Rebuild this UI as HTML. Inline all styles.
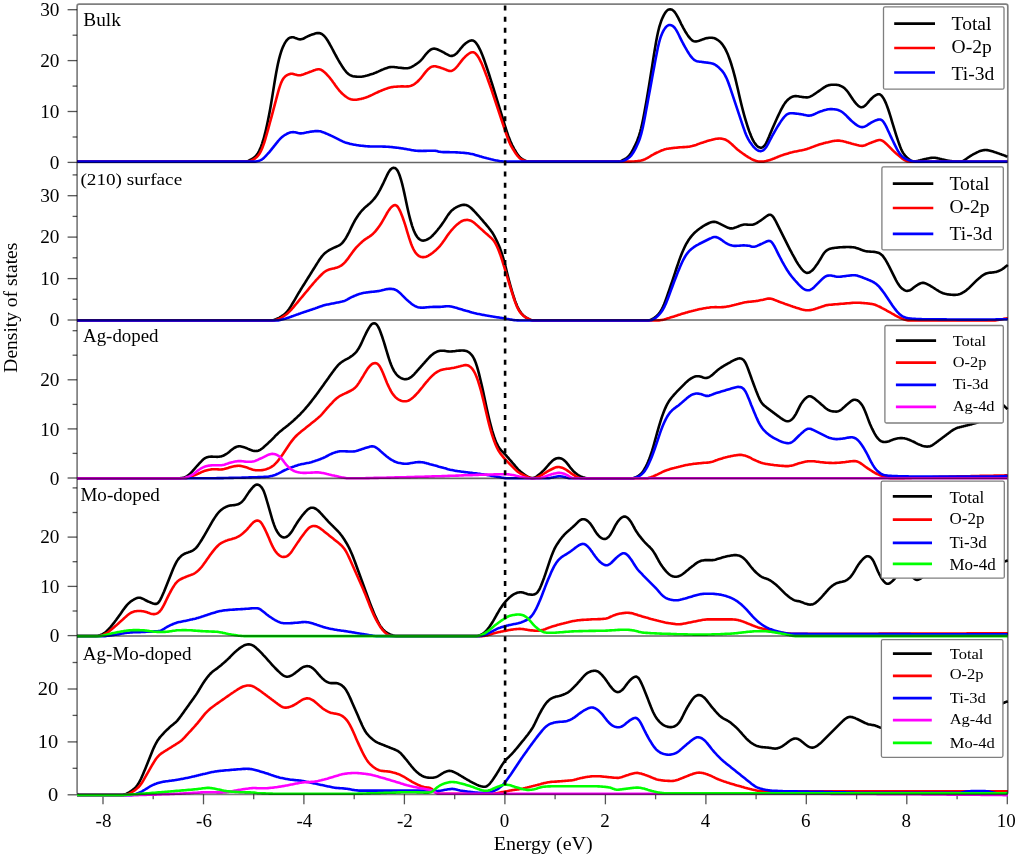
<!DOCTYPE html>
<html><head><meta charset="utf-8"><title>Density of states</title>
<style>html,body{margin:0;padding:0;background:#fff}body{width:1020px;height:859px;overflow:hidden}</style>
</head><body>
<svg width="1020" height="859" viewBox="0 0 1020 859" style="display:block">
<rect width="1020" height="859" fill="#ffffff"/>
<line x1="67.6" y1="162.4" x2="77.1" y2="162.4" stroke="#555555" stroke-width="1.3"/>
<line x1="67.6" y1="111.5" x2="77.1" y2="111.5" stroke="#555555" stroke-width="1.3"/>
<line x1="67.6" y1="60.6" x2="77.1" y2="60.6" stroke="#555555" stroke-width="1.3"/>
<line x1="67.6" y1="9.7" x2="77.1" y2="9.7" stroke="#555555" stroke-width="1.3"/>
<line x1="72.6" y1="137.0" x2="77.1" y2="137.0" stroke="#555555" stroke-width="1.3"/>
<line x1="72.6" y1="86.1" x2="77.1" y2="86.1" stroke="#555555" stroke-width="1.3"/>
<line x1="72.6" y1="35.2" x2="77.1" y2="35.2" stroke="#555555" stroke-width="1.3"/>
<text transform="translate(59.5,168.9) scale(1,0.99)" text-anchor="end" font-size="19.3" font-family="Liberation Serif, Times New Roman, serif" fill="#000">0</text>
<text transform="translate(59.5,118.0) scale(1,0.99)" text-anchor="end" font-size="19.3" font-family="Liberation Serif, Times New Roman, serif" fill="#000">10</text>
<text transform="translate(59.5,67.1) scale(1,0.99)" text-anchor="end" font-size="19.3" font-family="Liberation Serif, Times New Roman, serif" fill="#000">20</text>
<text transform="translate(59.5,16.2) scale(1,0.99)" text-anchor="end" font-size="19.3" font-family="Liberation Serif, Times New Roman, serif" fill="#000">30</text>
<line x1="67.6" y1="320.0" x2="77.1" y2="320.0" stroke="#555555" stroke-width="1.3"/>
<line x1="67.6" y1="278.6" x2="77.1" y2="278.6" stroke="#555555" stroke-width="1.3"/>
<line x1="67.6" y1="237.1" x2="77.1" y2="237.1" stroke="#555555" stroke-width="1.3"/>
<line x1="67.6" y1="195.7" x2="77.1" y2="195.7" stroke="#555555" stroke-width="1.3"/>
<line x1="72.6" y1="299.3" x2="77.1" y2="299.3" stroke="#555555" stroke-width="1.3"/>
<line x1="72.6" y1="257.8" x2="77.1" y2="257.8" stroke="#555555" stroke-width="1.3"/>
<line x1="72.6" y1="216.4" x2="77.1" y2="216.4" stroke="#555555" stroke-width="1.3"/>
<line x1="72.6" y1="174.9" x2="77.1" y2="174.9" stroke="#555555" stroke-width="1.3"/>
<text transform="translate(59.5,326.3) scale(1,0.96)" text-anchor="end" font-size="19.3" font-family="Liberation Serif, Times New Roman, serif" fill="#000">0</text>
<text transform="translate(59.5,284.9) scale(1,0.96)" text-anchor="end" font-size="19.3" font-family="Liberation Serif, Times New Roman, serif" fill="#000">10</text>
<text transform="translate(59.5,243.4) scale(1,0.96)" text-anchor="end" font-size="19.3" font-family="Liberation Serif, Times New Roman, serif" fill="#000">20</text>
<text transform="translate(59.5,202.0) scale(1,0.96)" text-anchor="end" font-size="19.3" font-family="Liberation Serif, Times New Roman, serif" fill="#000">30</text>
<line x1="67.6" y1="478.0" x2="77.1" y2="478.0" stroke="#555555" stroke-width="1.3"/>
<line x1="67.6" y1="428.9" x2="77.1" y2="428.9" stroke="#555555" stroke-width="1.3"/>
<line x1="67.6" y1="379.8" x2="77.1" y2="379.8" stroke="#555555" stroke-width="1.3"/>
<line x1="72.6" y1="453.4" x2="77.1" y2="453.4" stroke="#555555" stroke-width="1.3"/>
<line x1="72.6" y1="404.4" x2="77.1" y2="404.4" stroke="#555555" stroke-width="1.3"/>
<line x1="72.6" y1="355.2" x2="77.1" y2="355.2" stroke="#555555" stroke-width="1.3"/>
<line x1="72.6" y1="330.7" x2="77.1" y2="330.7" stroke="#555555" stroke-width="1.3"/>
<text transform="translate(59.5,484.6) scale(1,1.0)" text-anchor="end" font-size="19.3" font-family="Liberation Serif, Times New Roman, serif" fill="#000">0</text>
<text transform="translate(59.5,435.5) scale(1,1.0)" text-anchor="end" font-size="19.3" font-family="Liberation Serif, Times New Roman, serif" fill="#000">10</text>
<text transform="translate(59.5,386.4) scale(1,1.0)" text-anchor="end" font-size="19.3" font-family="Liberation Serif, Times New Roman, serif" fill="#000">20</text>
<line x1="67.6" y1="635.6" x2="77.1" y2="635.6" stroke="#555555" stroke-width="1.3"/>
<line x1="67.6" y1="586.4" x2="77.1" y2="586.4" stroke="#555555" stroke-width="1.3"/>
<line x1="67.6" y1="537.1" x2="77.1" y2="537.1" stroke="#555555" stroke-width="1.3"/>
<line x1="72.6" y1="611.0" x2="77.1" y2="611.0" stroke="#555555" stroke-width="1.3"/>
<line x1="72.6" y1="561.7" x2="77.1" y2="561.7" stroke="#555555" stroke-width="1.3"/>
<line x1="72.6" y1="512.5" x2="77.1" y2="512.5" stroke="#555555" stroke-width="1.3"/>
<line x1="72.6" y1="487.9" x2="77.1" y2="487.9" stroke="#555555" stroke-width="1.3"/>
<text transform="translate(59.5,641.9) scale(1,0.95)" text-anchor="end" font-size="19.3" font-family="Liberation Serif, Times New Roman, serif" fill="#000">0</text>
<text transform="translate(59.5,592.6) scale(1,0.95)" text-anchor="end" font-size="19.3" font-family="Liberation Serif, Times New Roman, serif" fill="#000">10</text>
<text transform="translate(59.5,543.4) scale(1,0.95)" text-anchor="end" font-size="19.3" font-family="Liberation Serif, Times New Roman, serif" fill="#000">20</text>
<line x1="67.6" y1="794.8" x2="77.1" y2="794.8" stroke="#555555" stroke-width="1.3"/>
<line x1="67.6" y1="741.9" x2="77.1" y2="741.9" stroke="#555555" stroke-width="1.3"/>
<line x1="67.6" y1="689.0" x2="77.1" y2="689.0" stroke="#555555" stroke-width="1.3"/>
<line x1="72.6" y1="768.3" x2="77.1" y2="768.3" stroke="#555555" stroke-width="1.3"/>
<line x1="72.6" y1="715.4" x2="77.1" y2="715.4" stroke="#555555" stroke-width="1.3"/>
<line x1="72.6" y1="662.5" x2="77.1" y2="662.5" stroke="#555555" stroke-width="1.3"/>
<text transform="translate(58.2,801.2) scale(1,0.97)" text-anchor="end" font-size="20.5" font-family="Liberation Serif, Times New Roman, serif" fill="#000">0</text>
<text transform="translate(58.2,748.3) scale(1,0.97)" text-anchor="end" font-size="20.5" font-family="Liberation Serif, Times New Roman, serif" fill="#000">10</text>
<text transform="translate(58.2,695.4) scale(1,0.97)" text-anchor="end" font-size="20.5" font-family="Liberation Serif, Times New Roman, serif" fill="#000">20</text>
<line x1="103.0" y1="794.3" x2="103.0" y2="804.3" stroke="#555555" stroke-width="1.3"/>
<text x="103.5" y="827.3" text-anchor="middle" font-size="19" font-family="Liberation Serif, Times New Roman, serif" fill="#000">-8</text>
<line x1="153.2" y1="794.3" x2="153.2" y2="799.3" stroke="#555555" stroke-width="1.3"/>
<line x1="203.5" y1="794.3" x2="203.5" y2="804.3" stroke="#555555" stroke-width="1.3"/>
<text x="204.0" y="827.3" text-anchor="middle" font-size="19" font-family="Liberation Serif, Times New Roman, serif" fill="#000">-6</text>
<line x1="253.7" y1="794.3" x2="253.7" y2="799.3" stroke="#555555" stroke-width="1.3"/>
<line x1="303.9" y1="794.3" x2="303.9" y2="804.3" stroke="#555555" stroke-width="1.3"/>
<text x="304.4" y="827.3" text-anchor="middle" font-size="19" font-family="Liberation Serif, Times New Roman, serif" fill="#000">-4</text>
<line x1="354.2" y1="794.3" x2="354.2" y2="799.3" stroke="#555555" stroke-width="1.3"/>
<line x1="404.4" y1="794.3" x2="404.4" y2="804.3" stroke="#555555" stroke-width="1.3"/>
<text x="404.9" y="827.3" text-anchor="middle" font-size="19" font-family="Liberation Serif, Times New Roman, serif" fill="#000">-2</text>
<line x1="454.7" y1="794.3" x2="454.7" y2="799.3" stroke="#555555" stroke-width="1.3"/>
<line x1="504.9" y1="794.3" x2="504.9" y2="804.3" stroke="#555555" stroke-width="1.3"/>
<text x="504.4" y="827.3" text-anchor="middle" font-size="19" font-family="Liberation Serif, Times New Roman, serif" fill="#000">0</text>
<line x1="555.1" y1="794.3" x2="555.1" y2="799.3" stroke="#555555" stroke-width="1.3"/>
<line x1="605.4" y1="794.3" x2="605.4" y2="804.3" stroke="#555555" stroke-width="1.3"/>
<text x="604.9" y="827.3" text-anchor="middle" font-size="19" font-family="Liberation Serif, Times New Roman, serif" fill="#000">2</text>
<line x1="655.6" y1="794.3" x2="655.6" y2="799.3" stroke="#555555" stroke-width="1.3"/>
<line x1="705.9" y1="794.3" x2="705.9" y2="804.3" stroke="#555555" stroke-width="1.3"/>
<text x="705.4" y="827.3" text-anchor="middle" font-size="19" font-family="Liberation Serif, Times New Roman, serif" fill="#000">4</text>
<line x1="756.1" y1="794.3" x2="756.1" y2="799.3" stroke="#555555" stroke-width="1.3"/>
<line x1="806.3" y1="794.3" x2="806.3" y2="804.3" stroke="#555555" stroke-width="1.3"/>
<text x="805.8" y="827.3" text-anchor="middle" font-size="19" font-family="Liberation Serif, Times New Roman, serif" fill="#000">6</text>
<line x1="856.6" y1="794.3" x2="856.6" y2="799.3" stroke="#555555" stroke-width="1.3"/>
<line x1="906.8" y1="794.3" x2="906.8" y2="804.3" stroke="#555555" stroke-width="1.3"/>
<text x="906.3" y="827.3" text-anchor="middle" font-size="19" font-family="Liberation Serif, Times New Roman, serif" fill="#000">8</text>
<line x1="957.1" y1="794.3" x2="957.1" y2="799.3" stroke="#555555" stroke-width="1.3"/>
<line x1="1007.3" y1="794.3" x2="1007.3" y2="804.3" stroke="#555555" stroke-width="1.3"/>
<text x="1015.8" y="827.3" text-anchor="end" font-size="19" font-family="Liberation Serif, Times New Roman, serif" fill="#000">10</text>
<text transform="translate(543.2,849.5) scale(1,0.93)" text-anchor="middle" font-size="20" font-family="Liberation Serif, Times New Roman, serif" fill="#000">Energy (eV)</text>
<text transform="translate(17.4,307.7) rotate(-90)" text-anchor="middle" font-size="19.5" font-family="Liberation Serif, Times New Roman, serif" fill="#000">Density of states</text>
<g fill="none" stroke-width="2.6" stroke-linejoin="round" stroke-linecap="butt">
<path d="M77.1,161.6 L78.1,161.6 L79.1,161.6 L80.1,161.6 L81.1,161.6 L82.1,161.6 L83.1,161.6 L84.1,161.6 L85.1,161.6 L86.1,161.6 L87.1,161.6 L88.1,161.6 L89.1,161.6 L90.1,161.6 L91.1,161.6 L92.1,161.6 L93.1,161.6 L94.1,161.6 L95.1,161.6 L96.1,161.6 L97.1,161.6 L98.1,161.6 L99.1,161.6 L100.1,161.6 L101.1,161.6 L102.1,161.6 L103.1,161.6 L104.1,161.6 L105.1,161.6 L106.1,161.6 L107.1,161.6 L108.1,161.6 L109.1,161.6 L110.1,161.6 L111.1,161.6 L112.1,161.6 L113.1,161.6 L114.1,161.6 L115.1,161.6 L116.1,161.6 L117.1,161.6 L118.1,161.6 L119.1,161.6 L120.1,161.6 L121.1,161.6 L122.1,161.6 L123.1,161.6 L124.1,161.6 L125.1,161.6 L126.1,161.6 L127.1,161.6 L128.1,161.6 L129.1,161.6 L130.1,161.6 L131.1,161.6 L132.1,161.6 L133.1,161.6 L134.1,161.6 L135.1,161.6 L136.1,161.6 L137.1,161.6 L138.1,161.6 L139.1,161.6 L140.1,161.6 L141.1,161.6 L142.1,161.6 L143.1,161.6 L144.1,161.6 L145.1,161.6 L146.1,161.6 L147.1,161.6 L148.1,161.6 L149.1,161.6 L150.1,161.6 L151.1,161.6 L152.1,161.6 L153.1,161.6 L154.1,161.6 L155.1,161.6 L156.1,161.6 L157.1,161.6 L158.1,161.6 L159.1,161.6 L160.1,161.6 L161.1,161.6 L162.1,161.6 L163.1,161.6 L164.1,161.6 L165.1,161.6 L166.1,161.6 L167.1,161.6 L168.1,161.6 L169.1,161.6 L170.1,161.6 L171.1,161.6 L172.1,161.6 L173.1,161.6 L174.1,161.6 L175.1,161.6 L176.1,161.6 L177.1,161.6 L178.1,161.6 L179.1,161.6 L180.1,161.6 L181.1,161.6 L182.1,161.6 L183.1,161.6 L184.1,161.6 L185.1,161.6 L186.1,161.6 L187.1,161.6 L188.1,161.6 L189.1,161.6 L190.1,161.6 L191.1,161.6 L192.1,161.6 L193.1,161.6 L194.1,161.6 L195.1,161.6 L196.1,161.6 L197.1,161.6 L198.1,161.6 L199.1,161.6 L200.1,161.6 L201.1,161.6 L202.1,161.6 L203.1,161.6 L204.1,161.6 L205.1,161.6 L206.1,161.6 L207.1,161.6 L208.1,161.6 L209.1,161.6 L210.1,161.6 L211.1,161.6 L212.1,161.6 L213.1,161.6 L214.1,161.6 L215.1,161.6 L216.1,161.6 L217.1,161.6 L218.1,161.6 L219.1,161.6 L220.1,161.6 L221.1,161.6 L222.1,161.6 L223.1,161.6 L224.1,161.6 L225.1,161.6 L226.1,161.6 L227.1,161.6 L228.1,161.6 L229.1,161.6 L230.1,161.6 L231.1,161.6 L232.1,161.6 L233.1,161.6 L234.1,161.6 L235.1,161.6 L236.1,161.6 L237.1,161.6 L238.1,161.6 L239.1,161.6 L240.1,161.6 L241.1,161.6 L242.1,161.6 L243.1,161.6 L244.1,161.6 L245.1,161.6 L246.1,161.5 L247.1,161.2 L248.1,160.9 L249.1,160.5 L250.1,160.0 L251.1,159.5 L252.1,158.9 L253.1,158.2 L254.1,157.5 L255.1,156.6 L256.1,155.6 L257.1,154.4 L258.1,152.9 L259.1,151.0 L260.1,148.9 L261.1,146.4 L262.1,143.6 L263.1,140.5 L264.1,137.0 L265.1,133.2 L266.1,129.0 L267.1,124.5 L268.1,119.8 L269.1,114.7 L270.1,109.4 L271.1,103.7 L272.1,97.6 L273.1,91.4 L274.1,85.1 L275.1,79.0 L276.1,73.2 L277.1,67.9 L278.1,63.1 L279.1,58.8 L280.1,55.1 L281.1,51.8 L282.1,49.0 L283.1,46.6 L284.1,44.5 L285.1,42.6 L286.1,41.1 L287.1,39.8 L288.1,38.8 L289.1,38.1 L290.1,37.6 L291.1,37.4 L292.1,37.3 L293.1,37.3 L294.1,37.5 L295.1,37.9 L296.1,38.2 L297.1,38.6 L298.1,39.0 L299.1,39.3 L300.1,39.4 L301.1,39.3 L302.1,39.1 L303.1,38.7 L304.1,38.3 L305.1,37.7 L306.1,37.2 L307.1,36.7 L308.1,36.1 L309.1,35.7 L310.1,35.3 L311.1,34.9 L312.1,34.5 L313.1,34.2 L314.1,33.9 L315.1,33.6 L316.1,33.3 L317.1,33.1 L318.1,33.1 L319.1,33.1 L320.1,33.3 L321.1,33.7 L322.1,34.2 L323.1,35.0 L324.1,35.9 L325.1,37.0 L326.1,38.3 L327.1,39.7 L328.1,41.3 L329.1,43.0 L330.1,44.8 L331.1,46.6 L332.1,48.5 L333.1,50.4 L334.1,52.3 L335.1,54.2 L336.1,56.0 L337.1,57.8 L338.1,59.6 L339.1,61.3 L340.1,63.0 L341.1,64.6 L342.1,66.2 L343.1,67.7 L344.1,69.2 L345.1,70.5 L346.1,71.8 L347.1,72.8 L348.1,73.7 L349.1,74.5 L350.1,75.1 L351.1,75.6 L352.1,75.9 L353.1,76.2 L354.1,76.4 L355.1,76.5 L356.1,76.6 L357.1,76.7 L358.1,76.7 L359.1,76.7 L360.1,76.7 L361.1,76.7 L362.1,76.6 L363.1,76.4 L364.1,76.2 L365.1,76.0 L366.1,75.7 L367.1,75.5 L368.1,75.2 L369.1,74.9 L370.1,74.6 L371.1,74.3 L372.1,74.0 L373.1,73.7 L374.1,73.3 L375.1,72.9 L376.1,72.5 L377.1,72.0 L378.1,71.6 L379.1,71.1 L380.1,70.7 L381.1,70.2 L382.1,69.8 L383.1,69.4 L384.1,68.9 L385.1,68.6 L386.1,68.2 L387.1,67.9 L388.1,67.6 L389.1,67.3 L390.1,67.1 L391.1,67.0 L392.1,67.0 L393.1,67.0 L394.1,67.0 L395.1,67.2 L396.1,67.3 L397.1,67.4 L398.1,67.6 L399.1,67.7 L400.1,67.8 L401.1,67.9 L402.1,68.0 L403.1,68.1 L404.1,68.2 L405.1,68.2 L406.1,68.3 L407.1,68.2 L408.1,68.1 L409.1,67.9 L410.1,67.6 L411.1,67.2 L412.1,66.7 L413.1,66.1 L414.1,65.5 L415.1,64.8 L416.1,64.2 L417.1,63.5 L418.1,62.8 L419.1,62.0 L420.1,61.1 L421.1,60.1 L422.1,59.0 L423.1,57.8 L424.1,56.5 L425.1,55.2 L426.1,54.0 L427.1,52.8 L428.1,51.8 L429.1,50.9 L430.1,50.1 L431.1,49.4 L432.1,49.0 L433.1,48.7 L434.1,48.6 L435.1,48.7 L436.1,49.0 L437.1,49.3 L438.1,49.7 L439.1,50.2 L440.1,50.6 L441.1,51.1 L442.1,51.6 L443.1,52.2 L444.1,52.7 L445.1,53.3 L446.1,53.9 L447.1,54.4 L448.1,54.9 L449.1,55.4 L450.1,55.7 L451.1,55.9 L452.1,55.9 L453.1,55.6 L454.1,55.2 L455.1,54.6 L456.1,53.8 L457.1,52.8 L458.1,51.7 L459.1,50.5 L460.1,49.2 L461.1,48.0 L462.1,46.8 L463.1,45.7 L464.1,44.7 L465.1,43.8 L466.1,43.0 L467.1,42.3 L468.1,41.7 L469.1,41.2 L470.1,40.7 L471.1,40.5 L472.1,40.4 L473.1,40.6 L474.1,41.1 L475.1,41.9 L476.1,43.0 L477.1,44.4 L478.1,46.0 L479.1,47.8 L480.1,49.8 L481.1,52.0 L482.1,54.4 L483.1,57.0 L484.1,59.7 L485.1,62.6 L486.1,65.5 L487.1,68.5 L488.1,71.5 L489.1,74.5 L490.1,77.6 L491.1,80.8 L492.1,84.0 L493.1,87.2 L494.1,90.5 L495.1,93.7 L496.1,97.0 L497.1,100.2 L498.1,103.5 L499.1,106.7 L500.1,110.0 L501.1,113.2 L502.1,116.5 L503.1,119.7 L504.1,123.0 L505.1,126.2 L506.1,129.4 L507.1,132.5 L508.1,135.4 L509.1,138.1 L510.1,140.6 L511.1,142.9 L512.1,145.0 L513.1,146.9 L514.1,148.8 L515.1,150.5 L516.1,152.2 L517.1,153.7 L518.1,155.1 L519.1,156.3 L520.1,157.4 L521.1,158.2 L522.1,159.0 L523.1,159.6 L524.1,160.2 L525.1,160.6 L526.1,161.0 L527.1,161.3 L528.1,161.4 L529.1,161.5 L530.1,161.6 L531.1,161.6 L532.1,161.6 L533.1,161.6 L534.1,161.6 L535.1,161.6 L536.1,161.6 L537.1,161.6 L538.1,161.6 L539.1,161.6 L540.1,161.6 L541.1,161.6 L542.1,161.6 L543.1,161.6 L544.1,161.6 L545.1,161.6 L546.1,161.6 L547.1,161.6 L548.1,161.6 L549.1,161.6 L550.1,161.6 L551.1,161.6 L552.1,161.6 L553.1,161.6 L554.1,161.6 L555.1,161.6 L556.1,161.6 L557.1,161.6 L558.1,161.6 L559.1,161.6 L560.1,161.6 L561.1,161.6 L562.1,161.6 L563.1,161.6 L564.1,161.6 L565.1,161.6 L566.1,161.6 L567.1,161.6 L568.1,161.6 L569.1,161.6 L570.1,161.6 L571.1,161.6 L572.1,161.6 L573.1,161.6 L574.1,161.6 L575.1,161.6 L576.1,161.6 L577.1,161.6 L578.1,161.6 L579.1,161.6 L580.1,161.6 L581.1,161.6 L582.1,161.6 L583.1,161.6 L584.1,161.6 L585.1,161.6 L586.1,161.6 L587.1,161.6 L588.1,161.6 L589.1,161.6 L590.1,161.6 L591.1,161.6 L592.1,161.6 L593.1,161.6 L594.1,161.6 L595.1,161.6 L596.1,161.6 L597.1,161.6 L598.1,161.6 L599.1,161.6 L600.1,161.6 L601.1,161.6 L602.1,161.6 L603.1,161.6 L604.1,161.6 L605.1,161.6 L606.1,161.6 L607.1,161.6 L608.1,161.6 L609.1,161.6 L610.1,161.6 L611.1,161.6 L612.1,161.6 L613.1,161.6 L614.1,161.6 L615.1,161.6 L616.1,161.6 L617.1,161.6 L618.1,161.5 L619.1,161.4 L620.1,161.2 L621.1,160.9 L622.1,160.5 L623.1,160.0 L624.1,159.5 L625.1,158.9 L626.1,158.3 L627.1,157.6 L628.1,156.7 L629.1,155.6 L630.1,154.4 L631.1,152.9 L632.1,151.2 L633.1,149.4 L634.1,147.4 L635.1,145.4 L636.1,143.2 L637.1,140.9 L638.1,138.3 L639.1,135.4 L640.1,132.1 L641.1,128.3 L642.1,124.0 L643.1,119.3 L644.1,114.1 L645.1,108.6 L646.1,102.9 L647.1,97.1 L648.1,91.1 L649.1,85.1 L650.1,79.0 L651.1,72.7 L652.1,66.4 L653.1,60.0 L654.1,53.7 L655.1,47.6 L656.1,41.8 L657.1,36.5 L658.1,31.8 L659.1,27.7 L660.1,24.3 L661.1,21.3 L662.1,18.8 L663.1,16.6 L664.1,14.6 L665.1,13.0 L666.1,11.6 L667.1,10.5 L668.1,9.8 L669.1,9.4 L670.1,9.2 L671.1,9.4 L672.1,9.8 L673.1,10.5 L674.1,11.4 L675.1,12.6 L676.1,14.1 L677.1,15.8 L678.1,17.7 L679.1,19.7 L680.1,21.7 L681.1,23.8 L682.1,25.7 L683.1,27.6 L684.1,29.4 L685.1,31.2 L686.1,32.8 L687.1,34.4 L688.1,35.9 L689.1,37.2 L690.1,38.4 L691.1,39.4 L692.1,40.3 L693.1,40.9 L694.1,41.2 L695.1,41.4 L696.1,41.5 L697.1,41.3 L698.1,41.1 L699.1,40.8 L700.1,40.4 L701.1,40.0 L702.1,39.6 L703.1,39.2 L704.1,38.9 L705.1,38.6 L706.1,38.3 L707.1,38.1 L708.1,38.0 L709.1,37.8 L710.1,37.7 L711.1,37.7 L712.1,37.7 L713.1,37.9 L714.1,38.1 L715.1,38.5 L716.1,39.0 L717.1,39.6 L718.1,40.3 L719.1,41.0 L720.1,41.9 L721.1,42.9 L722.1,44.1 L723.1,45.5 L724.1,47.0 L725.1,48.7 L726.1,50.7 L727.1,52.8 L728.1,55.1 L729.1,57.7 L730.1,60.5 L731.1,63.5 L732.1,66.8 L733.1,70.2 L734.1,73.9 L735.1,77.7 L736.1,81.8 L737.1,86.0 L738.1,90.3 L739.1,94.7 L740.1,99.0 L741.1,103.2 L742.1,107.2 L743.1,111.1 L744.1,114.8 L745.1,118.3 L746.1,121.7 L747.1,124.9 L748.1,128.0 L749.1,130.9 L750.1,133.6 L751.1,136.1 L752.1,138.3 L753.1,140.3 L754.1,142.1 L755.1,143.6 L756.1,144.9 L757.1,146.0 L758.1,146.8 L759.1,147.3 L760.1,147.6 L761.1,147.7 L762.1,147.4 L763.1,146.9 L764.1,146.0 L765.1,144.8 L766.1,143.1 L767.1,141.1 L768.1,138.9 L769.1,136.6 L770.1,134.1 L771.1,131.7 L772.1,129.3 L773.1,127.0 L774.1,124.7 L775.1,122.4 L776.1,120.2 L777.1,118.0 L778.1,115.9 L779.1,113.8 L780.1,111.7 L781.1,109.7 L782.1,107.8 L783.1,106.0 L784.1,104.4 L785.1,102.9 L786.1,101.6 L787.1,100.5 L788.1,99.5 L789.1,98.7 L790.1,97.9 L791.1,97.3 L792.1,96.8 L793.1,96.5 L794.1,96.2 L795.1,96.1 L796.1,96.1 L797.1,96.2 L798.1,96.3 L799.1,96.5 L800.1,96.7 L801.1,96.8 L802.1,97.0 L803.1,97.1 L804.1,97.2 L805.1,97.3 L806.1,97.4 L807.1,97.4 L808.1,97.2 L809.1,97.0 L810.1,96.6 L811.1,96.1 L812.1,95.6 L813.1,95.0 L814.1,94.3 L815.1,93.7 L816.1,93.0 L817.1,92.3 L818.1,91.6 L819.1,90.9 L820.1,90.2 L821.1,89.5 L822.1,88.8 L823.1,88.1 L824.1,87.4 L825.1,86.8 L826.1,86.2 L827.1,85.8 L828.1,85.4 L829.1,85.1 L830.1,85.0 L831.1,84.8 L832.1,84.8 L833.1,84.7 L834.1,84.7 L835.1,84.7 L836.1,84.8 L837.1,84.9 L838.1,85.1 L839.1,85.3 L840.1,85.7 L841.1,86.1 L842.1,86.6 L843.1,87.2 L844.1,87.9 L845.1,88.8 L846.1,89.8 L847.1,91.0 L848.1,92.3 L849.1,93.7 L850.1,95.2 L851.1,96.7 L852.1,98.2 L853.1,99.7 L854.1,101.1 L855.1,102.4 L856.1,103.6 L857.1,104.7 L858.1,105.7 L859.1,106.4 L860.1,106.9 L861.1,107.2 L862.1,107.1 L863.1,106.9 L864.1,106.3 L865.1,105.6 L866.1,104.6 L867.1,103.5 L868.1,102.3 L869.1,101.1 L870.1,100.0 L871.1,99.0 L872.1,98.0 L873.1,97.1 L874.1,96.3 L875.1,95.6 L876.1,95.0 L877.1,94.6 L878.1,94.3 L879.1,94.2 L880.1,94.5 L881.1,95.2 L882.1,96.3 L883.1,97.7 L884.1,99.4 L885.1,101.4 L886.1,103.6 L887.1,106.2 L888.1,109.0 L889.1,112.0 L890.1,115.1 L891.1,118.4 L892.1,121.8 L893.1,125.1 L894.1,128.4 L895.1,131.6 L896.1,134.8 L897.1,137.9 L898.1,140.9 L899.1,143.8 L900.1,146.5 L901.1,149.0 L902.1,151.1 L903.1,152.9 L904.1,154.4 L905.1,155.6 L906.1,156.7 L907.1,157.6 L908.1,158.5 L909.1,159.3 L910.1,160.0 L911.1,160.6 L912.1,161.1 L913.1,161.3 L914.1,161.4 L915.1,161.4 L916.1,161.2 L917.1,161.0 L918.1,160.8 L919.1,160.5 L920.1,160.3 L921.1,160.0 L922.1,159.8 L923.1,159.5 L924.1,159.3 L925.1,159.1 L926.1,158.9 L927.1,158.6 L928.1,158.4 L929.1,158.2 L930.1,158.0 L931.1,157.9 L932.1,157.8 L933.1,157.7 L934.1,157.7 L935.1,157.8 L936.1,158.0 L937.1,158.1 L938.1,158.4 L939.1,158.6 L940.1,158.9 L941.1,159.1 L942.1,159.4 L943.1,159.6 L944.1,159.8 L945.1,160.0 L946.1,160.2 L947.1,160.4 L948.1,160.6 L949.1,160.7 L950.1,160.9 L951.1,161.1 L952.1,161.3 L953.1,161.4 L954.1,161.6 L955.1,161.6 L956.1,161.6 L957.1,161.6 L958.1,161.6 L959.1,161.6 L960.1,161.6 L961.1,161.6 L962.1,161.4 L963.1,160.9 L964.1,160.3 L965.1,159.7 L966.1,159.0 L967.1,158.3 L968.1,157.5 L969.1,156.9 L970.1,156.2 L971.1,155.6 L972.1,155.0 L973.1,154.4 L974.1,153.9 L975.1,153.4 L976.1,152.8 L977.1,152.3 L978.1,151.9 L979.1,151.4 L980.1,151.0 L981.1,150.7 L982.1,150.4 L983.1,150.2 L984.1,150.1 L985.1,150.0 L986.1,150.0 L987.1,150.1 L988.1,150.3 L989.1,150.5 L990.1,150.7 L991.1,151.0 L992.1,151.3 L993.1,151.6 L994.1,151.9 L995.1,152.3 L996.1,152.6 L997.1,152.9 L998.1,153.3 L999.1,153.6 L1000.1,154.0 L1001.1,154.3 L1002.1,154.7 L1003.1,155.0 L1004.1,155.4 L1005.1,155.8 L1006.1,156.2 L1007.1,156.5 L1007.5,156.6" stroke="#000000"/>
<path d="M77.1,161.6 L78.1,161.6 L79.1,161.6 L80.1,161.6 L81.1,161.6 L82.1,161.6 L83.1,161.6 L84.1,161.6 L85.1,161.6 L86.1,161.6 L87.1,161.6 L88.1,161.6 L89.1,161.6 L90.1,161.6 L91.1,161.6 L92.1,161.6 L93.1,161.6 L94.1,161.6 L95.1,161.6 L96.1,161.6 L97.1,161.6 L98.1,161.6 L99.1,161.6 L100.1,161.6 L101.1,161.6 L102.1,161.6 L103.1,161.6 L104.1,161.6 L105.1,161.6 L106.1,161.6 L107.1,161.6 L108.1,161.6 L109.1,161.6 L110.1,161.6 L111.1,161.6 L112.1,161.6 L113.1,161.6 L114.1,161.6 L115.1,161.6 L116.1,161.6 L117.1,161.6 L118.1,161.6 L119.1,161.6 L120.1,161.6 L121.1,161.6 L122.1,161.6 L123.1,161.6 L124.1,161.6 L125.1,161.6 L126.1,161.6 L127.1,161.6 L128.1,161.6 L129.1,161.6 L130.1,161.6 L131.1,161.6 L132.1,161.6 L133.1,161.6 L134.1,161.6 L135.1,161.6 L136.1,161.6 L137.1,161.6 L138.1,161.6 L139.1,161.6 L140.1,161.6 L141.1,161.6 L142.1,161.6 L143.1,161.6 L144.1,161.6 L145.1,161.6 L146.1,161.6 L147.1,161.6 L148.1,161.6 L149.1,161.6 L150.1,161.6 L151.1,161.6 L152.1,161.6 L153.1,161.6 L154.1,161.6 L155.1,161.6 L156.1,161.6 L157.1,161.6 L158.1,161.6 L159.1,161.6 L160.1,161.6 L161.1,161.6 L162.1,161.6 L163.1,161.6 L164.1,161.6 L165.1,161.6 L166.1,161.6 L167.1,161.6 L168.1,161.6 L169.1,161.6 L170.1,161.6 L171.1,161.6 L172.1,161.6 L173.1,161.6 L174.1,161.6 L175.1,161.6 L176.1,161.6 L177.1,161.6 L178.1,161.6 L179.1,161.6 L180.1,161.6 L181.1,161.6 L182.1,161.6 L183.1,161.6 L184.1,161.6 L185.1,161.6 L186.1,161.6 L187.1,161.6 L188.1,161.6 L189.1,161.6 L190.1,161.6 L191.1,161.6 L192.1,161.6 L193.1,161.6 L194.1,161.6 L195.1,161.6 L196.1,161.6 L197.1,161.6 L198.1,161.6 L199.1,161.6 L200.1,161.6 L201.1,161.6 L202.1,161.6 L203.1,161.6 L204.1,161.6 L205.1,161.6 L206.1,161.6 L207.1,161.6 L208.1,161.6 L209.1,161.6 L210.1,161.6 L211.1,161.6 L212.1,161.6 L213.1,161.6 L214.1,161.6 L215.1,161.6 L216.1,161.6 L217.1,161.6 L218.1,161.6 L219.1,161.6 L220.1,161.6 L221.1,161.6 L222.1,161.6 L223.1,161.6 L224.1,161.6 L225.1,161.6 L226.1,161.6 L227.1,161.6 L228.1,161.6 L229.1,161.6 L230.1,161.6 L231.1,161.6 L232.1,161.6 L233.1,161.6 L234.1,161.6 L235.1,161.6 L236.1,161.6 L237.1,161.6 L238.1,161.6 L239.1,161.6 L240.1,161.6 L241.1,161.6 L242.1,161.6 L243.1,161.6 L244.1,161.6 L245.1,161.6 L246.1,161.6 L247.1,161.6 L248.1,161.5 L249.1,161.3 L250.1,161.0 L251.1,160.7 L252.1,160.2 L253.1,159.7 L254.1,159.1 L255.1,158.4 L256.1,157.6 L257.1,156.7 L258.1,155.6 L259.1,154.2 L260.1,152.6 L261.1,150.7 L262.1,148.5 L263.1,145.9 L264.1,143.1 L265.1,139.9 L266.1,136.5 L267.1,133.0 L268.1,129.4 L269.1,125.7 L270.1,122.0 L271.1,118.3 L272.1,114.6 L273.1,110.9 L274.1,107.1 L275.1,103.3 L276.1,99.6 L277.1,95.8 L278.1,92.2 L279.1,88.7 L280.1,85.6 L281.1,82.9 L282.1,80.7 L283.1,79.0 L284.1,77.6 L285.1,76.6 L286.1,75.8 L287.1,75.1 L288.1,74.6 L289.1,74.2 L290.1,73.9 L291.1,73.8 L292.1,73.8 L293.1,73.9 L294.1,74.2 L295.1,74.5 L296.1,74.7 L297.1,75.0 L298.1,75.2 L299.1,75.3 L300.1,75.2 L301.1,75.1 L302.1,74.8 L303.1,74.5 L304.1,74.1 L305.1,73.7 L306.1,73.3 L307.1,73.0 L308.1,72.6 L309.1,72.2 L310.1,71.8 L311.1,71.5 L312.1,71.1 L313.1,70.7 L314.1,70.3 L315.1,70.0 L316.1,69.6 L317.1,69.4 L318.1,69.2 L319.1,69.2 L320.1,69.4 L321.1,69.8 L322.1,70.4 L323.1,71.1 L324.1,71.9 L325.1,72.8 L326.1,73.7 L327.1,74.8 L328.1,75.9 L329.1,77.0 L330.1,78.2 L331.1,79.5 L332.1,80.8 L333.1,82.2 L334.1,83.5 L335.1,85.0 L336.1,86.4 L337.1,87.7 L338.1,89.0 L339.1,90.3 L340.1,91.4 L341.1,92.5 L342.1,93.5 L343.1,94.4 L344.1,95.3 L345.1,96.1 L346.1,96.8 L347.1,97.5 L348.1,98.1 L349.1,98.6 L350.1,99.0 L351.1,99.4 L352.1,99.6 L353.1,99.8 L354.1,99.8 L355.1,99.8 L356.1,99.7 L357.1,99.6 L358.1,99.4 L359.1,99.3 L360.1,99.1 L361.1,98.9 L362.1,98.6 L363.1,98.4 L364.1,98.1 L365.1,97.8 L366.1,97.4 L367.1,97.1 L368.1,96.7 L369.1,96.2 L370.1,95.8 L371.1,95.3 L372.1,94.9 L373.1,94.4 L374.1,93.9 L375.1,93.4 L376.1,92.9 L377.1,92.5 L378.1,92.0 L379.1,91.5 L380.1,91.1 L381.1,90.7 L382.1,90.3 L383.1,89.9 L384.1,89.5 L385.1,89.1 L386.1,88.8 L387.1,88.4 L388.1,88.1 L389.1,87.8 L390.1,87.5 L391.1,87.3 L392.1,87.1 L393.1,87.0 L394.1,86.8 L395.1,86.7 L396.1,86.7 L397.1,86.6 L398.1,86.5 L399.1,86.5 L400.1,86.5 L401.1,86.4 L402.1,86.4 L403.1,86.4 L404.1,86.5 L405.1,86.5 L406.1,86.5 L407.1,86.4 L408.1,86.4 L409.1,86.2 L410.1,86.0 L411.1,85.7 L412.1,85.3 L413.1,84.8 L414.1,84.3 L415.1,83.6 L416.1,82.8 L417.1,82.0 L418.1,81.0 L419.1,80.0 L420.1,78.9 L421.1,77.8 L422.1,76.5 L423.1,75.2 L424.1,73.9 L425.1,72.6 L426.1,71.4 L427.1,70.3 L428.1,69.2 L429.1,68.4 L430.1,67.6 L431.1,67.0 L432.1,66.6 L433.1,66.4 L434.1,66.3 L435.1,66.3 L436.1,66.4 L437.1,66.7 L438.1,67.0 L439.1,67.3 L440.1,67.6 L441.1,67.9 L442.1,68.3 L443.1,68.6 L444.1,69.0 L445.1,69.4 L446.1,69.8 L447.1,70.2 L448.1,70.6 L449.1,70.9 L450.1,71.0 L451.1,71.0 L452.1,70.7 L453.1,70.2 L454.1,69.5 L455.1,68.6 L456.1,67.6 L457.1,66.5 L458.1,65.3 L459.1,64.0 L460.1,62.7 L461.1,61.4 L462.1,60.1 L463.1,58.9 L464.1,57.8 L465.1,56.8 L466.1,55.9 L467.1,55.0 L468.1,54.2 L469.1,53.5 L470.1,52.9 L471.1,52.4 L472.1,52.2 L473.1,52.2 L474.1,52.5 L475.1,53.1 L476.1,54.1 L477.1,55.3 L478.1,56.8 L479.1,58.4 L480.1,60.3 L481.1,62.3 L482.1,64.5 L483.1,66.9 L484.1,69.4 L485.1,72.0 L486.1,74.7 L487.1,77.4 L488.1,80.2 L489.1,83.0 L490.1,85.8 L491.1,88.7 L492.1,91.7 L493.1,94.7 L494.1,97.7 L495.1,100.7 L496.1,103.7 L497.1,106.7 L498.1,109.7 L499.1,112.7 L500.1,115.7 L501.1,118.7 L502.1,121.7 L503.1,124.7 L504.1,127.7 L505.1,130.6 L506.1,133.6 L507.1,136.4 L508.1,139.1 L509.1,141.6 L510.1,143.8 L511.1,145.8 L512.1,147.6 L513.1,149.3 L514.1,150.9 L515.1,152.5 L516.1,153.9 L517.1,155.3 L518.1,156.5 L519.1,157.6 L520.1,158.5 L521.1,159.2 L522.1,159.8 L523.1,160.2 L524.1,160.6 L525.1,160.9 L526.1,161.2 L527.1,161.4 L528.1,161.5 L529.1,161.6 L530.1,161.6 L531.1,161.6 L532.1,161.6 L533.1,161.6 L534.1,161.6 L535.1,161.6 L536.1,161.6 L537.1,161.6 L538.1,161.6 L539.1,161.6 L540.1,161.6 L541.1,161.6 L542.1,161.6 L543.1,161.6 L544.1,161.6 L545.1,161.6 L546.1,161.6 L547.1,161.6 L548.1,161.6 L549.1,161.6 L550.1,161.6 L551.1,161.6 L552.1,161.6 L553.1,161.6 L554.1,161.6 L555.1,161.6 L556.1,161.6 L557.1,161.6 L558.1,161.6 L559.1,161.6 L560.1,161.6 L561.1,161.6 L562.1,161.6 L563.1,161.6 L564.1,161.6 L565.1,161.6 L566.1,161.6 L567.1,161.6 L568.1,161.6 L569.1,161.6 L570.1,161.6 L571.1,161.6 L572.1,161.6 L573.1,161.6 L574.1,161.6 L575.1,161.6 L576.1,161.6 L577.1,161.6 L578.1,161.6 L579.1,161.6 L580.1,161.6 L581.1,161.6 L582.1,161.6 L583.1,161.6 L584.1,161.6 L585.1,161.6 L586.1,161.6 L587.1,161.6 L588.1,161.6 L589.1,161.6 L590.1,161.6 L591.1,161.6 L592.1,161.6 L593.1,161.6 L594.1,161.6 L595.1,161.6 L596.1,161.6 L597.1,161.6 L598.1,161.6 L599.1,161.6 L600.1,161.6 L601.1,161.6 L602.1,161.6 L603.1,161.6 L604.1,161.6 L605.1,161.6 L606.1,161.6 L607.1,161.6 L608.1,161.6 L609.1,161.6 L610.1,161.6 L611.1,161.6 L612.1,161.6 L613.1,161.6 L614.1,161.6 L615.1,161.6 L616.1,161.6 L617.1,161.6 L618.1,161.6 L619.1,161.6 L620.1,161.6 L621.1,161.6 L622.1,161.6 L623.1,161.6 L624.1,161.6 L625.1,161.6 L626.1,161.6 L627.1,161.6 L628.1,161.6 L629.1,161.6 L630.1,161.6 L631.1,161.6 L632.1,161.5 L633.1,161.5 L634.1,161.5 L635.1,161.4 L636.1,161.3 L637.1,161.2 L638.1,161.0 L639.1,160.9 L640.1,160.7 L641.1,160.5 L642.1,160.2 L643.1,159.9 L644.1,159.6 L645.1,159.2 L646.1,158.7 L647.1,158.2 L648.1,157.6 L649.1,157.0 L650.1,156.4 L651.1,155.7 L652.1,155.1 L653.1,154.6 L654.1,154.0 L655.1,153.5 L656.1,153.0 L657.1,152.5 L658.1,152.1 L659.1,151.6 L660.1,151.2 L661.1,150.7 L662.1,150.3 L663.1,150.0 L664.1,149.6 L665.1,149.3 L666.1,149.1 L667.1,148.8 L668.1,148.7 L669.1,148.5 L670.1,148.4 L671.1,148.2 L672.1,148.1 L673.1,148.0 L674.1,147.9 L675.1,147.8 L676.1,147.7 L677.1,147.6 L678.1,147.5 L679.1,147.4 L680.1,147.3 L681.1,147.2 L682.1,147.2 L683.1,147.1 L684.1,147.1 L685.1,147.0 L686.1,147.0 L687.1,146.9 L688.1,146.8 L689.1,146.7 L690.1,146.5 L691.1,146.3 L692.1,146.1 L693.1,145.8 L694.1,145.5 L695.1,145.2 L696.1,144.9 L697.1,144.5 L698.1,144.1 L699.1,143.8 L700.1,143.4 L701.1,143.0 L702.1,142.7 L703.1,142.4 L704.1,142.1 L705.1,141.7 L706.1,141.4 L707.1,141.1 L708.1,140.8 L709.1,140.5 L710.1,140.2 L711.1,140.0 L712.1,139.7 L713.1,139.4 L714.1,139.2 L715.1,139.0 L716.1,138.8 L717.1,138.7 L718.1,138.6 L719.1,138.5 L720.1,138.5 L721.1,138.6 L722.1,138.7 L723.1,138.9 L724.1,139.2 L725.1,139.5 L726.1,140.0 L727.1,140.6 L728.1,141.2 L729.1,141.9 L730.1,142.7 L731.1,143.6 L732.1,144.5 L733.1,145.5 L734.1,146.4 L735.1,147.4 L736.1,148.3 L737.1,149.2 L738.1,150.0 L739.1,150.8 L740.1,151.6 L741.1,152.3 L742.1,153.0 L743.1,153.7 L744.1,154.4 L745.1,155.1 L746.1,155.8 L747.1,156.4 L748.1,157.1 L749.1,157.7 L750.1,158.2 L751.1,158.8 L752.1,159.3 L753.1,159.8 L754.1,160.2 L755.1,160.6 L756.1,160.9 L757.1,161.2 L758.1,161.5 L759.1,161.6 L760.1,161.6 L761.1,161.6 L762.1,161.6 L763.1,161.6 L764.1,161.6 L765.1,161.3 L766.1,161.1 L767.1,160.8 L768.1,160.5 L769.1,160.2 L770.1,159.9 L771.1,159.6 L772.1,159.2 L773.1,158.8 L774.1,158.5 L775.1,158.0 L776.1,157.6 L777.1,157.2 L778.1,156.8 L779.1,156.4 L780.1,156.0 L781.1,155.6 L782.1,155.3 L783.1,154.9 L784.1,154.6 L785.1,154.3 L786.1,154.0 L787.1,153.7 L788.1,153.4 L789.1,153.1 L790.1,152.8 L791.1,152.5 L792.1,152.3 L793.1,152.0 L794.1,151.8 L795.1,151.6 L796.1,151.4 L797.1,151.2 L798.1,151.0 L799.1,150.8 L800.1,150.6 L801.1,150.4 L802.1,150.2 L803.1,150.0 L804.1,149.8 L805.1,149.5 L806.1,149.2 L807.1,148.9 L808.1,148.6 L809.1,148.3 L810.1,147.9 L811.1,147.5 L812.1,147.1 L813.1,146.8 L814.1,146.4 L815.1,146.0 L816.1,145.6 L817.1,145.3 L818.1,144.9 L819.1,144.6 L820.1,144.3 L821.1,144.0 L822.1,143.7 L823.1,143.4 L824.1,143.1 L825.1,142.9 L826.1,142.6 L827.1,142.4 L828.1,142.2 L829.1,141.9 L830.1,141.7 L831.1,141.5 L832.1,141.3 L833.1,141.1 L834.1,140.9 L835.1,140.8 L836.1,140.7 L837.1,140.6 L838.1,140.6 L839.1,140.6 L840.1,140.7 L841.1,140.9 L842.1,141.1 L843.1,141.3 L844.1,141.6 L845.1,141.8 L846.1,142.1 L847.1,142.4 L848.1,142.6 L849.1,142.9 L850.1,143.1 L851.1,143.4 L852.1,143.7 L853.1,143.9 L854.1,144.2 L855.1,144.4 L856.1,144.7 L857.1,145.0 L858.1,145.2 L859.1,145.5 L860.1,145.7 L861.1,145.8 L862.1,145.9 L863.1,145.8 L864.1,145.5 L865.1,145.2 L866.1,144.8 L867.1,144.3 L868.1,143.9 L869.1,143.4 L870.1,143.1 L871.1,142.7 L872.1,142.3 L873.1,141.9 L874.1,141.6 L875.1,141.2 L876.1,140.8 L877.1,140.5 L878.1,140.2 L879.1,140.0 L880.1,140.0 L881.1,140.2 L882.1,140.6 L883.1,141.2 L884.1,141.9 L885.1,142.8 L886.1,143.7 L887.1,144.7 L888.1,145.7 L889.1,146.7 L890.1,147.7 L891.1,148.7 L892.1,149.7 L893.1,150.6 L894.1,151.6 L895.1,152.5 L896.1,153.4 L897.1,154.2 L898.1,155.1 L899.1,155.9 L900.1,156.8 L901.1,157.6 L902.1,158.4 L903.1,159.1 L904.1,159.8 L905.1,160.4 L906.1,160.8 L907.1,161.2 L908.1,161.4 L909.1,161.5 L910.1,161.6 L911.1,161.6 L912.1,161.6 L913.1,161.6 L914.1,161.6 L915.1,161.6 L916.1,161.6 L917.1,161.6 L918.1,161.6 L919.1,161.6 L920.1,161.6 L921.1,161.6 L922.1,161.6 L923.1,161.6 L924.1,161.6 L925.1,161.6 L926.1,161.6 L927.1,161.6 L928.1,161.6 L929.1,161.6 L930.1,161.6 L931.1,161.6 L932.1,161.6 L933.1,161.6 L934.1,161.6 L935.1,161.6 L936.1,161.6 L937.1,161.6 L938.1,161.6 L939.1,161.6 L940.1,161.6 L941.1,161.6 L942.1,161.6 L943.1,161.6 L944.1,161.6 L945.1,161.6 L946.1,161.6 L947.1,161.6 L948.1,161.6 L949.1,161.6 L950.1,161.6 L951.1,161.6 L952.1,161.6 L953.1,161.6 L954.1,161.6 L955.1,161.6 L956.1,161.6 L957.1,161.6 L958.1,161.6 L959.1,161.6 L960.1,161.6 L961.1,161.6 L962.1,161.6 L963.1,161.6 L964.1,161.6 L965.1,161.6 L966.1,161.6 L967.1,161.6 L968.1,161.6 L969.1,161.6 L970.1,161.6 L971.1,161.6 L972.1,161.6 L973.1,161.6 L974.1,161.6 L975.1,161.6 L976.1,161.6 L977.1,161.6 L978.1,161.6 L979.1,161.6 L980.1,161.6 L981.1,161.6 L982.1,161.6 L983.1,161.6 L984.1,161.6 L985.1,161.6 L986.1,161.6 L987.1,161.6 L988.1,161.6 L989.1,161.6 L990.1,161.6 L991.1,161.6 L992.1,161.6 L993.1,161.6 L994.1,161.6 L995.1,161.6 L996.1,161.6 L997.1,161.6 L998.1,161.6 L999.1,161.6 L1000.1,161.6 L1001.1,161.6 L1002.1,161.6 L1003.1,161.6 L1004.1,161.6 L1005.1,161.6 L1006.1,161.6 L1007.1,161.6 L1007.5,161.6" stroke="#ff0000"/>
<path d="M77.1,161.6 L78.1,161.6 L79.1,161.6 L80.1,161.6 L81.1,161.6 L82.1,161.6 L83.1,161.6 L84.1,161.6 L85.1,161.6 L86.1,161.6 L87.1,161.6 L88.1,161.6 L89.1,161.6 L90.1,161.6 L91.1,161.6 L92.1,161.6 L93.1,161.6 L94.1,161.6 L95.1,161.6 L96.1,161.6 L97.1,161.6 L98.1,161.6 L99.1,161.6 L100.1,161.6 L101.1,161.6 L102.1,161.6 L103.1,161.6 L104.1,161.6 L105.1,161.6 L106.1,161.6 L107.1,161.6 L108.1,161.6 L109.1,161.6 L110.1,161.6 L111.1,161.6 L112.1,161.6 L113.1,161.6 L114.1,161.6 L115.1,161.6 L116.1,161.6 L117.1,161.6 L118.1,161.6 L119.1,161.6 L120.1,161.6 L121.1,161.6 L122.1,161.6 L123.1,161.6 L124.1,161.6 L125.1,161.6 L126.1,161.6 L127.1,161.6 L128.1,161.6 L129.1,161.6 L130.1,161.6 L131.1,161.6 L132.1,161.6 L133.1,161.6 L134.1,161.6 L135.1,161.6 L136.1,161.6 L137.1,161.6 L138.1,161.6 L139.1,161.6 L140.1,161.6 L141.1,161.6 L142.1,161.6 L143.1,161.6 L144.1,161.6 L145.1,161.6 L146.1,161.6 L147.1,161.6 L148.1,161.6 L149.1,161.6 L150.1,161.6 L151.1,161.6 L152.1,161.6 L153.1,161.6 L154.1,161.6 L155.1,161.6 L156.1,161.6 L157.1,161.6 L158.1,161.6 L159.1,161.6 L160.1,161.6 L161.1,161.6 L162.1,161.6 L163.1,161.6 L164.1,161.6 L165.1,161.6 L166.1,161.6 L167.1,161.6 L168.1,161.6 L169.1,161.6 L170.1,161.6 L171.1,161.6 L172.1,161.6 L173.1,161.6 L174.1,161.6 L175.1,161.6 L176.1,161.6 L177.1,161.6 L178.1,161.6 L179.1,161.6 L180.1,161.6 L181.1,161.6 L182.1,161.6 L183.1,161.6 L184.1,161.6 L185.1,161.6 L186.1,161.6 L187.1,161.6 L188.1,161.6 L189.1,161.6 L190.1,161.6 L191.1,161.6 L192.1,161.6 L193.1,161.6 L194.1,161.6 L195.1,161.6 L196.1,161.6 L197.1,161.6 L198.1,161.6 L199.1,161.6 L200.1,161.6 L201.1,161.6 L202.1,161.6 L203.1,161.6 L204.1,161.6 L205.1,161.6 L206.1,161.6 L207.1,161.6 L208.1,161.6 L209.1,161.6 L210.1,161.6 L211.1,161.6 L212.1,161.6 L213.1,161.6 L214.1,161.6 L215.1,161.6 L216.1,161.6 L217.1,161.6 L218.1,161.6 L219.1,161.6 L220.1,161.6 L221.1,161.6 L222.1,161.6 L223.1,161.6 L224.1,161.6 L225.1,161.6 L226.1,161.6 L227.1,161.6 L228.1,161.6 L229.1,161.6 L230.1,161.6 L231.1,161.6 L232.1,161.6 L233.1,161.6 L234.1,161.6 L235.1,161.6 L236.1,161.6 L237.1,161.6 L238.1,161.6 L239.1,161.6 L240.1,161.6 L241.1,161.6 L242.1,161.6 L243.1,161.6 L244.1,161.6 L245.1,161.6 L246.1,161.6 L247.1,161.6 L248.1,161.6 L249.1,161.6 L250.1,161.6 L251.1,161.6 L252.1,161.6 L253.1,161.6 L254.1,161.6 L255.1,161.6 L256.1,161.5 L257.1,161.3 L258.1,161.1 L259.1,160.8 L260.1,160.4 L261.1,159.9 L262.1,159.3 L263.1,158.6 L264.1,157.7 L265.1,156.7 L266.1,155.6 L267.1,154.5 L268.1,153.4 L269.1,152.3 L270.1,151.1 L271.1,149.9 L272.1,148.6 L273.1,147.4 L274.1,146.1 L275.1,144.9 L276.1,143.6 L277.1,142.4 L278.1,141.1 L279.1,140.0 L280.1,138.9 L281.1,137.9 L282.1,137.0 L283.1,136.2 L284.1,135.5 L285.1,134.8 L286.1,134.3 L287.1,133.7 L288.1,133.3 L289.1,132.9 L290.1,132.5 L291.1,132.3 L292.1,132.2 L293.1,132.1 L294.1,132.2 L295.1,132.3 L296.1,132.5 L297.1,132.8 L298.1,133.1 L299.1,133.3 L300.1,133.4 L301.1,133.4 L302.1,133.3 L303.1,133.2 L304.1,133.0 L305.1,132.8 L306.1,132.6 L307.1,132.3 L308.1,132.2 L309.1,132.0 L310.1,131.8 L311.1,131.6 L312.1,131.5 L313.1,131.4 L314.1,131.2 L315.1,131.1 L316.1,131.1 L317.1,131.0 L318.1,131.1 L319.1,131.2 L320.1,131.3 L321.1,131.6 L322.1,131.9 L323.1,132.2 L324.1,132.6 L325.1,133.0 L326.1,133.5 L327.1,133.9 L328.1,134.3 L329.1,134.8 L330.1,135.2 L331.1,135.7 L332.1,136.1 L333.1,136.6 L334.1,137.1 L335.1,137.6 L336.1,138.1 L337.1,138.6 L338.1,139.1 L339.1,139.7 L340.1,140.2 L341.1,140.6 L342.1,141.1 L343.1,141.6 L344.1,142.0 L345.1,142.4 L346.1,142.7 L347.1,143.0 L348.1,143.3 L349.1,143.6 L350.1,143.9 L351.1,144.1 L352.1,144.3 L353.1,144.5 L354.1,144.7 L355.1,144.8 L356.1,145.0 L357.1,145.2 L358.1,145.3 L359.1,145.5 L360.1,145.6 L361.1,145.7 L362.1,145.8 L363.1,145.9 L364.1,146.0 L365.1,146.1 L366.1,146.2 L367.1,146.3 L368.1,146.4 L369.1,146.4 L370.1,146.5 L371.1,146.5 L372.1,146.5 L373.1,146.5 L374.1,146.5 L375.1,146.5 L376.1,146.5 L377.1,146.5 L378.1,146.5 L379.1,146.5 L380.1,146.5 L381.1,146.5 L382.1,146.5 L383.1,146.6 L384.1,146.6 L385.1,146.6 L386.1,146.7 L387.1,146.7 L388.1,146.8 L389.1,146.9 L390.1,147.0 L391.1,147.0 L392.1,147.1 L393.1,147.2 L394.1,147.4 L395.1,147.5 L396.1,147.6 L397.1,147.7 L398.1,147.8 L399.1,148.0 L400.1,148.1 L401.1,148.2 L402.1,148.4 L403.1,148.5 L404.1,148.7 L405.1,148.9 L406.1,149.0 L407.1,149.2 L408.1,149.4 L409.1,149.6 L410.1,149.8 L411.1,150.0 L412.1,150.2 L413.1,150.3 L414.1,150.5 L415.1,150.6 L416.1,150.7 L417.1,150.8 L418.1,150.9 L419.1,150.9 L420.1,150.9 L421.1,150.9 L422.1,151.0 L423.1,150.9 L424.1,150.9 L425.1,150.9 L426.1,150.9 L427.1,150.8 L428.1,150.8 L429.1,150.8 L430.1,150.7 L431.1,150.7 L432.1,150.7 L433.1,150.7 L434.1,150.7 L435.1,150.8 L436.1,150.9 L437.1,151.1 L438.1,151.4 L439.1,151.7 L440.1,151.8 L441.1,152.0 L442.1,152.0 L443.1,152.1 L444.1,152.1 L445.1,152.1 L446.1,152.1 L447.1,152.1 L448.1,152.1 L449.1,152.1 L450.1,152.2 L451.1,152.2 L452.1,152.2 L453.1,152.2 L454.1,152.3 L455.1,152.3 L456.1,152.4 L457.1,152.4 L458.1,152.5 L459.1,152.5 L460.1,152.6 L461.1,152.7 L462.1,152.7 L463.1,152.8 L464.1,152.9 L465.1,153.0 L466.1,153.1 L467.1,153.2 L468.1,153.3 L469.1,153.5 L470.1,153.7 L471.1,153.9 L472.1,154.1 L473.1,154.3 L474.1,154.6 L475.1,154.9 L476.1,155.2 L477.1,155.5 L478.1,155.8 L479.1,156.1 L480.1,156.4 L481.1,156.6 L482.1,156.9 L483.1,157.2 L484.1,157.5 L485.1,157.7 L486.1,158.0 L487.1,158.3 L488.1,158.5 L489.1,158.8 L490.1,159.0 L491.1,159.3 L492.1,159.5 L493.1,159.7 L494.1,160.0 L495.1,160.2 L496.1,160.4 L497.1,160.6 L498.1,160.8 L499.1,161.0 L500.1,161.2 L501.1,161.3 L502.1,161.4 L503.1,161.5 L504.1,161.5 L505.1,161.6 L506.1,161.6 L507.1,161.6 L508.1,161.6 L509.1,161.6 L510.1,161.6 L511.1,161.6 L512.1,161.6 L513.1,161.6 L514.1,161.6 L515.1,161.6 L516.1,161.6 L517.1,161.6 L518.1,161.6 L519.1,161.6 L520.1,161.6 L521.1,161.6 L522.1,161.6 L523.1,161.6 L524.1,161.6 L525.1,161.6 L526.1,161.6 L527.1,161.6 L528.1,161.6 L529.1,161.6 L530.1,161.6 L531.1,161.6 L532.1,161.6 L533.1,161.6 L534.1,161.6 L535.1,161.6 L536.1,161.6 L537.1,161.6 L538.1,161.6 L539.1,161.6 L540.1,161.6 L541.1,161.6 L542.1,161.6 L543.1,161.6 L544.1,161.6 L545.1,161.6 L546.1,161.6 L547.1,161.6 L548.1,161.6 L549.1,161.6 L550.1,161.6 L551.1,161.6 L552.1,161.6 L553.1,161.6 L554.1,161.6 L555.1,161.6 L556.1,161.6 L557.1,161.6 L558.1,161.6 L559.1,161.6 L560.1,161.6 L561.1,161.6 L562.1,161.6 L563.1,161.6 L564.1,161.6 L565.1,161.6 L566.1,161.6 L567.1,161.6 L568.1,161.6 L569.1,161.6 L570.1,161.6 L571.1,161.6 L572.1,161.6 L573.1,161.6 L574.1,161.6 L575.1,161.6 L576.1,161.6 L577.1,161.6 L578.1,161.6 L579.1,161.6 L580.1,161.6 L581.1,161.6 L582.1,161.6 L583.1,161.6 L584.1,161.6 L585.1,161.6 L586.1,161.6 L587.1,161.6 L588.1,161.6 L589.1,161.6 L590.1,161.6 L591.1,161.6 L592.1,161.6 L593.1,161.6 L594.1,161.6 L595.1,161.6 L596.1,161.6 L597.1,161.6 L598.1,161.6 L599.1,161.6 L600.1,161.6 L601.1,161.6 L602.1,161.6 L603.1,161.6 L604.1,161.6 L605.1,161.6 L606.1,161.6 L607.1,161.6 L608.1,161.6 L609.1,161.6 L610.1,161.6 L611.1,161.6 L612.1,161.6 L613.1,161.6 L614.1,161.6 L615.1,161.6 L616.1,161.6 L617.1,161.6 L618.1,161.6 L619.1,161.6 L620.1,161.5 L621.1,161.4 L622.1,161.2 L623.1,160.9 L624.1,160.5 L625.1,160.0 L626.1,159.5 L627.1,158.9 L628.1,158.3 L629.1,157.5 L630.1,156.7 L631.1,155.6 L632.1,154.3 L633.1,152.8 L634.1,151.2 L635.1,149.3 L636.1,147.3 L637.1,145.2 L638.1,143.0 L639.1,140.5 L640.1,137.7 L641.1,134.4 L642.1,130.5 L643.1,126.1 L644.1,121.2 L645.1,116.0 L646.1,110.6 L647.1,105.2 L648.1,99.8 L649.1,94.3 L650.1,88.9 L651.1,83.5 L652.1,78.1 L653.1,72.6 L654.1,67.2 L655.1,61.8 L656.1,56.5 L657.1,51.4 L658.1,46.6 L659.1,42.5 L660.1,38.9 L661.1,35.9 L662.1,33.5 L663.1,31.4 L664.1,29.6 L665.1,28.1 L666.1,26.9 L667.1,26.0 L668.1,25.4 L669.1,25.0 L670.1,25.0 L671.1,25.2 L672.1,25.6 L673.1,26.3 L674.1,27.2 L675.1,28.4 L676.1,29.9 L677.1,31.6 L678.1,33.5 L679.1,35.5 L680.1,37.6 L681.1,39.6 L682.1,41.6 L683.1,43.5 L684.1,45.3 L685.1,47.2 L686.1,48.9 L687.1,50.6 L688.1,52.3 L689.1,53.9 L690.1,55.4 L691.1,56.7 L692.1,57.9 L693.1,58.9 L694.1,59.8 L695.1,60.4 L696.1,60.9 L697.1,61.2 L698.1,61.4 L699.1,61.6 L700.1,61.7 L701.1,61.8 L702.1,62.0 L703.1,62.1 L704.1,62.2 L705.1,62.4 L706.1,62.5 L707.1,62.6 L708.1,62.8 L709.1,62.9 L710.1,63.1 L711.1,63.3 L712.1,63.5 L713.1,63.8 L714.1,64.2 L715.1,64.7 L716.1,65.4 L717.1,66.1 L718.1,66.9 L719.1,67.8 L720.1,68.8 L721.1,69.8 L722.1,70.9 L723.1,72.2 L724.1,73.6 L725.1,75.3 L726.1,77.3 L727.1,79.5 L728.1,82.0 L729.1,84.8 L730.1,87.7 L731.1,90.6 L732.1,93.6 L733.1,96.6 L734.1,99.6 L735.1,102.6 L736.1,105.6 L737.1,108.6 L738.1,111.6 L739.1,114.6 L740.1,117.6 L741.1,120.6 L742.1,123.6 L743.1,126.6 L744.1,129.4 L745.1,132.2 L746.1,134.7 L747.1,136.9 L748.1,138.8 L749.1,140.6 L750.1,142.2 L751.1,143.6 L752.1,145.0 L753.1,146.3 L754.1,147.4 L755.1,148.4 L756.1,149.3 L757.1,150.0 L758.1,150.6 L759.1,150.9 L760.1,151.1 L761.1,151.1 L762.1,150.8 L763.1,150.4 L764.1,149.6 L765.1,148.5 L766.1,147.2 L767.1,145.6 L768.1,143.8 L769.1,141.9 L770.1,140.0 L771.1,138.1 L772.1,136.2 L773.1,134.4 L774.1,132.6 L775.1,130.8 L776.1,129.1 L777.1,127.4 L778.1,125.8 L779.1,124.2 L780.1,122.6 L781.1,121.1 L782.1,119.7 L783.1,118.3 L784.1,117.1 L785.1,116.0 L786.1,115.1 L787.1,114.3 L788.1,113.8 L789.1,113.5 L790.1,113.3 L791.1,113.3 L792.1,113.3 L793.1,113.3 L794.1,113.4 L795.1,113.5 L796.1,113.6 L797.1,113.7 L798.1,113.8 L799.1,114.0 L800.1,114.1 L801.1,114.3 L802.1,114.4 L803.1,114.6 L804.1,114.9 L805.1,115.1 L806.1,115.3 L807.1,115.5 L808.1,115.6 L809.1,115.6 L810.1,115.5 L811.1,115.4 L812.1,115.1 L813.1,114.7 L814.1,114.3 L815.1,113.8 L816.1,113.3 L817.1,112.9 L818.1,112.4 L819.1,112.0 L820.1,111.6 L821.1,111.3 L822.1,111.0 L823.1,110.6 L824.1,110.3 L825.1,110.0 L826.1,109.8 L827.1,109.5 L828.1,109.3 L829.1,109.2 L830.1,109.1 L831.1,109.1 L832.1,109.1 L833.1,109.2 L834.1,109.3 L835.1,109.4 L836.1,109.6 L837.1,109.8 L838.1,110.1 L839.1,110.4 L840.1,110.9 L841.1,111.4 L842.1,112.0 L843.1,112.7 L844.1,113.6 L845.1,114.5 L846.1,115.4 L847.1,116.5 L848.1,117.5 L849.1,118.5 L850.1,119.5 L851.1,120.5 L852.1,121.4 L853.1,122.3 L854.1,123.1 L855.1,123.9 L856.1,124.6 L857.1,125.3 L858.1,125.9 L859.1,126.4 L860.1,126.8 L861.1,127.0 L862.1,127.1 L863.1,127.0 L864.1,126.8 L865.1,126.4 L866.1,125.9 L867.1,125.3 L868.1,124.6 L869.1,123.9 L870.1,123.3 L871.1,122.7 L872.1,122.1 L873.1,121.6 L874.1,121.1 L875.1,120.6 L876.1,120.2 L877.1,119.9 L878.1,119.6 L879.1,119.5 L880.1,119.5 L881.1,119.8 L882.1,120.4 L883.1,121.4 L884.1,122.8 L885.1,124.5 L886.1,126.4 L887.1,128.5 L888.1,130.7 L889.1,132.8 L890.1,135.0 L891.1,137.1 L892.1,139.2 L893.1,141.3 L894.1,143.4 L895.1,145.4 L896.1,147.4 L897.1,149.3 L898.1,151.1 L899.1,152.7 L900.1,154.2 L901.1,155.4 L902.1,156.4 L903.1,157.2 L904.1,157.9 L905.1,158.5 L906.1,159.0 L907.1,159.4 L908.1,159.9 L909.1,160.3 L910.1,160.6 L911.1,160.9 L912.1,161.2 L913.1,161.4 L914.1,161.5 L915.1,161.6 L916.1,161.6 L917.1,161.6 L918.1,161.6 L919.1,161.6 L920.1,161.6 L921.1,161.6 L922.1,161.6 L923.1,161.6 L924.1,161.6 L925.1,161.6 L926.1,161.6 L927.1,161.6 L928.1,161.6 L929.1,161.6 L930.1,161.6 L931.1,161.6 L932.1,161.6 L933.1,161.6 L934.1,161.6 L935.1,161.6 L936.1,161.6 L937.1,161.6 L938.1,161.6 L939.1,161.6 L940.1,161.6 L941.1,161.6 L942.1,161.6 L943.1,161.6 L944.1,161.6 L945.1,161.6 L946.1,161.6 L947.1,161.6 L948.1,161.6 L949.1,161.6 L950.1,161.6 L951.1,161.6 L952.1,161.6 L953.1,161.6 L954.1,161.6 L955.1,161.6 L956.1,161.6 L957.1,161.6 L958.1,161.6 L959.1,161.6 L960.1,161.6 L961.1,161.6 L962.1,161.6 L963.1,161.6 L964.1,161.6 L965.1,161.6 L966.1,161.6 L967.1,161.6 L968.1,161.6 L969.1,161.6 L970.1,161.6 L971.1,161.6 L972.1,161.6 L973.1,161.6 L974.1,161.6 L975.1,161.6 L976.1,161.6 L977.1,161.6 L978.1,161.6 L979.1,161.6 L980.1,161.6 L981.1,161.6 L982.1,161.6 L983.1,161.6 L984.1,161.6 L985.1,161.6 L986.1,161.6 L987.1,161.6 L988.1,161.6 L989.1,161.6 L990.1,161.6 L991.1,161.6 L992.1,161.6 L993.1,161.6 L994.1,161.6 L995.1,161.6 L996.1,161.6 L997.1,161.6 L998.1,161.6 L999.1,161.6 L1000.1,161.6 L1001.1,161.6 L1002.1,161.6 L1003.1,161.6 L1004.1,161.6 L1005.1,161.6 L1006.1,161.6 L1007.1,161.6 L1007.5,161.6" stroke="#0000ff"/>
</g>
<g fill="none" stroke-width="2.6" stroke-linejoin="round" stroke-linecap="butt">
<path d="M77.1,320.5 L78.1,320.5 L79.1,320.5 L80.1,320.5 L81.1,320.5 L82.1,320.5 L83.1,320.5 L84.1,320.5 L85.1,320.5 L86.1,320.5 L87.1,320.5 L88.1,320.5 L89.1,320.5 L90.1,320.5 L91.1,320.5 L92.1,320.5 L93.1,320.5 L94.1,320.5 L95.1,320.5 L96.1,320.5 L97.1,320.5 L98.1,320.5 L99.1,320.5 L100.1,320.5 L101.1,320.5 L102.1,320.5 L103.1,320.5 L104.1,320.5 L105.1,320.5 L106.1,320.5 L107.1,320.5 L108.1,320.5 L109.1,320.5 L110.1,320.5 L111.1,320.5 L112.1,320.5 L113.1,320.5 L114.1,320.5 L115.1,320.5 L116.1,320.5 L117.1,320.5 L118.1,320.5 L119.1,320.5 L120.1,320.5 L121.1,320.5 L122.1,320.5 L123.1,320.5 L124.1,320.5 L125.1,320.5 L126.1,320.5 L127.1,320.5 L128.1,320.5 L129.1,320.5 L130.1,320.5 L131.1,320.5 L132.1,320.5 L133.1,320.5 L134.1,320.5 L135.1,320.5 L136.1,320.5 L137.1,320.5 L138.1,320.5 L139.1,320.5 L140.1,320.5 L141.1,320.5 L142.1,320.5 L143.1,320.5 L144.1,320.5 L145.1,320.5 L146.1,320.5 L147.1,320.5 L148.1,320.5 L149.1,320.5 L150.1,320.5 L151.1,320.5 L152.1,320.5 L153.1,320.5 L154.1,320.5 L155.1,320.5 L156.1,320.5 L157.1,320.5 L158.1,320.5 L159.1,320.5 L160.1,320.5 L161.1,320.5 L162.1,320.5 L163.1,320.5 L164.1,320.5 L165.1,320.5 L166.1,320.5 L167.1,320.5 L168.1,320.5 L169.1,320.5 L170.1,320.5 L171.1,320.5 L172.1,320.5 L173.1,320.5 L174.1,320.5 L175.1,320.5 L176.1,320.5 L177.1,320.5 L178.1,320.5 L179.1,320.5 L180.1,320.5 L181.1,320.5 L182.1,320.5 L183.1,320.5 L184.1,320.5 L185.1,320.5 L186.1,320.5 L187.1,320.5 L188.1,320.5 L189.1,320.5 L190.1,320.5 L191.1,320.5 L192.1,320.5 L193.1,320.5 L194.1,320.5 L195.1,320.5 L196.1,320.5 L197.1,320.5 L198.1,320.5 L199.1,320.5 L200.1,320.5 L201.1,320.5 L202.1,320.5 L203.1,320.5 L204.1,320.5 L205.1,320.5 L206.1,320.5 L207.1,320.5 L208.1,320.5 L209.1,320.5 L210.1,320.5 L211.1,320.5 L212.1,320.5 L213.1,320.5 L214.1,320.5 L215.1,320.5 L216.1,320.5 L217.1,320.5 L218.1,320.5 L219.1,320.5 L220.1,320.5 L221.1,320.5 L222.1,320.5 L223.1,320.5 L224.1,320.5 L225.1,320.5 L226.1,320.5 L227.1,320.5 L228.1,320.5 L229.1,320.5 L230.1,320.5 L231.1,320.5 L232.1,320.5 L233.1,320.5 L234.1,320.5 L235.1,320.5 L236.1,320.5 L237.1,320.5 L238.1,320.5 L239.1,320.5 L240.1,320.5 L241.1,320.5 L242.1,320.5 L243.1,320.5 L244.1,320.5 L245.1,320.5 L246.1,320.5 L247.1,320.5 L248.1,320.5 L249.1,320.5 L250.1,320.5 L251.1,320.5 L252.1,320.5 L253.1,320.5 L254.1,320.5 L255.1,320.5 L256.1,320.5 L257.1,320.5 L258.1,320.5 L259.1,320.5 L260.1,320.5 L261.1,320.5 L262.1,320.5 L263.1,320.5 L264.1,320.5 L265.1,320.5 L266.1,320.5 L267.1,320.5 L268.1,320.5 L269.1,320.5 L270.1,320.5 L271.1,320.5 L272.1,320.4 L273.1,320.2 L274.1,319.9 L275.1,319.6 L276.1,319.2 L277.1,318.7 L278.1,318.3 L279.1,317.8 L280.1,317.2 L281.1,316.6 L282.1,315.9 L283.1,315.2 L284.1,314.5 L285.1,313.6 L286.1,312.7 L287.1,311.6 L288.1,310.4 L289.1,309.0 L290.1,307.5 L291.1,305.9 L292.1,304.2 L293.1,302.5 L294.1,300.8 L295.1,299.1 L296.1,297.3 L297.1,295.6 L298.1,293.9 L299.1,292.3 L300.1,290.7 L301.1,289.0 L302.1,287.4 L303.1,285.8 L304.1,284.2 L305.1,282.6 L306.1,281.0 L307.1,279.4 L308.1,277.8 L309.1,276.2 L310.1,274.6 L311.1,273.0 L312.1,271.4 L313.1,269.8 L314.1,268.2 L315.1,266.6 L316.1,265.0 L317.1,263.4 L318.1,261.9 L319.1,260.3 L320.1,258.8 L321.1,257.4 L322.1,256.1 L323.1,255.0 L324.1,253.9 L325.1,253.0 L326.1,252.2 L327.1,251.5 L328.1,250.8 L329.1,250.2 L330.1,249.6 L331.1,249.1 L332.1,248.6 L333.1,248.1 L334.1,247.6 L335.1,247.2 L336.1,246.8 L337.1,246.3 L338.1,245.9 L339.1,245.4 L340.1,244.8 L341.1,244.0 L342.1,243.1 L343.1,241.9 L344.1,240.6 L345.1,239.2 L346.1,237.6 L347.1,235.8 L348.1,234.0 L349.1,232.1 L350.1,230.0 L351.1,227.9 L352.1,225.9 L353.1,223.9 L354.1,222.0 L355.1,220.2 L356.1,218.5 L357.1,217.0 L358.1,215.5 L359.1,214.1 L360.1,212.8 L361.1,211.5 L362.1,210.4 L363.1,209.3 L364.1,208.3 L365.1,207.4 L366.1,206.5 L367.1,205.7 L368.1,204.8 L369.1,204.0 L370.1,203.1 L371.1,202.1 L372.1,201.1 L373.1,200.0 L374.1,198.9 L375.1,197.6 L376.1,196.3 L377.1,194.8 L378.1,193.2 L379.1,191.4 L380.1,189.6 L381.1,187.7 L382.1,185.7 L383.1,183.7 L384.1,181.5 L385.1,179.4 L386.1,177.2 L387.1,175.1 L388.1,173.1 L389.1,171.4 L390.1,170.0 L391.1,169.0 L392.1,168.3 L393.1,167.9 L394.1,167.9 L395.1,168.1 L396.1,168.8 L397.1,170.0 L398.1,171.7 L399.1,174.0 L400.1,176.8 L401.1,180.0 L402.1,183.7 L403.1,187.7 L404.1,192.1 L405.1,196.7 L406.1,201.5 L407.1,206.2 L408.1,210.8 L409.1,215.0 L410.1,218.9 L411.1,222.5 L412.1,225.8 L413.1,228.7 L414.1,231.2 L415.1,233.4 L416.1,235.3 L417.1,236.8 L418.1,238.0 L419.1,239.0 L420.1,239.7 L421.1,240.2 L422.1,240.5 L423.1,240.6 L424.1,240.5 L425.1,240.2 L426.1,239.9 L427.1,239.5 L428.1,239.0 L429.1,238.4 L430.1,237.7 L431.1,236.9 L432.1,236.0 L433.1,235.0 L434.1,233.9 L435.1,232.8 L436.1,231.7 L437.1,230.5 L438.1,229.2 L439.1,228.0 L440.1,226.7 L441.1,225.4 L442.1,224.0 L443.1,222.6 L444.1,221.1 L445.1,219.5 L446.1,218.0 L447.1,216.4 L448.1,214.9 L449.1,213.6 L450.1,212.3 L451.1,211.2 L452.1,210.2 L453.1,209.4 L454.1,208.6 L455.1,208.0 L456.1,207.4 L457.1,206.9 L458.1,206.4 L459.1,206.0 L460.1,205.6 L461.1,205.3 L462.1,205.0 L463.1,204.9 L464.1,204.8 L465.1,204.9 L466.1,205.1 L467.1,205.4 L468.1,205.9 L469.1,206.5 L470.1,207.2 L471.1,208.0 L472.1,209.0 L473.1,210.0 L474.1,211.0 L475.1,212.1 L476.1,213.2 L477.1,214.3 L478.1,215.4 L479.1,216.5 L480.1,217.7 L481.1,218.8 L482.1,219.9 L483.1,221.1 L484.1,222.3 L485.1,223.4 L486.1,224.6 L487.1,225.8 L488.1,227.0 L489.1,228.3 L490.1,229.5 L491.1,230.9 L492.1,232.3 L493.1,233.9 L494.1,235.6 L495.1,237.5 L496.1,239.5 L497.1,241.6 L498.1,243.8 L499.1,246.1 L500.1,248.6 L501.1,251.4 L502.1,254.3 L503.1,257.6 L504.1,261.1 L505.1,264.9 L506.1,268.9 L507.1,273.0 L508.1,277.0 L509.1,280.8 L510.1,284.6 L511.1,288.1 L512.1,291.6 L513.1,294.9 L514.1,298.0 L515.1,300.9 L516.1,303.6 L517.1,306.0 L518.1,308.2 L519.1,310.0 L520.1,311.6 L521.1,313.0 L522.1,314.2 L523.1,315.2 L524.1,316.1 L525.1,316.9 L526.1,317.6 L527.1,318.2 L528.1,318.7 L529.1,319.2 L530.1,319.7 L531.1,320.0 L532.1,320.2 L533.1,320.4 L534.1,320.5 L535.1,320.5 L536.1,320.5 L537.1,320.5 L538.1,320.5 L539.1,320.5 L540.1,320.5 L541.1,320.5 L542.1,320.5 L543.1,320.5 L544.1,320.5 L545.1,320.5 L546.1,320.5 L547.1,320.5 L548.1,320.5 L549.1,320.5 L550.1,320.5 L551.1,320.5 L552.1,320.5 L553.1,320.5 L554.1,320.5 L555.1,320.5 L556.1,320.5 L557.1,320.5 L558.1,320.5 L559.1,320.5 L560.1,320.5 L561.1,320.5 L562.1,320.5 L563.1,320.5 L564.1,320.5 L565.1,320.5 L566.1,320.5 L567.1,320.5 L568.1,320.5 L569.1,320.5 L570.1,320.5 L571.1,320.5 L572.1,320.5 L573.1,320.5 L574.1,320.5 L575.1,320.5 L576.1,320.5 L577.1,320.5 L578.1,320.5 L579.1,320.5 L580.1,320.5 L581.1,320.5 L582.1,320.5 L583.1,320.5 L584.1,320.5 L585.1,320.5 L586.1,320.5 L587.1,320.5 L588.1,320.5 L589.1,320.5 L590.1,320.5 L591.1,320.5 L592.1,320.5 L593.1,320.5 L594.1,320.5 L595.1,320.5 L596.1,320.5 L597.1,320.5 L598.1,320.5 L599.1,320.5 L600.1,320.5 L601.1,320.5 L602.1,320.5 L603.1,320.5 L604.1,320.5 L605.1,320.5 L606.1,320.5 L607.1,320.5 L608.1,320.5 L609.1,320.5 L610.1,320.5 L611.1,320.5 L612.1,320.5 L613.1,320.5 L614.1,320.5 L615.1,320.5 L616.1,320.5 L617.1,320.5 L618.1,320.5 L619.1,320.5 L620.1,320.5 L621.1,320.5 L622.1,320.5 L623.1,320.5 L624.1,320.5 L625.1,320.5 L626.1,320.5 L627.1,320.5 L628.1,320.5 L629.1,320.5 L630.1,320.5 L631.1,320.5 L632.1,320.5 L633.1,320.5 L634.1,320.5 L635.1,320.5 L636.1,320.5 L637.1,320.5 L638.1,320.5 L639.1,320.5 L640.1,320.5 L641.1,320.5 L642.1,320.5 L643.1,320.5 L644.1,320.5 L645.1,320.5 L646.1,320.5 L647.1,320.5 L648.1,320.4 L649.1,320.2 L650.1,320.0 L651.1,319.6 L652.1,319.2 L653.1,318.6 L654.1,318.0 L655.1,317.2 L656.1,316.4 L657.1,315.6 L658.1,314.5 L659.1,313.4 L660.1,312.0 L661.1,310.5 L662.1,308.6 L663.1,306.5 L664.1,304.2 L665.1,301.6 L666.1,298.9 L667.1,296.1 L668.1,293.3 L669.1,290.4 L670.1,287.5 L671.1,284.5 L672.1,281.6 L673.1,278.6 L674.1,275.6 L675.1,272.6 L676.1,269.5 L677.1,266.5 L678.1,263.6 L679.1,260.7 L680.1,257.9 L681.1,255.2 L682.1,252.7 L683.1,250.4 L684.1,248.2 L685.1,246.1 L686.1,244.2 L687.1,242.5 L688.1,240.8 L689.1,239.3 L690.1,237.9 L691.1,236.6 L692.1,235.4 L693.1,234.3 L694.1,233.2 L695.1,232.3 L696.1,231.4 L697.1,230.6 L698.1,229.8 L699.1,229.0 L700.1,228.3 L701.1,227.6 L702.1,226.9 L703.1,226.2 L704.1,225.6 L705.1,225.0 L706.1,224.5 L707.1,224.0 L708.1,223.5 L709.1,223.0 L710.1,222.6 L711.1,222.3 L712.1,222.0 L713.1,221.9 L714.1,221.8 L715.1,221.9 L716.1,222.1 L717.1,222.5 L718.1,222.9 L719.1,223.4 L720.1,223.8 L721.1,224.3 L722.1,224.8 L723.1,225.3 L724.1,225.8 L725.1,226.3 L726.1,226.8 L727.1,227.3 L728.1,227.8 L729.1,228.1 L730.1,228.4 L731.1,228.4 L732.1,228.4 L733.1,228.2 L734.1,227.9 L735.1,227.6 L736.1,227.3 L737.1,226.9 L738.1,226.5 L739.1,226.0 L740.1,225.6 L741.1,225.2 L742.1,224.9 L743.1,224.7 L744.1,224.5 L745.1,224.5 L746.1,224.5 L747.1,224.6 L748.1,224.7 L749.1,224.7 L750.1,224.8 L751.1,224.8 L752.1,224.7 L753.1,224.6 L754.1,224.3 L755.1,223.8 L756.1,223.4 L757.1,222.8 L758.1,222.2 L759.1,221.5 L760.1,220.9 L761.1,220.2 L762.1,219.5 L763.1,218.8 L764.1,218.0 L765.1,217.2 L766.1,216.5 L767.1,215.8 L768.1,215.2 L769.1,214.8 L770.1,214.7 L771.1,215.0 L772.1,215.7 L773.1,216.8 L774.1,218.3 L775.1,220.0 L776.1,221.9 L777.1,223.9 L778.1,225.9 L779.1,227.9 L780.1,229.9 L781.1,231.9 L782.1,233.9 L783.1,235.9 L784.1,237.9 L785.1,239.9 L786.1,241.9 L787.1,243.9 L788.1,245.9 L789.1,247.8 L790.1,249.8 L791.1,251.7 L792.1,253.6 L793.1,255.4 L794.1,257.2 L795.1,259.0 L796.1,260.8 L797.1,262.5 L798.1,264.1 L799.1,265.6 L800.1,267.0 L801.1,268.3 L802.1,269.5 L803.1,270.6 L804.1,271.5 L805.1,272.2 L806.1,272.7 L807.1,272.9 L808.1,272.8 L809.1,272.5 L810.1,272.0 L811.1,271.3 L812.1,270.5 L813.1,269.5 L814.1,268.3 L815.1,267.0 L816.1,265.6 L817.1,264.2 L818.1,262.7 L819.1,261.1 L820.1,259.5 L821.1,257.8 L822.1,256.1 L823.1,254.4 L824.1,253.0 L825.1,251.9 L826.1,250.9 L827.1,250.2 L828.1,249.6 L829.1,249.1 L830.1,248.8 L831.1,248.5 L832.1,248.3 L833.1,248.1 L834.1,248.0 L835.1,247.8 L836.1,247.7 L837.1,247.6 L838.1,247.5 L839.1,247.4 L840.1,247.3 L841.1,247.2 L842.1,247.2 L843.1,247.1 L844.1,247.1 L845.1,247.1 L846.1,247.0 L847.1,247.0 L848.1,247.0 L849.1,247.0 L850.1,247.1 L851.1,247.1 L852.1,247.2 L853.1,247.3 L854.1,247.4 L855.1,247.6 L856.1,247.9 L857.1,248.2 L858.1,248.5 L859.1,248.9 L860.1,249.3 L861.1,249.7 L862.1,250.1 L863.1,250.4 L864.1,250.7 L865.1,251.0 L866.1,251.2 L867.1,251.4 L868.1,251.5 L869.1,251.5 L870.1,251.6 L871.1,251.7 L872.1,251.7 L873.1,251.8 L874.1,251.9 L875.1,252.0 L876.1,252.2 L877.1,252.5 L878.1,252.8 L879.1,253.1 L880.1,253.7 L881.1,254.4 L882.1,255.2 L883.1,256.4 L884.1,257.7 L885.1,259.2 L886.1,260.9 L887.1,262.7 L888.1,264.5 L889.1,266.4 L890.1,268.4 L891.1,270.3 L892.1,272.3 L893.1,274.3 L894.1,276.4 L895.1,278.4 L896.1,280.3 L897.1,282.1 L898.1,283.8 L899.1,285.3 L900.1,286.6 L901.1,287.7 L902.1,288.6 L903.1,289.3 L904.1,290.0 L905.1,290.4 L906.1,290.7 L907.1,290.9 L908.1,290.8 L909.1,290.6 L910.1,290.2 L911.1,289.6 L912.1,288.9 L913.1,288.1 L914.1,287.3 L915.1,286.5 L916.1,285.8 L917.1,285.2 L918.1,284.5 L919.1,284.0 L920.1,283.5 L921.1,283.1 L922.1,282.9 L923.1,282.8 L924.1,282.9 L925.1,283.2 L926.1,283.6 L927.1,284.1 L928.1,284.6 L929.1,285.1 L930.1,285.7 L931.1,286.3 L932.1,286.9 L933.1,287.5 L934.1,288.2 L935.1,288.8 L936.1,289.5 L937.1,290.1 L938.1,290.7 L939.1,291.3 L940.1,291.8 L941.1,292.3 L942.1,292.8 L943.1,293.2 L944.1,293.5 L945.1,293.8 L946.1,294.0 L947.1,294.2 L948.1,294.4 L949.1,294.5 L950.1,294.6 L951.1,294.8 L952.1,294.8 L953.1,294.9 L954.1,294.9 L955.1,294.9 L956.1,294.8 L957.1,294.7 L958.1,294.5 L959.1,294.2 L960.1,293.9 L961.1,293.5 L962.1,293.0 L963.1,292.4 L964.1,291.8 L965.1,291.2 L966.1,290.4 L967.1,289.6 L968.1,288.8 L969.1,287.9 L970.1,286.9 L971.1,285.9 L972.1,284.9 L973.1,283.9 L974.1,282.9 L975.1,281.9 L976.1,280.9 L977.1,280.0 L978.1,279.1 L979.1,278.2 L980.1,277.4 L981.1,276.6 L982.1,275.8 L983.1,275.1 L984.1,274.5 L985.1,274.0 L986.1,273.5 L987.1,273.2 L988.1,272.9 L989.1,272.7 L990.1,272.6 L991.1,272.6 L992.1,272.5 L993.1,272.4 L994.1,272.3 L995.1,272.1 L996.1,271.9 L997.1,271.6 L998.1,271.2 L999.1,270.8 L1000.1,270.3 L1001.1,269.8 L1002.1,269.3 L1003.1,268.6 L1004.1,267.9 L1005.1,267.1 L1006.1,266.3 L1007.1,265.5 L1007.8,264.9" stroke="#000000"/>
<path d="M77.1,320.5 L78.1,320.5 L79.1,320.5 L80.1,320.5 L81.1,320.5 L82.1,320.5 L83.1,320.5 L84.1,320.5 L85.1,320.5 L86.1,320.5 L87.1,320.5 L88.1,320.5 L89.1,320.5 L90.1,320.5 L91.1,320.5 L92.1,320.5 L93.1,320.5 L94.1,320.5 L95.1,320.5 L96.1,320.5 L97.1,320.5 L98.1,320.5 L99.1,320.5 L100.1,320.5 L101.1,320.5 L102.1,320.5 L103.1,320.5 L104.1,320.5 L105.1,320.5 L106.1,320.5 L107.1,320.5 L108.1,320.5 L109.1,320.5 L110.1,320.5 L111.1,320.5 L112.1,320.5 L113.1,320.5 L114.1,320.5 L115.1,320.5 L116.1,320.5 L117.1,320.5 L118.1,320.5 L119.1,320.5 L120.1,320.5 L121.1,320.5 L122.1,320.5 L123.1,320.5 L124.1,320.5 L125.1,320.5 L126.1,320.5 L127.1,320.5 L128.1,320.5 L129.1,320.5 L130.1,320.5 L131.1,320.5 L132.1,320.5 L133.1,320.5 L134.1,320.5 L135.1,320.5 L136.1,320.5 L137.1,320.5 L138.1,320.5 L139.1,320.5 L140.1,320.5 L141.1,320.5 L142.1,320.5 L143.1,320.5 L144.1,320.5 L145.1,320.5 L146.1,320.5 L147.1,320.5 L148.1,320.5 L149.1,320.5 L150.1,320.5 L151.1,320.5 L152.1,320.5 L153.1,320.5 L154.1,320.5 L155.1,320.5 L156.1,320.5 L157.1,320.5 L158.1,320.5 L159.1,320.5 L160.1,320.5 L161.1,320.5 L162.1,320.5 L163.1,320.5 L164.1,320.5 L165.1,320.5 L166.1,320.5 L167.1,320.5 L168.1,320.5 L169.1,320.5 L170.1,320.5 L171.1,320.5 L172.1,320.5 L173.1,320.5 L174.1,320.5 L175.1,320.5 L176.1,320.5 L177.1,320.5 L178.1,320.5 L179.1,320.5 L180.1,320.5 L181.1,320.5 L182.1,320.5 L183.1,320.5 L184.1,320.5 L185.1,320.5 L186.1,320.5 L187.1,320.5 L188.1,320.5 L189.1,320.5 L190.1,320.5 L191.1,320.5 L192.1,320.5 L193.1,320.5 L194.1,320.5 L195.1,320.5 L196.1,320.5 L197.1,320.5 L198.1,320.5 L199.1,320.5 L200.1,320.5 L201.1,320.5 L202.1,320.5 L203.1,320.5 L204.1,320.5 L205.1,320.5 L206.1,320.5 L207.1,320.5 L208.1,320.5 L209.1,320.5 L210.1,320.5 L211.1,320.5 L212.1,320.5 L213.1,320.5 L214.1,320.5 L215.1,320.5 L216.1,320.5 L217.1,320.5 L218.1,320.5 L219.1,320.5 L220.1,320.5 L221.1,320.5 L222.1,320.5 L223.1,320.5 L224.1,320.5 L225.1,320.5 L226.1,320.5 L227.1,320.5 L228.1,320.5 L229.1,320.5 L230.1,320.5 L231.1,320.5 L232.1,320.5 L233.1,320.5 L234.1,320.5 L235.1,320.5 L236.1,320.5 L237.1,320.5 L238.1,320.5 L239.1,320.5 L240.1,320.5 L241.1,320.5 L242.1,320.5 L243.1,320.5 L244.1,320.5 L245.1,320.5 L246.1,320.5 L247.1,320.5 L248.1,320.5 L249.1,320.5 L250.1,320.5 L251.1,320.5 L252.1,320.5 L253.1,320.5 L254.1,320.5 L255.1,320.5 L256.1,320.5 L257.1,320.5 L258.1,320.5 L259.1,320.5 L260.1,320.5 L261.1,320.5 L262.1,320.5 L263.1,320.5 L264.1,320.5 L265.1,320.5 L266.1,320.5 L267.1,320.5 L268.1,320.5 L269.1,320.5 L270.1,320.5 L271.1,320.5 L272.1,320.5 L273.1,320.5 L274.1,320.4 L275.1,320.2 L276.1,319.9 L277.1,319.5 L278.1,319.2 L279.1,318.8 L280.1,318.3 L281.1,317.8 L282.1,317.2 L283.1,316.6 L284.1,315.9 L285.1,315.2 L286.1,314.5 L287.1,313.7 L288.1,312.8 L289.1,311.9 L290.1,310.9 L291.1,309.9 L292.1,308.7 L293.1,307.6 L294.1,306.4 L295.1,305.2 L296.1,304.0 L297.1,302.8 L298.1,301.6 L299.1,300.4 L300.1,299.2 L301.1,298.0 L302.1,296.8 L303.1,295.6 L304.1,294.4 L305.1,293.2 L306.1,292.0 L307.1,290.8 L308.1,289.6 L309.1,288.4 L310.1,287.2 L311.1,286.0 L312.1,284.8 L313.1,283.6 L314.1,282.5 L315.1,281.4 L316.1,280.2 L317.1,279.2 L318.1,278.1 L319.1,277.0 L320.1,276.0 L321.1,275.0 L322.1,274.0 L323.1,273.1 L324.1,272.3 L325.1,271.5 L326.1,270.9 L327.1,270.4 L328.1,269.9 L329.1,269.6 L330.1,269.3 L331.1,269.0 L332.1,268.8 L333.1,268.6 L334.1,268.4 L335.1,268.1 L336.1,267.8 L337.1,267.5 L338.1,267.1 L339.1,266.7 L340.1,266.2 L341.1,265.6 L342.1,264.9 L343.1,264.1 L344.1,263.1 L345.1,262.1 L346.1,260.9 L347.1,259.7 L348.1,258.4 L349.1,257.0 L350.1,255.6 L351.1,254.2 L352.1,252.8 L353.1,251.4 L354.1,250.1 L355.1,248.9 L356.1,247.7 L357.1,246.6 L358.1,245.6 L359.1,244.6 L360.1,243.6 L361.1,242.7 L362.1,241.8 L363.1,240.9 L364.1,240.1 L365.1,239.4 L366.1,238.7 L367.1,238.1 L368.1,237.4 L369.1,236.8 L370.1,236.1 L371.1,235.4 L372.1,234.6 L373.1,233.7 L374.1,232.7 L375.1,231.6 L376.1,230.4 L377.1,229.2 L378.1,227.8 L379.1,226.4 L380.1,225.0 L381.1,223.5 L382.1,221.8 L383.1,220.1 L384.1,218.4 L385.1,216.6 L386.1,214.8 L387.1,213.0 L388.1,211.4 L389.1,209.9 L390.1,208.5 L391.1,207.4 L392.1,206.5 L393.1,205.7 L394.1,205.3 L395.1,205.1 L396.1,205.4 L397.1,206.1 L398.1,207.4 L399.1,209.1 L400.1,211.1 L401.1,213.4 L402.1,215.9 L403.1,218.7 L404.1,221.6 L405.1,224.7 L406.1,227.9 L407.1,231.3 L408.1,234.6 L409.1,237.9 L410.1,240.9 L411.1,243.7 L412.1,246.2 L413.1,248.5 L414.1,250.4 L415.1,252.0 L416.1,253.4 L417.1,254.5 L418.1,255.4 L419.1,256.1 L420.1,256.6 L421.1,256.9 L422.1,257.1 L423.1,257.1 L424.1,257.1 L425.1,256.9 L426.1,256.7 L427.1,256.3 L428.1,255.8 L429.1,255.2 L430.1,254.6 L431.1,253.9 L432.1,253.2 L433.1,252.4 L434.1,251.6 L435.1,250.7 L436.1,249.9 L437.1,248.9 L438.1,248.0 L439.1,246.9 L440.1,245.8 L441.1,244.5 L442.1,243.2 L443.1,241.8 L444.1,240.4 L445.1,239.0 L446.1,237.5 L447.1,236.0 L448.1,234.6 L449.1,233.3 L450.1,232.0 L451.1,230.7 L452.1,229.6 L453.1,228.5 L454.1,227.4 L455.1,226.4 L456.1,225.4 L457.1,224.5 L458.1,223.7 L459.1,222.9 L460.1,222.2 L461.1,221.5 L462.1,221.0 L463.1,220.6 L464.1,220.3 L465.1,220.1 L466.1,220.0 L467.1,219.9 L468.1,220.0 L469.1,220.2 L470.1,220.5 L471.1,220.8 L472.1,221.4 L473.1,222.0 L474.1,222.8 L475.1,223.6 L476.1,224.5 L477.1,225.4 L478.1,226.3 L479.1,227.2 L480.1,228.1 L481.1,229.0 L482.1,229.9 L483.1,230.8 L484.1,231.7 L485.1,232.6 L486.1,233.5 L487.1,234.3 L488.1,235.2 L489.1,236.1 L490.1,237.0 L491.1,237.9 L492.1,238.9 L493.1,240.0 L494.1,241.3 L495.1,242.8 L496.1,244.6 L497.1,246.7 L498.1,249.0 L499.1,251.5 L500.1,254.2 L501.1,257.1 L502.1,260.1 L503.1,263.3 L504.1,266.5 L505.1,269.8 L506.1,273.1 L507.1,276.5 L508.1,279.8 L509.1,283.1 L510.1,286.4 L511.1,289.6 L512.1,292.8 L513.1,295.9 L514.1,299.0 L515.1,301.9 L516.1,304.5 L517.1,306.9 L518.1,309.0 L519.1,310.7 L520.1,312.2 L521.1,313.4 L522.1,314.5 L523.1,315.4 L524.1,316.2 L525.1,317.0 L526.1,317.6 L527.1,318.2 L528.1,318.7 L529.1,319.2 L530.1,319.6 L531.1,320.0 L532.1,320.2 L533.1,320.4 L534.1,320.5 L535.1,320.5 L536.1,320.5 L537.1,320.5 L538.1,320.5 L539.1,320.5 L540.1,320.5 L541.1,320.5 L542.1,320.5 L543.1,320.5 L544.1,320.5 L545.1,320.5 L546.1,320.5 L547.1,320.5 L548.1,320.5 L549.1,320.5 L550.1,320.5 L551.1,320.5 L552.1,320.5 L553.1,320.5 L554.1,320.5 L555.1,320.5 L556.1,320.5 L557.1,320.5 L558.1,320.5 L559.1,320.5 L560.1,320.5 L561.1,320.5 L562.1,320.5 L563.1,320.5 L564.1,320.5 L565.1,320.5 L566.1,320.5 L567.1,320.5 L568.1,320.5 L569.1,320.5 L570.1,320.5 L571.1,320.5 L572.1,320.5 L573.1,320.5 L574.1,320.5 L575.1,320.5 L576.1,320.5 L577.1,320.5 L578.1,320.5 L579.1,320.5 L580.1,320.5 L581.1,320.5 L582.1,320.5 L583.1,320.5 L584.1,320.5 L585.1,320.5 L586.1,320.5 L587.1,320.5 L588.1,320.5 L589.1,320.5 L590.1,320.5 L591.1,320.5 L592.1,320.5 L593.1,320.5 L594.1,320.5 L595.1,320.5 L596.1,320.5 L597.1,320.5 L598.1,320.5 L599.1,320.5 L600.1,320.5 L601.1,320.5 L602.1,320.5 L603.1,320.5 L604.1,320.5 L605.1,320.5 L606.1,320.5 L607.1,320.5 L608.1,320.5 L609.1,320.5 L610.1,320.5 L611.1,320.5 L612.1,320.5 L613.1,320.5 L614.1,320.5 L615.1,320.5 L616.1,320.5 L617.1,320.5 L618.1,320.5 L619.1,320.5 L620.1,320.5 L621.1,320.5 L622.1,320.5 L623.1,320.5 L624.1,320.5 L625.1,320.5 L626.1,320.5 L627.1,320.5 L628.1,320.5 L629.1,320.5 L630.1,320.5 L631.1,320.5 L632.1,320.5 L633.1,320.5 L634.1,320.5 L635.1,320.5 L636.1,320.5 L637.1,320.5 L638.1,320.5 L639.1,320.5 L640.1,320.5 L641.1,320.5 L642.1,320.5 L643.1,320.5 L644.1,320.5 L645.1,320.5 L646.1,320.5 L647.1,320.5 L648.1,320.5 L649.1,320.5 L650.1,320.5 L651.1,320.5 L652.1,320.5 L653.1,320.5 L654.1,320.5 L655.1,320.5 L656.1,320.5 L657.1,320.5 L658.1,320.4 L659.1,320.4 L660.1,320.3 L661.1,320.1 L662.1,319.9 L663.1,319.7 L664.1,319.5 L665.1,319.2 L666.1,318.9 L667.1,318.6 L668.1,318.3 L669.1,318.0 L670.1,317.6 L671.1,317.3 L672.1,317.0 L673.1,316.7 L674.1,316.4 L675.1,316.1 L676.1,315.7 L677.1,315.4 L678.1,315.1 L679.1,314.8 L680.1,314.5 L681.1,314.1 L682.1,313.8 L683.1,313.5 L684.1,313.2 L685.1,312.9 L686.1,312.6 L687.1,312.4 L688.1,312.1 L689.1,311.8 L690.1,311.5 L691.1,311.3 L692.1,311.0 L693.1,310.8 L694.1,310.5 L695.1,310.3 L696.1,310.0 L697.1,309.8 L698.1,309.5 L699.1,309.3 L700.1,309.1 L701.1,308.9 L702.1,308.7 L703.1,308.5 L704.1,308.3 L705.1,308.2 L706.1,308.0 L707.1,307.8 L708.1,307.7 L709.1,307.6 L710.1,307.4 L711.1,307.3 L712.1,307.3 L713.1,307.2 L714.1,307.2 L715.1,307.1 L716.1,307.1 L717.1,307.2 L718.1,307.2 L719.1,307.2 L720.1,307.2 L721.1,307.2 L722.1,307.1 L723.1,307.1 L724.1,307.0 L725.1,306.9 L726.1,306.7 L727.1,306.5 L728.1,306.4 L729.1,306.2 L730.1,306.0 L731.1,305.8 L732.1,305.5 L733.1,305.3 L734.1,305.1 L735.1,304.8 L736.1,304.6 L737.1,304.3 L738.1,304.1 L739.1,303.8 L740.1,303.5 L741.1,303.2 L742.1,303.0 L743.1,302.7 L744.1,302.5 L745.1,302.3 L746.1,302.2 L747.1,302.0 L748.1,301.9 L749.1,301.8 L750.1,301.7 L751.1,301.6 L752.1,301.5 L753.1,301.4 L754.1,301.3 L755.1,301.2 L756.1,301.0 L757.1,300.9 L758.1,300.7 L759.1,300.5 L760.1,300.3 L761.1,300.1 L762.1,299.9 L763.1,299.7 L764.1,299.4 L765.1,299.2 L766.1,299.0 L767.1,298.8 L768.1,298.6 L769.1,298.5 L770.1,298.6 L771.1,298.7 L772.1,299.0 L773.1,299.3 L774.1,299.7 L775.1,300.1 L776.1,300.5 L777.1,300.9 L778.1,301.3 L779.1,301.7 L780.1,302.1 L781.1,302.4 L782.1,302.8 L783.1,303.1 L784.1,303.5 L785.1,303.9 L786.1,304.2 L787.1,304.6 L788.1,304.9 L789.1,305.3 L790.1,305.6 L791.1,306.0 L792.1,306.3 L793.1,306.7 L794.1,307.0 L795.1,307.3 L796.1,307.7 L797.1,308.0 L798.1,308.3 L799.1,308.6 L800.1,308.9 L801.1,309.2 L802.1,309.5 L803.1,309.7 L804.1,309.9 L805.1,310.1 L806.1,310.2 L807.1,310.3 L808.1,310.3 L809.1,310.3 L810.1,310.1 L811.1,310.0 L812.1,309.7 L813.1,309.5 L814.1,309.2 L815.1,308.9 L816.1,308.6 L817.1,308.3 L818.1,307.9 L819.1,307.6 L820.1,307.3 L821.1,306.9 L822.1,306.6 L823.1,306.2 L824.1,305.9 L825.1,305.6 L826.1,305.3 L827.1,305.1 L828.1,305.0 L829.1,304.8 L830.1,304.7 L831.1,304.7 L832.1,304.6 L833.1,304.5 L834.1,304.4 L835.1,304.3 L836.1,304.2 L837.1,304.2 L838.1,304.1 L839.1,304.0 L840.1,303.9 L841.1,303.8 L842.1,303.7 L843.1,303.7 L844.1,303.6 L845.1,303.5 L846.1,303.4 L847.1,303.3 L848.1,303.2 L849.1,303.2 L850.1,303.1 L851.1,303.0 L852.1,302.9 L853.1,302.8 L854.1,302.8 L855.1,302.7 L856.1,302.7 L857.1,302.7 L858.1,302.7 L859.1,302.7 L860.1,302.8 L861.1,302.9 L862.1,303.0 L863.1,303.0 L864.1,303.1 L865.1,303.2 L866.1,303.3 L867.1,303.4 L868.1,303.5 L869.1,303.6 L870.1,303.7 L871.1,303.9 L872.1,304.0 L873.1,304.2 L874.1,304.5 L875.1,304.8 L876.1,305.2 L877.1,305.6 L878.1,306.1 L879.1,306.5 L880.1,307.0 L881.1,307.5 L882.1,308.1 L883.1,308.6 L884.1,309.1 L885.1,309.7 L886.1,310.2 L887.1,310.8 L888.1,311.3 L889.1,311.9 L890.1,312.4 L891.1,313.0 L892.1,313.6 L893.1,314.1 L894.1,314.7 L895.1,315.3 L896.1,315.8 L897.1,316.3 L898.1,316.9 L899.1,317.4 L900.1,317.8 L901.1,318.3 L902.1,318.7 L903.1,319.1 L904.1,319.4 L905.1,319.8 L906.1,320.0 L907.1,320.3 L908.1,320.5 L909.1,320.5 L910.1,320.5 L911.1,320.5 L912.1,320.5 L913.1,320.5 L914.1,320.5 L915.1,320.5 L916.1,320.5 L917.1,320.5 L918.1,320.5 L919.1,320.5 L920.1,320.5 L921.1,320.5 L922.1,320.5 L923.1,320.5 L924.1,320.5 L925.1,320.5 L926.1,320.5 L927.1,320.5 L928.1,320.5 L929.1,320.5 L930.1,320.5 L931.1,320.5 L932.1,320.5 L933.1,320.5 L934.1,320.5 L935.1,320.5 L936.1,320.5 L937.1,320.5 L938.1,320.5 L939.1,320.5 L940.1,320.5 L941.1,320.5 L942.1,320.5 L943.1,320.5 L944.1,320.5 L945.1,320.5 L946.1,320.5 L947.1,320.5 L948.1,320.5 L949.1,320.5 L950.1,320.5 L951.1,320.5 L952.1,320.5 L953.1,320.5 L954.1,320.5 L955.1,320.5 L956.1,320.5 L957.1,320.5 L958.1,320.5 L959.1,320.5 L960.1,320.5 L961.1,320.5 L962.1,320.5 L963.1,320.5 L964.1,320.5 L965.1,320.5 L966.1,320.5 L967.1,320.5 L968.1,320.5 L969.1,320.5 L970.1,320.5 L971.1,320.5 L972.1,320.5 L973.1,320.5 L974.1,320.5 L975.1,320.5 L976.1,320.5 L977.1,320.5 L978.1,320.5 L979.1,320.5 L980.1,320.5 L981.1,320.5 L982.1,320.5 L983.1,320.5 L984.1,320.5 L985.1,320.5 L986.1,320.5 L987.1,320.5 L988.1,320.5 L989.1,320.5 L990.1,320.5 L991.1,320.5 L992.1,320.5 L993.1,320.5 L994.1,320.5 L995.1,320.4 L996.1,320.2 L997.1,320.1 L998.1,319.9 L999.1,319.8 L1000.1,319.6 L1001.1,319.4 L1002.1,319.3 L1003.1,319.1 L1004.1,318.8 L1005.1,318.6 L1006.1,318.4 L1007.1,318.2 L1007.8,318.1" stroke="#ff0000"/>
<path d="M77.1,320.5 L78.1,320.5 L79.1,320.5 L80.1,320.5 L81.1,320.5 L82.1,320.5 L83.1,320.5 L84.1,320.5 L85.1,320.5 L86.1,320.5 L87.1,320.5 L88.1,320.5 L89.1,320.5 L90.1,320.5 L91.1,320.5 L92.1,320.5 L93.1,320.5 L94.1,320.5 L95.1,320.5 L96.1,320.5 L97.1,320.5 L98.1,320.5 L99.1,320.5 L100.1,320.5 L101.1,320.5 L102.1,320.5 L103.1,320.5 L104.1,320.5 L105.1,320.5 L106.1,320.5 L107.1,320.5 L108.1,320.5 L109.1,320.5 L110.1,320.5 L111.1,320.5 L112.1,320.5 L113.1,320.5 L114.1,320.5 L115.1,320.5 L116.1,320.5 L117.1,320.5 L118.1,320.5 L119.1,320.5 L120.1,320.5 L121.1,320.5 L122.1,320.5 L123.1,320.5 L124.1,320.5 L125.1,320.5 L126.1,320.5 L127.1,320.5 L128.1,320.5 L129.1,320.5 L130.1,320.5 L131.1,320.5 L132.1,320.5 L133.1,320.5 L134.1,320.5 L135.1,320.5 L136.1,320.5 L137.1,320.5 L138.1,320.5 L139.1,320.5 L140.1,320.5 L141.1,320.5 L142.1,320.5 L143.1,320.5 L144.1,320.5 L145.1,320.5 L146.1,320.5 L147.1,320.5 L148.1,320.5 L149.1,320.5 L150.1,320.5 L151.1,320.5 L152.1,320.5 L153.1,320.5 L154.1,320.5 L155.1,320.5 L156.1,320.5 L157.1,320.5 L158.1,320.5 L159.1,320.5 L160.1,320.5 L161.1,320.5 L162.1,320.5 L163.1,320.5 L164.1,320.5 L165.1,320.5 L166.1,320.5 L167.1,320.5 L168.1,320.5 L169.1,320.5 L170.1,320.5 L171.1,320.5 L172.1,320.5 L173.1,320.5 L174.1,320.5 L175.1,320.5 L176.1,320.5 L177.1,320.5 L178.1,320.5 L179.1,320.5 L180.1,320.5 L181.1,320.5 L182.1,320.5 L183.1,320.5 L184.1,320.5 L185.1,320.5 L186.1,320.5 L187.1,320.5 L188.1,320.5 L189.1,320.5 L190.1,320.5 L191.1,320.5 L192.1,320.5 L193.1,320.5 L194.1,320.5 L195.1,320.5 L196.1,320.5 L197.1,320.5 L198.1,320.5 L199.1,320.5 L200.1,320.5 L201.1,320.5 L202.1,320.5 L203.1,320.5 L204.1,320.5 L205.1,320.5 L206.1,320.5 L207.1,320.5 L208.1,320.5 L209.1,320.5 L210.1,320.5 L211.1,320.5 L212.1,320.5 L213.1,320.5 L214.1,320.5 L215.1,320.5 L216.1,320.5 L217.1,320.5 L218.1,320.5 L219.1,320.5 L220.1,320.5 L221.1,320.5 L222.1,320.5 L223.1,320.5 L224.1,320.5 L225.1,320.5 L226.1,320.5 L227.1,320.5 L228.1,320.5 L229.1,320.5 L230.1,320.5 L231.1,320.5 L232.1,320.5 L233.1,320.5 L234.1,320.5 L235.1,320.5 L236.1,320.5 L237.1,320.5 L238.1,320.5 L239.1,320.5 L240.1,320.5 L241.1,320.5 L242.1,320.5 L243.1,320.5 L244.1,320.5 L245.1,320.5 L246.1,320.5 L247.1,320.5 L248.1,320.5 L249.1,320.5 L250.1,320.5 L251.1,320.5 L252.1,320.5 L253.1,320.5 L254.1,320.5 L255.1,320.5 L256.1,320.5 L257.1,320.5 L258.1,320.5 L259.1,320.5 L260.1,320.5 L261.1,320.5 L262.1,320.5 L263.1,320.5 L264.1,320.5 L265.1,320.5 L266.1,320.5 L267.1,320.5 L268.1,320.5 L269.1,320.5 L270.1,320.5 L271.1,320.5 L272.1,320.5 L273.1,320.5 L274.1,320.5 L275.1,320.5 L276.1,320.5 L277.1,320.5 L278.1,320.4 L279.1,320.2 L280.1,320.0 L281.1,319.7 L282.1,319.5 L283.1,319.2 L284.1,318.9 L285.1,318.7 L286.1,318.4 L287.1,318.1 L288.1,317.7 L289.1,317.4 L290.1,317.1 L291.1,316.7 L292.1,316.3 L293.1,316.0 L294.1,315.6 L295.1,315.3 L296.1,314.9 L297.1,314.5 L298.1,314.2 L299.1,313.8 L300.1,313.5 L301.1,313.1 L302.1,312.8 L303.1,312.4 L304.1,312.1 L305.1,311.7 L306.1,311.4 L307.1,311.1 L308.1,310.7 L309.1,310.4 L310.1,310.1 L311.1,309.7 L312.1,309.4 L313.1,309.1 L314.1,308.7 L315.1,308.4 L316.1,308.0 L317.1,307.7 L318.1,307.3 L319.1,306.9 L320.1,306.6 L321.1,306.2 L322.1,305.9 L323.1,305.6 L324.1,305.3 L325.1,305.0 L326.1,304.8 L327.1,304.6 L328.1,304.4 L329.1,304.2 L330.1,304.0 L331.1,303.8 L332.1,303.6 L333.1,303.4 L334.1,303.2 L335.1,303.0 L336.1,302.8 L337.1,302.6 L338.1,302.4 L339.1,302.2 L340.1,302.0 L341.1,301.8 L342.1,301.6 L343.1,301.3 L344.1,301.0 L345.1,300.6 L346.1,300.1 L347.1,299.6 L348.1,299.0 L349.1,298.5 L350.1,297.9 L351.1,297.4 L352.1,296.9 L353.1,296.5 L354.1,296.0 L355.1,295.6 L356.1,295.2 L357.1,294.8 L358.1,294.4 L359.1,294.1 L360.1,293.7 L361.1,293.5 L362.1,293.2 L363.1,293.0 L364.1,292.8 L365.1,292.7 L366.1,292.5 L367.1,292.4 L368.1,292.2 L369.1,292.1 L370.1,292.0 L371.1,291.9 L372.1,291.8 L373.1,291.7 L374.1,291.6 L375.1,291.5 L376.1,291.4 L377.1,291.3 L378.1,291.1 L379.1,291.0 L380.1,290.8 L381.1,290.6 L382.1,290.3 L383.1,290.0 L384.1,289.8 L385.1,289.5 L386.1,289.3 L387.1,289.1 L388.1,289.0 L389.1,288.9 L390.1,288.9 L391.1,288.9 L392.1,289.0 L393.1,289.1 L394.1,289.3 L395.1,289.7 L396.1,290.1 L397.1,290.7 L398.1,291.4 L399.1,292.2 L400.1,293.1 L401.1,294.0 L402.1,295.1 L403.1,296.1 L404.1,297.1 L405.1,298.1 L406.1,299.1 L407.1,300.0 L408.1,300.9 L409.1,301.8 L410.1,302.6 L411.1,303.4 L412.1,304.2 L413.1,304.9 L414.1,305.5 L415.1,306.1 L416.1,306.5 L417.1,306.9 L418.1,307.2 L419.1,307.4 L420.1,307.6 L421.1,307.6 L422.1,307.7 L423.1,307.6 L424.1,307.6 L425.1,307.5 L426.1,307.4 L427.1,307.3 L428.1,307.2 L429.1,307.1 L430.1,307.0 L431.1,307.0 L432.1,307.0 L433.1,306.9 L434.1,306.9 L435.1,306.9 L436.1,306.9 L437.1,306.9 L438.1,306.9 L439.1,306.9 L440.1,306.9 L441.1,306.8 L442.1,306.8 L443.1,306.6 L444.1,306.5 L445.1,306.4 L446.1,306.3 L447.1,306.3 L448.1,306.3 L449.1,306.3 L450.1,306.4 L451.1,306.6 L452.1,306.8 L453.1,307.0 L454.1,307.3 L455.1,307.6 L456.1,307.8 L457.1,308.1 L458.1,308.4 L459.1,308.7 L460.1,309.0 L461.1,309.3 L462.1,309.6 L463.1,309.9 L464.1,310.2 L465.1,310.5 L466.1,310.8 L467.1,311.0 L468.1,311.3 L469.1,311.6 L470.1,311.9 L471.1,312.2 L472.1,312.5 L473.1,312.7 L474.1,313.0 L475.1,313.2 L476.1,313.4 L477.1,313.7 L478.1,313.9 L479.1,314.1 L480.1,314.3 L481.1,314.5 L482.1,314.7 L483.1,314.9 L484.1,315.0 L485.1,315.2 L486.1,315.4 L487.1,315.6 L488.1,315.7 L489.1,315.9 L490.1,316.1 L491.1,316.2 L492.1,316.4 L493.1,316.6 L494.1,316.7 L495.1,316.9 L496.1,317.1 L497.1,317.2 L498.1,317.4 L499.1,317.5 L500.1,317.7 L501.1,317.9 L502.1,318.0 L503.1,318.2 L504.1,318.3 L505.1,318.5 L506.1,318.7 L507.1,318.9 L508.1,319.1 L509.1,319.3 L510.1,319.5 L511.1,319.6 L512.1,319.8 L513.1,320.0 L514.1,320.1 L515.1,320.2 L516.1,320.3 L517.1,320.4 L518.1,320.4 L519.1,320.5 L520.1,320.5 L521.1,320.5 L522.1,320.5 L523.1,320.5 L524.1,320.5 L525.1,320.5 L526.1,320.5 L527.1,320.5 L528.1,320.5 L529.1,320.5 L530.1,320.5 L531.1,320.5 L532.1,320.5 L533.1,320.5 L534.1,320.5 L535.1,320.5 L536.1,320.5 L537.1,320.5 L538.1,320.5 L539.1,320.5 L540.1,320.5 L541.1,320.5 L542.1,320.5 L543.1,320.5 L544.1,320.5 L545.1,320.5 L546.1,320.5 L547.1,320.5 L548.1,320.5 L549.1,320.5 L550.1,320.5 L551.1,320.5 L552.1,320.5 L553.1,320.5 L554.1,320.5 L555.1,320.5 L556.1,320.5 L557.1,320.5 L558.1,320.5 L559.1,320.5 L560.1,320.5 L561.1,320.5 L562.1,320.5 L563.1,320.5 L564.1,320.5 L565.1,320.5 L566.1,320.5 L567.1,320.5 L568.1,320.5 L569.1,320.5 L570.1,320.5 L571.1,320.5 L572.1,320.5 L573.1,320.5 L574.1,320.5 L575.1,320.5 L576.1,320.5 L577.1,320.5 L578.1,320.5 L579.1,320.5 L580.1,320.5 L581.1,320.5 L582.1,320.5 L583.1,320.5 L584.1,320.5 L585.1,320.5 L586.1,320.5 L587.1,320.5 L588.1,320.5 L589.1,320.5 L590.1,320.5 L591.1,320.5 L592.1,320.5 L593.1,320.5 L594.1,320.5 L595.1,320.5 L596.1,320.5 L597.1,320.5 L598.1,320.5 L599.1,320.5 L600.1,320.5 L601.1,320.5 L602.1,320.5 L603.1,320.5 L604.1,320.5 L605.1,320.5 L606.1,320.5 L607.1,320.5 L608.1,320.5 L609.1,320.5 L610.1,320.5 L611.1,320.5 L612.1,320.5 L613.1,320.5 L614.1,320.5 L615.1,320.5 L616.1,320.5 L617.1,320.5 L618.1,320.5 L619.1,320.5 L620.1,320.5 L621.1,320.5 L622.1,320.5 L623.1,320.5 L624.1,320.5 L625.1,320.5 L626.1,320.5 L627.1,320.5 L628.1,320.5 L629.1,320.5 L630.1,320.5 L631.1,320.5 L632.1,320.5 L633.1,320.5 L634.1,320.5 L635.1,320.5 L636.1,320.5 L637.1,320.5 L638.1,320.5 L639.1,320.5 L640.1,320.5 L641.1,320.5 L642.1,320.5 L643.1,320.5 L644.1,320.5 L645.1,320.5 L646.1,320.5 L647.1,320.5 L648.1,320.5 L649.1,320.4 L650.1,320.3 L651.1,320.2 L652.1,319.9 L653.1,319.4 L654.1,318.9 L655.1,318.2 L656.1,317.4 L657.1,316.6 L658.1,315.6 L659.1,314.6 L660.1,313.5 L661.1,312.2 L662.1,310.8 L663.1,309.2 L664.1,307.4 L665.1,305.3 L666.1,303.1 L667.1,300.6 L668.1,298.0 L669.1,295.3 L670.1,292.6 L671.1,289.9 L672.1,287.2 L673.1,284.5 L674.1,281.8 L675.1,279.2 L676.1,276.7 L677.1,274.1 L678.1,271.6 L679.1,269.2 L680.1,266.8 L681.1,264.5 L682.1,262.3 L683.1,260.2 L684.1,258.3 L685.1,256.5 L686.1,255.0 L687.1,253.6 L688.1,252.3 L689.1,251.2 L690.1,250.2 L691.1,249.3 L692.1,248.5 L693.1,247.7 L694.1,246.9 L695.1,246.3 L696.1,245.7 L697.1,245.1 L698.1,244.6 L699.1,244.0 L700.1,243.5 L701.1,243.0 L702.1,242.5 L703.1,242.0 L704.1,241.5 L705.1,241.0 L706.1,240.5 L707.1,240.0 L708.1,239.5 L709.1,239.0 L710.1,238.5 L711.1,238.1 L712.1,237.6 L713.1,237.2 L714.1,237.0 L715.1,237.0 L716.1,237.1 L717.1,237.4 L718.1,237.8 L719.1,238.3 L720.1,238.9 L721.1,239.6 L722.1,240.3 L723.1,241.1 L724.1,241.8 L725.1,242.5 L726.1,243.1 L727.1,243.7 L728.1,244.2 L729.1,244.6 L730.1,245.0 L731.1,245.3 L732.1,245.6 L733.1,245.8 L734.1,245.9 L735.1,245.9 L736.1,245.9 L737.1,245.8 L738.1,245.8 L739.1,245.7 L740.1,245.6 L741.1,245.5 L742.1,245.5 L743.1,245.4 L744.1,245.4 L745.1,245.5 L746.1,245.5 L747.1,245.6 L748.1,245.7 L749.1,245.8 L750.1,246.1 L751.1,246.4 L752.1,246.7 L753.1,246.8 L754.1,246.8 L755.1,246.6 L756.1,246.3 L757.1,245.9 L758.1,245.4 L759.1,245.0 L760.1,244.5 L761.1,244.0 L762.1,243.6 L763.1,243.1 L764.1,242.6 L765.1,242.2 L766.1,241.7 L767.1,241.3 L768.1,241.0 L769.1,240.9 L770.1,241.1 L771.1,241.7 L772.1,242.7 L773.1,244.1 L774.1,245.7 L775.1,247.6 L776.1,249.5 L777.1,251.6 L778.1,253.6 L779.1,255.6 L780.1,257.5 L781.1,259.4 L782.1,261.3 L783.1,263.1 L784.1,264.9 L785.1,266.6 L786.1,268.3 L787.1,270.0 L788.1,271.5 L789.1,273.0 L790.1,274.4 L791.1,275.7 L792.1,277.0 L793.1,278.2 L794.1,279.3 L795.1,280.5 L796.1,281.6 L797.1,282.7 L798.1,283.8 L799.1,284.8 L800.1,285.8 L801.1,286.8 L802.1,287.7 L803.1,288.5 L804.1,289.2 L805.1,289.7 L806.1,290.1 L807.1,290.3 L808.1,290.3 L809.1,290.2 L810.1,289.9 L811.1,289.4 L812.1,288.8 L813.1,288.1 L814.1,287.2 L815.1,286.2 L816.1,285.2 L817.1,284.2 L818.1,283.2 L819.1,282.1 L820.1,281.1 L821.1,280.1 L822.1,279.1 L823.1,278.2 L824.1,277.4 L825.1,276.7 L826.1,276.2 L827.1,275.8 L828.1,275.6 L829.1,275.5 L830.1,275.5 L831.1,275.5 L832.1,275.7 L833.1,275.9 L834.1,276.1 L835.1,276.4 L836.1,276.6 L837.1,276.7 L838.1,276.8 L839.1,276.8 L840.1,276.7 L841.1,276.6 L842.1,276.5 L843.1,276.3 L844.1,276.2 L845.1,276.1 L846.1,276.0 L847.1,275.8 L848.1,275.7 L849.1,275.6 L850.1,275.5 L851.1,275.4 L852.1,275.3 L853.1,275.2 L854.1,275.2 L855.1,275.3 L856.1,275.4 L857.1,275.6 L858.1,275.9 L859.1,276.2 L860.1,276.6 L861.1,276.9 L862.1,277.3 L863.1,277.7 L864.1,278.1 L865.1,278.5 L866.1,278.9 L867.1,279.3 L868.1,279.7 L869.1,280.1 L870.1,280.5 L871.1,281.0 L872.1,281.4 L873.1,282.0 L874.1,282.5 L875.1,283.2 L876.1,283.9 L877.1,284.8 L878.1,285.7 L879.1,286.7 L880.1,287.9 L881.1,289.1 L882.1,290.4 L883.1,291.7 L884.1,293.1 L885.1,294.5 L886.1,296.0 L887.1,297.5 L888.1,299.0 L889.1,300.5 L890.1,302.0 L891.1,303.5 L892.1,305.0 L893.1,306.4 L894.1,307.8 L895.1,309.1 L896.1,310.4 L897.1,311.6 L898.1,312.7 L899.1,313.7 L900.1,314.6 L901.1,315.4 L902.1,316.0 L903.1,316.6 L904.1,317.0 L905.1,317.4 L906.1,317.8 L907.1,318.0 L908.1,318.2 L909.1,318.4 L910.1,318.5 L911.1,318.6 L912.1,318.7 L913.1,318.7 L914.1,318.8 L915.1,318.9 L916.1,319.0 L917.1,319.0 L918.1,319.1 L919.1,319.1 L920.1,319.1 L921.1,319.1 L922.1,319.2 L923.1,319.2 L924.1,319.2 L925.1,319.2 L926.1,319.2 L927.1,319.2 L928.1,319.2 L929.1,319.2 L930.1,319.3 L931.1,319.3 L932.1,319.3 L933.1,319.3 L934.1,319.3 L935.1,319.3 L936.1,319.3 L937.1,319.3 L938.1,319.4 L939.1,319.4 L940.1,319.4 L941.1,319.4 L942.1,319.4 L943.1,319.4 L944.1,319.4 L945.1,319.4 L946.1,319.4 L947.1,319.5 L948.1,319.5 L949.1,319.5 L950.1,319.5 L951.1,319.5 L952.1,319.5 L953.1,319.5 L954.1,319.5 L955.1,319.5 L956.1,319.5 L957.1,319.6 L958.1,319.6 L959.1,319.6 L960.1,319.6 L961.1,319.6 L962.1,319.6 L963.1,319.6 L964.1,319.6 L965.1,319.6 L966.1,319.6 L967.1,319.6 L968.1,319.6 L969.1,319.6 L970.1,319.6 L971.1,319.6 L972.1,319.6 L973.1,319.6 L974.1,319.6 L975.1,319.6 L976.1,319.6 L977.1,319.6 L978.1,319.6 L979.1,319.6 L980.1,319.6 L981.1,319.6 L982.1,319.6 L983.1,319.6 L984.1,319.6 L985.1,319.6 L986.1,319.6 L987.1,319.6 L988.1,319.5 L989.1,319.5 L990.1,319.5 L991.1,319.5 L992.1,319.5 L993.1,319.5 L994.1,319.5 L995.1,319.5 L996.1,319.4 L997.1,319.4 L998.1,319.4 L999.1,319.4 L1000.1,319.4 L1001.1,319.3 L1002.1,319.3 L1003.1,319.3 L1004.1,319.3 L1005.1,319.2 L1006.1,319.2 L1007.1,319.2 L1007.8,319.2" stroke="#0000ff"/>
</g>
<g fill="none" stroke-width="2.6" stroke-linejoin="round" stroke-linecap="butt">
<path d="M77.1,478.3 L78.1,478.3 L79.1,478.3 L80.1,478.3 L81.1,478.3 L82.1,478.3 L83.1,478.3 L84.1,478.3 L85.1,478.3 L86.1,478.3 L87.1,478.3 L88.1,478.3 L89.1,478.3 L90.1,478.3 L91.1,478.3 L92.1,478.3 L93.1,478.3 L94.1,478.3 L95.1,478.3 L96.1,478.3 L97.1,478.3 L98.1,478.3 L99.1,478.3 L100.1,478.3 L101.1,478.3 L102.1,478.3 L103.1,478.3 L104.1,478.3 L105.1,478.3 L106.1,478.3 L107.1,478.3 L108.1,478.3 L109.1,478.3 L110.1,478.3 L111.1,478.3 L112.1,478.3 L113.1,478.3 L114.1,478.3 L115.1,478.3 L116.1,478.3 L117.1,478.3 L118.1,478.3 L119.1,478.3 L120.1,478.3 L121.1,478.3 L122.1,478.3 L123.1,478.3 L124.1,478.3 L125.1,478.3 L126.1,478.3 L127.1,478.3 L128.1,478.3 L129.1,478.3 L130.1,478.3 L131.1,478.3 L132.1,478.3 L133.1,478.3 L134.1,478.3 L135.1,478.3 L136.1,478.3 L137.1,478.3 L138.1,478.3 L139.1,478.3 L140.1,478.3 L141.1,478.3 L142.1,478.3 L143.1,478.3 L144.1,478.3 L145.1,478.3 L146.1,478.3 L147.1,478.3 L148.1,478.3 L149.1,478.3 L150.1,478.3 L151.1,478.3 L152.1,478.3 L153.1,478.3 L154.1,478.3 L155.1,478.3 L156.1,478.3 L157.1,478.3 L158.1,478.3 L159.1,478.3 L160.1,478.3 L161.1,478.3 L162.1,478.3 L163.1,478.3 L164.1,478.3 L165.1,478.3 L166.1,478.3 L167.1,478.3 L168.1,478.3 L169.1,478.3 L170.1,478.3 L171.1,478.3 L172.1,478.3 L173.1,478.3 L174.1,478.3 L175.1,478.3 L176.1,478.3 L177.1,478.3 L178.1,478.3 L179.1,478.3 L180.1,478.3 L181.1,478.1 L182.1,477.9 L183.1,477.7 L184.1,477.5 L185.1,477.1 L186.1,476.7 L187.1,476.1 L188.1,475.4 L189.1,474.6 L190.1,473.7 L191.1,472.7 L192.1,471.6 L193.1,470.4 L194.1,469.3 L195.1,468.2 L196.1,467.0 L197.1,465.9 L198.1,464.8 L199.1,463.7 L200.1,462.6 L201.1,461.6 L202.1,460.5 L203.1,459.6 L204.1,458.8 L205.1,458.1 L206.1,457.6 L207.1,457.2 L208.1,457.0 L209.1,456.8 L210.1,456.7 L211.1,456.6 L212.1,456.6 L213.1,456.7 L214.1,456.7 L215.1,456.8 L216.1,456.8 L217.1,456.9 L218.1,456.8 L219.1,456.8 L220.1,456.6 L221.1,456.4 L222.1,456.1 L223.1,455.7 L224.1,455.3 L225.1,454.7 L226.1,454.1 L227.1,453.5 L228.1,452.8 L229.1,452.0 L230.1,451.1 L231.1,450.3 L232.1,449.5 L233.1,448.7 L234.1,448.0 L235.1,447.5 L236.1,447.0 L237.1,446.6 L238.1,446.4 L239.1,446.3 L240.1,446.3 L241.1,446.5 L242.1,446.7 L243.1,446.9 L244.1,447.2 L245.1,447.6 L246.1,448.0 L247.1,448.4 L248.1,448.9 L249.1,449.3 L250.1,449.7 L251.1,450.1 L252.1,450.4 L253.1,450.7 L254.1,450.9 L255.1,451.0 L256.1,451.0 L257.1,450.9 L258.1,450.7 L259.1,450.3 L260.1,449.8 L261.1,449.2 L262.1,448.5 L263.1,447.7 L264.1,446.8 L265.1,445.9 L266.1,445.0 L267.1,444.1 L268.1,443.2 L269.1,442.2 L270.1,441.3 L271.1,440.3 L272.1,439.3 L273.1,438.3 L274.1,437.3 L275.1,436.2 L276.1,435.2 L277.1,434.3 L278.1,433.3 L279.1,432.4 L280.1,431.5 L281.1,430.7 L282.1,429.9 L283.1,429.1 L284.1,428.3 L285.1,427.6 L286.1,426.8 L287.1,426.0 L288.1,425.2 L289.1,424.3 L290.1,423.5 L291.1,422.6 L292.1,421.7 L293.1,420.9 L294.1,420.0 L295.1,419.0 L296.1,418.1 L297.1,417.2 L298.1,416.2 L299.1,415.3 L300.1,414.3 L301.1,413.2 L302.1,412.2 L303.1,411.1 L304.1,410.0 L305.1,408.9 L306.1,407.7 L307.1,406.5 L308.1,405.3 L309.1,404.1 L310.1,402.8 L311.1,401.6 L312.1,400.3 L313.1,399.0 L314.1,397.7 L315.1,396.4 L316.1,395.1 L317.1,393.7 L318.1,392.4 L319.1,391.0 L320.1,389.6 L321.1,388.2 L322.1,386.8 L323.1,385.4 L324.1,384.0 L325.1,382.6 L326.1,381.2 L327.1,379.8 L328.1,378.4 L329.1,377.0 L330.1,375.6 L331.1,374.2 L332.1,372.8 L333.1,371.5 L334.1,370.1 L335.1,368.8 L336.1,367.5 L337.1,366.3 L338.1,365.2 L339.1,364.2 L340.1,363.3 L341.1,362.5 L342.1,361.8 L343.1,361.1 L344.1,360.5 L345.1,359.9 L346.1,359.4 L347.1,358.9 L348.1,358.3 L349.1,357.8 L350.1,357.1 L351.1,356.4 L352.1,355.7 L353.1,354.9 L354.1,354.1 L355.1,353.1 L356.1,352.1 L357.1,350.8 L358.1,349.3 L359.1,347.7 L360.1,345.8 L361.1,343.8 L362.1,341.7 L363.1,339.5 L364.1,337.3 L365.1,335.2 L366.1,333.2 L367.1,331.2 L368.1,329.3 L369.1,327.6 L370.1,326.1 L371.1,324.8 L372.1,323.9 L373.1,323.4 L374.1,323.2 L375.1,323.4 L376.1,324.0 L377.1,325.1 L378.1,326.6 L379.1,328.6 L380.1,331.0 L381.1,333.7 L382.1,336.5 L383.1,339.6 L384.1,342.7 L385.1,346.0 L386.1,349.4 L387.1,352.7 L388.1,356.0 L389.1,359.1 L390.1,362.0 L391.1,364.7 L392.1,367.1 L393.1,369.2 L394.1,371.1 L395.1,372.6 L396.1,374.0 L397.1,375.1 L398.1,376.1 L399.1,376.9 L400.1,377.5 L401.1,378.1 L402.1,378.5 L403.1,378.9 L404.1,379.1 L405.1,379.2 L406.1,379.1 L407.1,379.0 L408.1,378.7 L409.1,378.3 L410.1,377.7 L411.1,377.1 L412.1,376.2 L413.1,375.3 L414.1,374.3 L415.1,373.2 L416.1,372.1 L417.1,370.9 L418.1,369.8 L419.1,368.7 L420.1,367.6 L421.1,366.4 L422.1,365.3 L423.1,364.2 L424.1,363.1 L425.1,361.9 L426.1,360.8 L427.1,359.7 L428.1,358.6 L429.1,357.5 L430.1,356.5 L431.1,355.5 L432.1,354.7 L433.1,353.9 L434.1,353.2 L435.1,352.6 L436.1,352.1 L437.1,351.6 L438.1,351.3 L439.1,351.0 L440.1,350.8 L441.1,350.7 L442.1,350.7 L443.1,350.7 L444.1,350.8 L445.1,350.9 L446.1,351.1 L447.1,351.2 L448.1,351.4 L449.1,351.5 L450.1,351.5 L451.1,351.5 L452.1,351.4 L453.1,351.3 L454.1,351.2 L455.1,351.1 L456.1,350.9 L457.1,350.8 L458.1,350.7 L459.1,350.6 L460.1,350.6 L461.1,350.5 L462.1,350.5 L463.1,350.5 L464.1,350.6 L465.1,350.7 L466.1,350.9 L467.1,351.3 L468.1,351.8 L469.1,352.5 L470.1,353.3 L471.1,354.3 L472.1,355.5 L473.1,357.0 L474.1,358.9 L475.1,361.1 L476.1,363.8 L477.1,366.9 L478.1,370.4 L479.1,374.2 L480.1,378.3 L481.1,382.5 L482.1,386.9 L483.1,391.4 L484.1,396.0 L485.1,400.7 L486.1,405.4 L487.1,410.0 L488.1,414.5 L489.1,418.8 L490.1,422.9 L491.1,426.7 L492.1,430.3 L493.1,433.6 L494.1,436.7 L495.1,439.5 L496.1,442.0 L497.1,444.2 L498.1,446.1 L499.1,447.7 L500.1,449.1 L501.1,450.3 L502.1,451.3 L503.1,452.3 L504.1,453.3 L505.1,454.4 L506.1,455.4 L507.1,456.6 L508.1,457.7 L509.1,458.9 L510.1,460.0 L511.1,461.2 L512.1,462.4 L513.1,463.5 L514.1,464.7 L515.1,465.9 L516.1,467.0 L517.1,468.2 L518.1,469.3 L519.1,470.3 L520.1,471.2 L521.1,472.1 L522.1,472.8 L523.1,473.6 L524.1,474.3 L525.1,475.0 L526.1,475.7 L527.1,476.3 L528.1,476.9 L529.1,477.3 L530.1,477.7 L531.1,478.0 L532.1,478.1 L533.1,478.0 L534.1,477.8 L535.1,477.3 L536.1,476.8 L537.1,476.1 L538.1,475.3 L539.1,474.5 L540.1,473.7 L541.1,472.8 L542.1,471.8 L543.1,470.9 L544.1,469.9 L545.1,468.8 L546.1,467.7 L547.1,466.5 L548.1,465.4 L549.1,464.2 L550.1,463.1 L551.1,462.1 L552.1,461.1 L553.1,460.3 L554.1,459.5 L555.1,459.0 L556.1,458.5 L557.1,458.2 L558.1,458.1 L559.1,458.0 L560.1,458.2 L561.1,458.5 L562.1,458.9 L563.1,459.5 L564.1,460.3 L565.1,461.2 L566.1,462.2 L567.1,463.4 L568.1,464.6 L569.1,465.9 L570.1,467.3 L571.1,468.5 L572.1,469.7 L573.1,470.8 L574.1,471.8 L575.1,472.7 L576.1,473.5 L577.1,474.3 L578.1,475.0 L579.1,475.6 L580.1,476.2 L581.1,476.6 L582.1,477.0 L583.1,477.4 L584.1,477.6 L585.1,477.9 L586.1,478.1 L587.1,478.2 L588.1,478.3 L589.1,478.3 L590.1,478.3 L591.1,478.3 L592.1,478.3 L593.1,478.3 L594.1,478.3 L595.1,478.3 L596.1,478.3 L597.1,478.3 L598.1,478.3 L599.1,478.3 L600.1,478.3 L601.1,478.3 L602.1,478.3 L603.1,478.3 L604.1,478.3 L605.1,478.3 L606.1,478.3 L607.1,478.3 L608.1,478.3 L609.1,478.3 L610.1,478.3 L611.1,478.3 L612.1,478.3 L613.1,478.3 L614.1,478.3 L615.1,478.3 L616.1,478.3 L617.1,478.3 L618.1,478.3 L619.1,478.3 L620.1,478.3 L621.1,478.3 L622.1,478.3 L623.1,478.3 L624.1,478.3 L625.1,478.3 L626.1,478.3 L627.1,478.3 L628.1,478.3 L629.1,478.3 L630.1,478.3 L631.1,478.3 L632.1,478.3 L633.1,478.2 L634.1,477.9 L635.1,477.6 L636.1,477.2 L637.1,476.7 L638.1,476.0 L639.1,475.4 L640.1,474.6 L641.1,473.6 L642.1,472.5 L643.1,471.2 L644.1,469.7 L645.1,468.0 L646.1,466.1 L647.1,464.1 L648.1,461.8 L649.1,459.3 L650.1,456.6 L651.1,453.8 L652.1,450.7 L653.1,447.3 L654.1,443.8 L655.1,440.2 L656.1,436.5 L657.1,432.8 L658.1,429.3 L659.1,425.8 L660.1,422.6 L661.1,419.4 L662.1,416.4 L663.1,413.6 L664.1,411.0 L665.1,408.6 L666.1,406.4 L667.1,404.4 L668.1,402.6 L669.1,401.0 L670.1,399.6 L671.1,398.3 L672.1,397.0 L673.1,395.9 L674.1,394.7 L675.1,393.6 L676.1,392.5 L677.1,391.4 L678.1,390.4 L679.1,389.3 L680.1,388.3 L681.1,387.3 L682.1,386.3 L683.1,385.3 L684.1,384.3 L685.1,383.3 L686.1,382.4 L687.1,381.5 L688.1,380.6 L689.1,379.8 L690.1,379.1 L691.1,378.4 L692.1,377.8 L693.1,377.3 L694.1,376.9 L695.1,376.5 L696.1,376.3 L697.1,376.2 L698.1,376.2 L699.1,376.3 L700.1,376.5 L701.1,376.8 L702.1,377.1 L703.1,377.5 L704.1,377.8 L705.1,378.0 L706.1,378.0 L707.1,377.9 L708.1,377.5 L709.1,377.1 L710.1,376.5 L711.1,375.8 L712.1,375.1 L713.1,374.2 L714.1,373.3 L715.1,372.4 L716.1,371.5 L717.1,370.6 L718.1,369.8 L719.1,369.0 L720.1,368.3 L721.1,367.6 L722.1,366.9 L723.1,366.3 L724.1,365.7 L725.1,365.1 L726.1,364.5 L727.1,364.0 L728.1,363.4 L729.1,362.8 L730.1,362.3 L731.1,361.7 L732.1,361.2 L733.1,360.7 L734.1,360.2 L735.1,359.7 L736.1,359.3 L737.1,358.9 L738.1,358.6 L739.1,358.4 L740.1,358.4 L741.1,358.6 L742.1,359.0 L743.1,359.7 L744.1,360.7 L745.1,362.2 L746.1,364.1 L747.1,366.4 L748.1,369.0 L749.1,371.8 L750.1,374.5 L751.1,377.3 L752.1,380.1 L753.1,382.8 L754.1,385.5 L755.1,388.1 L756.1,390.8 L757.1,393.3 L758.1,395.8 L759.1,398.0 L760.1,400.1 L761.1,401.9 L762.1,403.3 L763.1,404.5 L764.1,405.5 L765.1,406.3 L766.1,407.1 L767.1,407.9 L768.1,408.6 L769.1,409.4 L770.1,410.1 L771.1,410.9 L772.1,411.6 L773.1,412.4 L774.1,413.1 L775.1,413.9 L776.1,414.6 L777.1,415.4 L778.1,416.1 L779.1,416.8 L780.1,417.6 L781.1,418.3 L782.1,418.9 L783.1,419.6 L784.1,420.2 L785.1,420.7 L786.1,421.0 L787.1,421.2 L788.1,421.2 L789.1,421.0 L790.1,420.6 L791.1,420.0 L792.1,419.1 L793.1,418.1 L794.1,416.8 L795.1,415.3 L796.1,413.6 L797.1,411.6 L798.1,409.6 L799.1,407.6 L800.1,405.7 L801.1,403.9 L802.1,402.4 L803.1,401.0 L804.1,399.8 L805.1,398.7 L806.1,397.9 L807.1,397.1 L808.1,396.6 L809.1,396.3 L810.1,396.3 L811.1,396.5 L812.1,397.0 L813.1,397.6 L814.1,398.3 L815.1,399.1 L816.1,399.9 L817.1,400.7 L818.1,401.6 L819.1,402.4 L820.1,403.3 L821.1,404.2 L822.1,405.0 L823.1,405.9 L824.1,406.8 L825.1,407.7 L826.1,408.5 L827.1,409.2 L828.1,409.8 L829.1,410.3 L830.1,410.7 L831.1,411.0 L832.1,411.2 L833.1,411.4 L834.1,411.5 L835.1,411.5 L836.1,411.6 L837.1,411.5 L838.1,411.3 L839.1,410.9 L840.1,410.4 L841.1,409.7 L842.1,408.9 L843.1,408.0 L844.1,407.1 L845.1,406.2 L846.1,405.3 L847.1,404.4 L848.1,403.6 L849.1,402.7 L850.1,401.9 L851.1,401.1 L852.1,400.5 L853.1,400.0 L854.1,399.7 L855.1,399.7 L856.1,399.9 L857.1,400.2 L858.1,400.8 L859.1,401.6 L860.1,402.6 L861.1,403.8 L862.1,405.2 L863.1,406.9 L864.1,408.9 L865.1,411.2 L866.1,413.7 L867.1,416.4 L868.1,419.1 L869.1,421.7 L870.1,424.2 L871.1,426.5 L872.1,428.7 L873.1,430.7 L874.1,432.6 L875.1,434.4 L876.1,436.0 L877.1,437.4 L878.1,438.7 L879.1,439.7 L880.1,440.6 L881.1,441.2 L882.1,441.6 L883.1,441.9 L884.1,442.0 L885.1,442.0 L886.1,441.9 L887.1,441.8 L888.1,441.5 L889.1,441.2 L890.1,440.8 L891.1,440.4 L892.1,440.0 L893.1,439.6 L894.1,439.3 L895.1,439.0 L896.1,438.7 L897.1,438.5 L898.1,438.3 L899.1,438.2 L900.1,438.1 L901.1,438.1 L902.1,438.1 L903.1,438.2 L904.1,438.3 L905.1,438.6 L906.1,438.8 L907.1,439.1 L908.1,439.4 L909.1,439.8 L910.1,440.2 L911.1,440.6 L912.1,441.1 L913.1,441.5 L914.1,442.0 L915.1,442.5 L916.1,443.1 L917.1,443.6 L918.1,444.1 L919.1,444.5 L920.1,444.9 L921.1,445.3 L922.1,445.7 L923.1,446.0 L924.1,446.2 L925.1,446.4 L926.1,446.5 L927.1,446.6 L928.1,446.5 L929.1,446.4 L930.1,446.2 L931.1,445.8 L932.1,445.3 L933.1,444.7 L934.1,444.0 L935.1,443.3 L936.1,442.6 L937.1,441.8 L938.1,441.1 L939.1,440.3 L940.1,439.6 L941.1,438.8 L942.1,438.1 L943.1,437.3 L944.1,436.6 L945.1,435.8 L946.1,435.1 L947.1,434.3 L948.1,433.6 L949.1,432.8 L950.1,432.1 L951.1,431.3 L952.1,430.6 L953.1,429.9 L954.1,429.3 L955.1,428.8 L956.1,428.3 L957.1,427.9 L958.1,427.6 L959.1,427.4 L960.1,427.1 L961.1,426.9 L962.1,426.6 L963.1,426.4 L964.1,426.1 L965.1,425.9 L966.1,425.6 L967.1,425.4 L968.1,425.1 L969.1,424.9 L970.1,424.6 L971.1,424.4 L972.1,424.1 L973.1,423.8 L974.1,423.6 L975.1,423.3 L976.1,422.9 L977.1,422.6 L978.1,422.2 L979.1,421.7 L980.1,421.2 L981.1,420.5 L982.1,419.8 L983.1,419.1 L984.1,418.3 L985.1,417.4 L986.1,416.5 L987.1,415.6 L988.1,414.7 L989.1,413.7 L990.1,412.7 L991.1,411.7 L992.1,410.6 L993.1,409.6 L994.1,408.7 L995.1,407.8 L996.1,406.9 L997.1,406.2 L998.1,405.5 L999.1,405.0 L1000.1,404.6 L1001.1,404.5 L1002.1,404.6 L1003.1,405.1 L1004.1,405.8 L1005.1,406.8 L1006.1,407.8 L1007.1,408.8 L1007.5,409.2" stroke="#000000"/>
<path d="M77.1,478.3 L78.1,478.3 L79.1,478.3 L80.1,478.3 L81.1,478.3 L82.1,478.3 L83.1,478.3 L84.1,478.3 L85.1,478.3 L86.1,478.3 L87.1,478.3 L88.1,478.3 L89.1,478.3 L90.1,478.3 L91.1,478.3 L92.1,478.3 L93.1,478.3 L94.1,478.3 L95.1,478.3 L96.1,478.3 L97.1,478.3 L98.1,478.3 L99.1,478.3 L100.1,478.3 L101.1,478.3 L102.1,478.3 L103.1,478.3 L104.1,478.3 L105.1,478.3 L106.1,478.3 L107.1,478.3 L108.1,478.3 L109.1,478.3 L110.1,478.3 L111.1,478.3 L112.1,478.3 L113.1,478.3 L114.1,478.3 L115.1,478.3 L116.1,478.3 L117.1,478.3 L118.1,478.3 L119.1,478.3 L120.1,478.3 L121.1,478.3 L122.1,478.3 L123.1,478.3 L124.1,478.3 L125.1,478.3 L126.1,478.3 L127.1,478.3 L128.1,478.3 L129.1,478.3 L130.1,478.3 L131.1,478.3 L132.1,478.3 L133.1,478.3 L134.1,478.3 L135.1,478.3 L136.1,478.3 L137.1,478.3 L138.1,478.3 L139.1,478.3 L140.1,478.3 L141.1,478.3 L142.1,478.3 L143.1,478.3 L144.1,478.3 L145.1,478.3 L146.1,478.3 L147.1,478.3 L148.1,478.3 L149.1,478.3 L150.1,478.3 L151.1,478.3 L152.1,478.3 L153.1,478.3 L154.1,478.3 L155.1,478.3 L156.1,478.3 L157.1,478.3 L158.1,478.3 L159.1,478.3 L160.1,478.3 L161.1,478.3 L162.1,478.3 L163.1,478.3 L164.1,478.3 L165.1,478.3 L166.1,478.3 L167.1,478.3 L168.1,478.3 L169.1,478.3 L170.1,478.3 L171.1,478.3 L172.1,478.3 L173.1,478.3 L174.1,478.3 L175.1,478.3 L176.1,478.3 L177.1,478.3 L178.1,478.3 L179.1,478.3 L180.1,478.3 L181.1,478.3 L182.1,478.3 L183.1,478.3 L184.1,478.3 L185.1,478.3 L186.1,478.2 L187.1,477.9 L188.1,477.6 L189.1,477.3 L190.1,476.9 L191.1,476.6 L192.1,476.2 L193.1,475.8 L194.1,475.4 L195.1,475.0 L196.1,474.6 L197.1,474.2 L198.1,473.7 L199.1,473.3 L200.1,472.8 L201.1,472.3 L202.1,471.9 L203.1,471.5 L204.1,471.1 L205.1,470.8 L206.1,470.5 L207.1,470.2 L208.1,469.9 L209.1,469.7 L210.1,469.6 L211.1,469.4 L212.1,469.3 L213.1,469.2 L214.1,469.2 L215.1,469.2 L216.1,469.3 L217.1,469.3 L218.1,469.4 L219.1,469.5 L220.1,469.5 L221.1,469.5 L222.1,469.4 L223.1,469.3 L224.1,469.1 L225.1,468.8 L226.1,468.5 L227.1,468.2 L228.1,467.9 L229.1,467.6 L230.1,467.3 L231.1,467.0 L232.1,466.7 L233.1,466.5 L234.1,466.3 L235.1,466.1 L236.1,466.0 L237.1,465.9 L238.1,465.8 L239.1,465.8 L240.1,465.9 L241.1,466.0 L242.1,466.2 L243.1,466.4 L244.1,466.7 L245.1,467.0 L246.1,467.3 L247.1,467.6 L248.1,468.0 L249.1,468.4 L250.1,468.7 L251.1,469.1 L252.1,469.4 L253.1,469.7 L254.1,469.9 L255.1,470.1 L256.1,470.2 L257.1,470.3 L258.1,470.3 L259.1,470.3 L260.1,470.3 L261.1,470.2 L262.1,470.1 L263.1,470.0 L264.1,469.8 L265.1,469.6 L266.1,469.3 L267.1,468.9 L268.1,468.5 L269.1,468.1 L270.1,467.6 L271.1,467.1 L272.1,466.4 L273.1,465.7 L274.1,464.9 L275.1,464.0 L276.1,462.9 L277.1,461.8 L278.1,460.6 L279.1,459.3 L280.1,458.0 L281.1,456.6 L282.1,455.2 L283.1,453.8 L284.1,452.3 L285.1,450.8 L286.1,449.3 L287.1,447.7 L288.1,446.2 L289.1,444.7 L290.1,443.3 L291.1,441.9 L292.1,440.6 L293.1,439.4 L294.1,438.2 L295.1,437.0 L296.1,436.0 L297.1,435.0 L298.1,434.1 L299.1,433.2 L300.1,432.4 L301.1,431.6 L302.1,430.8 L303.1,430.0 L304.1,429.2 L305.1,428.4 L306.1,427.6 L307.1,426.8 L308.1,426.0 L309.1,425.2 L310.1,424.4 L311.1,423.6 L312.1,422.8 L313.1,422.0 L314.1,421.2 L315.1,420.4 L316.1,419.6 L317.1,418.8 L318.1,417.9 L319.1,417.0 L320.1,416.1 L321.1,415.1 L322.1,414.0 L323.1,412.8 L324.1,411.7 L325.1,410.5 L326.1,409.3 L327.1,408.2 L328.1,407.1 L329.1,406.0 L330.1,404.9 L331.1,403.8 L332.1,402.8 L333.1,401.7 L334.1,400.7 L335.1,399.7 L336.1,398.8 L337.1,398.0 L338.1,397.2 L339.1,396.5 L340.1,395.8 L341.1,395.3 L342.1,394.8 L343.1,394.3 L344.1,393.9 L345.1,393.4 L346.1,393.0 L347.1,392.5 L348.1,392.0 L349.1,391.5 L350.1,391.0 L351.1,390.5 L352.1,389.9 L353.1,389.3 L354.1,388.5 L355.1,387.7 L356.1,386.7 L357.1,385.5 L358.1,384.1 L359.1,382.6 L360.1,381.0 L361.1,379.4 L362.1,377.7 L363.1,376.1 L364.1,374.4 L365.1,372.7 L366.1,371.1 L367.1,369.5 L368.1,368.1 L369.1,366.8 L370.1,365.7 L371.1,364.8 L372.1,364.0 L373.1,363.5 L374.1,363.2 L375.1,363.1 L376.1,363.2 L377.1,363.6 L378.1,364.4 L379.1,365.5 L380.1,367.0 L381.1,368.9 L382.1,371.0 L383.1,373.3 L384.1,375.8 L385.1,378.3 L386.1,380.8 L387.1,383.2 L388.1,385.4 L389.1,387.5 L390.1,389.5 L391.1,391.3 L392.1,393.0 L393.1,394.4 L394.1,395.7 L395.1,396.8 L396.1,397.8 L397.1,398.6 L398.1,399.3 L399.1,399.8 L400.1,400.3 L401.1,400.7 L402.1,401.0 L403.1,401.2 L404.1,401.3 L405.1,401.3 L406.1,401.2 L407.1,401.0 L408.1,400.7 L409.1,400.3 L410.1,399.7 L411.1,399.0 L412.1,398.2 L413.1,397.4 L414.1,396.5 L415.1,395.5 L416.1,394.5 L417.1,393.4 L418.1,392.3 L419.1,391.1 L420.1,389.9 L421.1,388.7 L422.1,387.5 L423.1,386.2 L424.1,384.9 L425.1,383.7 L426.1,382.4 L427.1,381.3 L428.1,380.1 L429.1,379.0 L430.1,377.9 L431.1,376.9 L432.1,375.9 L433.1,375.0 L434.1,374.1 L435.1,373.3 L436.1,372.6 L437.1,371.9 L438.1,371.3 L439.1,370.8 L440.1,370.3 L441.1,370.0 L442.1,369.7 L443.1,369.4 L444.1,369.2 L445.1,369.1 L446.1,368.9 L447.1,368.8 L448.1,368.7 L449.1,368.6 L450.1,368.5 L451.1,368.3 L452.1,368.1 L453.1,367.9 L454.1,367.7 L455.1,367.4 L456.1,367.2 L457.1,366.9 L458.1,366.7 L459.1,366.4 L460.1,366.2 L461.1,365.9 L462.1,365.7 L463.1,365.5 L464.1,365.2 L465.1,365.1 L466.1,365.1 L467.1,365.2 L468.1,365.5 L469.1,366.0 L470.1,366.7 L471.1,367.5 L472.1,368.6 L473.1,370.0 L474.1,371.6 L475.1,373.5 L476.1,375.7 L477.1,378.3 L478.1,381.1 L479.1,384.3 L480.1,387.6 L481.1,391.2 L482.1,395.1 L483.1,399.1 L484.1,403.3 L485.1,407.7 L486.1,412.0 L487.1,416.3 L488.1,420.5 L489.1,424.4 L490.1,428.1 L491.1,431.6 L492.1,434.9 L493.1,437.9 L494.1,440.8 L495.1,443.4 L496.1,445.7 L497.1,447.9 L498.1,449.8 L499.1,451.6 L500.1,453.1 L501.1,454.5 L502.1,455.7 L503.1,456.9 L504.1,458.1 L505.1,459.2 L506.1,460.3 L507.1,461.3 L508.1,462.3 L509.1,463.3 L510.1,464.3 L511.1,465.3 L512.1,466.3 L513.1,467.3 L514.1,468.3 L515.1,469.3 L516.1,470.3 L517.1,471.2 L518.1,472.0 L519.1,472.7 L520.1,473.3 L521.1,473.8 L522.1,474.3 L523.1,474.8 L524.1,475.3 L525.1,475.8 L526.1,476.3 L527.1,476.7 L528.1,477.1 L529.1,477.5 L530.1,477.8 L531.1,478.0 L532.1,478.2 L533.1,478.3 L534.1,478.2 L535.1,478.0 L536.1,477.8 L537.1,477.4 L538.1,477.0 L539.1,476.5 L540.1,476.0 L541.1,475.4 L542.1,474.8 L543.1,474.2 L544.1,473.5 L545.1,472.9 L546.1,472.3 L547.1,471.7 L548.1,471.1 L549.1,470.5 L550.1,470.0 L551.1,469.5 L552.1,469.0 L553.1,468.5 L554.1,468.0 L555.1,467.6 L556.1,467.3 L557.1,467.1 L558.1,467.0 L559.1,467.0 L560.1,467.2 L561.1,467.4 L562.1,467.7 L563.1,468.1 L564.1,468.6 L565.1,469.2 L566.1,469.7 L567.1,470.4 L568.1,471.1 L569.1,471.8 L570.1,472.5 L571.1,473.3 L572.1,473.9 L573.1,474.6 L574.1,475.2 L575.1,475.8 L576.1,476.4 L577.1,476.9 L578.1,477.4 L579.1,477.8 L580.1,478.0 L581.1,478.2 L582.1,478.3 L583.1,478.3 L584.1,478.3 L585.1,478.3 L586.1,478.3 L587.1,478.3 L588.1,478.3 L589.1,478.3 L590.1,478.3 L591.1,478.3 L592.1,478.3 L593.1,478.3 L594.1,478.3 L595.1,478.3 L596.1,478.3 L597.1,478.3 L598.1,478.3 L599.1,478.3 L600.1,478.3 L601.1,478.3 L602.1,478.3 L603.1,478.3 L604.1,478.3 L605.1,478.3 L606.1,478.3 L607.1,478.3 L608.1,478.3 L609.1,478.3 L610.1,478.3 L611.1,478.3 L612.1,478.3 L613.1,478.3 L614.1,478.3 L615.1,478.3 L616.1,478.3 L617.1,478.3 L618.1,478.3 L619.1,478.3 L620.1,478.3 L621.1,478.3 L622.1,478.3 L623.1,478.3 L624.1,478.3 L625.1,478.3 L626.1,478.3 L627.1,478.3 L628.1,478.3 L629.1,478.3 L630.1,478.3 L631.1,478.3 L632.1,478.3 L633.1,478.3 L634.1,478.3 L635.1,478.3 L636.1,478.3 L637.1,478.3 L638.1,478.3 L639.1,478.3 L640.1,478.3 L641.1,478.3 L642.1,478.3 L643.1,478.3 L644.1,478.3 L645.1,478.3 L646.1,478.3 L647.1,478.2 L648.1,478.1 L649.1,477.8 L650.1,477.6 L651.1,477.2 L652.1,476.8 L653.1,476.4 L654.1,475.9 L655.1,475.5 L656.1,475.0 L657.1,474.6 L658.1,474.1 L659.1,473.6 L660.1,473.1 L661.1,472.7 L662.1,472.2 L663.1,471.7 L664.1,471.2 L665.1,470.8 L666.1,470.4 L667.1,470.1 L668.1,469.7 L669.1,469.4 L670.1,469.1 L671.1,468.8 L672.1,468.5 L673.1,468.2 L674.1,468.0 L675.1,467.7 L676.1,467.5 L677.1,467.2 L678.1,467.0 L679.1,466.7 L680.1,466.5 L681.1,466.2 L682.1,466.0 L683.1,465.8 L684.1,465.5 L685.1,465.3 L686.1,465.1 L687.1,464.9 L688.1,464.7 L689.1,464.5 L690.1,464.4 L691.1,464.2 L692.1,464.1 L693.1,463.9 L694.1,463.8 L695.1,463.7 L696.1,463.6 L697.1,463.5 L698.1,463.4 L699.1,463.3 L700.1,463.2 L701.1,463.1 L702.1,463.0 L703.1,462.9 L704.1,462.8 L705.1,462.8 L706.1,462.7 L707.1,462.6 L708.1,462.6 L709.1,462.4 L710.1,462.3 L711.1,462.0 L712.1,461.8 L713.1,461.5 L714.1,461.1 L715.1,460.7 L716.1,460.3 L717.1,460.0 L718.1,459.6 L719.1,459.3 L720.1,459.0 L721.1,458.7 L722.1,458.4 L723.1,458.1 L724.1,457.8 L725.1,457.6 L726.1,457.3 L727.1,457.1 L728.1,456.8 L729.1,456.6 L730.1,456.4 L731.1,456.1 L732.1,455.9 L733.1,455.7 L734.1,455.5 L735.1,455.4 L736.1,455.2 L737.1,455.1 L738.1,455.0 L739.1,454.9 L740.1,454.9 L741.1,454.9 L742.1,455.0 L743.1,455.2 L744.1,455.4 L745.1,455.6 L746.1,456.0 L747.1,456.3 L748.1,456.8 L749.1,457.2 L750.1,457.7 L751.1,458.2 L752.1,458.8 L753.1,459.3 L754.1,459.8 L755.1,460.2 L756.1,460.7 L757.1,461.1 L758.1,461.5 L759.1,462.0 L760.1,462.3 L761.1,462.7 L762.1,463.0 L763.1,463.3 L764.1,463.5 L765.1,463.7 L766.1,463.9 L767.1,464.1 L768.1,464.3 L769.1,464.4 L770.1,464.5 L771.1,464.7 L772.1,464.8 L773.1,464.9 L774.1,465.1 L775.1,465.2 L776.1,465.3 L777.1,465.4 L778.1,465.5 L779.1,465.6 L780.1,465.7 L781.1,465.8 L782.1,465.9 L783.1,465.9 L784.1,466.0 L785.1,466.1 L786.1,466.1 L787.1,466.1 L788.1,466.1 L789.1,466.0 L790.1,465.8 L791.1,465.7 L792.1,465.4 L793.1,465.2 L794.1,464.9 L795.1,464.6 L796.1,464.2 L797.1,463.9 L798.1,463.6 L799.1,463.3 L800.1,463.0 L801.1,462.8 L802.1,462.5 L803.1,462.2 L804.1,462.0 L805.1,461.8 L806.1,461.6 L807.1,461.4 L808.1,461.3 L809.1,461.2 L810.1,461.2 L811.1,461.2 L812.1,461.2 L813.1,461.3 L814.1,461.3 L815.1,461.4 L816.1,461.6 L817.1,461.7 L818.1,461.8 L819.1,461.9 L820.1,462.1 L821.1,462.2 L822.1,462.3 L823.1,462.4 L824.1,462.5 L825.1,462.6 L826.1,462.7 L827.1,462.7 L828.1,462.8 L829.1,462.9 L830.1,462.9 L831.1,462.9 L832.1,463.0 L833.1,463.0 L834.1,463.0 L835.1,462.9 L836.1,462.9 L837.1,462.8 L838.1,462.8 L839.1,462.7 L840.1,462.6 L841.1,462.5 L842.1,462.4 L843.1,462.3 L844.1,462.2 L845.1,462.1 L846.1,461.9 L847.1,461.8 L848.1,461.7 L849.1,461.5 L850.1,461.4 L851.1,461.3 L852.1,461.2 L853.1,461.1 L854.1,461.1 L855.1,461.1 L856.1,461.2 L857.1,461.5 L858.1,461.9 L859.1,462.4 L860.1,462.9 L861.1,463.6 L862.1,464.3 L863.1,465.0 L864.1,465.7 L865.1,466.5 L866.1,467.2 L867.1,467.9 L868.1,468.6 L869.1,469.2 L870.1,469.9 L871.1,470.5 L872.1,471.2 L873.1,471.8 L874.1,472.4 L875.1,473.0 L876.1,473.5 L877.1,474.0 L878.1,474.4 L879.1,474.8 L880.1,475.2 L881.1,475.5 L882.1,475.9 L883.1,476.2 L884.1,476.5 L885.1,476.8 L886.1,477.1 L887.1,477.4 L888.1,477.7 L889.1,477.9 L890.1,478.1 L891.1,478.2 L892.1,478.3 L893.1,478.3 L894.1,478.3 L895.1,478.2 L896.1,478.2 L897.1,478.2 L898.1,478.2 L899.1,478.2 L900.1,478.2 L901.1,478.1 L902.1,478.1 L903.1,478.1 L904.1,478.1 L905.1,478.0 L906.1,478.0 L907.1,478.0 L908.1,478.0 L909.1,477.9 L910.1,477.9 L911.1,477.9 L912.1,477.8 L913.1,477.8 L914.1,477.8 L915.1,477.7 L916.1,477.7 L917.1,477.7 L918.1,477.6 L919.1,477.6 L920.1,477.6 L921.1,477.5 L922.1,477.5 L923.1,477.5 L924.1,477.4 L925.1,477.4 L926.1,477.4 L927.1,477.3 L928.1,477.3 L929.1,477.3 L930.1,477.2 L931.1,477.2 L932.1,477.2 L933.1,477.1 L934.1,477.1 L935.1,477.1 L936.1,477.0 L937.1,477.0 L938.1,477.0 L939.1,476.9 L940.1,476.9 L941.1,476.9 L942.1,476.8 L943.1,476.8 L944.1,476.8 L945.1,476.7 L946.1,476.7 L947.1,476.7 L948.1,476.7 L949.1,476.6 L950.1,476.6 L951.1,476.6 L952.1,476.5 L953.1,476.5 L954.1,476.5 L955.1,476.5 L956.1,476.5 L957.1,476.4 L958.1,476.4 L959.1,476.4 L960.1,476.4 L961.1,476.3 L962.1,476.3 L963.1,476.3 L964.1,476.3 L965.1,476.3 L966.1,476.2 L967.1,476.2 L968.1,476.2 L969.1,476.2 L970.1,476.2 L971.1,476.1 L972.1,476.1 L973.1,476.1 L974.1,476.1 L975.1,476.0 L976.1,476.0 L977.1,476.0 L978.1,476.0 L979.1,476.0 L980.1,475.9 L981.1,475.9 L982.1,475.9 L983.1,475.9 L984.1,475.8 L985.1,475.8 L986.1,475.8 L987.1,475.8 L988.1,475.8 L989.1,475.7 L990.1,475.7 L991.1,475.7 L992.1,475.7 L993.1,475.7 L994.1,475.6 L995.1,475.6 L996.1,475.6 L997.1,475.6 L998.1,475.6 L999.1,475.5 L1000.1,475.5 L1001.1,475.5 L1002.1,475.5 L1003.1,475.5 L1004.1,475.5 L1005.1,475.4 L1006.1,475.4 L1007.1,475.4 L1007.5,475.4" stroke="#ff0000"/>
<path d="M77.1,478.3 L78.1,478.3 L79.1,478.3 L80.1,478.3 L81.1,478.3 L82.1,478.3 L83.1,478.3 L84.1,478.3 L85.1,478.3 L86.1,478.3 L87.1,478.3 L88.1,478.3 L89.1,478.3 L90.1,478.3 L91.1,478.3 L92.1,478.3 L93.1,478.3 L94.1,478.3 L95.1,478.3 L96.1,478.3 L97.1,478.3 L98.1,478.3 L99.1,478.3 L100.1,478.3 L101.1,478.3 L102.1,478.3 L103.1,478.3 L104.1,478.3 L105.1,478.3 L106.1,478.3 L107.1,478.3 L108.1,478.3 L109.1,478.3 L110.1,478.3 L111.1,478.3 L112.1,478.3 L113.1,478.3 L114.1,478.3 L115.1,478.3 L116.1,478.3 L117.1,478.3 L118.1,478.3 L119.1,478.3 L120.1,478.3 L121.1,478.3 L122.1,478.3 L123.1,478.3 L124.1,478.3 L125.1,478.3 L126.1,478.3 L127.1,478.3 L128.1,478.3 L129.1,478.3 L130.1,478.3 L131.1,478.3 L132.1,478.3 L133.1,478.3 L134.1,478.3 L135.1,478.3 L136.1,478.3 L137.1,478.3 L138.1,478.3 L139.1,478.3 L140.1,478.3 L141.1,478.3 L142.1,478.3 L143.1,478.3 L144.1,478.3 L145.1,478.3 L146.1,478.3 L147.1,478.3 L148.1,478.3 L149.1,478.3 L150.1,478.3 L151.1,478.3 L152.1,478.3 L153.1,478.3 L154.1,478.3 L155.1,478.3 L156.1,478.3 L157.1,478.3 L158.1,478.3 L159.1,478.3 L160.1,478.3 L161.1,478.3 L162.1,478.3 L163.1,478.3 L164.1,478.3 L165.1,478.3 L166.1,478.3 L167.1,478.3 L168.1,478.3 L169.1,478.3 L170.1,478.3 L171.1,478.3 L172.1,478.3 L173.1,478.3 L174.1,478.3 L175.1,478.3 L176.1,478.3 L177.1,478.3 L178.1,478.3 L179.1,478.3 L180.1,478.3 L181.1,478.3 L182.1,478.3 L183.1,478.3 L184.1,478.3 L185.1,478.3 L186.1,478.3 L187.1,478.3 L188.1,478.3 L189.1,478.3 L190.1,478.3 L191.1,478.3 L192.1,478.3 L193.1,478.3 L194.1,478.3 L195.1,478.3 L196.1,478.3 L197.1,478.3 L198.1,478.3 L199.1,478.3 L200.1,478.3 L201.1,478.3 L202.1,478.3 L203.1,478.3 L204.1,478.3 L205.1,478.3 L206.1,478.3 L207.1,478.2 L208.1,478.2 L209.1,478.2 L210.1,478.2 L211.1,478.2 L212.1,478.2 L213.1,478.2 L214.1,478.2 L215.1,478.2 L216.1,478.2 L217.1,478.1 L218.1,478.1 L219.1,478.1 L220.1,478.1 L221.1,478.1 L222.1,478.1 L223.1,478.1 L224.1,478.0 L225.1,478.0 L226.1,478.0 L227.1,478.0 L228.1,478.0 L229.1,477.9 L230.1,477.9 L231.1,477.9 L232.1,477.9 L233.1,477.9 L234.1,477.8 L235.1,477.8 L236.1,477.8 L237.1,477.8 L238.1,477.7 L239.1,477.7 L240.1,477.7 L241.1,477.7 L242.1,477.6 L243.1,477.6 L244.1,477.6 L245.1,477.6 L246.1,477.5 L247.1,477.5 L248.1,477.5 L249.1,477.4 L250.1,477.4 L251.1,477.4 L252.1,477.3 L253.1,477.3 L254.1,477.3 L255.1,477.2 L256.1,477.2 L257.1,477.2 L258.1,477.1 L259.1,477.1 L260.1,477.1 L261.1,477.0 L262.1,477.0 L263.1,477.0 L264.1,476.9 L265.1,476.9 L266.1,476.8 L267.1,476.8 L268.1,476.7 L269.1,476.5 L270.1,476.3 L271.1,476.1 L272.1,475.9 L273.1,475.6 L274.1,475.2 L275.1,474.9 L276.1,474.5 L277.1,474.0 L278.1,473.6 L279.1,473.1 L280.1,472.6 L281.1,472.1 L282.1,471.5 L283.1,471.0 L284.1,470.5 L285.1,470.0 L286.1,469.6 L287.1,469.1 L288.1,468.7 L289.1,468.3 L290.1,467.9 L291.1,467.5 L292.1,467.1 L293.1,466.7 L294.1,466.4 L295.1,466.0 L296.1,465.7 L297.1,465.4 L298.1,465.1 L299.1,464.8 L300.1,464.6 L301.1,464.3 L302.1,464.1 L303.1,463.9 L304.1,463.7 L305.1,463.5 L306.1,463.3 L307.1,463.1 L308.1,462.9 L309.1,462.7 L310.1,462.4 L311.1,462.2 L312.1,461.9 L313.1,461.6 L314.1,461.3 L315.1,460.9 L316.1,460.6 L317.1,460.3 L318.1,459.9 L319.1,459.6 L320.1,459.2 L321.1,458.8 L322.1,458.4 L323.1,458.0 L324.1,457.5 L325.1,457.1 L326.1,456.5 L327.1,456.0 L328.1,455.5 L329.1,454.9 L330.1,454.4 L331.1,454.0 L332.1,453.5 L333.1,453.1 L334.1,452.8 L335.1,452.4 L336.1,452.1 L337.1,451.9 L338.1,451.6 L339.1,451.4 L340.1,451.3 L341.1,451.2 L342.1,451.2 L343.1,451.2 L344.1,451.2 L345.1,451.3 L346.1,451.4 L347.1,451.4 L348.1,451.5 L349.1,451.5 L350.1,451.5 L351.1,451.5 L352.1,451.5 L353.1,451.5 L354.1,451.4 L355.1,451.2 L356.1,451.0 L357.1,450.7 L358.1,450.4 L359.1,450.1 L360.1,449.7 L361.1,449.4 L362.1,449.1 L363.1,448.7 L364.1,448.4 L365.1,448.1 L366.1,447.8 L367.1,447.5 L368.1,447.2 L369.1,446.9 L370.1,446.6 L371.1,446.4 L372.1,446.3 L373.1,446.4 L374.1,446.6 L375.1,447.0 L376.1,447.6 L377.1,448.3 L378.1,449.0 L379.1,449.8 L380.1,450.7 L381.1,451.6 L382.1,452.5 L383.1,453.4 L384.1,454.3 L385.1,455.1 L386.1,455.9 L387.1,456.7 L388.1,457.4 L389.1,458.2 L390.1,458.9 L391.1,459.6 L392.1,460.2 L393.1,460.7 L394.1,461.3 L395.1,461.7 L396.1,462.1 L397.1,462.4 L398.1,462.7 L399.1,462.9 L400.1,463.1 L401.1,463.3 L402.1,463.5 L403.1,463.6 L404.1,463.7 L405.1,463.7 L406.1,463.7 L407.1,463.7 L408.1,463.6 L409.1,463.5 L410.1,463.3 L411.1,463.1 L412.1,462.9 L413.1,462.7 L414.1,462.6 L415.1,462.4 L416.1,462.3 L417.1,462.2 L418.1,462.1 L419.1,462.1 L420.1,462.1 L421.1,462.2 L422.1,462.3 L423.1,462.4 L424.1,462.6 L425.1,462.9 L426.1,463.1 L427.1,463.4 L428.1,463.6 L429.1,463.9 L430.1,464.2 L431.1,464.4 L432.1,464.7 L433.1,465.0 L434.1,465.3 L435.1,465.5 L436.1,465.8 L437.1,466.1 L438.1,466.4 L439.1,466.7 L440.1,466.9 L441.1,467.2 L442.1,467.5 L443.1,467.8 L444.1,468.1 L445.1,468.3 L446.1,468.6 L447.1,468.9 L448.1,469.2 L449.1,469.4 L450.1,469.7 L451.1,469.9 L452.1,470.1 L453.1,470.3 L454.1,470.5 L455.1,470.7 L456.1,470.9 L457.1,471.0 L458.1,471.2 L459.1,471.3 L460.1,471.4 L461.1,471.6 L462.1,471.7 L463.1,471.8 L464.1,472.0 L465.1,472.1 L466.1,472.2 L467.1,472.3 L468.1,472.5 L469.1,472.6 L470.1,472.7 L471.1,472.8 L472.1,472.9 L473.1,473.1 L474.1,473.2 L475.1,473.3 L476.1,473.4 L477.1,473.5 L478.1,473.7 L479.1,473.8 L480.1,473.9 L481.1,474.1 L482.1,474.2 L483.1,474.4 L484.1,474.5 L485.1,474.7 L486.1,474.8 L487.1,475.0 L488.1,475.2 L489.1,475.3 L490.1,475.5 L491.1,475.7 L492.1,475.9 L493.1,476.0 L494.1,476.2 L495.1,476.4 L496.1,476.6 L497.1,476.7 L498.1,476.9 L499.1,477.1 L500.1,477.3 L501.1,477.5 L502.1,477.7 L503.1,477.8 L504.1,478.0 L505.1,478.1 L506.1,478.2 L507.1,478.2 L508.1,478.3 L509.1,478.3 L510.1,478.3 L511.1,478.3 L512.1,478.3 L513.1,478.3 L514.1,478.3 L515.1,478.3 L516.1,478.3 L517.1,478.3 L518.1,478.3 L519.1,478.3 L520.1,478.3 L521.1,478.3 L522.1,478.3 L523.1,478.3 L524.1,478.3 L525.1,478.3 L526.1,478.3 L527.1,478.3 L528.1,478.3 L529.1,478.3 L530.1,478.3 L531.1,478.3 L532.1,478.3 L533.1,478.3 L534.1,478.3 L535.1,478.3 L536.1,478.3 L537.1,478.3 L538.1,478.3 L539.1,478.3 L540.1,478.3 L541.1,478.3 L542.1,478.3 L543.1,478.3 L544.1,478.3 L545.1,478.3 L546.1,478.3 L547.1,478.3 L548.1,478.2 L549.1,478.1 L550.1,478.0 L551.1,477.8 L552.1,477.6 L553.1,477.4 L554.1,477.1 L555.1,476.9 L556.1,476.7 L557.1,476.5 L558.1,476.4 L559.1,476.3 L560.1,476.3 L561.1,476.4 L562.1,476.6 L563.1,476.8 L564.1,477.0 L565.1,477.3 L566.1,477.6 L567.1,477.8 L568.1,478.0 L569.1,478.2 L570.1,478.3 L571.1,478.3 L572.1,478.3 L573.1,478.3 L574.1,478.3 L575.1,478.3 L576.1,478.3 L577.1,478.3 L578.1,478.3 L579.1,478.3 L580.1,478.3 L581.1,478.3 L582.1,478.3 L583.1,478.3 L584.1,478.3 L585.1,478.3 L586.1,478.3 L587.1,478.3 L588.1,478.3 L589.1,478.3 L590.1,478.3 L591.1,478.3 L592.1,478.3 L593.1,478.3 L594.1,478.3 L595.1,478.3 L596.1,478.3 L597.1,478.3 L598.1,478.3 L599.1,478.3 L600.1,478.3 L601.1,478.3 L602.1,478.3 L603.1,478.3 L604.1,478.3 L605.1,478.3 L606.1,478.3 L607.1,478.3 L608.1,478.3 L609.1,478.3 L610.1,478.3 L611.1,478.3 L612.1,478.3 L613.1,478.3 L614.1,478.3 L615.1,478.3 L616.1,478.3 L617.1,478.3 L618.1,478.3 L619.1,478.3 L620.1,478.3 L621.1,478.3 L622.1,478.3 L623.1,478.3 L624.1,478.3 L625.1,478.3 L626.1,478.3 L627.1,478.3 L628.1,478.3 L629.1,478.3 L630.1,478.3 L631.1,478.3 L632.1,478.3 L633.1,478.2 L634.1,478.0 L635.1,477.8 L636.1,477.4 L637.1,477.1 L638.1,476.6 L639.1,476.1 L640.1,475.5 L641.1,474.8 L642.1,473.9 L643.1,472.9 L644.1,471.8 L645.1,470.4 L646.1,468.8 L647.1,467.1 L648.1,465.1 L649.1,463.0 L650.1,460.8 L651.1,458.4 L652.1,455.9 L653.1,453.3 L654.1,450.5 L655.1,447.7 L656.1,444.8 L657.1,441.8 L658.1,438.8 L659.1,435.8 L660.1,432.9 L661.1,430.1 L662.1,427.5 L663.1,425.1 L664.1,422.7 L665.1,420.6 L666.1,418.6 L667.1,416.8 L668.1,415.2 L669.1,413.7 L670.1,412.4 L671.1,411.3 L672.1,410.3 L673.1,409.4 L674.1,408.6 L675.1,407.9 L676.1,407.1 L677.1,406.4 L678.1,405.7 L679.1,404.9 L680.1,404.1 L681.1,403.3 L682.1,402.4 L683.1,401.5 L684.1,400.6 L685.1,399.7 L686.1,398.9 L687.1,398.0 L688.1,397.2 L689.1,396.4 L690.1,395.8 L691.1,395.1 L692.1,394.6 L693.1,394.2 L694.1,393.9 L695.1,393.7 L696.1,393.5 L697.1,393.5 L698.1,393.6 L699.1,393.7 L700.1,393.9 L701.1,394.1 L702.1,394.5 L703.1,394.9 L704.1,395.3 L705.1,395.6 L706.1,395.9 L707.1,395.9 L708.1,395.9 L709.1,395.7 L710.1,395.3 L711.1,395.0 L712.1,394.6 L713.1,394.2 L714.1,393.8 L715.1,393.4 L716.1,393.1 L717.1,392.8 L718.1,392.5 L719.1,392.2 L720.1,391.9 L721.1,391.6 L722.1,391.3 L723.1,391.0 L724.1,390.7 L725.1,390.4 L726.1,390.1 L727.1,389.8 L728.1,389.5 L729.1,389.2 L730.1,388.9 L731.1,388.6 L732.1,388.3 L733.1,388.0 L734.1,387.7 L735.1,387.4 L736.1,387.2 L737.1,387.0 L738.1,386.9 L739.1,387.0 L740.1,387.1 L741.1,387.3 L742.1,387.7 L743.1,388.5 L744.1,389.5 L745.1,390.9 L746.1,392.7 L747.1,394.8 L748.1,397.2 L749.1,399.6 L750.1,402.1 L751.1,404.7 L752.1,407.1 L753.1,409.6 L754.1,412.0 L755.1,414.3 L756.1,416.7 L757.1,418.9 L758.1,421.1 L759.1,423.1 L760.1,424.9 L761.1,426.6 L762.1,428.0 L763.1,429.3 L764.1,430.4 L765.1,431.4 L766.1,432.4 L767.1,433.2 L768.1,434.1 L769.1,434.9 L770.1,435.6 L771.1,436.3 L772.1,436.9 L773.1,437.6 L774.1,438.1 L775.1,438.7 L776.1,439.2 L777.1,439.7 L778.1,440.2 L779.1,440.7 L780.1,441.1 L781.1,441.6 L782.1,441.9 L783.1,442.3 L784.1,442.6 L785.1,442.8 L786.1,443.0 L787.1,443.1 L788.1,443.2 L789.1,443.1 L790.1,442.9 L791.1,442.6 L792.1,442.0 L793.1,441.3 L794.1,440.5 L795.1,439.5 L796.1,438.5 L797.1,437.5 L798.1,436.5 L799.1,435.5 L800.1,434.6 L801.1,433.6 L802.1,432.7 L803.1,431.9 L804.1,431.0 L805.1,430.3 L806.1,429.6 L807.1,429.1 L808.1,428.8 L809.1,428.7 L810.1,428.8 L811.1,429.0 L812.1,429.5 L813.1,429.9 L814.1,430.4 L815.1,430.9 L816.1,431.4 L817.1,431.9 L818.1,432.4 L819.1,432.9 L820.1,433.4 L821.1,433.9 L822.1,434.4 L823.1,434.9 L824.1,435.4 L825.1,435.9 L826.1,436.4 L827.1,436.9 L828.1,437.3 L829.1,437.7 L830.1,438.0 L831.1,438.3 L832.1,438.6 L833.1,438.8 L834.1,438.9 L835.1,439.0 L836.1,439.1 L837.1,439.1 L838.1,439.0 L839.1,439.0 L840.1,438.9 L841.1,438.8 L842.1,438.7 L843.1,438.5 L844.1,438.4 L845.1,438.2 L846.1,438.0 L847.1,437.8 L848.1,437.6 L849.1,437.5 L850.1,437.4 L851.1,437.3 L852.1,437.3 L853.1,437.5 L854.1,437.8 L855.1,438.2 L856.1,438.7 L857.1,439.5 L858.1,440.4 L859.1,441.5 L860.1,442.7 L861.1,444.1 L862.1,445.5 L863.1,447.0 L864.1,448.6 L865.1,450.3 L866.1,452.1 L867.1,454.0 L868.1,455.9 L869.1,458.0 L870.1,460.0 L871.1,461.9 L872.1,463.7 L873.1,465.4 L874.1,466.9 L875.1,468.3 L876.1,469.5 L877.1,470.6 L878.1,471.5 L879.1,472.4 L880.1,473.1 L881.1,473.8 L882.1,474.3 L883.1,474.7 L884.1,475.0 L885.1,475.2 L886.1,475.4 L887.1,475.5 L888.1,475.7 L889.1,475.8 L890.1,475.9 L891.1,475.9 L892.1,476.0 L893.1,476.0 L894.1,476.1 L895.1,476.1 L896.1,476.1 L897.1,476.1 L898.1,476.2 L899.1,476.2 L900.1,476.2 L901.1,476.2 L902.1,476.3 L903.1,476.3 L904.1,476.3 L905.1,476.3 L906.1,476.4 L907.1,476.4 L908.1,476.4 L909.1,476.5 L910.1,476.5 L911.1,476.5 L912.1,476.5 L913.1,476.6 L914.1,476.6 L915.1,476.6 L916.1,476.6 L917.1,476.6 L918.1,476.6 L919.1,476.6 L920.1,476.6 L921.1,476.6 L922.1,476.6 L923.1,476.6 L924.1,476.6 L925.1,476.6 L926.1,476.6 L927.1,476.6 L928.1,476.6 L929.1,476.6 L930.1,476.6 L931.1,476.6 L932.1,476.6 L933.1,476.6 L934.1,476.6 L935.1,476.6 L936.1,476.6 L937.1,476.6 L938.1,476.6 L939.1,476.6 L940.1,476.6 L941.1,476.6 L942.1,476.6 L943.1,476.6 L944.1,476.6 L945.1,476.6 L946.1,476.6 L947.1,476.6 L948.1,476.6 L949.1,476.6 L950.1,476.6 L951.1,476.6 L952.1,476.6 L953.1,476.6 L954.1,476.6 L955.1,476.6 L956.1,476.6 L957.1,476.6 L958.1,476.6 L959.1,476.6 L960.1,476.6 L961.1,476.6 L962.1,476.6 L963.1,476.6 L964.1,476.6 L965.1,476.6 L966.1,476.6 L967.1,476.6 L968.1,476.6 L969.1,476.6 L970.1,476.6 L971.1,476.6 L972.1,476.6 L973.1,476.6 L974.1,476.6 L975.1,476.6 L976.1,476.6 L977.1,476.6 L978.1,476.6 L979.1,476.6 L980.1,476.6 L981.1,476.6 L982.1,476.6 L983.1,476.6 L984.1,476.6 L985.1,476.6 L986.1,476.6 L987.1,476.6 L988.1,476.6 L989.1,476.6 L990.1,476.6 L991.1,476.6 L992.1,476.6 L993.1,476.6 L994.1,476.6 L995.1,476.6 L996.1,476.6 L997.1,476.5 L998.1,476.5 L999.1,476.5 L1000.1,476.4 L1001.1,476.4 L1002.1,476.3 L1003.1,476.2 L1004.1,476.2 L1005.1,476.1 L1006.1,476.1 L1007.1,476.0 L1007.5,476.0" stroke="#0000ff"/>
<path d="M77.1,478.3 L78.1,478.3 L79.1,478.3 L80.1,478.3 L81.1,478.3 L82.1,478.3 L83.1,478.3 L84.1,478.3 L85.1,478.3 L86.1,478.3 L87.1,478.3 L88.1,478.3 L89.1,478.3 L90.1,478.3 L91.1,478.3 L92.1,478.3 L93.1,478.3 L94.1,478.3 L95.1,478.3 L96.1,478.3 L97.1,478.3 L98.1,478.3 L99.1,478.3 L100.1,478.3 L101.1,478.3 L102.1,478.3 L103.1,478.3 L104.1,478.3 L105.1,478.3 L106.1,478.3 L107.1,478.3 L108.1,478.3 L109.1,478.3 L110.1,478.3 L111.1,478.3 L112.1,478.3 L113.1,478.3 L114.1,478.3 L115.1,478.3 L116.1,478.3 L117.1,478.3 L118.1,478.3 L119.1,478.3 L120.1,478.3 L121.1,478.3 L122.1,478.3 L123.1,478.3 L124.1,478.3 L125.1,478.3 L126.1,478.3 L127.1,478.3 L128.1,478.3 L129.1,478.3 L130.1,478.3 L131.1,478.3 L132.1,478.3 L133.1,478.3 L134.1,478.3 L135.1,478.3 L136.1,478.3 L137.1,478.3 L138.1,478.3 L139.1,478.3 L140.1,478.3 L141.1,478.3 L142.1,478.3 L143.1,478.3 L144.1,478.3 L145.1,478.3 L146.1,478.3 L147.1,478.3 L148.1,478.3 L149.1,478.3 L150.1,478.3 L151.1,478.3 L152.1,478.3 L153.1,478.3 L154.1,478.3 L155.1,478.3 L156.1,478.3 L157.1,478.3 L158.1,478.3 L159.1,478.3 L160.1,478.3 L161.1,478.3 L162.1,478.3 L163.1,478.3 L164.1,478.3 L165.1,478.3 L166.1,478.3 L167.1,478.3 L168.1,478.3 L169.1,478.3 L170.1,478.3 L171.1,478.3 L172.1,478.3 L173.1,478.3 L174.1,478.3 L175.1,478.3 L176.1,478.3 L177.1,478.3 L178.1,478.3 L179.1,478.3 L180.1,478.3 L181.1,478.3 L182.1,478.2 L183.1,478.1 L184.1,477.9 L185.1,477.7 L186.1,477.4 L187.1,477.1 L188.1,476.8 L189.1,476.4 L190.1,475.9 L191.1,475.4 L192.1,474.9 L193.1,474.2 L194.1,473.5 L195.1,472.7 L196.1,471.9 L197.1,471.1 L198.1,470.4 L199.1,469.7 L200.1,469.0 L201.1,468.4 L202.1,467.9 L203.1,467.4 L204.1,466.9 L205.1,466.6 L206.1,466.3 L207.1,466.0 L208.1,465.8 L209.1,465.6 L210.1,465.5 L211.1,465.4 L212.1,465.3 L213.1,465.3 L214.1,465.2 L215.1,465.2 L216.1,465.2 L217.1,465.2 L218.1,465.3 L219.1,465.2 L220.1,465.2 L221.1,465.2 L222.1,465.1 L223.1,464.9 L224.1,464.7 L225.1,464.4 L226.1,464.1 L227.1,463.8 L228.1,463.4 L229.1,463.1 L230.1,462.8 L231.1,462.5 L232.1,462.2 L233.1,462.0 L234.1,461.7 L235.1,461.5 L236.1,461.4 L237.1,461.2 L238.1,461.1 L239.1,461.1 L240.1,461.1 L241.1,461.1 L242.1,461.2 L243.1,461.3 L244.1,461.5 L245.1,461.6 L246.1,461.7 L247.1,461.7 L248.1,461.8 L249.1,461.8 L250.1,461.8 L251.1,461.7 L252.1,461.6 L253.1,461.4 L254.1,461.2 L255.1,460.9 L256.1,460.5 L257.1,460.1 L258.1,459.7 L259.1,459.2 L260.1,458.7 L261.1,458.3 L262.1,457.8 L263.1,457.3 L264.1,456.8 L265.1,456.3 L266.1,455.8 L267.1,455.3 L268.1,454.9 L269.1,454.5 L270.1,454.2 L271.1,454.0 L272.1,453.9 L273.1,453.9 L274.1,454.1 L275.1,454.3 L276.1,454.6 L277.1,455.0 L278.1,455.6 L279.1,456.3 L280.1,457.1 L281.1,458.1 L282.1,459.3 L283.1,460.6 L284.1,462.0 L285.1,463.3 L286.1,464.6 L287.1,465.7 L288.1,466.7 L289.1,467.6 L290.1,468.5 L291.1,469.3 L292.1,469.9 L293.1,470.5 L294.1,471.0 L295.1,471.4 L296.1,471.7 L297.1,472.0 L298.1,472.2 L299.1,472.4 L300.1,472.6 L301.1,472.7 L302.1,472.8 L303.1,472.9 L304.1,472.9 L305.1,472.9 L306.1,472.9 L307.1,472.8 L308.1,472.8 L309.1,472.7 L310.1,472.7 L311.1,472.6 L312.1,472.6 L313.1,472.5 L314.1,472.5 L315.1,472.4 L316.1,472.4 L317.1,472.4 L318.1,472.4 L319.1,472.5 L320.1,472.6 L321.1,472.7 L322.1,472.9 L323.1,473.1 L324.1,473.3 L325.1,473.5 L326.1,473.7 L327.1,474.0 L328.1,474.2 L329.1,474.5 L330.1,474.7 L331.1,474.9 L332.1,475.2 L333.1,475.4 L334.1,475.6 L335.1,475.9 L336.1,476.1 L337.1,476.3 L338.1,476.5 L339.1,476.8 L340.1,477.0 L341.1,477.2 L342.1,477.4 L343.1,477.6 L344.1,477.8 L345.1,477.9 L346.1,478.1 L347.1,478.2 L348.1,478.3 L349.1,478.3 L350.1,478.3 L351.1,478.3 L352.1,478.3 L353.1,478.3 L354.1,478.3 L355.1,478.3 L356.1,478.3 L357.1,478.3 L358.1,478.3 L359.1,478.3 L360.1,478.3 L361.1,478.3 L362.1,478.2 L363.1,478.2 L364.1,478.2 L365.1,478.2 L366.1,478.1 L367.1,478.1 L368.1,478.1 L369.1,478.1 L370.1,478.0 L371.1,478.0 L372.1,478.0 L373.1,478.0 L374.1,477.9 L375.1,477.9 L376.1,477.9 L377.1,477.9 L378.1,477.9 L379.1,477.8 L380.1,477.8 L381.1,477.8 L382.1,477.8 L383.1,477.7 L384.1,477.7 L385.1,477.7 L386.1,477.7 L387.1,477.6 L388.1,477.6 L389.1,477.6 L390.1,477.6 L391.1,477.5 L392.1,477.5 L393.1,477.5 L394.1,477.5 L395.1,477.4 L396.1,477.4 L397.1,477.4 L398.1,477.4 L399.1,477.3 L400.1,477.3 L401.1,477.3 L402.1,477.3 L403.1,477.2 L404.1,477.2 L405.1,477.2 L406.1,477.2 L407.1,477.1 L408.1,477.1 L409.1,477.1 L410.1,477.1 L411.1,477.0 L412.1,477.0 L413.1,477.0 L414.1,477.0 L415.1,476.9 L416.1,476.9 L417.1,476.9 L418.1,476.8 L419.1,476.8 L420.1,476.8 L421.1,476.8 L422.1,476.7 L423.1,476.7 L424.1,476.7 L425.1,476.6 L426.1,476.6 L427.1,476.6 L428.1,476.6 L429.1,476.5 L430.1,476.5 L431.1,476.5 L432.1,476.4 L433.1,476.4 L434.1,476.4 L435.1,476.3 L436.1,476.3 L437.1,476.3 L438.1,476.3 L439.1,476.2 L440.1,476.2 L441.1,476.2 L442.1,476.1 L443.1,476.1 L444.1,476.1 L445.1,476.0 L446.1,476.0 L447.1,476.0 L448.1,475.9 L449.1,475.9 L450.1,475.8 L451.1,475.8 L452.1,475.8 L453.1,475.7 L454.1,475.7 L455.1,475.7 L456.1,475.6 L457.1,475.6 L458.1,475.6 L459.1,475.5 L460.1,475.5 L461.1,475.5 L462.1,475.4 L463.1,475.4 L464.1,475.3 L465.1,475.3 L466.1,475.3 L467.1,475.2 L468.1,475.2 L469.1,475.2 L470.1,475.1 L471.1,475.1 L472.1,475.1 L473.1,475.0 L474.1,475.0 L475.1,475.0 L476.1,474.9 L477.1,474.9 L478.1,474.9 L479.1,474.8 L480.1,474.8 L481.1,474.8 L482.1,474.7 L483.1,474.7 L484.1,474.7 L485.1,474.6 L486.1,474.6 L487.1,474.6 L488.1,474.6 L489.1,474.5 L490.1,474.5 L491.1,474.5 L492.1,474.5 L493.1,474.5 L494.1,474.4 L495.1,474.4 L496.1,474.4 L497.1,474.4 L498.1,474.4 L499.1,474.3 L500.1,474.3 L501.1,474.3 L502.1,474.3 L503.1,474.3 L504.1,474.3 L505.1,474.3 L506.1,474.3 L507.1,474.3 L508.1,474.4 L509.1,474.4 L510.1,474.6 L511.1,474.7 L512.1,474.9 L513.1,475.1 L514.1,475.3 L515.1,475.5 L516.1,475.8 L517.1,476.0 L518.1,476.2 L519.1,476.5 L520.1,476.7 L521.1,476.9 L522.1,477.1 L523.1,477.3 L524.1,477.5 L525.1,477.7 L526.1,477.9 L527.1,478.1 L528.1,478.3 L529.1,478.3 L530.1,478.3 L531.1,478.3 L532.1,478.3 L533.1,478.3 L534.1,478.3 L535.1,478.3 L536.1,478.3 L537.1,478.3 L538.1,478.3 L539.1,478.3 L540.1,478.2 L541.1,477.9 L542.1,477.6 L543.1,477.2 L544.1,476.9 L545.1,476.5 L546.1,476.1 L547.1,475.8 L548.1,475.4 L549.1,475.1 L550.1,474.7 L551.1,474.4 L552.1,474.1 L553.1,473.9 L554.1,473.6 L555.1,473.4 L556.1,473.2 L557.1,473.0 L558.1,472.9 L559.1,472.9 L560.1,472.9 L561.1,473.1 L562.1,473.3 L563.1,473.5 L564.1,473.8 L565.1,474.2 L566.1,474.6 L567.1,475.1 L568.1,475.7 L569.1,476.3 L570.1,476.9 L571.1,477.4 L572.1,477.8 L573.1,478.1 L574.1,478.2 L575.1,478.3 L576.1,478.3 L577.1,478.3 L578.1,478.3 L579.1,478.3 L580.1,478.3 L581.1,478.3 L582.1,478.3 L583.1,478.3 L584.1,478.3 L585.1,478.3 L586.1,478.3 L587.1,478.3 L588.1,478.3 L589.1,478.3 L590.1,478.3 L591.1,478.3 L592.1,478.3 L593.1,478.3 L594.1,478.3 L595.1,478.3 L596.1,478.3 L597.1,478.3 L598.1,478.3 L599.1,478.3 L600.1,478.3 L601.1,478.3 L602.1,478.3 L603.1,478.3 L604.1,478.3 L605.1,478.3 L606.1,478.3 L607.1,478.3 L608.1,478.3 L609.1,478.3 L610.1,478.3 L611.1,478.3 L612.1,478.3 L613.1,478.3 L614.1,478.3 L615.1,478.3 L616.1,478.3 L617.1,478.3 L618.1,478.3 L619.1,478.3 L620.1,478.3 L621.1,478.3 L622.1,478.3 L623.1,478.3 L624.1,478.3 L625.1,478.3 L626.1,478.3 L627.1,478.3 L628.1,478.3 L629.1,478.3 L630.1,478.3 L631.1,478.3 L632.1,478.3 L633.1,478.3 L634.1,478.3 L635.1,478.3 L636.1,478.3 L637.1,478.3 L638.1,478.3 L639.1,478.3 L640.1,478.3 L641.1,478.3 L642.1,478.3 L643.1,478.3 L644.1,478.3 L645.1,478.3 L646.1,478.3 L647.1,478.3 L648.1,478.3 L649.1,478.3 L650.1,478.3 L651.1,478.3 L652.1,478.3 L653.1,478.3 L654.1,478.3 L655.1,478.3 L656.1,478.3 L657.1,478.3 L658.1,478.3 L659.1,478.3 L660.1,478.3 L661.1,478.3 L662.1,478.3 L663.1,478.3 L664.1,478.3 L665.1,478.3 L666.1,478.3 L667.1,478.3 L668.1,478.3 L669.1,478.3 L670.1,478.3 L671.1,478.3 L672.1,478.3 L673.1,478.3 L674.1,478.3 L675.1,478.3 L676.1,478.3 L677.1,478.3 L678.1,478.3 L679.1,478.3 L680.1,478.3 L681.1,478.3 L682.1,478.3 L683.1,478.3 L684.1,478.3 L685.1,478.3 L686.1,478.3 L687.1,478.3 L688.1,478.3 L689.1,478.3 L690.1,478.3 L691.1,478.3 L692.1,478.3 L693.1,478.3 L694.1,478.3 L695.1,478.3 L696.1,478.3 L697.1,478.3 L698.1,478.3 L699.1,478.3 L700.1,478.3 L701.1,478.3 L702.1,478.3 L703.1,478.3 L704.1,478.3 L705.1,478.3 L706.1,478.3 L707.1,478.3 L708.1,478.3 L709.1,478.3 L710.1,478.3 L711.1,478.3 L712.1,478.3 L713.1,478.3 L714.1,478.3 L715.1,478.3 L716.1,478.3 L717.1,478.3 L718.1,478.3 L719.1,478.3 L720.1,478.3 L721.1,478.3 L722.1,478.3 L723.1,478.3 L724.1,478.3 L725.1,478.3 L726.1,478.3 L727.1,478.3 L728.1,478.3 L729.1,478.3 L730.1,478.3 L731.1,478.3 L732.1,478.3 L733.1,478.3 L734.1,478.3 L735.1,478.3 L736.1,478.3 L737.1,478.3 L738.1,478.3 L739.1,478.3 L740.1,478.3 L741.1,478.3 L742.1,478.3 L743.1,478.3 L744.1,478.3 L745.1,478.3 L746.1,478.3 L747.1,478.3 L748.1,478.3 L749.1,478.3 L750.1,478.3 L751.1,478.3 L752.1,478.3 L753.1,478.3 L754.1,478.3 L755.1,478.3 L756.1,478.3 L757.1,478.3 L758.1,478.3 L759.1,478.3 L760.1,478.3 L761.1,478.3 L762.1,478.3 L763.1,478.3 L764.1,478.3 L765.1,478.3 L766.1,478.3 L767.1,478.3 L768.1,478.3 L769.1,478.3 L770.1,478.3 L771.1,478.3 L772.1,478.3 L773.1,478.3 L774.1,478.3 L775.1,478.3 L776.1,478.3 L777.1,478.3 L778.1,478.3 L779.1,478.3 L780.1,478.3 L781.1,478.3 L782.1,478.3 L783.1,478.3 L784.1,478.3 L785.1,478.3 L786.1,478.3 L787.1,478.3 L788.1,478.3 L789.1,478.3 L790.1,478.3 L791.1,478.3 L792.1,478.3 L793.1,478.3 L794.1,478.3 L795.1,478.3 L796.1,478.3 L797.1,478.3 L798.1,478.3 L799.1,478.3 L800.1,478.3 L801.1,478.3 L802.1,478.3 L803.1,478.3 L804.1,478.3 L805.1,478.3 L806.1,478.3 L807.1,478.3 L808.1,478.3 L809.1,478.3 L810.1,478.3 L811.1,478.3 L812.1,478.3 L813.1,478.3 L814.1,478.3 L815.1,478.3 L816.1,478.3 L817.1,478.3 L818.1,478.3 L819.1,478.3 L820.1,478.3 L821.1,478.3 L822.1,478.3 L823.1,478.3 L824.1,478.3 L825.1,478.3 L826.1,478.3 L827.1,478.3 L828.1,478.3 L829.1,478.3 L830.1,478.3 L831.1,478.3 L832.1,478.3 L833.1,478.3 L834.1,478.3 L835.1,478.3 L836.1,478.3 L837.1,478.3 L838.1,478.3 L839.1,478.3 L840.1,478.3 L841.1,478.3 L842.1,478.3 L843.1,478.3 L844.1,478.3 L845.1,478.3 L846.1,478.3 L847.1,478.3 L848.1,478.3 L849.1,478.3 L850.1,478.3 L851.1,478.3 L852.1,478.3 L853.1,478.3 L854.1,478.3 L855.1,478.3 L856.1,478.3 L857.1,478.3 L858.1,478.3 L859.1,478.3 L860.1,478.3 L861.1,478.3 L862.1,478.3 L863.1,478.3 L864.1,478.3 L865.1,478.3 L866.1,478.3 L867.1,478.3 L868.1,478.3 L869.1,478.3 L870.1,478.3 L871.1,478.3 L872.1,478.3 L873.1,478.3 L874.1,478.3 L875.1,478.3 L876.1,478.3 L877.1,478.3 L878.1,478.3 L879.1,478.3 L880.1,478.3 L881.1,478.3 L882.1,478.3 L883.1,478.3 L884.1,478.3 L885.1,478.3 L886.1,478.3 L887.1,478.3 L888.1,478.3 L889.1,478.3 L890.1,478.3 L891.1,478.3 L892.1,478.3 L893.1,478.3 L894.1,478.3 L895.1,478.3 L896.1,478.3 L897.1,478.3 L898.1,478.3 L899.1,478.3 L900.1,478.3 L901.1,478.3 L902.1,478.3 L903.1,478.3 L904.1,478.3 L905.1,478.3 L906.1,478.3 L907.1,478.3 L908.1,478.3 L909.1,478.3 L910.1,478.3 L911.1,478.3 L912.1,478.3 L913.1,478.3 L914.1,478.3 L915.1,478.3 L916.1,478.3 L917.1,478.3 L918.1,478.3 L919.1,478.3 L920.1,478.3 L921.1,478.3 L922.1,478.3 L923.1,478.3 L924.1,478.3 L925.1,478.3 L926.1,478.3 L927.1,478.3 L928.1,478.3 L929.1,478.3 L930.1,478.3 L931.1,478.3 L932.1,478.3 L933.1,478.3 L934.1,478.3 L935.1,478.3 L936.1,478.3 L937.1,478.3 L938.1,478.3 L939.1,478.3 L940.1,478.3 L941.1,478.3 L942.1,478.3 L943.1,478.3 L944.1,478.3 L945.1,478.3 L946.1,478.3 L947.1,478.3 L948.1,478.3 L949.1,478.3 L950.1,478.3 L951.1,478.3 L952.1,478.3 L953.1,478.3 L954.1,478.3 L955.1,478.3 L956.1,478.3 L957.1,478.3 L958.1,478.3 L959.1,478.3 L960.1,478.3 L961.1,478.3 L962.1,478.3 L963.1,478.3 L964.1,478.3 L965.1,478.3 L966.1,478.3 L967.1,478.3 L968.1,478.3 L969.1,478.3 L970.1,478.3 L971.1,478.3 L972.1,478.3 L973.1,478.3 L974.1,478.3 L975.1,478.3 L976.1,478.3 L977.1,478.3 L978.1,478.3 L979.1,478.3 L980.1,478.3 L981.1,478.3 L982.1,478.3 L983.1,478.3 L984.1,478.3 L985.1,478.3 L986.1,478.3 L987.1,478.3 L988.1,478.3 L989.1,478.3 L990.1,478.3 L991.1,478.3 L992.1,478.3 L993.1,478.3 L994.1,478.3 L995.1,478.3 L996.1,478.3 L997.1,478.3 L998.1,478.3 L999.1,478.3 L1000.1,478.3 L1001.1,478.3 L1002.1,478.3 L1003.1,478.3 L1004.1,478.3 L1005.1,478.3 L1006.1,478.3 L1007.1,478.3 L1007.5,478.3" stroke="#ff00ff"/>
</g>
<g fill="none" stroke-width="2.6" stroke-linejoin="round" stroke-linecap="butt">
<path d="M77.1,636.1 L78.1,636.1 L79.1,636.1 L80.1,636.1 L81.1,636.1 L82.1,636.1 L83.1,636.1 L84.1,636.1 L85.1,636.1 L86.1,636.1 L87.1,636.1 L88.1,636.1 L89.1,636.1 L90.1,636.1 L91.1,636.1 L92.1,636.1 L93.1,636.1 L94.1,636.1 L95.1,636.1 L96.1,636.1 L97.1,636.0 L98.1,635.8 L99.1,635.5 L100.1,635.2 L101.1,634.8 L102.1,634.4 L103.1,633.8 L104.1,633.2 L105.1,632.5 L106.1,631.7 L107.1,630.7 L108.1,629.7 L109.1,628.6 L110.1,627.5 L111.1,626.3 L112.1,625.1 L113.1,623.8 L114.1,622.6 L115.1,621.3 L116.1,620.0 L117.1,618.6 L118.1,617.2 L119.1,615.8 L120.1,614.4 L121.1,613.0 L122.1,611.5 L123.1,610.1 L124.1,608.7 L125.1,607.4 L126.1,606.1 L127.1,604.9 L128.1,603.9 L129.1,602.9 L130.1,602.1 L131.1,601.3 L132.1,600.6 L133.1,600.0 L134.1,599.4 L135.1,598.9 L136.1,598.4 L137.1,598.0 L138.1,597.8 L139.1,597.7 L140.1,597.8 L141.1,598.1 L142.1,598.5 L143.1,598.9 L144.1,599.4 L145.1,600.0 L146.1,600.5 L147.1,601.0 L148.1,601.5 L149.1,601.9 L150.1,602.3 L151.1,602.7 L152.1,603.1 L153.1,603.5 L154.1,603.7 L155.1,603.9 L156.1,603.9 L157.1,603.6 L158.1,602.9 L159.1,601.7 L160.1,600.1 L161.1,598.2 L162.1,596.0 L163.1,593.7 L164.1,591.4 L165.1,588.9 L166.1,586.5 L167.1,584.0 L168.1,581.5 L169.1,579.0 L170.1,576.5 L171.1,574.0 L172.1,571.5 L173.1,569.1 L174.1,566.8 L175.1,564.6 L176.1,562.7 L177.1,560.9 L178.1,559.4 L179.1,558.1 L180.1,557.1 L181.1,556.1 L182.1,555.3 L183.1,554.6 L184.1,554.0 L185.1,553.5 L186.1,553.1 L187.1,552.7 L188.1,552.4 L189.1,552.0 L190.1,551.7 L191.1,551.3 L192.1,550.8 L193.1,550.3 L194.1,549.6 L195.1,548.8 L196.1,547.9 L197.1,546.7 L198.1,545.4 L199.1,543.9 L200.1,542.4 L201.1,540.8 L202.1,539.2 L203.1,537.5 L204.1,535.8 L205.1,534.1 L206.1,532.4 L207.1,530.7 L208.1,528.9 L209.1,527.2 L210.1,525.4 L211.1,523.6 L212.1,521.9 L213.1,520.2 L214.1,518.6 L215.1,517.1 L216.1,515.6 L217.1,514.3 L218.1,513.0 L219.1,511.9 L220.1,510.9 L221.1,510.0 L222.1,509.2 L223.1,508.5 L224.1,507.8 L225.1,507.3 L226.1,506.8 L227.1,506.4 L228.1,506.1 L229.1,505.8 L230.1,505.5 L231.1,505.4 L232.1,505.2 L233.1,505.2 L234.1,505.1 L235.1,505.0 L236.1,504.8 L237.1,504.6 L238.1,504.2 L239.1,503.8 L240.1,503.2 L241.1,502.5 L242.1,501.6 L243.1,500.5 L244.1,499.3 L245.1,497.9 L246.1,496.4 L247.1,494.9 L248.1,493.4 L249.1,491.9 L250.1,490.6 L251.1,489.3 L252.1,488.1 L253.1,487.0 L254.1,486.0 L255.1,485.2 L256.1,484.8 L257.1,484.6 L258.1,484.7 L259.1,485.1 L260.1,485.8 L261.1,486.8 L262.1,488.1 L263.1,489.8 L264.1,492.1 L265.1,494.9 L266.1,498.1 L267.1,501.5 L268.1,504.9 L269.1,508.4 L270.1,511.9 L271.1,515.4 L272.1,518.8 L273.1,522.0 L274.1,524.9 L275.1,527.5 L276.1,529.7 L277.1,531.5 L278.1,533.1 L279.1,534.5 L280.1,535.6 L281.1,536.4 L282.1,537.0 L283.1,537.4 L284.1,537.5 L285.1,537.3 L286.1,537.0 L287.1,536.5 L288.1,535.8 L289.1,534.9 L290.1,533.7 L291.1,532.4 L292.1,531.0 L293.1,529.4 L294.1,527.7 L295.1,526.0 L296.1,524.4 L297.1,522.8 L298.1,521.2 L299.1,519.8 L300.1,518.4 L301.1,517.0 L302.1,515.7 L303.1,514.5 L304.1,513.3 L305.1,512.1 L306.1,511.1 L307.1,510.1 L308.1,509.3 L309.1,508.6 L310.1,508.1 L311.1,507.8 L312.1,507.7 L313.1,507.8 L314.1,508.0 L315.1,508.5 L316.1,509.0 L317.1,509.7 L318.1,510.5 L319.1,511.5 L320.1,512.5 L321.1,513.6 L322.1,514.7 L323.1,515.8 L324.1,516.9 L325.1,518.0 L326.1,519.1 L327.1,520.2 L328.1,521.3 L329.1,522.3 L330.1,523.4 L331.1,524.4 L332.1,525.4 L333.1,526.3 L334.1,527.3 L335.1,528.3 L336.1,529.3 L337.1,530.3 L338.1,531.4 L339.1,532.5 L340.1,533.7 L341.1,535.0 L342.1,536.3 L343.1,537.8 L344.1,539.3 L345.1,540.8 L346.1,542.5 L347.1,544.2 L348.1,546.0 L349.1,547.9 L350.1,550.0 L351.1,552.2 L352.1,554.5 L353.1,557.0 L354.1,559.6 L355.1,562.3 L356.1,565.0 L357.1,567.8 L358.1,570.5 L359.1,573.2 L360.1,576.0 L361.1,578.7 L362.1,581.5 L363.1,584.2 L364.1,587.0 L365.1,589.7 L366.1,592.5 L367.1,595.2 L368.1,598.0 L369.1,600.7 L370.1,603.4 L371.1,606.0 L372.1,608.6 L373.1,611.0 L374.1,613.4 L375.1,615.7 L376.1,617.9 L377.1,620.0 L378.1,622.0 L379.1,623.9 L380.1,625.6 L381.1,627.1 L382.1,628.4 L383.1,629.6 L384.1,630.5 L385.1,631.4 L386.1,632.2 L387.1,632.8 L388.1,633.4 L389.1,633.9 L390.1,634.4 L391.1,634.8 L392.1,635.1 L393.1,635.5 L394.1,635.7 L395.1,636.0 L396.1,636.1 L397.1,636.1 L398.1,636.1 L399.1,636.1 L400.1,636.1 L401.1,636.1 L402.1,636.1 L403.1,636.1 L404.1,636.1 L405.1,636.1 L406.1,636.1 L407.1,636.1 L408.1,636.1 L409.1,636.1 L410.1,636.1 L411.1,636.1 L412.1,636.1 L413.1,636.1 L414.1,636.1 L415.1,636.1 L416.1,636.1 L417.1,636.1 L418.1,636.1 L419.1,636.1 L420.1,636.1 L421.1,636.1 L422.1,636.1 L423.1,636.1 L424.1,636.1 L425.1,636.1 L426.1,636.1 L427.1,636.1 L428.1,636.1 L429.1,636.1 L430.1,636.1 L431.1,636.1 L432.1,636.1 L433.1,636.1 L434.1,636.1 L435.1,636.1 L436.1,636.1 L437.1,636.1 L438.1,636.1 L439.1,636.1 L440.1,636.1 L441.1,636.1 L442.1,636.1 L443.1,636.1 L444.1,636.1 L445.1,636.1 L446.1,636.1 L447.1,636.1 L448.1,636.1 L449.1,636.1 L450.1,636.1 L451.1,636.1 L452.1,636.1 L453.1,636.1 L454.1,636.1 L455.1,636.1 L456.1,636.1 L457.1,636.1 L458.1,636.1 L459.1,636.1 L460.1,636.1 L461.1,636.1 L462.1,636.1 L463.1,636.1 L464.1,636.1 L465.1,636.1 L466.1,636.1 L467.1,636.1 L468.1,636.1 L469.1,636.1 L470.1,636.1 L471.1,636.1 L472.1,636.1 L473.1,636.1 L474.1,636.1 L475.1,636.1 L476.1,636.1 L477.1,636.0 L478.1,635.8 L479.1,635.5 L480.1,635.2 L481.1,634.7 L482.1,634.2 L483.1,633.5 L484.1,632.8 L485.1,631.9 L486.1,630.9 L487.1,629.8 L488.1,628.5 L489.1,627.2 L490.1,625.8 L491.1,624.3 L492.1,622.7 L493.1,621.1 L494.1,619.4 L495.1,617.6 L496.1,615.8 L497.1,614.0 L498.1,612.3 L499.1,610.6 L500.1,608.9 L501.1,607.4 L502.1,606.0 L503.1,604.6 L504.1,603.3 L505.1,602.1 L506.1,600.9 L507.1,599.8 L508.1,598.8 L509.1,597.8 L510.1,597.0 L511.1,596.1 L512.1,595.4 L513.1,594.7 L514.1,594.1 L515.1,593.6 L516.1,593.2 L517.1,592.8 L518.1,592.6 L519.1,592.4 L520.1,592.3 L521.1,592.3 L522.1,592.4 L523.1,592.6 L524.1,592.9 L525.1,593.3 L526.1,593.6 L527.1,593.9 L528.1,594.2 L529.1,594.4 L530.1,594.5 L531.1,594.6 L532.1,594.7 L533.1,594.6 L534.1,594.4 L535.1,594.1 L536.1,593.5 L537.1,592.6 L538.1,591.4 L539.1,589.8 L540.1,587.8 L541.1,585.5 L542.1,583.0 L543.1,580.4 L544.1,577.7 L545.1,574.8 L546.1,571.9 L547.1,568.9 L548.1,565.9 L549.1,562.9 L550.1,559.9 L551.1,557.1 L552.1,554.4 L553.1,552.0 L554.1,549.7 L555.1,547.7 L556.1,545.9 L557.1,544.2 L558.1,542.7 L559.1,541.2 L560.1,539.8 L561.1,538.5 L562.1,537.2 L563.1,536.1 L564.1,534.9 L565.1,533.9 L566.1,532.9 L567.1,532.0 L568.1,531.1 L569.1,530.2 L570.1,529.4 L571.1,528.5 L572.1,527.6 L573.1,526.7 L574.1,525.8 L575.1,524.8 L576.1,523.8 L577.1,522.8 L578.1,521.8 L579.1,521.0 L580.1,520.2 L581.1,519.7 L582.1,519.3 L583.1,519.2 L584.1,519.3 L585.1,519.5 L586.1,519.9 L587.1,520.6 L588.1,521.3 L589.1,522.3 L590.1,523.4 L591.1,524.7 L592.1,526.2 L593.1,527.7 L594.1,529.4 L595.1,531.0 L596.1,532.5 L597.1,533.9 L598.1,535.1 L599.1,536.2 L600.1,537.1 L601.1,537.8 L602.1,538.4 L603.1,538.8 L604.1,539.0 L605.1,538.9 L606.1,538.7 L607.1,538.1 L608.1,537.3 L609.1,536.3 L610.1,535.0 L611.1,533.4 L612.1,531.6 L613.1,529.8 L614.1,527.8 L615.1,525.9 L616.1,524.2 L617.1,522.6 L618.1,521.2 L619.1,520.0 L620.1,518.9 L621.1,518.0 L622.1,517.3 L623.1,516.8 L624.1,516.6 L625.1,516.6 L626.1,516.9 L627.1,517.5 L628.1,518.3 L629.1,519.4 L630.1,520.7 L631.1,522.1 L632.1,523.8 L633.1,525.7 L634.1,527.5 L635.1,529.3 L636.1,531.0 L637.1,532.6 L638.1,534.0 L639.1,535.4 L640.1,536.7 L641.1,537.9 L642.1,539.2 L643.1,540.3 L644.1,541.5 L645.1,542.6 L646.1,543.6 L647.1,544.6 L648.1,545.6 L649.1,546.5 L650.1,547.5 L651.1,548.6 L652.1,549.7 L653.1,551.1 L654.1,552.6 L655.1,554.2 L656.1,556.0 L657.1,557.8 L658.1,559.7 L659.1,561.5 L660.1,563.2 L661.1,564.7 L662.1,566.2 L663.1,567.6 L664.1,568.9 L665.1,570.2 L666.1,571.4 L667.1,572.4 L668.1,573.4 L669.1,574.3 L670.1,575.0 L671.1,575.6 L672.1,576.1 L673.1,576.4 L674.1,576.6 L675.1,576.7 L676.1,576.7 L677.1,576.6 L678.1,576.4 L679.1,576.1 L680.1,575.6 L681.1,575.1 L682.1,574.5 L683.1,573.8 L684.1,573.0 L685.1,572.2 L686.1,571.3 L687.1,570.5 L688.1,569.7 L689.1,568.8 L690.1,568.0 L691.1,567.2 L692.1,566.4 L693.1,565.7 L694.1,564.9 L695.1,564.1 L696.1,563.4 L697.1,562.7 L698.1,562.1 L699.1,561.6 L700.1,561.2 L701.1,560.8 L702.1,560.6 L703.1,560.4 L704.1,560.2 L705.1,560.1 L706.1,560.1 L707.1,560.0 L708.1,560.1 L709.1,560.1 L710.1,560.1 L711.1,560.2 L712.1,560.1 L713.1,560.1 L714.1,559.9 L715.1,559.7 L716.1,559.4 L717.1,559.1 L718.1,558.8 L719.1,558.5 L720.1,558.2 L721.1,557.9 L722.1,557.6 L723.1,557.3 L724.1,557.0 L725.1,556.8 L726.1,556.5 L727.1,556.3 L728.1,556.1 L729.1,555.9 L730.1,555.7 L731.1,555.5 L732.1,555.4 L733.1,555.2 L734.1,555.1 L735.1,555.1 L736.1,555.1 L737.1,555.2 L738.1,555.4 L739.1,555.6 L740.1,556.0 L741.1,556.5 L742.1,557.1 L743.1,557.8 L744.1,558.7 L745.1,559.7 L746.1,560.7 L747.1,561.9 L748.1,563.1 L749.1,564.4 L750.1,565.7 L751.1,567.0 L752.1,568.2 L753.1,569.4 L754.1,570.5 L755.1,571.5 L756.1,572.5 L757.1,573.4 L758.1,574.3 L759.1,575.1 L760.1,575.9 L761.1,576.5 L762.1,577.1 L763.1,577.5 L764.1,577.9 L765.1,578.2 L766.1,578.6 L767.1,578.9 L768.1,579.3 L769.1,579.8 L770.1,580.4 L771.1,581.0 L772.1,581.7 L773.1,582.4 L774.1,583.2 L775.1,584.0 L776.1,584.8 L777.1,585.7 L778.1,586.6 L779.1,587.6 L780.1,588.6 L781.1,589.6 L782.1,590.6 L783.1,591.6 L784.1,592.6 L785.1,593.6 L786.1,594.5 L787.1,595.3 L788.1,596.2 L789.1,596.9 L790.1,597.7 L791.1,598.4 L792.1,599.0 L793.1,599.6 L794.1,600.1 L795.1,600.5 L796.1,600.7 L797.1,601.0 L798.1,601.1 L799.1,601.3 L800.1,601.6 L801.1,601.9 L802.1,602.2 L803.1,602.6 L804.1,603.1 L805.1,603.5 L806.1,603.8 L807.1,604.1 L808.1,604.4 L809.1,604.5 L810.1,604.6 L811.1,604.5 L812.1,604.4 L813.1,604.2 L814.1,603.7 L815.1,603.1 L816.1,602.4 L817.1,601.5 L818.1,600.6 L819.1,599.6 L820.1,598.6 L821.1,597.6 L822.1,596.5 L823.1,595.4 L824.1,594.2 L825.1,593.1 L826.1,591.9 L827.1,590.8 L828.1,589.7 L829.1,588.6 L830.1,587.6 L831.1,586.7 L832.1,585.9 L833.1,585.2 L834.1,584.5 L835.1,584.0 L836.1,583.4 L837.1,583.0 L838.1,582.7 L839.1,582.4 L840.1,582.1 L841.1,582.0 L842.1,581.8 L843.1,581.5 L844.1,581.2 L845.1,580.9 L846.1,580.4 L847.1,579.8 L848.1,579.1 L849.1,578.3 L850.1,577.3 L851.1,576.1 L852.1,574.8 L853.1,573.4 L854.1,571.8 L855.1,570.1 L856.1,568.4 L857.1,566.7 L858.1,565.1 L859.1,563.7 L860.1,562.3 L861.1,561.1 L862.1,560.0 L863.1,558.9 L864.1,558.0 L865.1,557.2 L866.1,556.6 L867.1,556.3 L868.1,556.3 L869.1,556.5 L870.1,557.0 L871.1,557.8 L872.1,559.0 L873.1,560.5 L874.1,562.4 L875.1,564.7 L876.1,567.0 L877.1,569.4 L878.1,571.7 L879.1,573.8 L880.1,575.7 L881.1,577.5 L882.1,579.1 L883.1,580.5 L884.1,581.7 L885.1,582.7 L886.1,583.4 L887.1,583.8 L888.1,583.8 L889.1,583.5 L890.1,583.0 L891.1,582.3 L892.1,581.4 L893.1,580.5 L894.1,579.3 L895.1,578.1 L896.1,576.7 L897.1,575.3 L898.1,573.9 L899.1,572.6 L900.1,571.5 L901.1,570.8 L902.1,570.4 L903.1,570.2 L904.1,570.4 L905.1,570.8 L906.1,571.3 L907.1,571.9 L908.1,572.6 L909.1,573.5 L910.1,574.4 L911.1,575.5 L912.1,576.5 L913.1,577.6 L914.1,578.5 L915.1,579.3 L916.1,579.7 L917.1,579.9 L918.1,579.8 L919.1,579.4 L920.1,578.9 L921.1,578.2 L922.1,577.4 L923.1,576.6 L924.1,575.8 L925.1,575.0 L926.1,574.2 L927.1,573.6 L928.1,572.9 L929.1,572.4 L930.1,571.8 L931.1,571.2 L932.1,570.7 L933.1,570.1 L934.1,569.6 L935.1,569.1 L936.1,568.6 L937.1,568.1 L938.1,567.7 L939.1,567.3 L940.1,567.0 L941.1,566.7 L942.1,566.4 L943.1,566.2 L944.1,566.0 L945.1,565.8 L946.1,565.6 L947.1,565.5 L948.1,565.3 L949.1,565.2 L950.1,565.1 L951.1,565.0 L952.1,565.0 L953.1,564.9 L954.1,564.9 L955.1,564.8 L956.1,564.8 L957.1,564.8 L958.1,564.8 L959.1,564.8 L960.1,564.8 L961.1,564.8 L962.1,564.8 L963.1,564.8 L964.1,564.9 L965.1,564.9 L966.1,565.0 L967.1,565.1 L968.1,565.3 L969.1,565.4 L970.1,565.5 L971.1,565.7 L972.1,565.8 L973.1,566.0 L974.1,566.2 L975.1,566.3 L976.1,566.4 L977.1,566.6 L978.1,566.7 L979.1,566.8 L980.1,566.8 L981.1,566.9 L982.1,566.9 L983.1,566.9 L984.1,566.8 L985.1,566.8 L986.1,566.7 L987.1,566.6 L988.1,566.5 L989.1,566.3 L990.1,566.1 L991.1,565.9 L992.1,565.7 L993.1,565.5 L994.1,565.2 L995.1,565.0 L996.1,564.7 L997.1,564.4 L998.1,564.1 L999.1,563.7 L1000.1,563.4 L1001.1,563.0 L1002.1,562.6 L1003.1,562.2 L1004.1,561.8 L1005.1,561.4 L1006.1,561.0 L1007.1,560.6 L1007.8,560.4" stroke="#000000"/>
<path d="M77.1,636.1 L78.1,636.1 L79.1,636.1 L80.1,636.1 L81.1,636.1 L82.1,636.1 L83.1,636.1 L84.1,636.1 L85.1,636.1 L86.1,636.1 L87.1,636.1 L88.1,636.1 L89.1,636.1 L90.1,636.1 L91.1,636.1 L92.1,636.1 L93.1,636.1 L94.1,636.1 L95.1,636.1 L96.1,636.1 L97.1,636.1 L98.1,636.1 L99.1,636.0 L100.1,635.8 L101.1,635.5 L102.1,635.2 L103.1,634.9 L104.1,634.5 L105.1,634.0 L106.1,633.5 L107.1,632.9 L108.1,632.2 L109.1,631.4 L110.1,630.6 L111.1,629.8 L112.1,628.9 L113.1,628.1 L114.1,627.2 L115.1,626.3 L116.1,625.5 L117.1,624.6 L118.1,623.7 L119.1,622.8 L120.1,621.9 L121.1,621.0 L122.1,620.1 L123.1,619.2 L124.1,618.3 L125.1,617.4 L126.1,616.5 L127.1,615.6 L128.1,614.8 L129.1,614.0 L130.1,613.3 L131.1,612.7 L132.1,612.3 L133.1,611.9 L134.1,611.6 L135.1,611.3 L136.1,611.2 L137.1,611.0 L138.1,611.0 L139.1,611.0 L140.1,611.0 L141.1,611.0 L142.1,611.2 L143.1,611.3 L144.1,611.5 L145.1,611.7 L146.1,612.0 L147.1,612.3 L148.1,612.7 L149.1,613.0 L150.1,613.4 L151.1,613.7 L152.1,613.9 L153.1,614.1 L154.1,614.1 L155.1,614.0 L156.1,613.8 L157.1,613.4 L158.1,612.8 L159.1,612.0 L160.1,611.0 L161.1,609.7 L162.1,608.2 L163.1,606.5 L164.1,604.6 L165.1,602.6 L166.1,600.5 L167.1,598.4 L168.1,596.4 L169.1,594.4 L170.1,592.5 L171.1,590.7 L172.1,588.9 L173.1,587.2 L174.1,585.6 L175.1,584.1 L176.1,582.8 L177.1,581.8 L178.1,580.9 L179.1,580.1 L180.1,579.5 L181.1,579.0 L182.1,578.5 L183.1,578.0 L184.1,577.6 L185.1,577.2 L186.1,576.8 L187.1,576.4 L188.1,576.0 L189.1,575.6 L190.1,575.3 L191.1,574.9 L192.1,574.5 L193.1,574.1 L194.1,573.6 L195.1,573.0 L196.1,572.3 L197.1,571.5 L198.1,570.6 L199.1,569.7 L200.1,568.6 L201.1,567.5 L202.1,566.3 L203.1,565.0 L204.1,563.6 L205.1,562.2 L206.1,560.8 L207.1,559.3 L208.1,557.9 L209.1,556.5 L210.1,555.1 L211.1,553.7 L212.1,552.4 L213.1,551.1 L214.1,549.9 L215.1,548.7 L216.1,547.5 L217.1,546.5 L218.1,545.5 L219.1,544.6 L220.1,543.8 L221.1,543.2 L222.1,542.6 L223.1,542.1 L224.1,541.6 L225.1,541.2 L226.1,540.7 L227.1,540.4 L228.1,540.0 L229.1,539.7 L230.1,539.4 L231.1,539.2 L232.1,538.9 L233.1,538.6 L234.1,538.4 L235.1,538.0 L236.1,537.7 L237.1,537.2 L238.1,536.7 L239.1,536.1 L240.1,535.5 L241.1,534.7 L242.1,534.0 L243.1,533.1 L244.1,532.2 L245.1,531.3 L246.1,530.3 L247.1,529.3 L248.1,528.1 L249.1,527.0 L250.1,525.8 L251.1,524.6 L252.1,523.6 L253.1,522.6 L254.1,521.8 L255.1,521.2 L256.1,520.8 L257.1,520.6 L258.1,520.6 L259.1,521.0 L260.1,521.6 L261.1,522.7 L262.1,524.1 L263.1,525.8 L264.1,527.6 L265.1,529.6 L266.1,531.7 L267.1,533.9 L268.1,536.2 L269.1,538.5 L270.1,540.9 L271.1,543.2 L272.1,545.4 L273.1,547.4 L274.1,549.2 L275.1,550.8 L276.1,552.2 L277.1,553.3 L278.1,554.3 L279.1,555.2 L280.1,555.9 L281.1,556.4 L282.1,556.7 L283.1,556.9 L284.1,556.9 L285.1,556.8 L286.1,556.5 L287.1,556.1 L288.1,555.4 L289.1,554.6 L290.1,553.5 L291.1,552.3 L292.1,550.9 L293.1,549.4 L294.1,547.9 L295.1,546.4 L296.1,544.9 L297.1,543.4 L298.1,541.9 L299.1,540.5 L300.1,539.0 L301.1,537.6 L302.1,536.2 L303.1,534.9 L304.1,533.5 L305.1,532.2 L306.1,530.9 L307.1,529.8 L308.1,528.7 L309.1,527.8 L310.1,527.1 L311.1,526.6 L312.1,526.2 L313.1,526.0 L314.1,526.0 L315.1,526.1 L316.1,526.3 L317.1,526.6 L318.1,527.1 L319.1,527.7 L320.1,528.3 L321.1,529.1 L322.1,529.8 L323.1,530.6 L324.1,531.4 L325.1,532.2 L326.1,533.0 L327.1,533.8 L328.1,534.6 L329.1,535.4 L330.1,536.2 L331.1,537.0 L332.1,537.8 L333.1,538.6 L334.1,539.4 L335.1,540.2 L336.1,541.0 L337.1,541.8 L338.1,542.6 L339.1,543.4 L340.1,544.3 L341.1,545.2 L342.1,546.2 L343.1,547.3 L344.1,548.5 L345.1,550.0 L346.1,551.6 L347.1,553.5 L348.1,555.5 L349.1,557.6 L350.1,559.8 L351.1,562.1 L352.1,564.3 L353.1,566.6 L354.1,568.8 L355.1,571.1 L356.1,573.3 L357.1,575.6 L358.1,577.8 L359.1,580.1 L360.1,582.3 L361.1,584.6 L362.1,586.8 L363.1,589.1 L364.1,591.4 L365.1,593.8 L366.1,596.2 L367.1,598.8 L368.1,601.3 L369.1,603.9 L370.1,606.4 L371.1,608.8 L372.1,611.2 L373.1,613.4 L374.1,615.6 L375.1,617.6 L376.1,619.6 L377.1,621.5 L378.1,623.2 L379.1,624.9 L380.1,626.5 L381.1,628.0 L382.1,629.3 L383.1,630.5 L384.1,631.6 L385.1,632.6 L386.1,633.4 L387.1,634.2 L388.1,634.8 L389.1,635.3 L390.1,635.7 L391.1,635.9 L392.1,636.0 L393.1,636.1 L394.1,636.1 L395.1,636.1 L396.1,636.1 L397.1,636.1 L398.1,636.1 L399.1,636.1 L400.1,636.1 L401.1,636.1 L402.1,636.1 L403.1,636.1 L404.1,636.1 L405.1,636.1 L406.1,636.1 L407.1,636.1 L408.1,636.1 L409.1,636.1 L410.1,636.1 L411.1,636.1 L412.1,636.1 L413.1,636.1 L414.1,636.1 L415.1,636.1 L416.1,636.1 L417.1,636.1 L418.1,636.1 L419.1,636.1 L420.1,636.1 L421.1,636.1 L422.1,636.1 L423.1,636.1 L424.1,636.1 L425.1,636.1 L426.1,636.1 L427.1,636.1 L428.1,636.1 L429.1,636.1 L430.1,636.1 L431.1,636.1 L432.1,636.1 L433.1,636.1 L434.1,636.1 L435.1,636.1 L436.1,636.1 L437.1,636.1 L438.1,636.1 L439.1,636.1 L440.1,636.1 L441.1,636.1 L442.1,636.1 L443.1,636.1 L444.1,636.1 L445.1,636.1 L446.1,636.1 L447.1,636.1 L448.1,636.1 L449.1,636.1 L450.1,636.1 L451.1,636.1 L452.1,636.1 L453.1,636.1 L454.1,636.1 L455.1,636.1 L456.1,636.1 L457.1,636.1 L458.1,636.1 L459.1,636.1 L460.1,636.1 L461.1,636.1 L462.1,636.1 L463.1,636.1 L464.1,636.1 L465.1,636.1 L466.1,636.1 L467.1,636.1 L468.1,636.1 L469.1,636.1 L470.1,636.1 L471.1,636.1 L472.1,636.1 L473.1,636.1 L474.1,636.1 L475.1,636.1 L476.1,636.1 L477.1,636.1 L478.1,636.1 L479.1,636.1 L480.1,636.1 L481.1,636.1 L482.1,636.1 L483.1,636.0 L484.1,635.9 L485.1,635.8 L486.1,635.6 L487.1,635.4 L488.1,635.1 L489.1,634.8 L490.1,634.5 L491.1,634.2 L492.1,633.9 L493.1,633.5 L494.1,633.2 L495.1,633.0 L496.1,632.7 L497.1,632.5 L498.1,632.3 L499.1,632.1 L500.1,631.9 L501.1,631.6 L502.1,631.4 L503.1,631.2 L504.1,631.0 L505.1,630.9 L506.1,630.7 L507.1,630.5 L508.1,630.3 L509.1,630.1 L510.1,629.9 L511.1,629.8 L512.1,629.6 L513.1,629.5 L514.1,629.3 L515.1,629.2 L516.1,629.1 L517.1,629.0 L518.1,629.0 L519.1,628.9 L520.1,628.9 L521.1,629.0 L522.1,629.0 L523.1,629.1 L524.1,629.3 L525.1,629.5 L526.1,629.6 L527.1,629.8 L528.1,630.0 L529.1,630.1 L530.1,630.2 L531.1,630.4 L532.1,630.4 L533.1,630.5 L534.1,630.6 L535.1,630.7 L536.1,630.7 L537.1,630.7 L538.1,630.7 L539.1,630.6 L540.1,630.5 L541.1,630.3 L542.1,630.1 L543.1,629.9 L544.1,629.5 L545.1,629.2 L546.1,628.8 L547.1,628.4 L548.1,628.0 L549.1,627.6 L550.1,627.3 L551.1,626.9 L552.1,626.6 L553.1,626.3 L554.1,626.0 L555.1,625.7 L556.1,625.4 L557.1,625.1 L558.1,624.8 L559.1,624.6 L560.1,624.3 L561.1,624.0 L562.1,623.7 L563.1,623.5 L564.1,623.2 L565.1,622.9 L566.1,622.7 L567.1,622.4 L568.1,622.2 L569.1,621.9 L570.1,621.7 L571.1,621.5 L572.1,621.3 L573.1,621.1 L574.1,620.9 L575.1,620.7 L576.1,620.6 L577.1,620.4 L578.1,620.3 L579.1,620.2 L580.1,620.1 L581.1,620.0 L582.1,619.9 L583.1,619.9 L584.1,619.8 L585.1,619.7 L586.1,619.7 L587.1,619.6 L588.1,619.6 L589.1,619.5 L590.1,619.5 L591.1,619.4 L592.1,619.3 L593.1,619.3 L594.1,619.3 L595.1,619.2 L596.1,619.2 L597.1,619.2 L598.1,619.1 L599.1,619.1 L600.1,619.1 L601.1,619.0 L602.1,619.0 L603.1,618.9 L604.1,618.8 L605.1,618.7 L606.1,618.5 L607.1,618.2 L608.1,617.9 L609.1,617.5 L610.1,617.0 L611.1,616.5 L612.1,616.1 L613.1,615.6 L614.1,615.2 L615.1,614.9 L616.1,614.6 L617.1,614.3 L618.1,614.0 L619.1,613.8 L620.1,613.6 L621.1,613.4 L622.1,613.2 L623.1,613.1 L624.1,613.0 L625.1,612.9 L626.1,612.8 L627.1,612.8 L628.1,612.8 L629.1,612.9 L630.1,613.0 L631.1,613.1 L632.1,613.3 L633.1,613.6 L634.1,613.9 L635.1,614.2 L636.1,614.5 L637.1,614.8 L638.1,615.2 L639.1,615.5 L640.1,615.8 L641.1,616.1 L642.1,616.4 L643.1,616.7 L644.1,617.0 L645.1,617.3 L646.1,617.6 L647.1,617.8 L648.1,618.1 L649.1,618.4 L650.1,618.7 L651.1,619.0 L652.1,619.2 L653.1,619.5 L654.1,619.8 L655.1,620.0 L656.1,620.3 L657.1,620.6 L658.1,620.8 L659.1,621.1 L660.1,621.3 L661.1,621.6 L662.1,621.8 L663.1,622.0 L664.1,622.2 L665.1,622.5 L666.1,622.7 L667.1,622.9 L668.1,623.0 L669.1,623.2 L670.1,623.3 L671.1,623.5 L672.1,623.6 L673.1,623.8 L674.1,623.9 L675.1,624.0 L676.1,624.2 L677.1,624.3 L678.1,624.3 L679.1,624.3 L680.1,624.3 L681.1,624.1 L682.1,624.0 L683.1,623.8 L684.1,623.6 L685.1,623.4 L686.1,623.2 L687.1,623.0 L688.1,622.8 L689.1,622.6 L690.1,622.4 L691.1,622.2 L692.1,622.0 L693.1,621.8 L694.1,621.6 L695.1,621.4 L696.1,621.2 L697.1,621.0 L698.1,620.8 L699.1,620.6 L700.1,620.4 L701.1,620.2 L702.1,620.0 L703.1,619.8 L704.1,619.7 L705.1,619.6 L706.1,619.5 L707.1,619.4 L708.1,619.4 L709.1,619.4 L710.1,619.4 L711.1,619.4 L712.1,619.4 L713.1,619.4 L714.1,619.4 L715.1,619.4 L716.1,619.4 L717.1,619.4 L718.1,619.4 L719.1,619.4 L720.1,619.4 L721.1,619.4 L722.1,619.4 L723.1,619.4 L724.1,619.4 L725.1,619.4 L726.1,619.4 L727.1,619.4 L728.1,619.4 L729.1,619.4 L730.1,619.4 L731.1,619.4 L732.1,619.4 L733.1,619.5 L734.1,619.5 L735.1,619.6 L736.1,619.8 L737.1,619.9 L738.1,620.1 L739.1,620.4 L740.1,620.6 L741.1,620.9 L742.1,621.3 L743.1,621.6 L744.1,622.0 L745.1,622.4 L746.1,622.8 L747.1,623.2 L748.1,623.6 L749.1,624.0 L750.1,624.4 L751.1,624.8 L752.1,625.2 L753.1,625.6 L754.1,626.0 L755.1,626.4 L756.1,626.8 L757.1,627.1 L758.1,627.5 L759.1,627.8 L760.1,628.1 L761.1,628.3 L762.1,628.6 L763.1,628.8 L764.1,629.1 L765.1,629.3 L766.1,629.5 L767.1,629.8 L768.1,630.0 L769.1,630.2 L770.1,630.4 L771.1,630.6 L772.1,630.9 L773.1,631.1 L774.1,631.3 L775.1,631.5 L776.1,631.7 L777.1,631.9 L778.1,632.1 L779.1,632.3 L780.1,632.4 L781.1,632.6 L782.1,632.8 L783.1,632.9 L784.1,633.0 L785.1,633.2 L786.1,633.3 L787.1,633.4 L788.1,633.5 L789.1,633.6 L790.1,633.6 L791.1,633.7 L792.1,633.7 L793.1,633.8 L794.1,633.8 L795.1,633.8 L796.1,633.8 L797.1,633.8 L798.1,633.8 L799.1,633.8 L800.1,633.8 L801.1,633.8 L802.1,633.8 L803.1,633.8 L804.1,633.8 L805.1,633.8 L806.1,633.8 L807.1,633.8 L808.1,633.8 L809.1,633.8 L810.1,633.8 L811.1,633.8 L812.1,633.8 L813.1,633.8 L814.1,633.8 L815.1,633.8 L816.1,633.8 L817.1,633.8 L818.1,633.8 L819.1,633.8 L820.1,633.8 L821.1,633.8 L822.1,633.8 L823.1,633.8 L824.1,633.8 L825.1,633.8 L826.1,633.8 L827.1,633.8 L828.1,633.8 L829.1,633.8 L830.1,633.8 L831.1,633.8 L832.1,633.8 L833.1,633.8 L834.1,633.7 L835.1,633.7 L836.1,633.7 L837.1,633.7 L838.1,633.7 L839.1,633.7 L840.1,633.7 L841.1,633.7 L842.1,633.7 L843.1,633.7 L844.1,633.7 L845.1,633.7 L846.1,633.7 L847.1,633.7 L848.1,633.7 L849.1,633.7 L850.1,633.7 L851.1,633.7 L852.1,633.7 L853.1,633.7 L854.1,633.7 L855.1,633.7 L856.1,633.7 L857.1,633.7 L858.1,633.7 L859.1,633.7 L860.1,633.7 L861.1,633.7 L862.1,633.7 L863.1,633.7 L864.1,633.7 L865.1,633.7 L866.1,633.7 L867.1,633.7 L868.1,633.7 L869.1,633.7 L870.1,633.7 L871.1,633.7 L872.1,633.7 L873.1,633.7 L874.1,633.7 L875.1,633.7 L876.1,633.7 L877.1,633.7 L878.1,633.7 L879.1,633.6 L880.1,633.6 L881.1,633.6 L882.1,633.6 L883.1,633.6 L884.1,633.6 L885.1,633.6 L886.1,633.6 L887.1,633.6 L888.1,633.6 L889.1,633.6 L890.1,633.6 L891.1,633.6 L892.1,633.6 L893.1,633.6 L894.1,633.6 L895.1,633.6 L896.1,633.6 L897.1,633.6 L898.1,633.6 L899.1,633.6 L900.1,633.6 L901.1,633.6 L902.1,633.6 L903.1,633.6 L904.1,633.6 L905.1,633.6 L906.1,633.6 L907.1,633.6 L908.1,633.6 L909.1,633.6 L910.1,633.6 L911.1,633.6 L912.1,633.6 L913.1,633.6 L914.1,633.6 L915.1,633.6 L916.1,633.6 L917.1,633.6 L918.1,633.6 L919.1,633.6 L920.1,633.6 L921.1,633.6 L922.1,633.6 L923.1,633.6 L924.1,633.5 L925.1,633.5 L926.1,633.5 L927.1,633.5 L928.1,633.5 L929.1,633.5 L930.1,633.5 L931.1,633.5 L932.1,633.5 L933.1,633.5 L934.1,633.5 L935.1,633.5 L936.1,633.5 L937.1,633.5 L938.1,633.5 L939.1,633.5 L940.1,633.5 L941.1,633.5 L942.1,633.5 L943.1,633.5 L944.1,633.5 L945.1,633.5 L946.1,633.5 L947.1,633.5 L948.1,633.5 L949.1,633.5 L950.1,633.5 L951.1,633.5 L952.1,633.5 L953.1,633.5 L954.1,633.5 L955.1,633.5 L956.1,633.5 L957.1,633.5 L958.1,633.5 L959.1,633.5 L960.1,633.5 L961.1,633.5 L962.1,633.5 L963.1,633.5 L964.1,633.5 L965.1,633.5 L966.1,633.5 L967.1,633.4 L968.1,633.4 L969.1,633.4 L970.1,633.4 L971.1,633.4 L972.1,633.4 L973.1,633.4 L974.1,633.4 L975.1,633.4 L976.1,633.4 L977.1,633.4 L978.1,633.4 L979.1,633.4 L980.1,633.4 L981.1,633.4 L982.1,633.4 L983.1,633.4 L984.1,633.4 L985.1,633.4 L986.1,633.4 L987.1,633.4 L988.1,633.4 L989.1,633.4 L990.1,633.4 L991.1,633.4 L992.1,633.4 L993.1,633.4 L994.1,633.4 L995.1,633.4 L996.1,633.4 L997.1,633.4 L998.1,633.4 L999.1,633.4 L1000.1,633.4 L1001.1,633.4 L1002.1,633.4 L1003.1,633.4 L1004.1,633.4 L1005.1,633.4 L1006.1,633.4 L1007.1,633.3 L1007.8,633.3" stroke="#ff0000"/>
<path d="M77.1,636.1 L78.1,636.1 L79.1,636.1 L80.1,636.1 L81.1,636.1 L82.1,636.1 L83.1,636.1 L84.1,636.1 L85.1,636.1 L86.1,636.1 L87.1,636.1 L88.1,636.1 L89.1,636.1 L90.1,636.1 L91.1,636.1 L92.1,636.1 L93.1,636.1 L94.1,636.1 L95.1,636.1 L96.1,636.1 L97.1,636.1 L98.1,636.1 L99.1,636.1 L100.1,636.1 L101.1,636.1 L102.1,636.1 L103.1,636.1 L104.1,636.1 L105.1,636.1 L106.1,636.0 L107.1,635.8 L108.1,635.7 L109.1,635.6 L110.1,635.5 L111.1,635.4 L112.1,635.2 L113.1,635.1 L114.1,635.0 L115.1,634.8 L116.1,634.7 L117.1,634.5 L118.1,634.4 L119.1,634.2 L120.1,634.0 L121.1,633.8 L122.1,633.6 L123.1,633.4 L124.1,633.3 L125.1,633.1 L126.1,632.9 L127.1,632.8 L128.1,632.7 L129.1,632.6 L130.1,632.5 L131.1,632.4 L132.1,632.4 L133.1,632.3 L134.1,632.3 L135.1,632.2 L136.1,632.2 L137.1,632.2 L138.1,632.1 L139.1,632.1 L140.1,632.1 L141.1,632.0 L142.1,632.0 L143.1,632.0 L144.1,631.9 L145.1,631.9 L146.1,631.8 L147.1,631.8 L148.1,631.8 L149.1,631.7 L150.1,631.7 L151.1,631.6 L152.1,631.6 L153.1,631.5 L154.1,631.4 L155.1,631.4 L156.1,631.3 L157.1,631.2 L158.1,631.1 L159.1,630.9 L160.1,630.7 L161.1,630.4 L162.1,630.0 L163.1,629.4 L164.1,628.8 L165.1,628.1 L166.1,627.5 L167.1,626.9 L168.1,626.3 L169.1,625.8 L170.1,625.3 L171.1,624.9 L172.1,624.5 L173.1,624.0 L174.1,623.6 L175.1,623.2 L176.1,622.9 L177.1,622.6 L178.1,622.3 L179.1,622.1 L180.1,621.9 L181.1,621.7 L182.1,621.5 L183.1,621.3 L184.1,621.1 L185.1,620.9 L186.1,620.7 L187.1,620.5 L188.1,620.3 L189.1,620.1 L190.1,619.8 L191.1,619.6 L192.1,619.4 L193.1,619.1 L194.1,618.9 L195.1,618.7 L196.1,618.4 L197.1,618.1 L198.1,617.9 L199.1,617.6 L200.1,617.3 L201.1,616.9 L202.1,616.6 L203.1,616.3 L204.1,615.9 L205.1,615.6 L206.1,615.2 L207.1,614.9 L208.1,614.6 L209.1,614.2 L210.1,613.9 L211.1,613.6 L212.1,613.3 L213.1,613.0 L214.1,612.7 L215.1,612.4 L216.1,612.1 L217.1,611.8 L218.1,611.5 L219.1,611.3 L220.1,611.1 L221.1,610.9 L222.1,610.7 L223.1,610.5 L224.1,610.4 L225.1,610.3 L226.1,610.2 L227.1,610.1 L228.1,610.0 L229.1,609.9 L230.1,609.8 L231.1,609.8 L232.1,609.7 L233.1,609.6 L234.1,609.6 L235.1,609.5 L236.1,609.4 L237.1,609.4 L238.1,609.3 L239.1,609.3 L240.1,609.2 L241.1,609.1 L242.1,609.1 L243.1,609.0 L244.1,609.0 L245.1,608.9 L246.1,608.8 L247.1,608.8 L248.1,608.7 L249.1,608.6 L250.1,608.5 L251.1,608.4 L252.1,608.3 L253.1,608.3 L254.1,608.2 L255.1,608.2 L256.1,608.2 L257.1,608.3 L258.1,608.4 L259.1,608.8 L260.1,609.2 L261.1,609.9 L262.1,610.7 L263.1,611.5 L264.1,612.3 L265.1,613.1 L266.1,613.9 L267.1,614.7 L268.1,615.4 L269.1,616.2 L270.1,616.9 L271.1,617.5 L272.1,618.2 L273.1,618.9 L274.1,619.5 L275.1,620.1 L276.1,620.6 L277.1,621.1 L278.1,621.6 L279.1,622.0 L280.1,622.4 L281.1,622.7 L282.1,622.9 L283.1,623.1 L284.1,623.2 L285.1,623.3 L286.1,623.3 L287.1,623.3 L288.1,623.3 L289.1,623.2 L290.1,623.2 L291.1,623.1 L292.1,623.1 L293.1,623.0 L294.1,622.9 L295.1,622.8 L296.1,622.8 L297.1,622.7 L298.1,622.6 L299.1,622.5 L300.1,622.4 L301.1,622.2 L302.1,622.1 L303.1,622.1 L304.1,622.0 L305.1,622.0 L306.1,622.1 L307.1,622.2 L308.1,622.3 L309.1,622.5 L310.1,622.7 L311.1,623.0 L312.1,623.3 L313.1,623.6 L314.1,623.9 L315.1,624.2 L316.1,624.5 L317.1,624.9 L318.1,625.2 L319.1,625.6 L320.1,625.9 L321.1,626.3 L322.1,626.6 L323.1,626.9 L324.1,627.2 L325.1,627.5 L326.1,627.8 L327.1,628.0 L328.1,628.2 L329.1,628.5 L330.1,628.7 L331.1,628.9 L332.1,629.1 L333.1,629.3 L334.1,629.5 L335.1,629.7 L336.1,629.8 L337.1,630.0 L338.1,630.2 L339.1,630.3 L340.1,630.4 L341.1,630.6 L342.1,630.7 L343.1,630.8 L344.1,631.0 L345.1,631.1 L346.1,631.3 L347.1,631.4 L348.1,631.6 L349.1,631.7 L350.1,631.9 L351.1,632.0 L352.1,632.2 L353.1,632.4 L354.1,632.5 L355.1,632.7 L356.1,632.9 L357.1,633.1 L358.1,633.2 L359.1,633.4 L360.1,633.6 L361.1,633.7 L362.1,633.9 L363.1,634.1 L364.1,634.3 L365.1,634.4 L366.1,634.6 L367.1,634.8 L368.1,634.9 L369.1,635.1 L370.1,635.2 L371.1,635.4 L372.1,635.5 L373.1,635.7 L374.1,635.9 L375.1,636.0 L376.1,636.1 L377.1,636.1 L378.1,636.1 L379.1,636.1 L380.1,636.1 L381.1,636.1 L382.1,636.1 L383.1,636.1 L384.1,636.1 L385.1,636.1 L386.1,636.1 L387.1,636.1 L388.1,636.1 L389.1,636.1 L390.1,636.1 L391.1,636.1 L392.1,636.1 L393.1,636.1 L394.1,636.1 L395.1,636.1 L396.1,636.1 L397.1,636.1 L398.1,636.1 L399.1,636.1 L400.1,636.1 L401.1,636.1 L402.1,636.1 L403.1,636.1 L404.1,636.1 L405.1,636.1 L406.1,636.1 L407.1,636.1 L408.1,636.1 L409.1,636.1 L410.1,636.1 L411.1,636.1 L412.1,636.1 L413.1,636.1 L414.1,636.1 L415.1,636.1 L416.1,636.1 L417.1,636.1 L418.1,636.1 L419.1,636.1 L420.1,636.1 L421.1,636.1 L422.1,636.1 L423.1,636.1 L424.1,636.1 L425.1,636.1 L426.1,636.1 L427.1,636.1 L428.1,636.1 L429.1,636.1 L430.1,636.1 L431.1,636.1 L432.1,636.1 L433.1,636.1 L434.1,636.1 L435.1,636.1 L436.1,636.1 L437.1,636.1 L438.1,636.1 L439.1,636.1 L440.1,636.1 L441.1,636.1 L442.1,636.1 L443.1,636.1 L444.1,636.1 L445.1,636.1 L446.1,636.1 L447.1,636.1 L448.1,636.1 L449.1,636.1 L450.1,636.1 L451.1,636.1 L452.1,636.1 L453.1,636.1 L454.1,636.1 L455.1,636.1 L456.1,636.1 L457.1,636.1 L458.1,636.1 L459.1,636.1 L460.1,636.1 L461.1,636.1 L462.1,636.1 L463.1,636.1 L464.1,636.1 L465.1,636.1 L466.1,636.1 L467.1,636.1 L468.1,636.1 L469.1,636.1 L470.1,636.1 L471.1,636.1 L472.1,636.1 L473.1,636.1 L474.1,636.1 L475.1,636.1 L476.1,636.1 L477.1,636.1 L478.1,636.1 L479.1,636.1 L480.1,636.1 L481.1,635.9 L482.1,635.7 L483.1,635.4 L484.1,635.0 L485.1,634.6 L486.1,634.2 L487.1,633.8 L488.1,633.4 L489.1,632.9 L490.1,632.4 L491.1,631.9 L492.1,631.4 L493.1,630.8 L494.1,630.3 L495.1,629.8 L496.1,629.3 L497.1,628.8 L498.1,628.4 L499.1,628.0 L500.1,627.7 L501.1,627.3 L502.1,627.0 L503.1,626.7 L504.1,626.4 L505.1,626.1 L506.1,625.9 L507.1,625.6 L508.1,625.4 L509.1,625.1 L510.1,624.9 L511.1,624.7 L512.1,624.5 L513.1,624.3 L514.1,624.1 L515.1,623.9 L516.1,623.7 L517.1,623.5 L518.1,623.3 L519.1,623.0 L520.1,622.7 L521.1,622.4 L522.1,622.0 L523.1,621.6 L524.1,621.2 L525.1,620.7 L526.1,620.3 L527.1,619.7 L528.1,619.1 L529.1,618.4 L530.1,617.5 L531.1,616.5 L532.1,615.3 L533.1,614.0 L534.1,612.4 L535.1,610.7 L536.1,608.9 L537.1,606.8 L538.1,604.6 L539.1,602.3 L540.1,599.9 L541.1,597.4 L542.1,594.9 L543.1,592.3 L544.1,589.7 L545.1,587.1 L546.1,584.6 L547.1,582.1 L548.1,579.6 L549.1,577.2 L550.1,574.9 L551.1,572.6 L552.1,570.4 L553.1,568.4 L554.1,566.4 L555.1,564.7 L556.1,563.1 L557.1,561.7 L558.1,560.4 L559.1,559.4 L560.1,558.4 L561.1,557.6 L562.1,556.8 L563.1,556.1 L564.1,555.5 L565.1,554.9 L566.1,554.3 L567.1,553.7 L568.1,553.0 L569.1,552.4 L570.1,551.7 L571.1,551.0 L572.1,550.2 L573.1,549.5 L574.1,548.7 L575.1,547.9 L576.1,547.2 L577.1,546.5 L578.1,545.8 L579.1,545.2 L580.1,544.7 L581.1,544.3 L582.1,544.0 L583.1,543.9 L584.1,544.1 L585.1,544.4 L586.1,545.1 L587.1,545.9 L588.1,546.9 L589.1,548.0 L590.1,549.2 L591.1,550.6 L592.1,551.9 L593.1,553.4 L594.1,554.8 L595.1,556.2 L596.1,557.5 L597.1,558.8 L598.1,559.9 L599.1,561.0 L600.1,562.0 L601.1,562.8 L602.1,563.6 L603.1,564.2 L604.1,564.7 L605.1,565.1 L606.1,565.2 L607.1,565.2 L608.1,564.9 L609.1,564.4 L610.1,563.8 L611.1,563.0 L612.1,562.0 L613.1,561.0 L614.1,560.0 L615.1,559.0 L616.1,558.0 L617.1,557.1 L618.1,556.2 L619.1,555.5 L620.1,554.8 L621.1,554.1 L622.1,553.6 L623.1,553.3 L624.1,553.3 L625.1,553.5 L626.1,554.0 L627.1,554.8 L628.1,555.7 L629.1,556.9 L630.1,558.2 L631.1,559.5 L632.1,561.0 L633.1,562.6 L634.1,564.2 L635.1,565.8 L636.1,567.3 L637.1,568.7 L638.1,570.0 L639.1,571.1 L640.1,572.2 L641.1,573.2 L642.1,574.2 L643.1,575.3 L644.1,576.3 L645.1,577.3 L646.1,578.3 L647.1,579.3 L648.1,580.3 L649.1,581.3 L650.1,582.3 L651.1,583.3 L652.1,584.3 L653.1,585.3 L654.1,586.3 L655.1,587.3 L656.1,588.4 L657.1,589.5 L658.1,590.7 L659.1,591.8 L660.1,593.0 L661.1,594.1 L662.1,595.1 L663.1,596.0 L664.1,596.8 L665.1,597.5 L666.1,598.1 L667.1,598.5 L668.1,598.9 L669.1,599.2 L670.1,599.5 L671.1,599.7 L672.1,599.9 L673.1,600.1 L674.1,600.2 L675.1,600.3 L676.1,600.3 L677.1,600.3 L678.1,600.2 L679.1,600.0 L680.1,599.8 L681.1,599.5 L682.1,599.3 L683.1,599.0 L684.1,598.7 L685.1,598.5 L686.1,598.2 L687.1,597.9 L688.1,597.6 L689.1,597.3 L690.1,597.1 L691.1,596.7 L692.1,596.4 L693.1,596.1 L694.1,595.8 L695.1,595.5 L696.1,595.2 L697.1,594.9 L698.1,594.7 L699.1,594.5 L700.1,594.3 L701.1,594.1 L702.1,594.0 L703.1,593.9 L704.1,593.8 L705.1,593.8 L706.1,593.7 L707.1,593.7 L708.1,593.7 L709.1,593.7 L710.1,593.7 L711.1,593.7 L712.1,593.8 L713.1,593.8 L714.1,593.9 L715.1,594.0 L716.1,594.1 L717.1,594.2 L718.1,594.3 L719.1,594.5 L720.1,594.6 L721.1,594.8 L722.1,595.1 L723.1,595.3 L724.1,595.6 L725.1,595.8 L726.1,596.1 L727.1,596.4 L728.1,596.8 L729.1,597.1 L730.1,597.5 L731.1,597.9 L732.1,598.4 L733.1,598.9 L734.1,599.4 L735.1,600.0 L736.1,600.6 L737.1,601.2 L738.1,601.9 L739.1,602.7 L740.1,603.5 L741.1,604.3 L742.1,605.2 L743.1,606.1 L744.1,607.1 L745.1,608.1 L746.1,609.1 L747.1,610.2 L748.1,611.3 L749.1,612.4 L750.1,613.6 L751.1,614.7 L752.1,615.9 L753.1,616.9 L754.1,618.0 L755.1,618.9 L756.1,619.9 L757.1,620.8 L758.1,621.7 L759.1,622.5 L760.1,623.3 L761.1,624.0 L762.1,624.7 L763.1,625.4 L764.1,626.0 L765.1,626.6 L766.1,627.2 L767.1,627.7 L768.1,628.1 L769.1,628.6 L770.1,629.0 L771.1,629.3 L772.1,629.7 L773.1,630.1 L774.1,630.4 L775.1,630.7 L776.1,631.0 L777.1,631.3 L778.1,631.6 L779.1,631.8 L780.1,632.0 L781.1,632.3 L782.1,632.5 L783.1,632.7 L784.1,632.9 L785.1,633.1 L786.1,633.3 L787.1,633.5 L788.1,633.6 L789.1,633.7 L790.1,633.8 L791.1,633.8 L792.1,633.8 L793.1,633.8 L794.1,633.8 L795.1,633.9 L796.1,633.9 L797.1,633.9 L798.1,633.9 L799.1,633.9 L800.1,633.9 L801.1,633.9 L802.1,633.9 L803.1,633.9 L804.1,633.9 L805.1,633.9 L806.1,633.9 L807.1,633.9 L808.1,634.0 L809.1,634.0 L810.1,634.0 L811.1,634.0 L812.1,634.0 L813.1,634.0 L814.1,634.0 L815.1,634.0 L816.1,634.0 L817.1,634.0 L818.1,634.0 L819.1,634.0 L820.1,634.0 L821.1,634.0 L822.1,634.0 L823.1,634.0 L824.1,634.0 L825.1,634.0 L826.1,634.0 L827.1,634.0 L828.1,634.0 L829.1,634.0 L830.1,634.0 L831.1,634.0 L832.1,634.0 L833.1,634.0 L834.1,634.0 L835.1,634.0 L836.1,634.0 L837.1,634.0 L838.1,634.0 L839.1,634.0 L840.1,634.0 L841.1,634.0 L842.1,634.0 L843.1,634.0 L844.1,634.0 L845.1,634.0 L846.1,634.0 L847.1,634.0 L848.1,634.0 L849.1,634.0 L850.1,634.0 L851.1,634.0 L852.1,634.0 L853.1,634.0 L854.1,634.0 L855.1,634.0 L856.1,634.0 L857.1,634.0 L858.1,634.1 L859.1,634.1 L860.1,634.1 L861.1,634.1 L862.1,634.1 L863.1,634.1 L864.1,634.1 L865.1,634.1 L866.1,634.1 L867.1,634.1 L868.1,634.1 L869.1,634.1 L870.1,634.1 L871.1,634.1 L872.1,634.1 L873.1,634.1 L874.1,634.1 L875.1,634.1 L876.1,634.1 L877.1,634.1 L878.1,634.1 L879.1,634.1 L880.1,634.1 L881.1,634.1 L882.1,634.1 L883.1,634.1 L884.1,634.1 L885.1,634.1 L886.1,634.1 L887.1,634.1 L888.1,634.1 L889.1,634.1 L890.1,634.1 L891.1,634.1 L892.1,634.1 L893.1,634.1 L894.1,634.1 L895.1,634.1 L896.1,634.1 L897.1,634.1 L898.1,634.1 L899.1,634.1 L900.1,634.1 L901.1,634.1 L902.1,634.1 L903.1,634.1 L904.1,634.1 L905.1,634.1 L906.1,634.1 L907.1,634.1 L908.1,634.1 L909.1,634.1 L910.1,634.1 L911.1,634.2 L912.1,634.2 L913.1,634.2 L914.1,634.2 L915.1,634.2 L916.1,634.2 L917.1,634.2 L918.1,634.2 L919.1,634.2 L920.1,634.2 L921.1,634.2 L922.1,634.2 L923.1,634.2 L924.1,634.2 L925.1,634.2 L926.1,634.2 L927.1,634.2 L928.1,634.2 L929.1,634.2 L930.1,634.2 L931.1,634.2 L932.1,634.2 L933.1,634.2 L934.1,634.2 L935.1,634.2 L936.1,634.2 L937.1,634.2 L938.1,634.2 L939.1,634.2 L940.1,634.2 L941.1,634.2 L942.1,634.2 L943.1,634.2 L944.1,634.2 L945.1,634.2 L946.1,634.2 L947.1,634.2 L948.1,634.2 L949.1,634.2 L950.1,634.2 L951.1,634.2 L952.1,634.2 L953.1,634.2 L954.1,634.2 L955.1,634.2 L956.1,634.2 L957.1,634.2 L958.1,634.2 L959.1,634.2 L960.1,634.2 L961.1,634.2 L962.1,634.2 L963.1,634.2 L964.1,634.2 L965.1,634.2 L966.1,634.2 L967.1,634.2 L968.1,634.2 L969.1,634.2 L970.1,634.2 L971.1,634.2 L972.1,634.2 L973.1,634.2 L974.1,634.2 L975.1,634.2 L976.1,634.2 L977.1,634.2 L978.1,634.2 L979.1,634.2 L980.1,634.2 L981.1,634.2 L982.1,634.2 L983.1,634.2 L984.1,634.2 L985.1,634.2 L986.1,634.2 L987.1,634.2 L988.1,634.2 L989.1,634.2 L990.1,634.2 L991.1,634.2 L992.1,634.2 L993.1,634.2 L994.1,634.2 L995.1,634.2 L996.1,634.2 L997.1,634.2 L998.1,634.2 L999.1,634.2 L1000.1,634.2 L1001.1,634.2 L1002.1,634.2 L1003.1,634.2 L1004.1,634.2 L1005.1,634.2 L1006.1,634.2 L1007.1,634.2 L1007.8,634.2" stroke="#0000ff"/>
<path d="M77.1,636.1 L78.1,636.1 L79.1,636.1 L80.1,636.1 L81.1,636.1 L82.1,636.1 L83.1,636.1 L84.1,636.1 L85.1,636.1 L86.1,636.1 L87.1,636.1 L88.1,636.1 L89.1,636.1 L90.1,636.1 L91.1,636.1 L92.1,636.1 L93.1,636.1 L94.1,636.1 L95.1,636.1 L96.1,636.1 L97.1,636.1 L98.1,636.1 L99.1,636.1 L100.1,636.1 L101.1,636.0 L102.1,635.8 L103.1,635.6 L104.1,635.3 L105.1,635.1 L106.1,634.8 L107.1,634.6 L108.1,634.3 L109.1,634.1 L110.1,633.8 L111.1,633.6 L112.1,633.3 L113.1,633.1 L114.1,632.9 L115.1,632.7 L116.1,632.5 L117.1,632.3 L118.1,632.1 L119.1,631.9 L120.1,631.7 L121.1,631.5 L122.1,631.4 L123.1,631.2 L124.1,631.0 L125.1,630.9 L126.1,630.7 L127.1,630.6 L128.1,630.5 L129.1,630.4 L130.1,630.3 L131.1,630.2 L132.1,630.2 L133.1,630.1 L134.1,630.1 L135.1,630.1 L136.1,630.1 L137.1,630.1 L138.1,630.1 L139.1,630.1 L140.1,630.2 L141.1,630.2 L142.1,630.3 L143.1,630.3 L144.1,630.4 L145.1,630.5 L146.1,630.6 L147.1,630.8 L148.1,630.9 L149.1,631.0 L150.1,631.2 L151.1,631.3 L152.1,631.4 L153.1,631.6 L154.1,631.7 L155.1,631.7 L156.1,631.8 L157.1,631.9 L158.1,631.9 L159.1,631.9 L160.1,632.0 L161.1,632.0 L162.1,632.0 L163.1,631.9 L164.1,631.9 L165.1,631.9 L166.1,631.8 L167.1,631.7 L168.1,631.6 L169.1,631.5 L170.1,631.3 L171.1,631.2 L172.1,631.0 L173.1,630.8 L174.1,630.7 L175.1,630.6 L176.1,630.4 L177.1,630.3 L178.1,630.3 L179.1,630.2 L180.1,630.2 L181.1,630.2 L182.1,630.1 L183.1,630.1 L184.1,630.1 L185.1,630.1 L186.1,630.1 L187.1,630.2 L188.1,630.2 L189.1,630.2 L190.1,630.3 L191.1,630.3 L192.1,630.4 L193.1,630.5 L194.1,630.6 L195.1,630.6 L196.1,630.7 L197.1,630.8 L198.1,630.9 L199.1,630.9 L200.1,631.0 L201.1,631.1 L202.1,631.1 L203.1,631.2 L204.1,631.3 L205.1,631.3 L206.1,631.4 L207.1,631.4 L208.1,631.4 L209.1,631.5 L210.1,631.5 L211.1,631.5 L212.1,631.6 L213.1,631.6 L214.1,631.6 L215.1,631.7 L216.1,631.8 L217.1,631.8 L218.1,631.9 L219.1,632.1 L220.1,632.2 L221.1,632.4 L222.1,632.6 L223.1,632.9 L224.1,633.1 L225.1,633.3 L226.1,633.6 L227.1,633.8 L228.1,634.0 L229.1,634.2 L230.1,634.3 L231.1,634.5 L232.1,634.7 L233.1,634.8 L234.1,635.0 L235.1,635.1 L236.1,635.3 L237.1,635.4 L238.1,635.6 L239.1,635.7 L240.1,635.8 L241.1,635.9 L242.1,636.0 L243.1,636.0 L244.1,636.1 L245.1,636.1 L246.1,636.1 L247.1,636.1 L248.1,636.1 L249.1,636.1 L250.1,636.1 L251.1,636.1 L252.1,636.1 L253.1,636.1 L254.1,636.1 L255.1,636.1 L256.1,636.1 L257.1,636.1 L258.1,636.1 L259.1,636.1 L260.1,636.1 L261.1,636.1 L262.1,636.1 L263.1,636.1 L264.1,636.1 L265.1,636.1 L266.1,636.1 L267.1,636.1 L268.1,636.1 L269.1,636.1 L270.1,636.1 L271.1,636.1 L272.1,636.1 L273.1,636.1 L274.1,636.1 L275.1,636.1 L276.1,636.1 L277.1,636.1 L278.1,636.1 L279.1,636.1 L280.1,636.1 L281.1,636.1 L282.1,636.1 L283.1,636.1 L284.1,636.1 L285.1,636.1 L286.1,636.1 L287.1,636.1 L288.1,636.1 L289.1,636.1 L290.1,636.1 L291.1,636.1 L292.1,636.1 L293.1,636.1 L294.1,636.1 L295.1,636.1 L296.1,636.1 L297.1,636.1 L298.1,636.1 L299.1,636.1 L300.1,636.1 L301.1,636.1 L302.1,636.1 L303.1,636.1 L304.1,636.1 L305.1,636.1 L306.1,636.1 L307.1,636.1 L308.1,636.1 L309.1,636.1 L310.1,636.1 L311.1,636.1 L312.1,636.1 L313.1,636.1 L314.1,636.1 L315.1,636.1 L316.1,636.1 L317.1,636.1 L318.1,636.1 L319.1,636.1 L320.1,636.1 L321.1,636.1 L322.1,636.1 L323.1,636.1 L324.1,636.1 L325.1,636.1 L326.1,636.1 L327.1,636.1 L328.1,636.1 L329.1,636.1 L330.1,636.1 L331.1,636.1 L332.1,636.1 L333.1,636.1 L334.1,636.1 L335.1,636.1 L336.1,636.1 L337.1,636.1 L338.1,636.1 L339.1,636.1 L340.1,636.1 L341.1,636.1 L342.1,636.1 L343.1,636.1 L344.1,636.1 L345.1,636.1 L346.1,636.1 L347.1,636.1 L348.1,636.1 L349.1,636.1 L350.1,636.1 L351.1,636.1 L352.1,636.1 L353.1,636.1 L354.1,636.1 L355.1,636.1 L356.1,636.1 L357.1,636.1 L358.1,636.1 L359.1,636.1 L360.1,636.1 L361.1,636.1 L362.1,636.1 L363.1,636.1 L364.1,636.1 L365.1,636.1 L366.1,636.1 L367.1,636.1 L368.1,636.1 L369.1,636.1 L370.1,636.1 L371.1,636.1 L372.1,636.1 L373.1,636.1 L374.1,636.1 L375.1,636.1 L376.1,636.1 L377.1,636.1 L378.1,636.1 L379.1,636.1 L380.1,636.1 L381.1,636.1 L382.1,636.1 L383.1,636.1 L384.1,636.1 L385.1,636.1 L386.1,636.1 L387.1,636.1 L388.1,636.1 L389.1,636.1 L390.1,636.1 L391.1,636.1 L392.1,636.1 L393.1,636.1 L394.1,636.1 L395.1,636.1 L396.1,636.1 L397.1,636.1 L398.1,636.1 L399.1,636.1 L400.1,636.1 L401.1,636.1 L402.1,636.1 L403.1,636.1 L404.1,636.1 L405.1,636.1 L406.1,636.1 L407.1,636.1 L408.1,636.1 L409.1,636.1 L410.1,636.1 L411.1,636.1 L412.1,636.1 L413.1,636.1 L414.1,636.1 L415.1,636.1 L416.1,636.1 L417.1,636.1 L418.1,636.1 L419.1,636.1 L420.1,636.1 L421.1,636.1 L422.1,636.1 L423.1,636.1 L424.1,636.1 L425.1,636.1 L426.1,636.1 L427.1,636.1 L428.1,636.1 L429.1,636.1 L430.1,636.1 L431.1,636.1 L432.1,636.1 L433.1,636.1 L434.1,636.1 L435.1,636.1 L436.1,636.1 L437.1,636.1 L438.1,636.1 L439.1,636.1 L440.1,636.1 L441.1,636.1 L442.1,636.1 L443.1,636.1 L444.1,636.1 L445.1,636.1 L446.1,636.1 L447.1,636.1 L448.1,636.1 L449.1,636.1 L450.1,636.1 L451.1,636.1 L452.1,636.1 L453.1,636.1 L454.1,636.1 L455.1,636.1 L456.1,636.1 L457.1,636.1 L458.1,636.1 L459.1,636.1 L460.1,636.1 L461.1,636.1 L462.1,636.1 L463.1,636.1 L464.1,636.1 L465.1,636.1 L466.1,636.1 L467.1,636.1 L468.1,636.1 L469.1,636.1 L470.1,636.1 L471.1,636.1 L472.1,636.1 L473.1,636.1 L474.1,636.1 L475.1,636.1 L476.1,636.1 L477.1,636.0 L478.1,635.9 L479.1,635.7 L480.1,635.5 L481.1,635.1 L482.1,634.7 L483.1,634.2 L484.1,633.7 L485.1,633.1 L486.1,632.4 L487.1,631.7 L488.1,631.0 L489.1,630.2 L490.1,629.4 L491.1,628.6 L492.1,627.7 L493.1,626.9 L494.1,626.1 L495.1,625.3 L496.1,624.5 L497.1,623.8 L498.1,623.0 L499.1,622.3 L500.1,621.6 L501.1,620.8 L502.1,620.1 L503.1,619.5 L504.1,618.8 L505.1,618.2 L506.1,617.6 L507.1,617.0 L508.1,616.5 L509.1,616.1 L510.1,615.8 L511.1,615.5 L512.1,615.3 L513.1,615.1 L514.1,614.9 L515.1,614.7 L516.1,614.6 L517.1,614.5 L518.1,614.5 L519.1,614.5 L520.1,614.6 L521.1,614.7 L522.1,615.0 L523.1,615.3 L524.1,615.7 L525.1,616.3 L526.1,616.9 L527.1,617.7 L528.1,618.7 L529.1,619.7 L530.1,620.8 L531.1,622.0 L532.1,623.2 L533.1,624.3 L534.1,625.4 L535.1,626.4 L536.1,627.3 L537.1,628.1 L538.1,628.9 L539.1,629.7 L540.1,630.3 L541.1,630.9 L542.1,631.4 L543.1,631.9 L544.1,632.2 L545.1,632.4 L546.1,632.6 L547.1,632.7 L548.1,632.7 L549.1,632.7 L550.1,632.8 L551.1,632.8 L552.1,632.8 L553.1,632.7 L554.1,632.7 L555.1,632.7 L556.1,632.6 L557.1,632.5 L558.1,632.5 L559.1,632.4 L560.1,632.3 L561.1,632.2 L562.1,632.2 L563.1,632.1 L564.1,632.0 L565.1,631.9 L566.1,631.8 L567.1,631.8 L568.1,631.7 L569.1,631.6 L570.1,631.5 L571.1,631.5 L572.1,631.4 L573.1,631.4 L574.1,631.3 L575.1,631.3 L576.1,631.2 L577.1,631.2 L578.1,631.2 L579.1,631.1 L580.1,631.1 L581.1,631.1 L582.1,631.1 L583.1,631.0 L584.1,631.0 L585.1,631.0 L586.1,631.0 L587.1,631.0 L588.1,631.0 L589.1,630.9 L590.1,630.9 L591.1,630.9 L592.1,630.9 L593.1,630.9 L594.1,630.9 L595.1,630.9 L596.1,630.8 L597.1,630.8 L598.1,630.8 L599.1,630.8 L600.1,630.8 L601.1,630.8 L602.1,630.7 L603.1,630.7 L604.1,630.7 L605.1,630.7 L606.1,630.6 L607.1,630.6 L608.1,630.5 L609.1,630.5 L610.1,630.4 L611.1,630.4 L612.1,630.3 L613.1,630.2 L614.1,630.2 L615.1,630.1 L616.1,630.0 L617.1,630.0 L618.1,629.9 L619.1,629.9 L620.1,629.8 L621.1,629.8 L622.1,629.7 L623.1,629.7 L624.1,629.7 L625.1,629.7 L626.1,629.7 L627.1,629.7 L628.1,629.8 L629.1,629.9 L630.1,630.0 L631.1,630.1 L632.1,630.2 L633.1,630.4 L634.1,630.5 L635.1,630.8 L636.1,631.0 L637.1,631.3 L638.1,631.6 L639.1,631.9 L640.1,632.1 L641.1,632.3 L642.1,632.5 L643.1,632.6 L644.1,632.7 L645.1,632.8 L646.1,632.9 L647.1,632.9 L648.1,633.0 L649.1,633.0 L650.1,633.1 L651.1,633.2 L652.1,633.2 L653.1,633.3 L654.1,633.3 L655.1,633.4 L656.1,633.4 L657.1,633.5 L658.1,633.5 L659.1,633.5 L660.1,633.6 L661.1,633.6 L662.1,633.7 L663.1,633.7 L664.1,633.7 L665.1,633.8 L666.1,633.8 L667.1,633.8 L668.1,633.9 L669.1,633.9 L670.1,633.9 L671.1,634.0 L672.1,634.0 L673.1,634.0 L674.1,634.1 L675.1,634.1 L676.1,634.1 L677.1,634.2 L678.1,634.2 L679.1,634.2 L680.1,634.2 L681.1,634.3 L682.1,634.3 L683.1,634.3 L684.1,634.4 L685.1,634.4 L686.1,634.4 L687.1,634.4 L688.1,634.5 L689.1,634.5 L690.1,634.5 L691.1,634.5 L692.1,634.5 L693.1,634.6 L694.1,634.6 L695.1,634.6 L696.1,634.6 L697.1,634.6 L698.1,634.6 L699.1,634.6 L700.1,634.6 L701.1,634.6 L702.1,634.6 L703.1,634.6 L704.1,634.6 L705.1,634.6 L706.1,634.6 L707.1,634.6 L708.1,634.5 L709.1,634.5 L710.1,634.5 L711.1,634.5 L712.1,634.4 L713.1,634.4 L714.1,634.4 L715.1,634.3 L716.1,634.3 L717.1,634.3 L718.1,634.2 L719.1,634.2 L720.1,634.2 L721.1,634.1 L722.1,634.1 L723.1,634.0 L724.1,634.0 L725.1,633.9 L726.1,633.9 L727.1,633.8 L728.1,633.8 L729.1,633.7 L730.1,633.7 L731.1,633.6 L732.1,633.5 L733.1,633.5 L734.1,633.4 L735.1,633.3 L736.1,633.2 L737.1,633.1 L738.1,633.0 L739.1,632.8 L740.1,632.7 L741.1,632.6 L742.1,632.5 L743.1,632.4 L744.1,632.3 L745.1,632.2 L746.1,632.0 L747.1,631.9 L748.1,631.8 L749.1,631.7 L750.1,631.6 L751.1,631.6 L752.1,631.5 L753.1,631.4 L754.1,631.3 L755.1,631.3 L756.1,631.2 L757.1,631.2 L758.1,631.2 L759.1,631.1 L760.1,631.1 L761.1,631.1 L762.1,631.1 L763.1,631.2 L764.1,631.2 L765.1,631.2 L766.1,631.3 L767.1,631.4 L768.1,631.5 L769.1,631.6 L770.1,631.7 L771.1,631.8 L772.1,632.0 L773.1,632.1 L774.1,632.3 L775.1,632.5 L776.1,632.6 L777.1,632.8 L778.1,633.0 L779.1,633.1 L780.1,633.3 L781.1,633.5 L782.1,633.7 L783.1,633.9 L784.1,634.0 L785.1,634.2 L786.1,634.4 L787.1,634.7 L788.1,634.9 L789.1,635.1 L790.1,635.4 L791.1,635.6 L792.1,635.8 L793.1,635.9 L794.1,636.0 L795.1,636.1 L796.1,636.1 L797.1,636.1 L798.1,636.1 L799.1,636.1 L800.1,636.1 L801.1,636.1 L802.1,636.1 L803.1,636.1 L804.1,636.1 L805.1,636.1 L806.1,636.1 L807.1,636.1 L808.1,636.1 L809.1,636.1 L810.1,636.1 L811.1,636.1 L812.1,636.1 L813.1,636.1 L814.1,636.1 L815.1,636.1 L816.1,636.1 L817.1,636.1 L818.1,636.1 L819.1,636.1 L820.1,636.1 L821.1,636.1 L822.1,636.1 L823.1,636.1 L824.1,636.1 L825.1,636.1 L826.1,636.1 L827.1,636.1 L828.1,636.1 L829.1,636.1 L830.1,636.1 L831.1,636.1 L832.1,636.1 L833.1,636.1 L834.1,636.1 L835.1,636.1 L836.1,636.1 L837.1,636.1 L838.1,636.1 L839.1,636.1 L840.1,636.1 L841.1,636.1 L842.1,636.1 L843.1,636.1 L844.1,636.1 L845.1,636.1 L846.1,636.1 L847.1,636.1 L848.1,636.1 L849.1,636.1 L850.1,636.1 L851.1,636.1 L852.1,636.1 L853.1,636.1 L854.1,636.1 L855.1,636.1 L856.1,636.1 L857.1,636.1 L858.1,636.1 L859.1,636.1 L860.1,636.1 L861.1,636.1 L862.1,636.1 L863.1,636.1 L864.1,636.1 L865.1,636.1 L866.1,636.1 L867.1,636.1 L868.1,636.1 L869.1,636.1 L870.1,636.1 L871.1,636.1 L872.1,636.1 L873.1,636.1 L874.1,636.1 L875.1,636.1 L876.1,636.1 L877.1,636.1 L878.1,636.1 L879.1,636.1 L880.1,636.1 L881.1,636.1 L882.1,636.1 L883.1,636.1 L884.1,636.1 L885.1,636.1 L886.1,636.1 L887.1,636.1 L888.1,636.1 L889.1,636.1 L890.1,636.1 L891.1,636.1 L892.1,636.1 L893.1,636.1 L894.1,636.1 L895.1,636.1 L896.1,636.1 L897.1,636.1 L898.1,636.1 L899.1,636.1 L900.1,636.1 L901.1,636.1 L902.1,636.1 L903.1,636.1 L904.1,636.1 L905.1,636.1 L906.1,636.1 L907.1,636.1 L908.1,636.1 L909.1,636.1 L910.1,636.1 L911.1,636.1 L912.1,636.1 L913.1,636.1 L914.1,636.1 L915.1,636.1 L916.1,636.1 L917.1,636.1 L918.1,636.1 L919.1,636.1 L920.1,636.1 L921.1,636.1 L922.1,636.1 L923.1,636.1 L924.1,636.1 L925.1,636.1 L926.1,636.1 L927.1,636.1 L928.1,636.1 L929.1,636.1 L930.1,636.1 L931.1,636.1 L932.1,636.1 L933.1,636.1 L934.1,636.1 L935.1,636.1 L936.1,636.1 L937.1,636.1 L938.1,636.1 L939.1,636.1 L940.1,636.1 L941.1,636.1 L942.1,636.1 L943.1,636.1 L944.1,636.1 L945.1,636.1 L946.1,636.1 L947.1,636.1 L948.1,636.1 L949.1,636.1 L950.1,636.1 L951.1,636.1 L952.1,636.1 L953.1,636.1 L954.1,636.1 L955.1,636.1 L956.1,636.1 L957.1,636.1 L958.1,636.1 L959.1,636.1 L960.1,636.1 L961.1,636.1 L962.1,636.1 L963.1,636.1 L964.1,636.1 L965.1,636.1 L966.1,636.1 L967.1,636.1 L968.1,636.1 L969.1,636.1 L970.1,636.1 L971.1,636.1 L972.1,636.1 L973.1,636.1 L974.1,636.1 L975.1,636.1 L976.1,636.1 L977.1,636.1 L978.1,636.1 L979.1,636.1 L980.1,636.1 L981.1,636.1 L982.1,636.1 L983.1,636.1 L984.1,636.1 L985.1,636.1 L986.1,636.1 L987.1,636.1 L988.1,636.1 L989.1,636.1 L990.1,636.1 L991.1,636.1 L992.1,636.1 L993.1,636.1 L994.1,636.1 L995.1,636.1 L996.1,636.1 L997.1,636.1 L998.1,636.1 L999.1,636.1 L1000.1,636.1 L1001.1,636.1 L1002.1,636.1 L1003.1,636.1 L1004.1,636.1 L1005.1,636.1 L1006.1,636.1 L1007.1,636.1 L1007.8,636.1" stroke="#00ff00"/>
</g>
<g fill="none" stroke-width="2.6" stroke-linejoin="round" stroke-linecap="butt">
<path d="M77.1,795.1 L78.1,795.1 L79.1,795.1 L80.1,795.1 L81.1,795.1 L82.1,795.1 L83.1,795.1 L84.1,795.1 L85.1,795.1 L86.1,795.1 L87.1,795.1 L88.1,795.1 L89.1,795.1 L90.1,795.1 L91.1,795.1 L92.1,795.1 L93.1,795.1 L94.1,795.1 L95.1,795.1 L96.1,795.1 L97.1,795.1 L98.1,795.1 L99.1,795.1 L100.1,795.1 L101.1,795.1 L102.1,795.1 L103.1,795.1 L104.1,795.1 L105.1,795.1 L106.1,795.1 L107.1,795.1 L108.1,795.1 L109.1,795.1 L110.1,795.1 L111.1,795.1 L112.1,795.1 L113.1,795.1 L114.1,795.1 L115.1,795.1 L116.1,795.1 L117.1,795.1 L118.1,795.1 L119.1,795.1 L120.1,795.1 L121.1,795.1 L122.1,795.1 L123.1,794.9 L124.1,794.6 L125.1,794.3 L126.1,793.9 L127.1,793.4 L128.1,792.9 L129.1,792.4 L130.1,791.7 L131.1,791.1 L132.1,790.4 L133.1,789.6 L134.1,788.8 L135.1,787.8 L136.1,786.8 L137.1,785.5 L138.1,784.1 L139.1,782.4 L140.1,780.5 L141.1,778.5 L142.1,776.3 L143.1,774.0 L144.1,771.6 L145.1,769.2 L146.1,766.8 L147.1,764.3 L148.1,761.8 L149.1,759.3 L150.1,756.7 L151.1,754.2 L152.1,751.7 L153.1,749.3 L154.1,747.1 L155.1,745.0 L156.1,743.1 L157.1,741.3 L158.1,739.8 L159.1,738.4 L160.1,737.1 L161.1,736.0 L162.1,734.9 L163.1,733.8 L164.1,732.7 L165.1,731.7 L166.1,730.7 L167.1,729.7 L168.1,728.8 L169.1,727.8 L170.1,726.9 L171.1,726.0 L172.1,725.2 L173.1,724.4 L174.1,723.6 L175.1,722.8 L176.1,721.8 L177.1,720.8 L178.1,719.6 L179.1,718.4 L180.1,717.0 L181.1,715.7 L182.1,714.3 L183.1,712.9 L184.1,711.5 L185.1,710.1 L186.1,708.7 L187.1,707.3 L188.1,705.9 L189.1,704.5 L190.1,703.1 L191.1,701.7 L192.1,700.3 L193.1,698.9 L194.1,697.5 L195.1,696.1 L196.1,694.6 L197.1,693.1 L198.1,691.5 L199.1,689.8 L200.1,688.2 L201.1,686.5 L202.1,684.9 L203.1,683.3 L204.1,681.8 L205.1,680.3 L206.1,678.9 L207.1,677.5 L208.1,676.3 L209.1,675.1 L210.1,674.0 L211.1,673.0 L212.1,672.1 L213.1,671.3 L214.1,670.5 L215.1,669.8 L216.1,669.1 L217.1,668.4 L218.1,667.6 L219.1,666.8 L220.1,666.0 L221.1,665.2 L222.1,664.3 L223.1,663.4 L224.1,662.6 L225.1,661.7 L226.1,660.8 L227.1,659.9 L228.1,658.9 L229.1,658.0 L230.1,657.0 L231.1,655.9 L232.1,654.9 L233.1,653.9 L234.1,652.9 L235.1,652.0 L236.1,651.1 L237.1,650.2 L238.1,649.4 L239.1,648.6 L240.1,647.9 L241.1,647.2 L242.1,646.6 L243.1,646.0 L244.1,645.4 L245.1,645.0 L246.1,644.7 L247.1,644.5 L248.1,644.4 L249.1,644.4 L250.1,644.5 L251.1,644.7 L252.1,645.1 L253.1,645.6 L254.1,646.2 L255.1,647.0 L256.1,647.8 L257.1,648.8 L258.1,649.7 L259.1,650.7 L260.1,651.7 L261.1,652.7 L262.1,653.7 L263.1,654.8 L264.1,655.8 L265.1,656.9 L266.1,658.0 L267.1,659.2 L268.1,660.3 L269.1,661.4 L270.1,662.5 L271.1,663.7 L272.1,664.8 L273.1,665.9 L274.1,666.9 L275.1,668.0 L276.1,669.0 L277.1,670.0 L278.1,671.0 L279.1,671.9 L280.1,672.9 L281.1,673.8 L282.1,674.6 L283.1,675.3 L284.1,675.9 L285.1,676.3 L286.1,676.6 L287.1,676.7 L288.1,676.6 L289.1,676.4 L290.1,676.1 L291.1,675.6 L292.1,675.1 L293.1,674.5 L294.1,673.8 L295.1,673.1 L296.1,672.3 L297.1,671.5 L298.1,670.7 L299.1,669.9 L300.1,669.1 L301.1,668.4 L302.1,667.7 L303.1,667.2 L304.1,666.7 L305.1,666.4 L306.1,666.2 L307.1,666.1 L308.1,666.2 L309.1,666.3 L310.1,666.7 L311.1,667.2 L312.1,667.8 L313.1,668.6 L314.1,669.4 L315.1,670.4 L316.1,671.5 L317.1,672.6 L318.1,673.8 L319.1,674.9 L320.1,676.1 L321.1,677.2 L322.1,678.2 L323.1,679.1 L324.1,679.9 L325.1,680.7 L326.1,681.4 L327.1,682.0 L328.1,682.4 L329.1,682.8 L330.1,683.0 L331.1,683.1 L332.1,683.1 L333.1,683.1 L334.1,683.1 L335.1,683.1 L336.1,683.1 L337.1,683.3 L338.1,683.6 L339.1,683.9 L340.1,684.4 L341.1,684.9 L342.1,685.6 L343.1,686.5 L344.1,687.5 L345.1,688.7 L346.1,690.1 L347.1,691.8 L348.1,693.6 L349.1,695.7 L350.1,697.9 L351.1,700.1 L352.1,702.4 L353.1,704.7 L354.1,707.0 L355.1,709.3 L356.1,711.5 L357.1,713.8 L358.1,716.1 L359.1,718.4 L360.1,720.7 L361.1,722.9 L362.1,725.2 L363.1,727.3 L364.1,729.2 L365.1,731.0 L366.1,732.5 L367.1,733.9 L368.1,735.0 L369.1,736.1 L370.1,737.1 L371.1,738.0 L372.1,738.9 L373.1,739.8 L374.1,740.5 L375.1,741.2 L376.1,741.9 L377.1,742.4 L378.1,742.9 L379.1,743.3 L380.1,743.7 L381.1,744.1 L382.1,744.5 L383.1,744.9 L384.1,745.3 L385.1,745.7 L386.1,746.1 L387.1,746.5 L388.1,746.9 L389.1,747.3 L390.1,747.7 L391.1,748.1 L392.1,748.5 L393.1,748.9 L394.1,749.3 L395.1,749.7 L396.1,750.2 L397.1,750.6 L398.1,751.2 L399.1,751.9 L400.1,752.7 L401.1,753.7 L402.1,754.8 L403.1,755.9 L404.1,757.1 L405.1,758.3 L406.1,759.5 L407.1,760.7 L408.1,762.0 L409.1,763.3 L410.1,764.5 L411.1,765.8 L412.1,767.0 L413.1,768.2 L414.1,769.3 L415.1,770.4 L416.1,771.3 L417.1,772.3 L418.1,773.1 L419.1,773.9 L420.1,774.6 L421.1,775.2 L422.1,775.8 L423.1,776.3 L424.1,776.7 L425.1,777.0 L426.1,777.3 L427.1,777.5 L428.1,777.6 L429.1,777.7 L430.1,777.8 L431.1,777.8 L432.1,777.7 L433.1,777.7 L434.1,777.5 L435.1,777.3 L436.1,777.0 L437.1,776.6 L438.1,776.1 L439.1,775.5 L440.1,774.9 L441.1,774.2 L442.1,773.6 L443.1,773.0 L444.1,772.4 L445.1,772.0 L446.1,771.6 L447.1,771.2 L448.1,771.0 L449.1,770.9 L450.1,770.9 L451.1,771.1 L452.1,771.3 L453.1,771.7 L454.1,772.1 L455.1,772.6 L456.1,773.1 L457.1,773.6 L458.1,774.2 L459.1,774.8 L460.1,775.4 L461.1,776.0 L462.1,776.6 L463.1,777.2 L464.1,777.8 L465.1,778.4 L466.1,779.0 L467.1,779.6 L468.1,780.2 L469.1,780.7 L470.1,781.3 L471.1,781.8 L472.1,782.3 L473.1,782.9 L474.1,783.4 L475.1,783.9 L476.1,784.4 L477.1,784.9 L478.1,785.3 L479.1,785.7 L480.1,786.0 L481.1,786.3 L482.1,786.5 L483.1,786.7 L484.1,786.8 L485.1,786.7 L486.1,786.5 L487.1,786.0 L488.1,785.3 L489.1,784.4 L490.1,783.3 L491.1,782.0 L492.1,780.7 L493.1,779.3 L494.1,777.8 L495.1,776.3 L496.1,774.7 L497.1,773.1 L498.1,771.5 L499.1,769.8 L500.1,768.1 L501.1,766.5 L502.1,764.9 L503.1,763.4 L504.1,762.0 L505.1,760.7 L506.1,759.6 L507.1,758.5 L508.1,757.6 L509.1,756.7 L510.1,755.7 L511.1,754.7 L512.1,753.6 L513.1,752.5 L514.1,751.4 L515.1,750.2 L516.1,749.0 L517.1,747.8 L518.1,746.6 L519.1,745.4 L520.1,744.2 L521.1,742.9 L522.1,741.7 L523.1,740.5 L524.1,739.3 L525.1,738.0 L526.1,736.7 L527.1,735.5 L528.1,734.2 L529.1,732.8 L530.1,731.5 L531.1,730.0 L532.1,728.5 L533.1,726.8 L534.1,725.0 L535.1,723.0 L536.1,720.9 L537.1,718.8 L538.1,716.7 L539.1,714.7 L540.1,712.8 L541.1,711.0 L542.1,709.2 L543.1,707.6 L544.1,706.0 L545.1,704.6 L546.1,703.2 L547.1,702.0 L548.1,701.0 L549.1,700.1 L550.1,699.3 L551.1,698.6 L552.1,698.1 L553.1,697.6 L554.1,697.2 L555.1,696.9 L556.1,696.6 L557.1,696.4 L558.1,696.2 L559.1,696.0 L560.1,695.7 L561.1,695.4 L562.1,695.1 L563.1,694.7 L564.1,694.3 L565.1,693.9 L566.1,693.4 L567.1,692.9 L568.1,692.3 L569.1,691.6 L570.1,690.8 L571.1,689.9 L572.1,688.9 L573.1,688.0 L574.1,686.9 L575.1,685.9 L576.1,684.8 L577.1,683.8 L578.1,682.7 L579.1,681.6 L580.1,680.4 L581.1,679.3 L582.1,678.1 L583.1,677.0 L584.1,675.9 L585.1,674.9 L586.1,674.0 L587.1,673.2 L588.1,672.6 L589.1,672.1 L590.1,671.7 L591.1,671.3 L592.1,671.1 L593.1,670.9 L594.1,670.8 L595.1,670.8 L596.1,670.9 L597.1,671.2 L598.1,671.7 L599.1,672.3 L600.1,673.2 L601.1,674.1 L602.1,675.1 L603.1,676.3 L604.1,677.5 L605.1,678.8 L606.1,680.2 L607.1,681.6 L608.1,683.1 L609.1,684.5 L610.1,685.9 L611.1,687.2 L612.1,688.4 L613.1,689.5 L614.1,690.4 L615.1,691.2 L616.1,691.7 L617.1,692.0 L618.1,692.1 L619.1,691.9 L620.1,691.5 L621.1,690.8 L622.1,690.0 L623.1,689.0 L624.1,687.8 L625.1,686.5 L626.1,685.1 L627.1,683.8 L628.1,682.5 L629.1,681.3 L630.1,680.2 L631.1,679.3 L632.1,678.4 L633.1,677.7 L634.1,677.1 L635.1,676.7 L636.1,676.6 L637.1,676.9 L638.1,677.7 L639.1,678.9 L640.1,680.6 L641.1,682.6 L642.1,684.8 L643.1,687.1 L644.1,689.5 L645.1,691.9 L646.1,694.4 L647.1,697.0 L648.1,699.6 L649.1,702.2 L650.1,704.7 L651.1,707.3 L652.1,709.7 L653.1,712.0 L654.1,714.0 L655.1,715.9 L656.1,717.5 L657.1,719.0 L658.1,720.2 L659.1,721.4 L660.1,722.4 L661.1,723.3 L662.1,724.1 L663.1,724.8 L664.1,725.4 L665.1,725.9 L666.1,726.3 L667.1,726.6 L668.1,726.9 L669.1,727.0 L670.1,727.1 L671.1,727.1 L672.1,727.0 L673.1,726.8 L674.1,726.5 L675.1,726.0 L676.1,725.4 L677.1,724.7 L678.1,723.7 L679.1,722.5 L680.1,721.0 L681.1,719.3 L682.1,717.5 L683.1,715.5 L684.1,713.4 L685.1,711.4 L686.1,709.5 L687.1,707.7 L688.1,706.0 L689.1,704.3 L690.1,702.7 L691.1,701.2 L692.1,699.8 L693.1,698.5 L694.1,697.4 L695.1,696.5 L696.1,695.9 L697.1,695.4 L698.1,695.1 L699.1,695.1 L700.1,695.2 L701.1,695.5 L702.1,696.0 L703.1,696.7 L704.1,697.5 L705.1,698.5 L706.1,699.7 L707.1,700.9 L708.1,702.2 L709.1,703.5 L710.1,704.8 L711.1,706.1 L712.1,707.3 L713.1,708.5 L714.1,709.7 L715.1,710.9 L716.1,712.0 L717.1,713.1 L718.1,714.2 L719.1,715.2 L720.1,716.1 L721.1,716.9 L722.1,717.6 L723.1,718.3 L724.1,718.8 L725.1,719.3 L726.1,719.8 L727.1,720.4 L728.1,721.0 L729.1,721.6 L730.1,722.3 L731.1,723.1 L732.1,723.9 L733.1,724.7 L734.1,725.6 L735.1,726.5 L736.1,727.4 L737.1,728.4 L738.1,729.4 L739.1,730.5 L740.1,731.6 L741.1,732.7 L742.1,733.9 L743.1,735.0 L744.1,736.2 L745.1,737.2 L746.1,738.3 L747.1,739.3 L748.1,740.2 L749.1,741.1 L750.1,741.9 L751.1,742.7 L752.1,743.4 L753.1,744.0 L754.1,744.6 L755.1,745.1 L756.1,745.6 L757.1,746.0 L758.1,746.3 L759.1,746.6 L760.1,746.8 L761.1,747.0 L762.1,747.1 L763.1,747.3 L764.1,747.3 L765.1,747.4 L766.1,747.5 L767.1,747.5 L768.1,747.6 L769.1,747.7 L770.1,747.9 L771.1,748.0 L772.1,748.2 L773.1,748.4 L774.1,748.5 L775.1,748.6 L776.1,748.5 L777.1,748.4 L778.1,748.1 L779.1,747.8 L780.1,747.3 L781.1,746.8 L782.1,746.3 L783.1,745.7 L784.1,745.0 L785.1,744.3 L786.1,743.6 L787.1,742.8 L788.1,742.0 L789.1,741.2 L790.1,740.5 L791.1,739.9 L792.1,739.4 L793.1,738.9 L794.1,738.6 L795.1,738.5 L796.1,738.5 L797.1,738.7 L798.1,739.0 L799.1,739.6 L800.1,740.2 L801.1,740.9 L802.1,741.7 L803.1,742.6 L804.1,743.4 L805.1,744.3 L806.1,745.0 L807.1,745.7 L808.1,746.4 L809.1,746.9 L810.1,747.3 L811.1,747.5 L812.1,747.6 L813.1,747.6 L814.1,747.3 L815.1,746.9 L816.1,746.4 L817.1,745.8 L818.1,745.1 L819.1,744.3 L820.1,743.5 L821.1,742.6 L822.1,741.6 L823.1,740.6 L824.1,739.6 L825.1,738.6 L826.1,737.6 L827.1,736.6 L828.1,735.6 L829.1,734.6 L830.1,733.6 L831.1,732.6 L832.1,731.6 L833.1,730.6 L834.1,729.6 L835.1,728.6 L836.1,727.6 L837.1,726.6 L838.1,725.6 L839.1,724.6 L840.1,723.6 L841.1,722.6 L842.1,721.7 L843.1,720.7 L844.1,719.8 L845.1,719.0 L846.1,718.3 L847.1,717.7 L848.1,717.3 L849.1,717.0 L850.1,716.9 L851.1,717.0 L852.1,717.1 L853.1,717.4 L854.1,717.8 L855.1,718.1 L856.1,718.6 L857.1,719.0 L858.1,719.5 L859.1,720.0 L860.1,720.5 L861.1,721.0 L862.1,721.5 L863.1,722.0 L864.1,722.5 L865.1,723.0 L866.1,723.4 L867.1,723.8 L868.1,724.2 L869.1,724.4 L870.1,724.6 L871.1,724.8 L872.1,725.0 L873.1,725.1 L874.1,725.3 L875.1,725.6 L876.1,725.9 L877.1,726.3 L878.1,726.7 L879.1,727.1 L880.1,727.5 L881.1,727.8 L882.1,728.0 L883.1,728.1 L884.1,728.1 L885.1,728.1 L886.1,728.0 L887.1,727.8 L888.1,727.6 L889.1,727.4 L890.1,727.1 L891.1,726.9 L892.1,726.6 L893.1,726.2 L894.1,725.9 L895.1,725.6 L896.1,725.2 L897.1,724.9 L898.1,724.5 L899.1,724.1 L900.1,723.7 L901.1,723.3 L902.1,722.9 L903.1,722.4 L904.1,722.0 L905.1,721.5 L906.1,721.0 L907.1,720.6 L908.1,720.1 L909.1,719.7 L910.1,719.2 L911.1,718.8 L912.1,718.4 L913.1,718.0 L914.1,717.6 L915.1,717.3 L916.1,717.0 L917.1,716.7 L918.1,716.4 L919.1,716.2 L920.1,716.0 L921.1,715.8 L922.1,715.6 L923.1,715.4 L924.1,715.3 L925.1,715.1 L926.1,714.9 L927.1,714.8 L928.1,714.6 L929.1,714.5 L930.1,714.3 L931.1,714.2 L932.1,714.1 L933.1,713.9 L934.1,713.8 L935.1,713.7 L936.1,713.6 L937.1,713.4 L938.1,713.3 L939.1,713.2 L940.1,713.1 L941.1,713.0 L942.1,712.9 L943.1,712.8 L944.1,712.7 L945.1,712.6 L946.1,712.5 L947.1,712.4 L948.1,712.3 L949.1,712.2 L950.1,712.1 L951.1,712.0 L952.1,711.9 L953.1,711.8 L954.1,711.7 L955.1,711.6 L956.1,711.6 L957.1,711.5 L958.1,711.5 L959.1,711.4 L960.1,711.4 L961.1,711.3 L962.1,711.3 L963.1,711.2 L964.1,711.2 L965.1,711.2 L966.1,711.1 L967.1,711.1 L968.1,711.1 L969.1,711.0 L970.1,711.0 L971.1,710.9 L972.1,710.9 L973.1,710.8 L974.1,710.7 L975.1,710.7 L976.1,710.6 L977.1,710.5 L978.1,710.4 L979.1,710.3 L980.1,710.2 L981.1,710.1 L982.1,710.0 L983.1,709.8 L984.1,709.7 L985.1,709.5 L986.1,709.3 L987.1,709.0 L988.1,708.8 L989.1,708.5 L990.1,708.2 L991.1,707.9 L992.1,707.6 L993.1,707.2 L994.1,706.9 L995.1,706.5 L996.1,706.1 L997.1,705.7 L998.1,705.3 L999.1,704.9 L1000.1,704.5 L1001.1,704.0 L1002.1,703.6 L1003.1,703.2 L1004.1,702.7 L1005.1,702.3 L1006.1,701.9 L1007.1,701.5 L1007.8,701.2" stroke="#000000"/>
<path d="M77.1,795.1 L78.1,795.1 L79.1,795.1 L80.1,795.1 L81.1,795.1 L82.1,795.1 L83.1,795.1 L84.1,795.1 L85.1,795.1 L86.1,795.1 L87.1,795.1 L88.1,795.1 L89.1,795.1 L90.1,795.1 L91.1,795.1 L92.1,795.1 L93.1,795.1 L94.1,795.1 L95.1,795.1 L96.1,795.1 L97.1,795.1 L98.1,795.1 L99.1,795.1 L100.1,795.1 L101.1,795.1 L102.1,795.1 L103.1,795.1 L104.1,795.1 L105.1,795.1 L106.1,795.1 L107.1,795.1 L108.1,795.1 L109.1,795.1 L110.1,795.1 L111.1,795.1 L112.1,795.1 L113.1,795.1 L114.1,795.1 L115.1,795.1 L116.1,795.1 L117.1,795.1 L118.1,795.1 L119.1,795.1 L120.1,795.1 L121.1,795.1 L122.1,795.1 L123.1,795.1 L124.1,795.1 L125.1,794.9 L126.1,794.6 L127.1,794.3 L128.1,794.0 L129.1,793.6 L130.1,793.1 L131.1,792.6 L132.1,792.0 L133.1,791.4 L134.1,790.8 L135.1,790.1 L136.1,789.3 L137.1,788.4 L138.1,787.5 L139.1,786.5 L140.1,785.3 L141.1,783.9 L142.1,782.5 L143.1,780.9 L144.1,779.2 L145.1,777.4 L146.1,775.7 L147.1,773.9 L148.1,772.2 L149.1,770.4 L150.1,768.7 L151.1,766.9 L152.1,765.2 L153.1,763.5 L154.1,761.9 L155.1,760.3 L156.1,758.8 L157.1,757.5 L158.1,756.3 L159.1,755.3 L160.1,754.4 L161.1,753.6 L162.1,752.9 L163.1,752.3 L164.1,751.6 L165.1,751.0 L166.1,750.4 L167.1,749.8 L168.1,749.1 L169.1,748.5 L170.1,747.9 L171.1,747.3 L172.1,746.6 L173.1,746.0 L174.1,745.4 L175.1,744.8 L176.1,744.1 L177.1,743.5 L178.1,742.9 L179.1,742.2 L180.1,741.5 L181.1,740.7 L182.1,739.9 L183.1,738.9 L184.1,737.9 L185.1,736.8 L186.1,735.7 L187.1,734.6 L188.1,733.5 L189.1,732.4 L190.1,731.4 L191.1,730.3 L192.1,729.2 L193.1,728.1 L194.1,727.0 L195.1,725.9 L196.1,724.7 L197.1,723.6 L198.1,722.4 L199.1,721.2 L200.1,719.9 L201.1,718.7 L202.1,717.4 L203.1,716.1 L204.1,714.9 L205.1,713.7 L206.1,712.6 L207.1,711.6 L208.1,710.6 L209.1,709.7 L210.1,708.8 L211.1,708.0 L212.1,707.2 L213.1,706.5 L214.1,705.8 L215.1,705.0 L216.1,704.3 L217.1,703.6 L218.1,702.9 L219.1,702.2 L220.1,701.5 L221.1,700.8 L222.1,700.1 L223.1,699.4 L224.1,698.7 L225.1,698.0 L226.1,697.3 L227.1,696.6 L228.1,695.9 L229.1,695.2 L230.1,694.5 L231.1,693.8 L232.1,693.1 L233.1,692.5 L234.1,691.8 L235.1,691.1 L236.1,690.5 L237.1,689.8 L238.1,689.2 L239.1,688.6 L240.1,688.0 L241.1,687.5 L242.1,687.0 L243.1,686.5 L244.1,686.2 L245.1,685.9 L246.1,685.7 L247.1,685.5 L248.1,685.5 L249.1,685.5 L250.1,685.6 L251.1,685.8 L252.1,686.1 L253.1,686.4 L254.1,686.9 L255.1,687.5 L256.1,688.1 L257.1,688.8 L258.1,689.4 L259.1,690.1 L260.1,690.8 L261.1,691.5 L262.1,692.2 L263.1,693.0 L264.1,693.7 L265.1,694.4 L266.1,695.2 L267.1,695.9 L268.1,696.7 L269.1,697.4 L270.1,698.2 L271.1,698.9 L272.1,699.7 L273.1,700.4 L274.1,701.2 L275.1,701.9 L276.1,702.7 L277.1,703.4 L278.1,704.2 L279.1,704.9 L280.1,705.6 L281.1,706.3 L282.1,706.8 L283.1,707.2 L284.1,707.5 L285.1,707.6 L286.1,707.6 L287.1,707.5 L288.1,707.4 L289.1,707.1 L290.1,706.8 L291.1,706.4 L292.1,706.0 L293.1,705.5 L294.1,705.0 L295.1,704.4 L296.1,703.8 L297.1,703.2 L298.1,702.5 L299.1,701.8 L300.1,701.2 L301.1,700.5 L302.1,699.9 L303.1,699.4 L304.1,699.0 L305.1,698.7 L306.1,698.4 L307.1,698.4 L308.1,698.4 L309.1,698.6 L310.1,698.8 L311.1,699.3 L312.1,699.8 L313.1,700.4 L314.1,701.1 L315.1,701.9 L316.1,702.7 L317.1,703.6 L318.1,704.5 L319.1,705.4 L320.1,706.3 L321.1,707.1 L322.1,707.9 L323.1,708.7 L324.1,709.4 L325.1,710.0 L326.1,710.6 L327.1,711.2 L328.1,711.7 L329.1,712.1 L330.1,712.6 L331.1,712.9 L332.1,713.1 L333.1,713.3 L334.1,713.5 L335.1,713.6 L336.1,713.7 L337.1,713.9 L338.1,714.2 L339.1,714.5 L340.1,714.9 L341.1,715.4 L342.1,715.9 L343.1,716.6 L344.1,717.4 L345.1,718.3 L346.1,719.4 L347.1,720.6 L348.1,722.0 L349.1,723.6 L350.1,725.4 L351.1,727.3 L352.1,729.4 L353.1,731.5 L354.1,733.8 L355.1,736.1 L356.1,738.4 L357.1,740.7 L358.1,742.9 L359.1,745.1 L360.1,747.3 L361.1,749.4 L362.1,751.5 L363.1,753.5 L364.1,755.4 L365.1,757.2 L366.1,758.9 L367.1,760.4 L368.1,761.8 L369.1,763.0 L370.1,764.1 L371.1,765.0 L372.1,765.9 L373.1,766.7 L374.1,767.5 L375.1,768.2 L376.1,768.8 L377.1,769.3 L378.1,769.8 L379.1,770.2 L380.1,770.5 L381.1,770.7 L382.1,770.9 L383.1,771.0 L384.1,771.1 L385.1,771.2 L386.1,771.3 L387.1,771.4 L388.1,771.5 L389.1,771.6 L390.1,771.8 L391.1,772.0 L392.1,772.2 L393.1,772.5 L394.1,772.7 L395.1,773.0 L396.1,773.3 L397.1,773.7 L398.1,774.0 L399.1,774.4 L400.1,774.8 L401.1,775.3 L402.1,775.8 L403.1,776.4 L404.1,776.9 L405.1,777.5 L406.1,778.2 L407.1,778.8 L408.1,779.4 L409.1,780.0 L410.1,780.6 L411.1,781.2 L412.1,781.8 L413.1,782.3 L414.1,782.8 L415.1,783.3 L416.1,783.8 L417.1,784.3 L418.1,784.8 L419.1,785.3 L420.1,785.7 L421.1,786.2 L422.1,786.5 L423.1,786.8 L424.1,787.1 L425.1,787.2 L426.1,787.4 L427.1,787.5 L428.1,787.6 L429.1,787.8 L430.1,788.1 L431.1,788.6 L432.1,789.2 L433.1,790.0 L434.1,790.9 L435.1,791.7 L436.1,792.4 L437.1,793.0 L438.1,793.3 L439.1,793.5 L440.1,793.7 L441.1,793.7 L442.1,793.8 L443.1,793.8 L444.1,793.8 L445.1,793.8 L446.1,793.8 L447.1,793.8 L448.1,793.8 L449.1,793.8 L450.1,793.8 L451.1,793.8 L452.1,793.8 L453.1,793.8 L454.1,793.8 L455.1,793.8 L456.1,793.8 L457.1,793.8 L458.1,793.8 L459.1,793.8 L460.1,793.8 L461.1,793.8 L462.1,793.8 L463.1,793.8 L464.1,793.8 L465.1,793.8 L466.1,793.8 L467.1,793.8 L468.1,793.8 L469.1,793.8 L470.1,793.8 L471.1,793.8 L472.1,793.8 L473.1,793.8 L474.1,793.8 L475.1,793.8 L476.1,793.8 L477.1,793.8 L478.1,793.8 L479.1,793.8 L480.1,793.8 L481.1,793.8 L482.1,793.8 L483.1,793.8 L484.1,793.8 L485.1,793.8 L486.1,793.8 L487.1,793.8 L488.1,793.8 L489.1,793.8 L490.1,793.8 L491.1,793.8 L492.1,793.7 L493.1,793.7 L494.1,793.6 L495.1,793.4 L496.1,793.2 L497.1,793.1 L498.1,792.9 L499.1,792.7 L500.1,792.5 L501.1,792.3 L502.1,792.1 L503.1,791.9 L504.1,791.7 L505.1,791.5 L506.1,791.4 L507.1,791.2 L508.1,791.0 L509.1,790.8 L510.1,790.6 L511.1,790.4 L512.1,790.3 L513.1,790.1 L514.1,789.9 L515.1,789.8 L516.1,789.6 L517.1,789.5 L518.1,789.4 L519.1,789.2 L520.1,789.0 L521.1,788.9 L522.1,788.7 L523.1,788.5 L524.1,788.2 L525.1,788.0 L526.1,787.7 L527.1,787.5 L528.1,787.2 L529.1,787.0 L530.1,786.7 L531.1,786.5 L532.1,786.2 L533.1,786.0 L534.1,785.7 L535.1,785.5 L536.1,785.2 L537.1,785.0 L538.1,784.7 L539.1,784.4 L540.1,784.2 L541.1,783.9 L542.1,783.6 L543.1,783.4 L544.1,783.1 L545.1,782.9 L546.1,782.7 L547.1,782.5 L548.1,782.3 L549.1,782.2 L550.1,782.0 L551.1,781.9 L552.1,781.8 L553.1,781.8 L554.1,781.7 L555.1,781.6 L556.1,781.6 L557.1,781.5 L558.1,781.4 L559.1,781.4 L560.1,781.3 L561.1,781.2 L562.1,781.1 L563.1,781.0 L564.1,781.0 L565.1,780.9 L566.1,780.8 L567.1,780.7 L568.1,780.6 L569.1,780.5 L570.1,780.5 L571.1,780.4 L572.1,780.2 L573.1,780.1 L574.1,779.9 L575.1,779.6 L576.1,779.4 L577.1,779.1 L578.1,778.8 L579.1,778.6 L580.1,778.3 L581.1,778.1 L582.1,777.9 L583.1,777.6 L584.1,777.5 L585.1,777.3 L586.1,777.1 L587.1,776.9 L588.1,776.8 L589.1,776.7 L590.1,776.5 L591.1,776.4 L592.1,776.3 L593.1,776.3 L594.1,776.2 L595.1,776.2 L596.1,776.2 L597.1,776.2 L598.1,776.2 L599.1,776.3 L600.1,776.3 L601.1,776.4 L602.1,776.5 L603.1,776.6 L604.1,776.7 L605.1,776.8 L606.1,776.9 L607.1,777.0 L608.1,777.1 L609.1,777.2 L610.1,777.3 L611.1,777.4 L612.1,777.5 L613.1,777.6 L614.1,777.7 L615.1,777.8 L616.1,777.8 L617.1,777.9 L618.1,777.9 L619.1,777.7 L620.1,777.5 L621.1,777.3 L622.1,777.0 L623.1,776.6 L624.1,776.3 L625.1,775.9 L626.1,775.6 L627.1,775.3 L628.1,775.0 L629.1,774.6 L630.1,774.3 L631.1,774.0 L632.1,773.7 L633.1,773.4 L634.1,773.2 L635.1,773.0 L636.1,773.0 L637.1,772.9 L638.1,773.0 L639.1,773.2 L640.1,773.4 L641.1,773.6 L642.1,773.9 L643.1,774.2 L644.1,774.5 L645.1,774.9 L646.1,775.2 L647.1,775.6 L648.1,776.0 L649.1,776.4 L650.1,776.8 L651.1,777.2 L652.1,777.6 L653.1,778.1 L654.1,778.4 L655.1,778.8 L656.1,779.2 L657.1,779.5 L658.1,779.7 L659.1,779.9 L660.1,780.1 L661.1,780.3 L662.1,780.4 L663.1,780.5 L664.1,780.6 L665.1,780.7 L666.1,780.7 L667.1,780.8 L668.1,780.9 L669.1,780.9 L670.1,781.0 L671.1,781.0 L672.1,781.0 L673.1,780.9 L674.1,780.8 L675.1,780.6 L676.1,780.3 L677.1,780.0 L678.1,779.7 L679.1,779.3 L680.1,778.9 L681.1,778.5 L682.1,778.1 L683.1,777.7 L684.1,777.3 L685.1,776.8 L686.1,776.5 L687.1,776.1 L688.1,775.7 L689.1,775.3 L690.1,774.9 L691.1,774.5 L692.1,774.2 L693.1,773.8 L694.1,773.5 L695.1,773.2 L696.1,773.0 L697.1,772.8 L698.1,772.7 L699.1,772.6 L700.1,772.7 L701.1,772.7 L702.1,772.9 L703.1,773.1 L704.1,773.4 L705.1,773.6 L706.1,774.0 L707.1,774.3 L708.1,774.7 L709.1,775.1 L710.1,775.5 L711.1,775.9 L712.1,776.4 L713.1,776.9 L714.1,777.3 L715.1,777.8 L716.1,778.3 L717.1,778.8 L718.1,779.2 L719.1,779.6 L720.1,780.0 L721.1,780.4 L722.1,780.8 L723.1,781.1 L724.1,781.5 L725.1,781.8 L726.1,782.1 L727.1,782.5 L728.1,782.8 L729.1,783.1 L730.1,783.4 L731.1,783.7 L732.1,784.0 L733.1,784.3 L734.1,784.6 L735.1,784.9 L736.1,785.2 L737.1,785.5 L738.1,785.7 L739.1,786.0 L740.1,786.3 L741.1,786.6 L742.1,786.9 L743.1,787.1 L744.1,787.4 L745.1,787.7 L746.1,787.9 L747.1,788.2 L748.1,788.5 L749.1,788.7 L750.1,789.0 L751.1,789.2 L752.1,789.5 L753.1,789.7 L754.1,789.9 L755.1,790.1 L756.1,790.4 L757.1,790.6 L758.1,790.7 L759.1,790.9 L760.1,791.1 L761.1,791.2 L762.1,791.3 L763.1,791.4 L764.1,791.5 L765.1,791.5 L766.1,791.6 L767.1,791.6 L768.1,791.6 L769.1,791.6 L770.1,791.6 L771.1,791.6 L772.1,791.6 L773.1,791.6 L774.1,791.6 L775.1,791.6 L776.1,791.6 L777.1,791.6 L778.1,791.6 L779.1,791.5 L780.1,791.5 L781.1,791.5 L782.1,791.5 L783.1,791.5 L784.1,791.5 L785.1,791.5 L786.1,791.5 L787.1,791.5 L788.1,791.5 L789.1,791.5 L790.1,791.4 L791.1,791.4 L792.1,791.4 L793.1,791.4 L794.1,791.4 L795.1,791.4 L796.1,791.4 L797.1,791.4 L798.1,791.4 L799.1,791.4 L800.1,791.4 L801.1,791.4 L802.1,791.4 L803.1,791.4 L804.1,791.4 L805.1,791.4 L806.1,791.4 L807.1,791.4 L808.1,791.4 L809.1,791.4 L810.1,791.4 L811.1,791.4 L812.1,791.4 L813.1,791.4 L814.1,791.4 L815.1,791.4 L816.1,791.4 L817.1,791.4 L818.1,791.4 L819.1,791.4 L820.1,791.4 L821.1,791.4 L822.1,791.4 L823.1,791.4 L824.1,791.4 L825.1,791.4 L826.1,791.4 L827.1,791.4 L828.1,791.4 L829.1,791.4 L830.1,791.4 L831.1,791.4 L832.1,791.4 L833.1,791.4 L834.1,791.4 L835.1,791.4 L836.1,791.4 L837.1,791.4 L838.1,791.4 L839.1,791.4 L840.1,791.4 L841.1,791.4 L842.1,791.4 L843.1,791.4 L844.1,791.4 L845.1,791.4 L846.1,791.4 L847.1,791.4 L848.1,791.4 L849.1,791.4 L850.1,791.4 L851.1,791.4 L852.1,791.4 L853.1,791.4 L854.1,791.4 L855.1,791.4 L856.1,791.3 L857.1,791.3 L858.1,791.3 L859.1,791.3 L860.1,791.3 L861.1,791.3 L862.1,791.3 L863.1,791.3 L864.1,791.3 L865.1,791.3 L866.1,791.3 L867.1,791.3 L868.1,791.3 L869.1,791.3 L870.1,791.3 L871.1,791.3 L872.1,791.3 L873.1,791.3 L874.1,791.3 L875.1,791.3 L876.1,791.3 L877.1,791.3 L878.1,791.3 L879.1,791.3 L880.1,791.3 L881.1,791.3 L882.1,791.3 L883.1,791.3 L884.1,791.3 L885.1,791.3 L886.1,791.3 L887.1,791.3 L888.1,791.3 L889.1,791.3 L890.1,791.3 L891.1,791.3 L892.1,791.3 L893.1,791.3 L894.1,791.3 L895.1,791.3 L896.1,791.3 L897.1,791.3 L898.1,791.3 L899.1,791.3 L900.1,791.3 L901.1,791.3 L902.1,791.3 L903.1,791.3 L904.1,791.3 L905.1,791.3 L906.1,791.3 L907.1,791.3 L908.1,791.3 L909.1,791.3 L910.1,791.3 L911.1,791.3 L912.1,791.3 L913.1,791.3 L914.1,791.3 L915.1,791.3 L916.1,791.3 L917.1,791.3 L918.1,791.3 L919.1,791.3 L920.1,791.3 L921.1,791.3 L922.1,791.3 L923.1,791.3 L924.1,791.3 L925.1,791.3 L926.1,791.3 L927.1,791.3 L928.1,791.3 L929.1,791.3 L930.1,791.3 L931.1,791.3 L932.1,791.3 L933.1,791.3 L934.1,791.3 L935.1,791.3 L936.1,791.3 L937.1,791.3 L938.1,791.3 L939.1,791.3 L940.1,791.3 L941.1,791.3 L942.1,791.3 L943.1,791.3 L944.1,791.3 L945.1,791.3 L946.1,791.3 L947.1,791.3 L948.1,791.3 L949.1,791.3 L950.1,791.3 L951.1,791.3 L952.1,791.3 L953.1,791.3 L954.1,791.3 L955.1,791.3 L956.1,791.3 L957.1,791.3 L958.1,791.3 L959.1,791.3 L960.1,791.3 L961.1,791.3 L962.1,791.3 L963.1,791.3 L964.1,791.3 L965.1,791.3 L966.1,791.3 L967.1,791.3 L968.1,791.3 L969.1,791.3 L970.1,791.3 L971.1,791.3 L972.1,791.3 L973.1,791.3 L974.1,791.3 L975.1,791.3 L976.1,791.3 L977.1,791.3 L978.1,791.3 L979.1,791.3 L980.1,791.3 L981.1,791.3 L982.1,791.3 L983.1,791.3 L984.1,791.3 L985.1,791.3 L986.1,791.3 L987.1,791.3 L988.1,791.3 L989.1,791.3 L990.1,791.3 L991.1,791.3 L992.1,791.3 L993.1,791.3 L994.1,791.3 L995.1,791.3 L996.1,791.3 L997.1,791.3 L998.1,791.3 L999.1,791.3 L1000.1,791.3 L1001.1,791.3 L1002.1,791.3 L1003.1,791.3 L1004.1,791.3 L1005.1,791.3 L1006.1,791.3 L1007.1,791.3 L1007.8,791.3" stroke="#ff0000"/>
<path d="M77.1,795.1 L78.1,795.1 L79.1,795.1 L80.1,795.1 L81.1,795.1 L82.1,795.1 L83.1,795.1 L84.1,795.1 L85.1,795.1 L86.1,795.1 L87.1,795.1 L88.1,795.1 L89.1,795.1 L90.1,795.1 L91.1,795.1 L92.1,795.1 L93.1,795.1 L94.1,795.1 L95.1,795.1 L96.1,795.1 L97.1,795.1 L98.1,795.1 L99.1,795.1 L100.1,795.1 L101.1,795.1 L102.1,795.1 L103.1,795.1 L104.1,795.1 L105.1,795.1 L106.1,795.1 L107.1,795.1 L108.1,795.1 L109.1,795.1 L110.1,795.1 L111.1,795.1 L112.1,795.1 L113.1,795.1 L114.1,795.1 L115.1,795.1 L116.1,795.1 L117.1,795.1 L118.1,795.1 L119.1,795.1 L120.1,795.1 L121.1,795.1 L122.1,795.1 L123.1,795.1 L124.1,795.1 L125.1,795.1 L126.1,795.1 L127.1,795.1 L128.1,795.1 L129.1,795.1 L130.1,795.1 L131.1,795.1 L132.1,795.1 L133.1,794.9 L134.1,794.6 L135.1,794.3 L136.1,793.9 L137.1,793.5 L138.1,793.1 L139.1,792.7 L140.1,792.3 L141.1,791.8 L142.1,791.3 L143.1,790.7 L144.1,790.2 L145.1,789.5 L146.1,788.9 L147.1,788.3 L148.1,787.7 L149.1,787.0 L150.1,786.4 L151.1,785.9 L152.1,785.4 L153.1,784.9 L154.1,784.5 L155.1,784.0 L156.1,783.7 L157.1,783.3 L158.1,783.0 L159.1,782.7 L160.1,782.4 L161.1,782.2 L162.1,782.0 L163.1,781.8 L164.1,781.6 L165.1,781.5 L166.1,781.3 L167.1,781.2 L168.1,781.1 L169.1,780.9 L170.1,780.8 L171.1,780.7 L172.1,780.5 L173.1,780.4 L174.1,780.2 L175.1,780.1 L176.1,779.9 L177.1,779.7 L178.1,779.6 L179.1,779.4 L180.1,779.2 L181.1,779.0 L182.1,778.9 L183.1,778.7 L184.1,778.5 L185.1,778.3 L186.1,778.1 L187.1,777.9 L188.1,777.7 L189.1,777.5 L190.1,777.3 L191.1,777.1 L192.1,776.8 L193.1,776.6 L194.1,776.4 L195.1,776.1 L196.1,775.9 L197.1,775.6 L198.1,775.4 L199.1,775.1 L200.1,774.9 L201.1,774.6 L202.1,774.4 L203.1,774.1 L204.1,773.9 L205.1,773.7 L206.1,773.4 L207.1,773.2 L208.1,772.9 L209.1,772.7 L210.1,772.5 L211.1,772.3 L212.1,772.1 L213.1,771.9 L214.1,771.7 L215.1,771.5 L216.1,771.4 L217.1,771.2 L218.1,771.1 L219.1,771.0 L220.1,770.9 L221.1,770.8 L222.1,770.7 L223.1,770.6 L224.1,770.5 L225.1,770.4 L226.1,770.3 L227.1,770.3 L228.1,770.2 L229.1,770.1 L230.1,770.0 L231.1,769.9 L232.1,769.8 L233.1,769.7 L234.1,769.6 L235.1,769.6 L236.1,769.5 L237.1,769.4 L238.1,769.3 L239.1,769.2 L240.1,769.2 L241.1,769.1 L242.1,769.0 L243.1,768.9 L244.1,768.9 L245.1,768.9 L246.1,768.8 L247.1,768.8 L248.1,768.9 L249.1,768.9 L250.1,769.0 L251.1,769.1 L252.1,769.3 L253.1,769.5 L254.1,769.7 L255.1,769.9 L256.1,770.2 L257.1,770.5 L258.1,770.8 L259.1,771.1 L260.1,771.4 L261.1,771.7 L262.1,772.0 L263.1,772.3 L264.1,772.6 L265.1,772.9 L266.1,773.2 L267.1,773.5 L268.1,773.8 L269.1,774.2 L270.1,774.5 L271.1,774.9 L272.1,775.2 L273.1,775.6 L274.1,775.9 L275.1,776.2 L276.1,776.6 L277.1,776.9 L278.1,777.1 L279.1,777.4 L280.1,777.7 L281.1,777.9 L282.1,778.1 L283.1,778.3 L284.1,778.5 L285.1,778.7 L286.1,778.9 L287.1,779.1 L288.1,779.3 L289.1,779.4 L290.1,779.6 L291.1,779.7 L292.1,779.8 L293.1,779.9 L294.1,780.0 L295.1,780.1 L296.1,780.2 L297.1,780.3 L298.1,780.4 L299.1,780.5 L300.1,780.6 L301.1,780.8 L302.1,780.9 L303.1,781.1 L304.1,781.3 L305.1,781.5 L306.1,781.7 L307.1,781.9 L308.1,782.1 L309.1,782.3 L310.1,782.5 L311.1,782.8 L312.1,783.0 L313.1,783.2 L314.1,783.4 L315.1,783.6 L316.1,783.8 L317.1,784.0 L318.1,784.3 L319.1,784.5 L320.1,784.7 L321.1,784.9 L322.1,785.1 L323.1,785.3 L324.1,785.5 L325.1,785.8 L326.1,786.0 L327.1,786.2 L328.1,786.4 L329.1,786.6 L330.1,786.8 L331.1,787.0 L332.1,787.2 L333.1,787.4 L334.1,787.6 L335.1,787.7 L336.1,787.9 L337.1,788.0 L338.1,788.0 L339.1,788.1 L340.1,788.2 L341.1,788.3 L342.1,788.3 L343.1,788.4 L344.1,788.5 L345.1,788.6 L346.1,788.7 L347.1,788.8 L348.1,789.0 L349.1,789.1 L350.1,789.3 L351.1,789.5 L352.1,789.7 L353.1,789.9 L354.1,790.0 L355.1,790.2 L356.1,790.3 L357.1,790.4 L358.1,790.5 L359.1,790.6 L360.1,790.6 L361.1,790.6 L362.1,790.6 L363.1,790.6 L364.1,790.6 L365.1,790.6 L366.1,790.6 L367.1,790.6 L368.1,790.6 L369.1,790.6 L370.1,790.6 L371.1,790.6 L372.1,790.6 L373.1,790.6 L374.1,790.6 L375.1,790.6 L376.1,790.6 L377.1,790.6 L378.1,790.6 L379.1,790.6 L380.1,790.6 L381.1,790.6 L382.1,790.6 L383.1,790.6 L384.1,790.6 L385.1,790.6 L386.1,790.6 L387.1,790.6 L388.1,790.6 L389.1,790.6 L390.1,790.6 L391.1,790.6 L392.1,790.6 L393.1,790.6 L394.1,790.6 L395.1,790.6 L396.1,790.6 L397.1,790.6 L398.1,790.6 L399.1,790.6 L400.1,790.6 L401.1,790.6 L402.1,790.6 L403.1,790.6 L404.1,790.6 L405.1,790.6 L406.1,790.6 L407.1,790.6 L408.1,790.6 L409.1,790.6 L410.1,790.6 L411.1,790.6 L412.1,790.6 L413.1,790.6 L414.1,790.6 L415.1,790.6 L416.1,790.6 L417.1,790.6 L418.1,790.6 L419.1,790.5 L420.1,790.5 L421.1,790.5 L422.1,790.5 L423.1,790.5 L424.1,790.5 L425.1,790.5 L426.1,790.5 L427.1,790.5 L428.1,790.5 L429.1,790.5 L430.1,790.5 L431.1,790.5 L432.1,790.6 L433.1,790.7 L434.1,790.9 L435.1,791.0 L436.1,791.1 L437.1,791.1 L438.1,791.0 L439.1,790.9 L440.1,790.7 L441.1,790.6 L442.1,790.4 L443.1,790.2 L444.1,790.0 L445.1,789.8 L446.1,789.7 L447.1,789.5 L448.1,789.3 L449.1,789.2 L450.1,789.1 L451.1,789.0 L452.1,788.9 L453.1,789.0 L454.1,789.1 L455.1,789.2 L456.1,789.4 L457.1,789.7 L458.1,790.0 L459.1,790.2 L460.1,790.5 L461.1,790.7 L462.1,790.8 L463.1,791.0 L464.1,791.1 L465.1,791.3 L466.1,791.4 L467.1,791.5 L468.1,791.7 L469.1,791.8 L470.1,791.9 L471.1,792.0 L472.1,792.1 L473.1,792.2 L474.1,792.4 L475.1,792.5 L476.1,792.6 L477.1,792.6 L478.1,792.7 L479.1,792.8 L480.1,792.8 L481.1,792.8 L482.1,792.8 L483.1,792.8 L484.1,792.8 L485.1,792.8 L486.1,792.7 L487.1,792.7 L488.1,792.6 L489.1,792.5 L490.1,792.3 L491.1,792.0 L492.1,791.7 L493.1,791.3 L494.1,790.9 L495.1,790.4 L496.1,789.9 L497.1,789.4 L498.1,788.8 L499.1,788.1 L500.1,787.3 L501.1,786.5 L502.1,785.6 L503.1,784.5 L504.1,783.4 L505.1,782.2 L506.1,780.9 L507.1,779.6 L508.1,778.2 L509.1,776.8 L510.1,775.4 L511.1,774.0 L512.1,772.5 L513.1,771.0 L514.1,769.5 L515.1,768.0 L516.1,766.5 L517.1,765.0 L518.1,763.5 L519.1,762.0 L520.1,760.5 L521.1,759.0 L522.1,757.6 L523.1,756.1 L524.1,754.7 L525.1,753.3 L526.1,751.9 L527.1,750.5 L528.1,749.1 L529.1,747.7 L530.1,746.3 L531.1,744.9 L532.1,743.6 L533.1,742.2 L534.1,740.9 L535.1,739.5 L536.1,738.2 L537.1,736.9 L538.1,735.6 L539.1,734.3 L540.1,733.1 L541.1,731.9 L542.1,730.6 L543.1,729.5 L544.1,728.4 L545.1,727.4 L546.1,726.5 L547.1,725.7 L548.1,725.0 L549.1,724.4 L550.1,723.9 L551.1,723.5 L552.1,723.2 L553.1,722.9 L554.1,722.6 L555.1,722.4 L556.1,722.3 L557.1,722.1 L558.1,722.0 L559.1,721.9 L560.1,721.8 L561.1,721.8 L562.1,721.7 L563.1,721.6 L564.1,721.5 L565.1,721.4 L566.1,721.2 L567.1,721.0 L568.1,720.6 L569.1,720.3 L570.1,719.8 L571.1,719.3 L572.1,718.8 L573.1,718.2 L574.1,717.6 L575.1,716.9 L576.1,716.1 L577.1,715.4 L578.1,714.6 L579.1,713.8 L580.1,713.1 L581.1,712.4 L582.1,711.7 L583.1,711.0 L584.1,710.4 L585.1,709.9 L586.1,709.3 L587.1,708.8 L588.1,708.3 L589.1,708.0 L590.1,707.7 L591.1,707.5 L592.1,707.5 L593.1,707.6 L594.1,707.9 L595.1,708.3 L596.1,708.8 L597.1,709.5 L598.1,710.3 L599.1,711.1 L600.1,712.1 L601.1,713.1 L602.1,714.2 L603.1,715.4 L604.1,716.7 L605.1,718.0 L606.1,719.3 L607.1,720.6 L608.1,721.7 L609.1,722.8 L610.1,723.7 L611.1,724.6 L612.1,725.3 L613.1,725.9 L614.1,726.4 L615.1,726.8 L616.1,727.0 L617.1,727.2 L618.1,727.3 L619.1,727.2 L620.1,727.0 L621.1,726.7 L622.1,726.3 L623.1,725.7 L624.1,725.0 L625.1,724.2 L626.1,723.3 L627.1,722.5 L628.1,721.7 L629.1,720.9 L630.1,720.2 L631.1,719.6 L632.1,719.0 L633.1,718.5 L634.1,718.1 L635.1,717.9 L636.1,718.0 L637.1,718.5 L638.1,719.3 L639.1,720.4 L640.1,721.9 L641.1,723.7 L642.1,725.6 L643.1,727.6 L644.1,729.7 L645.1,731.7 L646.1,733.7 L647.1,735.5 L648.1,737.3 L649.1,739.1 L650.1,740.8 L651.1,742.4 L652.1,744.0 L653.1,745.5 L654.1,746.9 L655.1,748.2 L656.1,749.3 L657.1,750.3 L658.1,751.1 L659.1,751.8 L660.1,752.5 L661.1,753.0 L662.1,753.4 L663.1,753.8 L664.1,754.1 L665.1,754.3 L666.1,754.5 L667.1,754.6 L668.1,754.7 L669.1,754.7 L670.1,754.6 L671.1,754.5 L672.1,754.3 L673.1,754.1 L674.1,753.8 L675.1,753.4 L676.1,753.0 L677.1,752.4 L678.1,751.7 L679.1,751.0 L680.1,750.1 L681.1,749.3 L682.1,748.4 L683.1,747.5 L684.1,746.6 L685.1,745.7 L686.1,744.9 L687.1,744.0 L688.1,743.2 L689.1,742.4 L690.1,741.6 L691.1,740.8 L692.1,740.0 L693.1,739.3 L694.1,738.6 L695.1,738.0 L696.1,737.6 L697.1,737.3 L698.1,737.3 L699.1,737.4 L700.1,737.6 L701.1,738.0 L702.1,738.5 L703.1,739.2 L704.1,740.0 L705.1,740.9 L706.1,742.0 L707.1,743.1 L708.1,744.4 L709.1,745.6 L710.1,746.9 L711.1,748.2 L712.1,749.5 L713.1,750.6 L714.1,751.8 L715.1,752.9 L716.1,754.0 L717.1,755.1 L718.1,756.1 L719.1,757.1 L720.1,758.1 L721.1,759.1 L722.1,760.0 L723.1,760.9 L724.1,761.7 L725.1,762.6 L726.1,763.4 L727.1,764.2 L728.1,765.0 L729.1,765.8 L730.1,766.6 L731.1,767.4 L732.1,768.2 L733.1,769.0 L734.1,769.8 L735.1,770.6 L736.1,771.4 L737.1,772.2 L738.1,773.0 L739.1,773.8 L740.1,774.6 L741.1,775.4 L742.1,776.2 L743.1,777.0 L744.1,777.8 L745.1,778.6 L746.1,779.4 L747.1,780.2 L748.1,781.0 L749.1,781.8 L750.1,782.6 L751.1,783.4 L752.1,784.2 L753.1,784.9 L754.1,785.6 L755.1,786.3 L756.1,786.9 L757.1,787.4 L758.1,787.8 L759.1,788.1 L760.1,788.5 L761.1,788.7 L762.1,789.0 L763.1,789.3 L764.1,789.5 L765.1,789.7 L766.1,789.9 L767.1,790.1 L768.1,790.3 L769.1,790.4 L770.1,790.5 L771.1,790.6 L772.1,790.7 L773.1,790.7 L774.1,790.8 L775.1,790.8 L776.1,790.9 L777.1,790.9 L778.1,791.0 L779.1,791.0 L780.1,791.1 L781.1,791.1 L782.1,791.1 L783.1,791.2 L784.1,791.2 L785.1,791.2 L786.1,791.2 L787.1,791.3 L788.1,791.3 L789.1,791.3 L790.1,791.3 L791.1,791.3 L792.1,791.4 L793.1,791.4 L794.1,791.4 L795.1,791.4 L796.1,791.4 L797.1,791.4 L798.1,791.5 L799.1,791.5 L800.1,791.5 L801.1,791.5 L802.1,791.5 L803.1,791.6 L804.1,791.6 L805.1,791.6 L806.1,791.6 L807.1,791.6 L808.1,791.6 L809.1,791.7 L810.1,791.7 L811.1,791.7 L812.1,791.7 L813.1,791.7 L814.1,791.8 L815.1,791.8 L816.1,791.8 L817.1,791.8 L818.1,791.8 L819.1,791.9 L820.1,791.9 L821.1,791.9 L822.1,791.9 L823.1,791.9 L824.1,792.0 L825.1,792.0 L826.1,792.0 L827.1,792.0 L828.1,792.1 L829.1,792.1 L830.1,792.1 L831.1,792.1 L832.1,792.1 L833.1,792.2 L834.1,792.2 L835.1,792.2 L836.1,792.2 L837.1,792.3 L838.1,792.3 L839.1,792.3 L840.1,792.3 L841.1,792.4 L842.1,792.4 L843.1,792.4 L844.1,792.4 L845.1,792.4 L846.1,792.5 L847.1,792.5 L848.1,792.5 L849.1,792.5 L850.1,792.6 L851.1,792.6 L852.1,792.6 L853.1,792.6 L854.1,792.6 L855.1,792.7 L856.1,792.7 L857.1,792.7 L858.1,792.7 L859.1,792.7 L860.1,792.7 L861.1,792.8 L862.1,792.8 L863.1,792.8 L864.1,792.8 L865.1,792.8 L866.1,792.8 L867.1,792.8 L868.1,792.8 L869.1,792.8 L870.1,792.8 L871.1,792.8 L872.1,792.9 L873.1,792.9 L874.1,792.9 L875.1,792.9 L876.1,792.9 L877.1,792.9 L878.1,792.9 L879.1,792.9 L880.1,792.9 L881.1,792.9 L882.1,792.9 L883.1,792.9 L884.1,792.9 L885.1,792.9 L886.1,792.9 L887.1,792.9 L888.1,792.9 L889.1,792.9 L890.1,792.9 L891.1,792.9 L892.1,792.9 L893.1,792.9 L894.1,792.9 L895.1,792.9 L896.1,792.9 L897.1,792.9 L898.1,792.9 L899.1,792.9 L900.1,792.9 L901.1,792.9 L902.1,792.9 L903.1,792.9 L904.1,792.9 L905.1,792.9 L906.1,792.9 L907.1,792.9 L908.1,792.9 L909.1,792.9 L910.1,792.9 L911.1,792.9 L912.1,792.9 L913.1,792.9 L914.1,792.9 L915.1,792.9 L916.1,792.9 L917.1,792.9 L918.1,792.9 L919.1,792.9 L920.1,792.9 L921.1,792.9 L922.1,792.9 L923.1,792.9 L924.1,792.9 L925.1,792.9 L926.1,792.9 L927.1,792.9 L928.1,792.9 L929.1,792.9 L930.1,792.9 L931.1,792.9 L932.1,792.9 L933.1,792.9 L934.1,792.9 L935.1,792.9 L936.1,792.9 L937.1,792.9 L938.1,792.9 L939.1,792.9 L940.1,792.9 L941.1,792.9 L942.1,792.9 L943.1,792.9 L944.1,792.9 L945.1,792.9 L946.1,792.9 L947.1,792.9 L948.1,792.9 L949.1,792.9 L950.1,792.9 L951.1,792.9 L952.1,792.9 L953.1,792.9 L954.1,792.9 L955.1,792.9 L956.1,792.9 L957.1,792.9 L958.1,792.8 L959.1,792.8 L960.1,792.7 L961.1,792.6 L962.1,792.4 L963.1,792.2 L964.1,792.0 L965.1,791.8 L966.1,791.6 L967.1,791.5 L968.1,791.4 L969.1,791.3 L970.1,791.2 L971.1,791.1 L972.1,791.0 L973.1,791.0 L974.1,791.0 L975.1,791.0 L976.1,791.0 L977.1,791.0 L978.1,791.0 L979.1,791.0 L980.1,791.0 L981.1,791.0 L982.1,791.0 L983.1,791.0 L984.1,791.1 L985.1,791.1 L986.1,791.2 L987.1,791.3 L988.1,791.4 L989.1,791.5 L990.1,791.7 L991.1,792.0 L992.1,792.2 L993.1,792.5 L994.1,792.8 L995.1,792.9 L996.1,793.1 L997.1,793.2 L998.1,793.3 L999.1,793.3 L1000.1,793.3 L1001.1,793.4 L1002.1,793.3 L1003.1,793.3 L1004.1,793.3 L1005.1,793.2 L1006.1,793.1 L1007.1,793.0 L1007.8,793.0" stroke="#0000ff"/>
<path d="M77.1,795.1 L78.1,795.1 L79.1,795.1 L80.1,795.1 L81.1,795.1 L82.1,795.1 L83.1,795.1 L84.1,795.1 L85.1,795.1 L86.1,795.1 L87.1,795.1 L88.1,795.1 L89.1,795.1 L90.1,795.1 L91.1,795.1 L92.1,795.1 L93.1,795.1 L94.1,795.1 L95.1,795.1 L96.1,795.1 L97.1,795.1 L98.1,795.1 L99.1,795.1 L100.1,795.1 L101.1,795.1 L102.1,795.1 L103.1,795.1 L104.1,795.1 L105.1,795.1 L106.1,795.1 L107.1,795.1 L108.1,795.1 L109.1,795.1 L110.1,795.1 L111.1,795.1 L112.1,795.1 L113.1,795.1 L114.1,795.1 L115.1,795.1 L116.1,795.1 L117.1,795.1 L118.1,795.1 L119.1,795.1 L120.1,795.1 L121.1,795.1 L122.1,795.1 L123.1,795.1 L124.1,795.1 L125.1,795.1 L126.1,795.1 L127.1,795.1 L128.1,795.1 L129.1,795.1 L130.1,795.1 L131.1,795.1 L132.1,795.1 L133.1,795.1 L134.1,795.1 L135.1,795.1 L136.1,795.1 L137.1,795.1 L138.1,795.1 L139.1,795.0 L140.1,795.0 L141.1,795.0 L142.1,795.0 L143.1,794.9 L144.1,794.9 L145.1,794.9 L146.1,794.9 L147.1,794.8 L148.1,794.8 L149.1,794.8 L150.1,794.7 L151.1,794.7 L152.1,794.7 L153.1,794.7 L154.1,794.6 L155.1,794.6 L156.1,794.6 L157.1,794.5 L158.1,794.5 L159.1,794.4 L160.1,794.4 L161.1,794.4 L162.1,794.3 L163.1,794.3 L164.1,794.3 L165.1,794.2 L166.1,794.2 L167.1,794.1 L168.1,794.1 L169.1,794.1 L170.1,794.0 L171.1,794.0 L172.1,794.0 L173.1,793.9 L174.1,793.9 L175.1,793.8 L176.1,793.8 L177.1,793.7 L178.1,793.7 L179.1,793.7 L180.1,793.6 L181.1,793.6 L182.1,793.5 L183.1,793.5 L184.1,793.4 L185.1,793.4 L186.1,793.3 L187.1,793.2 L188.1,793.2 L189.1,793.1 L190.1,793.1 L191.1,793.0 L192.1,793.0 L193.1,792.9 L194.1,792.8 L195.1,792.8 L196.1,792.7 L197.1,792.7 L198.1,792.6 L199.1,792.6 L200.1,792.5 L201.1,792.4 L202.1,792.4 L203.1,792.3 L204.1,792.3 L205.1,792.2 L206.1,792.2 L207.1,792.2 L208.1,792.2 L209.1,792.2 L210.1,792.2 L211.1,792.2 L212.1,792.2 L213.1,792.2 L214.1,792.3 L215.1,792.3 L216.1,792.3 L217.1,792.4 L218.1,792.4 L219.1,792.4 L220.1,792.4 L221.1,792.4 L222.1,792.4 L223.1,792.3 L224.1,792.3 L225.1,792.2 L226.1,792.1 L227.1,792.0 L228.1,791.9 L229.1,791.7 L230.1,791.5 L231.1,791.4 L232.1,791.2 L233.1,791.0 L234.1,790.8 L235.1,790.6 L236.1,790.4 L237.1,790.2 L238.1,790.0 L239.1,789.9 L240.1,789.7 L241.1,789.6 L242.1,789.4 L243.1,789.3 L244.1,789.1 L245.1,789.0 L246.1,788.8 L247.1,788.7 L248.1,788.6 L249.1,788.4 L250.1,788.3 L251.1,788.2 L252.1,788.1 L253.1,788.0 L254.1,788.0 L255.1,788.0 L256.1,788.1 L257.1,788.2 L258.1,788.2 L259.1,788.3 L260.1,788.3 L261.1,788.3 L262.1,788.3 L263.1,788.3 L264.1,788.3 L265.1,788.3 L266.1,788.2 L267.1,788.2 L268.1,788.1 L269.1,788.0 L270.1,787.9 L271.1,787.8 L272.1,787.7 L273.1,787.6 L274.1,787.5 L275.1,787.3 L276.1,787.2 L277.1,787.1 L278.1,786.9 L279.1,786.8 L280.1,786.6 L281.1,786.5 L282.1,786.3 L283.1,786.1 L284.1,786.0 L285.1,785.8 L286.1,785.6 L287.1,785.4 L288.1,785.2 L289.1,785.0 L290.1,784.8 L291.1,784.6 L292.1,784.4 L293.1,784.2 L294.1,784.0 L295.1,783.8 L296.1,783.6 L297.1,783.4 L298.1,783.2 L299.1,783.0 L300.1,782.8 L301.1,782.7 L302.1,782.5 L303.1,782.4 L304.1,782.3 L305.1,782.3 L306.1,782.2 L307.1,782.1 L308.1,782.1 L309.1,782.1 L310.1,782.0 L311.1,781.9 L312.1,781.9 L313.1,781.8 L314.1,781.7 L315.1,781.5 L316.1,781.4 L317.1,781.2 L318.1,781.0 L319.1,780.7 L320.1,780.5 L321.1,780.3 L322.1,780.0 L323.1,779.7 L324.1,779.5 L325.1,779.2 L326.1,778.9 L327.1,778.7 L328.1,778.4 L329.1,778.1 L330.1,777.8 L331.1,777.5 L332.1,777.2 L333.1,776.9 L334.1,776.6 L335.1,776.3 L336.1,776.0 L337.1,775.7 L338.1,775.4 L339.1,775.1 L340.1,774.8 L341.1,774.6 L342.1,774.3 L343.1,774.1 L344.1,773.9 L345.1,773.8 L346.1,773.6 L347.1,773.5 L348.1,773.3 L349.1,773.2 L350.1,773.2 L351.1,773.1 L352.1,773.0 L353.1,773.0 L354.1,773.0 L355.1,773.0 L356.1,773.0 L357.1,773.0 L358.1,773.1 L359.1,773.2 L360.1,773.3 L361.1,773.4 L362.1,773.5 L363.1,773.6 L364.1,773.7 L365.1,773.8 L366.1,774.0 L367.1,774.1 L368.1,774.3 L369.1,774.4 L370.1,774.6 L371.1,774.8 L372.1,775.0 L373.1,775.3 L374.1,775.5 L375.1,775.8 L376.1,776.1 L377.1,776.3 L378.1,776.6 L379.1,776.9 L380.1,777.2 L381.1,777.5 L382.1,777.7 L383.1,778.0 L384.1,778.3 L385.1,778.6 L386.1,778.9 L387.1,779.2 L388.1,779.5 L389.1,779.8 L390.1,780.1 L391.1,780.4 L392.1,780.7 L393.1,781.0 L394.1,781.3 L395.1,781.6 L396.1,781.9 L397.1,782.2 L398.1,782.5 L399.1,782.8 L400.1,783.1 L401.1,783.5 L402.1,783.8 L403.1,784.1 L404.1,784.4 L405.1,784.7 L406.1,785.0 L407.1,785.3 L408.1,785.5 L409.1,785.8 L410.1,786.1 L411.1,786.3 L412.1,786.5 L413.1,786.7 L414.1,786.9 L415.1,787.1 L416.1,787.3 L417.1,787.5 L418.1,787.7 L419.1,787.9 L420.1,788.1 L421.1,788.2 L422.1,788.4 L423.1,788.6 L424.1,788.8 L425.1,789.0 L426.1,789.2 L427.1,789.4 L428.1,789.6 L429.1,789.8 L430.1,790.0 L431.1,790.3 L432.1,790.6 L433.1,791.0 L434.1,791.6 L435.1,792.3 L436.1,792.9 L437.1,793.4 L438.1,793.7 L439.1,793.8 L440.1,793.8 L441.1,793.8 L442.1,793.8 L443.1,793.8 L444.1,793.8 L445.1,793.8 L446.1,793.8 L447.1,793.8 L448.1,793.8 L449.1,793.8 L450.1,793.8 L451.1,793.8 L452.1,793.8 L453.1,793.8 L454.1,793.8 L455.1,793.8 L456.1,793.8 L457.1,793.8 L458.1,793.8 L459.1,793.8 L460.1,793.8 L461.1,793.8 L462.1,793.8 L463.1,793.8 L464.1,793.8 L465.1,793.8 L466.1,793.8 L467.1,793.8 L468.1,793.8 L469.1,793.8 L470.1,793.8 L471.1,793.8 L472.1,793.8 L473.1,793.8 L474.1,793.8 L475.1,793.8 L476.1,793.8 L477.1,793.8 L478.1,793.8 L479.1,793.8 L480.1,793.8 L481.1,793.8 L482.1,793.8 L483.1,793.8 L484.1,793.8 L485.1,793.8 L486.1,793.8 L487.1,793.8 L488.1,793.8 L489.1,793.8 L490.1,793.8 L491.1,793.8 L492.1,793.8 L493.1,793.8 L494.1,793.8 L495.1,793.8 L496.1,793.8 L497.1,793.8 L498.1,793.8 L499.1,793.8 L500.1,793.8 L501.1,793.8 L502.1,793.8 L503.1,793.8 L504.1,793.8 L505.1,793.8 L506.1,793.8 L507.1,793.8 L508.1,793.8 L509.1,793.8 L510.1,793.8 L511.1,793.8 L512.1,793.8 L513.1,793.8 L514.1,793.8 L515.1,793.8 L516.1,793.8 L517.1,793.8 L518.1,793.8 L519.1,793.8 L520.1,793.8 L521.1,793.8 L522.1,793.8 L523.1,793.8 L524.1,793.8 L525.1,793.8 L526.1,793.8 L527.1,793.8 L528.1,793.8 L529.1,793.8 L530.1,793.8 L531.1,793.8 L532.1,793.8 L533.1,793.8 L534.1,793.8 L535.1,793.8 L536.1,793.8 L537.1,793.8 L538.1,793.8 L539.1,793.8 L540.1,793.8 L541.1,793.8 L542.1,793.8 L543.1,793.8 L544.1,793.8 L545.1,793.8 L546.1,793.8 L547.1,793.8 L548.1,793.8 L549.1,793.8 L550.1,793.8 L551.1,793.8 L552.1,793.8 L553.1,793.8 L554.1,793.8 L555.1,793.8 L556.1,793.8 L557.1,793.8 L558.1,793.8 L559.1,793.8 L560.1,793.8 L561.1,793.8 L562.1,793.8 L563.1,793.8 L564.1,793.8 L565.1,793.8 L566.1,793.8 L567.1,793.8 L568.1,793.8 L569.1,793.8 L570.1,793.8 L571.1,793.8 L572.1,793.8 L573.1,793.8 L574.1,793.8 L575.1,793.8 L576.1,793.8 L577.1,793.8 L578.1,793.8 L579.1,793.8 L580.1,793.8 L581.1,793.8 L582.1,793.8 L583.1,793.8 L584.1,793.8 L585.1,793.8 L586.1,793.8 L587.1,793.8 L588.1,793.8 L589.1,793.8 L590.1,793.8 L591.1,793.8 L592.1,793.8 L593.1,793.8 L594.1,793.8 L595.1,793.8 L596.1,793.8 L597.1,793.8 L598.1,793.8 L599.1,793.8 L600.1,793.8 L601.1,793.8 L602.1,793.8 L603.1,793.8 L604.1,793.8 L605.1,793.8 L606.1,793.8 L607.1,793.8 L608.1,793.8 L609.1,793.8 L610.1,793.8 L611.1,793.8 L612.1,793.8 L613.1,793.8 L614.1,793.8 L615.1,793.8 L616.1,793.8 L617.1,793.8 L618.1,793.8 L619.1,793.8 L620.1,793.8 L621.1,793.8 L622.1,793.8 L623.1,793.8 L624.1,793.8 L625.1,793.8 L626.1,793.8 L627.1,793.8 L628.1,793.8 L629.1,793.8 L630.1,793.8 L631.1,793.8 L632.1,793.8 L633.1,793.8 L634.1,793.8 L635.1,793.8 L636.1,793.8 L637.1,793.8 L638.1,793.8 L639.1,793.8 L640.1,793.8 L641.1,793.8 L642.1,793.8 L643.1,793.8 L644.1,793.8 L645.1,793.8 L646.1,793.8 L647.1,793.8 L648.1,793.8 L649.1,793.8 L650.1,793.8 L651.1,793.8 L652.1,793.8 L653.1,793.8 L654.1,793.8 L655.1,793.8 L656.1,793.8 L657.1,793.8 L658.1,793.8 L659.1,793.8 L660.1,793.8 L661.1,793.8 L662.1,793.8 L663.1,793.8 L664.1,793.8 L665.1,793.8 L666.1,793.8 L667.1,793.8 L668.1,793.8 L669.1,793.8 L670.1,793.8 L671.1,793.8 L672.1,793.8 L673.1,793.8 L674.1,793.8 L675.1,793.8 L676.1,793.8 L677.1,793.8 L678.1,793.8 L679.1,793.8 L680.1,793.8 L681.1,793.8 L682.1,793.8 L683.1,793.8 L684.1,793.8 L685.1,793.8 L686.1,793.8 L687.1,793.8 L688.1,793.8 L689.1,793.8 L690.1,793.8 L691.1,793.8 L692.1,793.8 L693.1,793.8 L694.1,793.8 L695.1,793.8 L696.1,793.8 L697.1,793.8 L698.1,793.8 L699.1,793.8 L700.1,793.8 L701.1,793.8 L702.1,793.8 L703.1,793.8 L704.1,793.8 L705.1,793.8 L706.1,793.8 L707.1,793.8 L708.1,793.8 L709.1,793.8 L710.1,793.8 L711.1,793.8 L712.1,793.8 L713.1,793.8 L714.1,793.8 L715.1,793.8 L716.1,793.8 L717.1,793.8 L718.1,793.8 L719.1,793.8 L720.1,793.8 L721.1,793.8 L722.1,793.8 L723.1,793.8 L724.1,793.8 L725.1,793.8 L726.1,793.8 L727.1,793.8 L728.1,793.8 L729.1,793.8 L730.1,793.8 L731.1,793.8 L732.1,793.8 L733.1,793.8 L734.1,793.8 L735.1,793.8 L736.1,793.8 L737.1,793.8 L738.1,793.8 L739.1,793.8 L740.1,793.8 L741.1,793.8 L742.1,793.8 L743.1,793.8 L744.1,793.8 L745.1,793.8 L746.1,793.8 L747.1,793.8 L748.1,793.8 L749.1,793.8 L750.1,793.8 L751.1,793.8 L752.1,793.8 L753.1,793.8 L754.1,793.8 L755.1,793.8 L756.1,793.8 L757.1,793.8 L758.1,793.8 L759.1,793.8 L760.1,793.8 L761.1,793.8 L762.1,793.8 L763.1,793.8 L764.1,793.8 L765.1,793.8 L766.1,793.8 L767.1,793.8 L768.1,793.8 L769.1,793.8 L770.1,793.8 L771.1,793.8 L772.1,793.8 L773.1,793.8 L774.1,793.8 L775.1,793.8 L776.1,793.8 L777.1,793.8 L778.1,793.8 L779.1,793.8 L780.1,793.8 L781.1,793.8 L782.1,793.8 L783.1,793.8 L784.1,793.8 L785.1,793.8 L786.1,793.8 L787.1,793.8 L788.1,793.8 L789.1,793.8 L790.1,793.8 L791.1,793.8 L792.1,793.8 L793.1,793.8 L794.1,793.8 L795.1,793.8 L796.1,793.8 L797.1,793.8 L798.1,793.8 L799.1,793.8 L800.1,793.8 L801.1,793.8 L802.1,793.8 L803.1,793.8 L804.1,793.8 L805.1,793.8 L806.1,793.8 L807.1,793.8 L808.1,793.8 L809.1,793.8 L810.1,793.8 L811.1,793.8 L812.1,793.8 L813.1,793.8 L814.1,793.8 L815.1,793.8 L816.1,793.8 L817.1,793.8 L818.1,793.8 L819.1,793.8 L820.1,793.8 L821.1,793.8 L822.1,793.8 L823.1,793.8 L824.1,793.8 L825.1,793.8 L826.1,793.8 L827.1,793.8 L828.1,793.8 L829.1,793.8 L830.1,793.8 L831.1,793.9 L832.1,793.9 L833.1,793.9 L834.1,793.9 L835.1,793.9 L836.1,793.9 L837.1,793.9 L838.1,793.9 L839.1,793.9 L840.1,793.9 L841.1,793.9 L842.1,793.9 L843.1,793.9 L844.1,793.9 L845.1,793.9 L846.1,793.9 L847.1,793.9 L848.1,793.9 L849.1,793.9 L850.1,793.9 L851.1,793.9 L852.1,793.9 L853.1,793.9 L854.1,793.9 L855.1,793.9 L856.1,793.9 L857.1,793.9 L858.1,794.0 L859.1,794.0 L860.1,794.0 L861.1,794.0 L862.1,794.0 L863.1,794.0 L864.1,794.0 L865.1,794.0 L866.1,794.0 L867.1,794.0 L868.1,794.0 L869.1,794.0 L870.1,794.0 L871.1,794.0 L872.1,794.0 L873.1,794.0 L874.1,794.0 L875.1,794.0 L876.1,794.0 L877.1,794.1 L878.1,794.1 L879.1,794.1 L880.1,794.1 L881.1,794.1 L882.1,794.1 L883.1,794.1 L884.1,794.1 L885.1,794.1 L886.1,794.1 L887.1,794.1 L888.1,794.1 L889.1,794.1 L890.1,794.1 L891.1,794.1 L892.1,794.1 L893.1,794.1 L894.1,794.2 L895.1,794.2 L896.1,794.2 L897.1,794.2 L898.1,794.2 L899.1,794.2 L900.1,794.2 L901.1,794.2 L902.1,794.2 L903.1,794.2 L904.1,794.2 L905.1,794.2 L906.1,794.2 L907.1,794.2 L908.1,794.3 L909.1,794.3 L910.1,794.3 L911.1,794.3 L912.1,794.3 L913.1,794.3 L914.1,794.3 L915.1,794.3 L916.1,794.3 L917.1,794.3 L918.1,794.3 L919.1,794.3 L920.1,794.3 L921.1,794.3 L922.1,794.4 L923.1,794.4 L924.1,794.4 L925.1,794.4 L926.1,794.4 L927.1,794.4 L928.1,794.4 L929.1,794.4 L930.1,794.4 L931.1,794.4 L932.1,794.4 L933.1,794.4 L934.1,794.4 L935.1,794.5 L936.1,794.5 L937.1,794.5 L938.1,794.5 L939.1,794.5 L940.1,794.5 L941.1,794.5 L942.1,794.5 L943.1,794.5 L944.1,794.5 L945.1,794.5 L946.1,794.5 L947.1,794.6 L948.1,794.6 L949.1,794.6 L950.1,794.6 L951.1,794.6 L952.1,794.6 L953.1,794.6 L954.1,794.6 L955.1,794.6 L956.1,794.6 L957.1,794.6 L958.1,794.6 L959.1,794.7 L960.1,794.7 L961.1,794.7 L962.1,794.7 L963.1,794.7 L964.1,794.7 L965.1,794.7 L966.1,794.7 L967.1,794.7 L968.1,794.7 L969.1,794.7 L970.1,794.8 L971.1,794.8 L972.1,794.8 L973.1,794.8 L974.1,794.8 L975.1,794.8 L976.1,794.8 L977.1,794.8 L978.1,794.8 L979.1,794.8 L980.1,794.8 L981.1,794.9 L982.1,794.9 L983.1,794.9 L984.1,794.9 L985.1,794.9 L986.1,794.9 L987.1,794.9 L988.1,794.9 L989.1,794.9 L990.1,794.9 L991.1,794.9 L992.1,795.0 L993.1,795.0 L994.1,795.0 L995.1,795.0 L996.1,795.0 L997.1,795.0 L998.1,795.0 L999.1,795.0 L1000.1,795.0 L1001.1,795.0 L1002.1,795.0 L1003.1,795.1 L1004.1,795.1 L1005.1,795.1 L1006.1,795.1 L1007.1,795.1 L1007.8,795.1" stroke="#ff00ff"/>
<path d="M77.1,795.1 L78.1,795.1 L79.1,795.1 L80.1,795.1 L81.1,795.1 L82.1,795.1 L83.1,795.1 L84.1,795.1 L85.1,795.1 L86.1,795.1 L87.1,795.1 L88.1,795.1 L89.1,795.1 L90.1,795.1 L91.1,795.1 L92.1,795.1 L93.1,795.1 L94.1,795.1 L95.1,795.1 L96.1,795.1 L97.1,795.1 L98.1,795.1 L99.1,795.1 L100.1,795.1 L101.1,795.1 L102.1,795.1 L103.1,795.1 L104.1,795.1 L105.1,795.1 L106.1,795.1 L107.1,795.1 L108.1,795.1 L109.1,795.1 L110.1,795.1 L111.1,795.1 L112.1,795.1 L113.1,795.1 L114.1,795.1 L115.1,795.1 L116.1,795.1 L117.1,795.1 L118.1,795.1 L119.1,795.1 L120.1,795.1 L121.1,795.1 L122.1,795.1 L123.1,795.1 L124.1,795.0 L125.1,794.9 L126.1,794.9 L127.1,794.8 L128.1,794.7 L129.1,794.7 L130.1,794.6 L131.1,794.5 L132.1,794.4 L133.1,794.4 L134.1,794.3 L135.1,794.2 L136.1,794.2 L137.1,794.1 L138.1,794.0 L139.1,793.9 L140.1,793.9 L141.1,793.8 L142.1,793.7 L143.1,793.6 L144.1,793.6 L145.1,793.5 L146.1,793.4 L147.1,793.3 L148.1,793.3 L149.1,793.2 L150.1,793.1 L151.1,793.0 L152.1,792.9 L153.1,792.9 L154.1,792.8 L155.1,792.7 L156.1,792.6 L157.1,792.5 L158.1,792.4 L159.1,792.4 L160.1,792.3 L161.1,792.2 L162.1,792.1 L163.1,792.0 L164.1,792.0 L165.1,791.9 L166.1,791.8 L167.1,791.7 L168.1,791.6 L169.1,791.5 L170.1,791.5 L171.1,791.4 L172.1,791.3 L173.1,791.2 L174.1,791.1 L175.1,791.0 L176.1,790.9 L177.1,790.9 L178.1,790.8 L179.1,790.7 L180.1,790.6 L181.1,790.5 L182.1,790.4 L183.1,790.4 L184.1,790.3 L185.1,790.2 L186.1,790.1 L187.1,790.0 L188.1,789.9 L189.1,789.8 L190.1,789.7 L191.1,789.7 L192.1,789.6 L193.1,789.5 L194.1,789.4 L195.1,789.3 L196.1,789.2 L197.1,789.1 L198.1,789.0 L199.1,788.8 L200.1,788.7 L201.1,788.6 L202.1,788.4 L203.1,788.3 L204.1,788.2 L205.1,788.1 L206.1,788.0 L207.1,787.9 L208.1,787.9 L209.1,787.9 L210.1,788.0 L211.1,788.1 L212.1,788.3 L213.1,788.4 L214.1,788.6 L215.1,788.8 L216.1,789.0 L217.1,789.2 L218.1,789.4 L219.1,789.6 L220.1,789.8 L221.1,790.0 L222.1,790.3 L223.1,790.5 L224.1,790.7 L225.1,790.9 L226.1,791.0 L227.1,791.2 L228.1,791.3 L229.1,791.4 L230.1,791.5 L231.1,791.6 L232.1,791.7 L233.1,791.7 L234.1,791.8 L235.1,791.9 L236.1,791.9 L237.1,792.0 L238.1,792.0 L239.1,792.1 L240.1,792.2 L241.1,792.2 L242.1,792.3 L243.1,792.3 L244.1,792.3 L245.1,792.4 L246.1,792.4 L247.1,792.4 L248.1,792.4 L249.1,792.4 L250.1,792.4 L251.1,792.5 L252.1,792.5 L253.1,792.5 L254.1,792.6 L255.1,792.8 L256.1,792.9 L257.1,793.1 L258.1,793.2 L259.1,793.3 L260.1,793.3 L261.1,793.3 L262.1,793.4 L263.1,793.4 L264.1,793.4 L265.1,793.4 L266.1,793.5 L267.1,793.5 L268.1,793.5 L269.1,793.6 L270.1,793.6 L271.1,793.6 L272.1,793.6 L273.1,793.7 L274.1,793.7 L275.1,793.7 L276.1,793.7 L277.1,793.7 L278.1,793.8 L279.1,793.8 L280.1,793.8 L281.1,793.8 L282.1,793.8 L283.1,793.8 L284.1,793.8 L285.1,793.8 L286.1,793.8 L287.1,793.8 L288.1,793.8 L289.1,793.8 L290.1,793.8 L291.1,793.8 L292.1,793.8 L293.1,793.8 L294.1,793.8 L295.1,793.8 L296.1,793.8 L297.1,793.8 L298.1,793.8 L299.1,793.8 L300.1,793.8 L301.1,793.8 L302.1,793.8 L303.1,793.8 L304.1,793.8 L305.1,793.8 L306.1,793.8 L307.1,793.8 L308.1,793.8 L309.1,793.8 L310.1,793.8 L311.1,793.8 L312.1,793.8 L313.1,793.8 L314.1,793.8 L315.1,793.8 L316.1,793.8 L317.1,793.8 L318.1,793.8 L319.1,793.8 L320.1,793.8 L321.1,793.8 L322.1,793.8 L323.1,793.8 L324.1,793.8 L325.1,793.8 L326.1,793.8 L327.1,793.8 L328.1,793.8 L329.1,793.8 L330.1,793.8 L331.1,793.8 L332.1,793.8 L333.1,793.8 L334.1,793.8 L335.1,793.8 L336.1,793.8 L337.1,793.8 L338.1,793.8 L339.1,793.8 L340.1,793.8 L341.1,793.8 L342.1,793.8 L343.1,793.8 L344.1,793.8 L345.1,793.8 L346.1,793.8 L347.1,793.8 L348.1,793.8 L349.1,793.8 L350.1,793.8 L351.1,793.8 L352.1,793.8 L353.1,793.7 L354.1,793.7 L355.1,793.7 L356.1,793.7 L357.1,793.7 L358.1,793.6 L359.1,793.6 L360.1,793.6 L361.1,793.6 L362.1,793.6 L363.1,793.5 L364.1,793.5 L365.1,793.5 L366.1,793.5 L367.1,793.4 L368.1,793.4 L369.1,793.4 L370.1,793.4 L371.1,793.3 L372.1,793.3 L373.1,793.3 L374.1,793.2 L375.1,793.2 L376.1,793.2 L377.1,793.2 L378.1,793.1 L379.1,793.1 L380.1,793.1 L381.1,793.0 L382.1,793.0 L383.1,793.0 L384.1,792.9 L385.1,792.9 L386.1,792.9 L387.1,792.8 L388.1,792.8 L389.1,792.8 L390.1,792.7 L391.1,792.7 L392.1,792.7 L393.1,792.6 L394.1,792.6 L395.1,792.6 L396.1,792.5 L397.1,792.5 L398.1,792.4 L399.1,792.4 L400.1,792.4 L401.1,792.3 L402.1,792.3 L403.1,792.3 L404.1,792.3 L405.1,792.2 L406.1,792.2 L407.1,792.2 L408.1,792.2 L409.1,792.2 L410.1,792.2 L411.1,792.2 L412.1,792.2 L413.1,792.2 L414.1,792.3 L415.1,792.3 L416.1,792.3 L417.1,792.4 L418.1,792.4 L419.1,792.4 L420.1,792.5 L421.1,792.5 L422.1,792.5 L423.1,792.5 L424.1,792.6 L425.1,792.6 L426.1,792.6 L427.1,792.6 L428.1,792.6 L429.1,792.5 L430.1,792.3 L431.1,792.0 L432.1,791.6 L433.1,790.9 L434.1,790.1 L435.1,789.2 L436.1,788.3 L437.1,787.4 L438.1,786.7 L439.1,786.0 L440.1,785.4 L441.1,784.9 L442.1,784.4 L443.1,784.0 L444.1,783.6 L445.1,783.3 L446.1,783.0 L447.1,782.7 L448.1,782.5 L449.1,782.3 L450.1,782.1 L451.1,782.0 L452.1,782.0 L453.1,782.0 L454.1,782.1 L455.1,782.2 L456.1,782.3 L457.1,782.5 L458.1,782.7 L459.1,782.9 L460.1,783.2 L461.1,783.4 L462.1,783.7 L463.1,784.0 L464.1,784.3 L465.1,784.6 L466.1,784.9 L467.1,785.2 L468.1,785.5 L469.1,785.8 L470.1,786.1 L471.1,786.5 L472.1,786.8 L473.1,787.1 L474.1,787.5 L475.1,787.9 L476.1,788.2 L477.1,788.6 L478.1,789.0 L479.1,789.3 L480.1,789.7 L481.1,790.0 L482.1,790.3 L483.1,790.5 L484.1,790.7 L485.1,790.8 L486.1,790.8 L487.1,790.8 L488.1,790.6 L489.1,790.3 L490.1,790.0 L491.1,789.6 L492.1,789.2 L493.1,788.7 L494.1,788.3 L495.1,787.8 L496.1,787.4 L497.1,787.0 L498.1,786.6 L499.1,786.3 L500.1,785.9 L501.1,785.6 L502.1,785.3 L503.1,785.0 L504.1,784.8 L505.1,784.7 L506.1,784.7 L507.1,784.7 L508.1,784.9 L509.1,785.1 L510.1,785.3 L511.1,785.6 L512.1,785.9 L513.1,786.2 L514.1,786.6 L515.1,786.9 L516.1,787.2 L517.1,787.5 L518.1,787.8 L519.1,788.1 L520.1,788.4 L521.1,788.7 L522.1,789.0 L523.1,789.2 L524.1,789.4 L525.1,789.6 L526.1,789.8 L527.1,789.9 L528.1,789.9 L529.1,789.9 L530.1,789.8 L531.1,789.7 L532.1,789.6 L533.1,789.4 L534.1,789.2 L535.1,788.9 L536.1,788.7 L537.1,788.4 L538.1,788.1 L539.1,787.8 L540.1,787.5 L541.1,787.2 L542.1,787.0 L543.1,786.8 L544.1,786.7 L545.1,786.6 L546.1,786.5 L547.1,786.5 L548.1,786.4 L549.1,786.4 L550.1,786.4 L551.1,786.3 L552.1,786.3 L553.1,786.3 L554.1,786.3 L555.1,786.3 L556.1,786.3 L557.1,786.3 L558.1,786.3 L559.1,786.3 L560.1,786.3 L561.1,786.3 L562.1,786.3 L563.1,786.3 L564.1,786.3 L565.1,786.3 L566.1,786.3 L567.1,786.3 L568.1,786.3 L569.1,786.3 L570.1,786.3 L571.1,786.3 L572.1,786.3 L573.1,786.3 L574.1,786.3 L575.1,786.3 L576.1,786.3 L577.1,786.3 L578.1,786.3 L579.1,786.3 L580.1,786.3 L581.1,786.3 L582.1,786.3 L583.1,786.3 L584.1,786.3 L585.1,786.3 L586.1,786.3 L587.1,786.3 L588.1,786.3 L589.1,786.3 L590.1,786.3 L591.1,786.3 L592.1,786.3 L593.1,786.3 L594.1,786.3 L595.1,786.3 L596.1,786.3 L597.1,786.3 L598.1,786.4 L599.1,786.4 L600.1,786.5 L601.1,786.5 L602.1,786.6 L603.1,786.7 L604.1,786.8 L605.1,786.9 L606.1,787.0 L607.1,787.1 L608.1,787.2 L609.1,787.4 L610.1,787.6 L611.1,787.9 L612.1,788.3 L613.1,788.8 L614.1,789.1 L615.1,789.4 L616.1,789.6 L617.1,789.7 L618.1,789.7 L619.1,789.6 L620.1,789.5 L621.1,789.4 L622.1,789.2 L623.1,789.1 L624.1,789.0 L625.1,788.9 L626.1,788.8 L627.1,788.6 L628.1,788.5 L629.1,788.4 L630.1,788.3 L631.1,788.1 L632.1,788.0 L633.1,787.9 L634.1,787.8 L635.1,787.7 L636.1,787.6 L637.1,787.6 L638.1,787.6 L639.1,787.7 L640.1,787.8 L641.1,788.0 L642.1,788.2 L643.1,788.4 L644.1,788.6 L645.1,788.9 L646.1,789.2 L647.1,789.5 L648.1,789.9 L649.1,790.2 L650.1,790.5 L651.1,790.8 L652.1,791.1 L653.1,791.3 L654.1,791.6 L655.1,791.8 L656.1,792.0 L657.1,792.2 L658.1,792.4 L659.1,792.6 L660.1,792.8 L661.1,792.9 L662.1,793.0 L663.1,793.1 L664.1,793.2 L665.1,793.2 L666.1,793.2 L667.1,793.2 L668.1,793.2 L669.1,793.2 L670.1,793.2 L671.1,793.2 L672.1,793.2 L673.1,793.2 L674.1,793.2 L675.1,793.2 L676.1,793.2 L677.1,793.2 L678.1,793.2 L679.1,793.2 L680.1,793.2 L681.1,793.2 L682.1,793.2 L683.1,793.2 L684.1,793.2 L685.1,793.2 L686.1,793.2 L687.1,793.2 L688.1,793.2 L689.1,793.2 L690.1,793.2 L691.1,793.2 L692.1,793.2 L693.1,793.2 L694.1,793.2 L695.1,793.2 L696.1,793.2 L697.1,793.2 L698.1,793.2 L699.1,793.2 L700.1,793.2 L701.1,793.2 L702.1,793.2 L703.1,793.2 L704.1,793.2 L705.1,793.2 L706.1,793.2 L707.1,793.2 L708.1,793.2 L709.1,793.2 L710.1,793.2 L711.1,793.2 L712.1,793.2 L713.1,793.2 L714.1,793.2 L715.1,793.2 L716.1,793.2 L717.1,793.2 L718.1,793.2 L719.1,793.2 L720.1,793.2 L721.1,793.2 L722.1,793.2 L723.1,793.2 L724.1,793.2 L725.1,793.2 L726.1,793.2 L727.1,793.2 L728.1,793.2 L729.1,793.2 L730.1,793.2 L731.1,793.2 L732.1,793.2 L733.1,793.2 L734.1,793.2 L735.1,793.2 L736.1,793.2 L737.1,793.2 L738.1,793.2 L739.1,793.2 L740.1,793.2 L741.1,793.2 L742.1,793.2 L743.1,793.2 L744.1,793.2 L745.1,793.2 L746.1,793.2 L747.1,793.2 L748.1,793.2 L749.1,793.2 L750.1,793.2 L751.1,793.2 L752.1,793.2 L753.1,793.2 L754.1,793.2 L755.1,793.2 L756.1,793.2 L757.1,793.2 L758.1,793.2 L759.1,793.2 L760.1,793.2 L761.1,793.2 L762.1,793.2 L763.1,793.2 L764.1,793.2 L765.1,793.2 L766.1,793.2 L767.1,793.2 L768.1,793.2 L769.1,793.2 L770.1,793.2 L771.1,793.2 L772.1,793.2 L773.1,793.2 L774.1,793.2 L775.1,793.2 L776.1,793.2 L777.1,793.2 L778.1,793.2 L779.1,793.2 L780.1,793.2 L781.1,793.2 L782.1,793.2 L783.1,793.2 L784.1,793.2 L785.1,793.2 L786.1,793.2 L787.1,793.2 L788.1,793.2 L789.1,793.2 L790.1,793.2 L791.1,793.2 L792.1,793.2 L793.1,793.2 L794.1,793.2 L795.1,793.2 L796.1,793.2 L797.1,793.2 L798.1,793.2 L799.1,793.2 L800.1,793.2 L801.1,793.2 L802.1,793.2 L803.1,793.2 L804.1,793.2 L805.1,793.2 L806.1,793.2 L807.1,793.2 L808.1,793.2 L809.1,793.2 L810.1,793.2 L811.1,793.2 L812.1,793.2 L813.1,793.2 L814.1,793.2 L815.1,793.2 L816.1,793.2 L817.1,793.2 L818.1,793.2 L819.1,793.2 L820.1,793.2 L821.1,793.2 L822.1,793.2 L823.1,793.2 L824.1,793.2 L825.1,793.2 L826.1,793.2 L827.1,793.2 L828.1,793.2 L829.1,793.2 L830.1,793.2 L831.1,793.2 L832.1,793.2 L833.1,793.2 L834.1,793.2 L835.1,793.2 L836.1,793.2 L837.1,793.2 L838.1,793.2 L839.1,793.2 L840.1,793.2 L841.1,793.2 L842.1,793.2 L843.1,793.2 L844.1,793.2 L845.1,793.2 L846.1,793.2 L847.1,793.2 L848.1,793.2 L849.1,793.2 L850.1,793.2 L851.1,793.2 L852.1,793.2 L853.1,793.2 L854.1,793.2 L855.1,793.2 L856.1,793.2 L857.1,793.2 L858.1,793.2 L859.1,793.2 L860.1,793.2 L861.1,793.2 L862.1,793.2 L863.1,793.2 L864.1,793.2 L865.1,793.2 L866.1,793.2 L867.1,793.2 L868.1,793.2 L869.1,793.2 L870.1,793.2 L871.1,793.2 L872.1,793.2 L873.1,793.2 L874.1,793.2 L875.1,793.2 L876.1,793.2 L877.1,793.2 L878.1,793.2 L879.1,793.2 L880.1,793.2 L881.1,793.2 L882.1,793.2 L883.1,793.2 L884.1,793.2 L885.1,793.2 L886.1,793.2 L887.1,793.2 L888.1,793.2 L889.1,793.2 L890.1,793.2 L891.1,793.2 L892.1,793.2 L893.1,793.2 L894.1,793.2 L895.1,793.2 L896.1,793.2 L897.1,793.2 L898.1,793.2 L899.1,793.2 L900.1,793.2 L901.1,793.2 L902.1,793.2 L903.1,793.2 L904.1,793.2 L905.1,793.2 L906.1,793.2 L907.1,793.2 L908.1,793.2 L909.1,793.2 L910.1,793.2 L911.1,793.2 L912.1,793.2 L913.1,793.2 L914.1,793.2 L915.1,793.2 L916.1,793.2 L917.1,793.2 L918.1,793.2 L919.1,793.2 L920.1,793.2 L921.1,793.2 L922.1,793.2 L923.1,793.2 L924.1,793.2 L925.1,793.2 L926.1,793.2 L927.1,793.2 L928.1,793.3 L929.1,793.3 L930.1,793.3 L931.1,793.3 L932.1,793.3 L933.1,793.3 L934.1,793.3 L935.1,793.3 L936.1,793.3 L937.1,793.3 L938.1,793.3 L939.1,793.3 L940.1,793.3 L941.1,793.3 L942.1,793.3 L943.1,793.3 L944.1,793.3 L945.1,793.3 L946.1,793.3 L947.1,793.3 L948.1,793.3 L949.1,793.3 L950.1,793.3 L951.1,793.3 L952.1,793.3 L953.1,793.3 L954.1,793.3 L955.1,793.3 L956.1,793.3 L957.1,793.3 L958.1,793.3 L959.1,793.3 L960.1,793.3 L961.1,793.3 L962.1,793.3 L963.1,793.3 L964.1,793.3 L965.1,793.3 L966.1,793.3 L967.1,793.3 L968.1,793.3 L969.1,793.3 L970.1,793.3 L971.1,793.3 L972.1,793.3 L973.1,793.3 L974.1,793.3 L975.1,793.3 L976.1,793.3 L977.1,793.3 L978.1,793.3 L979.1,793.3 L980.1,793.3 L981.1,793.3 L982.1,793.3 L983.1,793.3 L984.1,793.3 L985.1,793.3 L986.1,793.3 L987.1,793.3 L988.1,793.3 L989.1,793.3 L990.1,793.3 L991.1,793.3 L992.1,793.3 L993.1,793.3 L994.1,793.3 L995.1,793.3 L996.1,793.3 L997.1,793.3 L998.1,793.3 L999.1,793.3 L1000.1,793.3 L1001.1,793.3 L1002.1,793.3 L1003.1,793.3 L1004.1,793.3 L1005.1,793.3 L1006.1,793.3 L1007.1,793.3 L1007.8,793.3" stroke="#00ff00"/>
</g>
<rect x="77.1" y="4.2" width="930.6999999999999" height="790.0999999999999" rx="2" fill="none" stroke="#000" stroke-opacity="0.5" stroke-width="1.7"/>
<line x1="77.85" y1="162.5" x2="1007.05" y2="162.5" stroke="#000" stroke-opacity="0.6" stroke-width="1.7"/>
<line x1="77.85" y1="320.0" x2="1007.05" y2="320.0" stroke="#000" stroke-opacity="0.6" stroke-width="1.7"/>
<line x1="77.85" y1="478.3" x2="1007.05" y2="478.3" stroke="#000" stroke-opacity="0.6" stroke-width="1.7"/>
<line x1="77.85" y1="636.0" x2="1007.05" y2="636.0" stroke="#000" stroke-opacity="0.6" stroke-width="1.7"/>
<line x1="505.1" y1="5.6" x2="505.1" y2="794.3" stroke="#000" stroke-width="2.6" stroke-dasharray="5 6.065"/>
<text transform="translate(83.3,25.9) scale(1,1.03)" font-size="19.3" font-family="Liberation Serif, Times New Roman, serif" fill="#000">Bulk</text>
<text transform="translate(80.4,185.1) scale(1,0.92)" font-size="19.2" font-family="Liberation Serif, Times New Roman, serif" fill="#000">(210) surface</text>
<text transform="translate(83.0,341.9) scale(1,1.0)" font-size="18.9" font-family="Liberation Serif, Times New Roman, serif" fill="#000">Ag-doped</text>
<text transform="translate(80.4,500.5) scale(1,0.94)" font-size="19.1" font-family="Liberation Serif, Times New Roman, serif" fill="#000">Mo-doped</text>
<text transform="translate(82.8,659.7) scale(1,0.96)" font-size="19.0" font-family="Liberation Serif, Times New Roman, serif" fill="#000">Ag-Mo-doped</text>
<rect x="883.5" y="6.9" width="120.5" height="82.3" rx="1.5" fill="#ffffff" stroke="#7f7f7f" stroke-width="1.3"/>
<line x1="894.2" y1="23.6" x2="935.0" y2="23.6" stroke="#000000" stroke-width="2.7"/>
<text transform="translate(951.6,29.5) scale(1.04,1)" font-size="18.8" font-family="Liberation Serif, Times New Roman, serif" fill="#000">Total</text>
<line x1="894.2" y1="48.0" x2="935.0" y2="48.0" stroke="#ff0000" stroke-width="2.7"/>
<text transform="translate(951.6,52.8) scale(1.04,1)" font-size="18.8" font-family="Liberation Serif, Times New Roman, serif" fill="#000">O-2p</text>
<line x1="894.2" y1="72.5" x2="935.0" y2="72.5" stroke="#0000ff" stroke-width="2.7"/>
<text transform="translate(951.6,79.6) scale(1.04,1)" font-size="18.8" font-family="Liberation Serif, Times New Roman, serif" fill="#000">Ti-3d</text>
<rect x="881.9" y="166.9" width="121.4" height="83.0" rx="1.5" fill="#ffffff" stroke="#7f7f7f" stroke-width="1.3"/>
<line x1="892.8" y1="183.6" x2="933.3" y2="183.6" stroke="#000000" stroke-width="2.7"/>
<text transform="translate(949.5,189.5) scale(1.04,1)" font-size="18.8" font-family="Liberation Serif, Times New Roman, serif" fill="#000">Total</text>
<line x1="892.8" y1="208.0" x2="933.3" y2="208.0" stroke="#ff0000" stroke-width="2.7"/>
<text transform="translate(949.5,213.3) scale(1.04,1)" font-size="18.8" font-family="Liberation Serif, Times New Roman, serif" fill="#000">O-2p</text>
<line x1="892.8" y1="233.8" x2="933.3" y2="233.8" stroke="#0000ff" stroke-width="2.7"/>
<text transform="translate(949.5,239.6) scale(1.04,1)" font-size="18.8" font-family="Liberation Serif, Times New Roman, serif" fill="#000">Ti-3d</text>
<rect x="884.9" y="325.5" width="118.4" height="97.5" rx="1.5" fill="#ffffff" stroke="#7f7f7f" stroke-width="1.3"/>
<line x1="895.9" y1="340.6" x2="936.1" y2="340.6" stroke="#000000" stroke-width="2.7"/>
<text transform="translate(952.7,346.1) scale(1.05,1)" font-size="15.6" font-family="Liberation Serif, Times New Roman, serif" fill="#000">Total</text>
<line x1="895.9" y1="362.6" x2="936.1" y2="362.6" stroke="#ff0000" stroke-width="2.7"/>
<text transform="translate(952.7,366.7) scale(1.05,1)" font-size="15.6" font-family="Liberation Serif, Times New Roman, serif" fill="#000">O-2p</text>
<line x1="895.9" y1="384.8" x2="936.1" y2="384.8" stroke="#0000ff" stroke-width="2.7"/>
<text transform="translate(952.7,389.4) scale(1.05,1)" font-size="15.6" font-family="Liberation Serif, Times New Roman, serif" fill="#000">Ti-3d</text>
<line x1="895.9" y1="406.9" x2="936.1" y2="406.9" stroke="#ff00ff" stroke-width="2.7"/>
<text transform="translate(952.7,410.6) scale(1.05,1)" font-size="15.6" font-family="Liberation Serif, Times New Roman, serif" fill="#000">Ag-4d</text>
<rect x="881.2" y="481.2" width="123.1" height="97.0" rx="1.5" fill="#ffffff" stroke="#7f7f7f" stroke-width="1.3"/>
<line x1="892.8" y1="496.3" x2="932.0" y2="496.3" stroke="#000000" stroke-width="2.7"/>
<text transform="translate(949.5,503.1) scale(1.03,1)" font-size="16.5" font-family="Liberation Serif, Times New Roman, serif" fill="#000">Total</text>
<line x1="892.8" y1="519.6" x2="932.0" y2="519.6" stroke="#ff0000" stroke-width="2.7"/>
<text transform="translate(949.5,523.7) scale(1.03,1)" font-size="16.5" font-family="Liberation Serif, Times New Roman, serif" fill="#000">O-2p</text>
<line x1="892.8" y1="542.9" x2="932.0" y2="542.9" stroke="#0000ff" stroke-width="2.7"/>
<text transform="translate(949.5,547.7) scale(1.03,1)" font-size="16.5" font-family="Liberation Serif, Times New Roman, serif" fill="#000">Ti-3d</text>
<line x1="892.8" y1="563.9" x2="932.0" y2="563.9" stroke="#00ff00" stroke-width="2.7"/>
<text transform="translate(949.5,569.7) scale(1.03,1)" font-size="16.5" font-family="Liberation Serif, Times New Roman, serif" fill="#000">Mo-4d</text>
<rect x="881.4" y="639.6" width="121.5" height="117.7" rx="1.5" fill="#ffffff" stroke="#7f7f7f" stroke-width="1.3"/>
<line x1="892.9" y1="653.6" x2="931.8" y2="653.6" stroke="#000000" stroke-width="2.7"/>
<text transform="translate(949.7,658.9) scale(1.08,1)" font-size="15.3" font-family="Liberation Serif, Times New Roman, serif" fill="#000">Total</text>
<line x1="892.9" y1="675.9" x2="931.8" y2="675.9" stroke="#ff0000" stroke-width="2.7"/>
<text transform="translate(949.7,679.2) scale(1.08,1)" font-size="15.3" font-family="Liberation Serif, Times New Roman, serif" fill="#000">O-2p</text>
<line x1="892.9" y1="698.1" x2="931.8" y2="698.1" stroke="#0000ff" stroke-width="2.7"/>
<text transform="translate(949.7,703.1) scale(1.08,1)" font-size="15.3" font-family="Liberation Serif, Times New Roman, serif" fill="#000">Ti-3d</text>
<line x1="892.9" y1="720.1" x2="931.8" y2="720.1" stroke="#ff00ff" stroke-width="2.7"/>
<text transform="translate(949.7,724.3) scale(1.08,1)" font-size="15.3" font-family="Liberation Serif, Times New Roman, serif" fill="#000">Ag-4d</text>
<line x1="892.9" y1="742.8" x2="931.8" y2="742.8" stroke="#00ff00" stroke-width="2.7"/>
<text transform="translate(949.7,747.8) scale(1.08,1)" font-size="15.3" font-family="Liberation Serif, Times New Roman, serif" fill="#000">Mo-4d</text>
</svg>
</body></html>
